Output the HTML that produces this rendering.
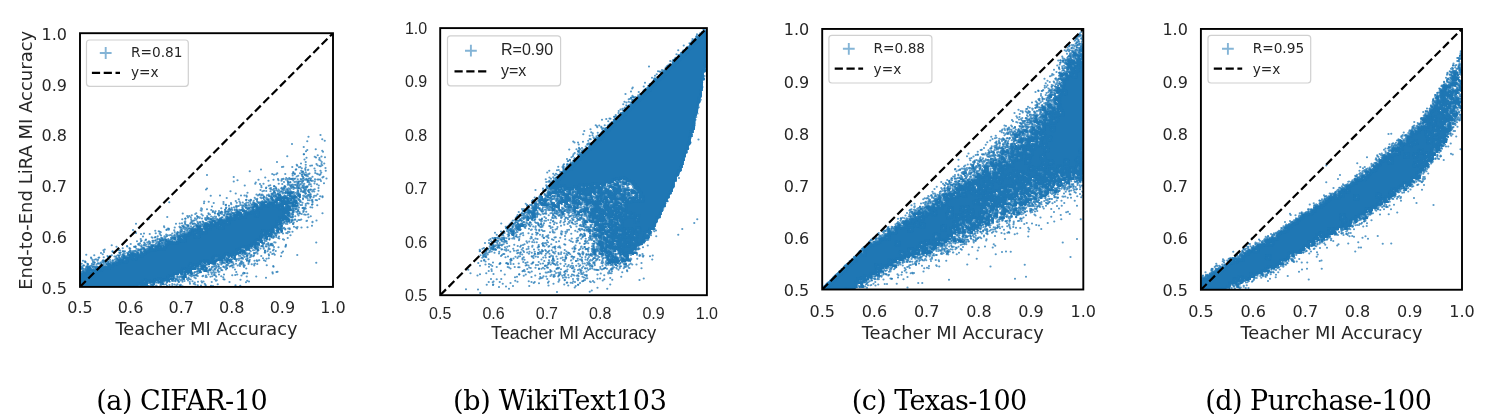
<!DOCTYPE html>
<html><head><meta charset="utf-8"><title>Teacher vs End-to-End MI Accuracy</title>
<style>html,body{margin:0;padding:0;background:#fff;width:1502px;height:414px;overflow:hidden}svg{display:block}</style>
</head><body>
<svg width="1502" height="414" viewBox="0 0 1502 414">
<rect width="1502" height="414" fill="#fff"/>
<clipPath id="clipa"><rect x="80" y="33.2" width="253" height="253.7"/></clipPath>
<g clip-path="url(#clipa)"><path d="M226.1 260.1L226.1 262.9L227.9 262.9L228.1 260.9L229.1 261.9L231.9 261.9L231.9 260.1L230.1 260.1L229.9 259.1L227.1 259.1ZM163.9 239.1L160.1 240.1L160.1 241.9L163.9 240.9ZM174.1 237.1L173.1 239.9L175.9 239.9L175.9 237.1ZM298.1 194.1L299.1 197.9L300.9 197.9L300.9 194.1ZM296.9 196.1L293.1 196.1L292.1 197.1L290.9 194.1L292.9 193.9L292.9 192.1L287.1 192.1L287.1 193.9L289.1 194.1L289.1 196.9L291.1 197.1L291.1 198.9L289.1 201.1L288.9 198.1L287.9 197.1L282.1 197.1L280.9 195.9L280.9 194.1L278.1 194.1L278.1 195.9L279.9 195.9L280.1 196.9L277.1 197.1L275.9 201.1L274.1 201.1L272.9 197.1L271.1 197.1L272.1 200.9L273.9 200.9L273.9 202.1L269.1 202.1L268.9 203.1L267.1 203.1L266.9 201.1L262.1 202.1L261.1 203.1L260.9 207.1L258.1 207.1L257.9 204.1L254.1 204.1L253.1 206.9L252.1 207.1L252.1 210.9L250.1 211.1L249.9 212.1L245.1 212.1L244.9 210.1L242.1 210.1L242.1 211.9L245.1 212.1L243.9 216.1L242.9 215.9L242.9 214.1L240.9 212.1L237.1 211.1L237.1 212.9L235.9 214.1L234.1 214.1L234.1 216.9L232.9 218.1L231.9 217.9L231.9 214.1L230.1 214.1L230.1 217.9L227.1 217.1L225.9 220.1L220.1 219.1L219.9 220.1L218.1 220.1L217.9 222.1L216.1 222.1L214.9 220.1L212.1 220.1L212.1 221.9L210.1 222.1L209.9 225.1L207.9 223.1L204.1 224.1L203.1 226.9L204.1 227.1L204.9 232.1L202.9 230.9L202.9 229.1L200.9 228.9L201.9 226.1L198.1 226.1L197.9 225.1L196.1 225.1L196.1 226.9L197.1 227.1L196.9 229.1L191.1 229.1L191.1 230.9L189.9 232.1L188.1 232.1L187.9 234.1L184.1 234.1L183.9 235.1L178.1 236.1L178.1 240.9L176.1 241.1L175.9 242.1L173.1 242.1L172.9 241.1L167.1 241.1L166.9 239.1L165.1 239.1L165.1 241.9L166.9 241.9L167.1 242.9L165.1 244.1L164.9 246.1L163.1 246.1L162.9 248.1L161.9 247.9L161.9 246.1L159.9 245.9L160.9 243.1L159.1 243.1L156.9 246.1L155.1 246.1L154.9 249.1L152.9 248.9L153.9 245.1L152.1 245.1L150.9 247.1L149.1 247.1L149.1 248.9L146.9 251.1L145.9 250.9L145.9 249.1L144.1 249.1L144.1 252.9L141.1 252.1L140.9 255.1L138.9 254.9L138.9 252.1L137.1 252.1L136.9 254.1L130.1 252.1L130.1 253.9L128.1 254.1L128.9 257.1L125.1 257.1L124.9 255.1L123.1 255.1L122.9 259.1L118.1 260.1L118.1 261.9L116.1 262.1L115.9 263.1L112.1 263.1L111.9 265.1L109.9 263.1L108.1 263.1L107.1 264.1L107.9 267.1L101.1 266.1L100.9 269.1L99.9 268.1L95.1 267.1L94.9 270.1L91.1 269.1L90.9 267.1L87.1 267.1L86.1 271.9L83.1 272.1L81.1 274.1L81.1 277.9L80.1 278.1L81.1 286.9L80.1 287.1L80.1 289.9L128.9 289.9L129.1 287.9L130.1 288.9L131.9 288.9L132.1 287.9L133.9 287.9L134.1 288.9L140.9 288.9L141.1 286.9L142.1 287.1L142.1 288.9L143.9 288.9L144.1 287.9L146.9 287.9L147.9 286.9L148.1 281.9L150.1 283.9L152.9 282.9L153.1 284.9L152.1 285.1L152.1 286.9L153.9 286.9L153.9 285.1L154.9 284.9L156.1 280.9L157.9 280.9L158.1 282.9L161.9 282.9L162.1 284.9L163.9 284.9L163.9 283.1L162.9 282.9L163.1 280.9L169.9 281.9L170.1 279.9L173.9 279.9L174.9 278.9L173.9 276.1L175.1 274.9L178.9 274.9L179.1 272.9L181.1 274.9L182.9 274.9L183.1 269.9L184.9 269.9L185.1 270.9L184.1 271.1L184.1 275.9L182.1 276.1L182.1 277.9L183.1 278.1L183.1 279.9L184.9 279.9L184.9 278.1L186.9 277.9L185.9 273.1L188.9 273.9L189.9 272.9L191.1 274.9L192.9 274.9L191.9 270.1L195.9 269.9L196.9 267.1L198.9 266.9L199.1 264.9L201.1 265.1L201.1 269.9L199.1 270.1L199.1 272.9L200.9 272.9L201.1 269.9L203.9 269.9L204.1 271.9L206.9 271.9L207.9 268.1L205.9 267.9L205.9 265.1L200.9 264.9L202.1 261.9L204.1 263.9L205.9 263.9L205.9 262.1L206.9 261.9L208.1 264.9L209.9 264.9L210.1 263.9L215.9 264.9L215.9 263.1L218.1 260.9L222.9 260.9L222.9 259.1L224.9 258.9L226.1 254.9L228.1 256.9L230.9 255.9L231.1 257.9L232.9 257.9L232.9 256.1L233.9 255.9L234.1 259.9L235.9 259.9L235.9 256.1L238.1 253.9L240.9 253.9L241.1 251.9L242.1 252.1L242.1 253.9L245.9 252.9L245.1 249.9L249.9 250.9L249.9 247.1L252.9 246.9L253.1 244.9L254.1 245.1L255.1 248.9L256.9 248.9L257.1 250.9L258.9 250.9L258.9 249.1L256.9 248.9L255.9 245.1L259.9 245.9L259.9 243.1L262.9 242.9L261.9 238.1L262.9 237.9L263.1 235.9L265.1 236.1L264.1 238.9L265.9 238.9L266.1 239.9L267.9 239.9L268.1 236.9L271.9 237.9L272.9 233.1L274.9 232.9L274.1 227.9L278.1 229.1L277.1 230.1L277.1 232.9L278.9 232.9L279.1 229.9L280.9 229.9L281.1 231.9L282.9 231.9L282.9 230.1L280.9 229.9L280.9 228.1L282.9 226.9L282.9 225.1L280.9 224.9L281.9 223.9L281.9 221.1L283.9 220.9L284.1 219.9L287.9 219.9L287.1 222.9L289.9 221.9L289.9 219.1L286.9 216.1L289.9 215.9L289.9 212.1L288.9 211.1L291.9 210.9L291.9 209.1L290.9 208.9L290.9 206.1L288.1 205.1L287.9 204.1L291.9 203.9L292.1 206.9L296.9 206.9L296.9 205.1L293.9 204.9L294.1 202.9L295.1 203.9L297.9 203.9L296.9 200.1L294.9 199.9L294.9 198.1L296.9 197.9ZM139.1 284.9L140.1 285.1L140.1 286.9L138.1 287.1L137.9 286.1ZM143.9 281.1L144.9 280.9L145.1 281.9L144.1 282.1ZM158.9 280.1L159.9 279.9L160.1 280.9L159.1 281.1ZM168.9 278.1L169.9 277.9L170.1 278.9L169.1 279.1ZM169.9 277.1L172.9 276.9L173.1 277.9L170.1 278.1ZM89.9 271.1L91.9 270.9L92.1 271.9L90.1 272.1ZM203.9 269.9L204.1 267.9L206.1 268.1L204.9 270.1ZM191.9 267.1L193.9 266.9L194.1 267.9L192.1 268.1ZM193.9 266.1L194.9 265.9L195.1 266.9L194.1 267.1ZM189.9 265.1L190.9 264.9L191.1 265.9L190.1 266.1ZM123.9 260.9L124.1 258.9L126.1 259.1L124.9 261.1ZM218.1 257.1L217.9 259.1L216.1 259.1L215.9 260.1L213.9 259.9L216.1 256.9ZM133.9 257.1L134.9 256.9L135.1 257.9L134.1 258.1ZM233.9 254.1L234.9 253.9L235.1 254.9L234.1 255.1ZM129.9 254.1L130.9 253.9L131.1 254.9L130.1 255.1ZM237.9 251.1L238.9 250.9L239.1 251.9L238.1 252.1ZM238.9 250.1L239.9 249.9L240.1 250.9L239.1 251.1ZM240.9 249.1L242.1 247.9L245.1 248.1L245.1 249.9L243.1 250.1L242.9 251.1ZM158.9 247.1L159.9 246.9L160.1 247.9L159.1 248.1ZM255.9 241.1L259.9 240.9L260.1 242.9L258.1 243.1ZM182.9 239.1L183.9 238.9L184.1 239.9L183.1 240.1ZM180.9 237.1L182.9 236.9L183.1 238.9L182.1 239.1ZM266.9 235.1L267.9 234.9L268.1 235.9L267.1 236.1ZM197.1 233.9L198.1 234.1L198.1 235.9L196.1 236.1L195.9 235.1ZM268.9 232.1L269.9 231.9L270.1 232.9L269.1 233.1ZM263.1 231.9L264.1 232.1L263.9 234.1L262.9 233.9ZM193.9 232.1L195.9 231.9L196.1 232.9L194.1 233.1ZM207.9 227.1L208.9 226.9L209.1 227.9L208.1 228.1ZM220.9 226.1L221.9 225.9L222.1 226.9L221.1 227.1ZM280.9 224.9L280.1 227.9L279.1 228.1L277.9 226.1L279.1 224.9ZM218.9 225.1L219.9 224.9L220.1 225.9L219.1 226.1ZM277.9 223.1L278.9 222.9L279.1 223.9L278.1 224.1ZM226.9 222.1L227.9 221.9L228.1 222.9L227.1 223.1ZM212.9 222.1L213.9 221.9L215.1 223.9L213.1 224.1ZM280.9 219.1L281.9 218.9L282.1 219.9L281.1 220.1ZM237.9 216.1L238.9 215.9L239.1 216.9L238.1 217.1ZM284.9 214.1L286.9 213.9L287.1 215.9L285.1 216.1ZM255.9 214.1L256.9 213.9L257.1 214.9L256.1 215.1ZM279.9 207.1L280.9 206.9L281.1 207.9L280.1 208.1ZM255.9 206.9L256.1 209.9L254.1 211.1L253.9 208.1ZM283.9 205.1L286.9 204.9L287.1 206.9L285.9 208.1L284.1 208.1ZM264.9 203.1L266.9 202.9L267.1 204.9L266.1 205.1ZM281.1 202.1L279.9 204.1L274.9 204.9L274.9 203.1L276.9 202.9L278.1 200.9L279.9 200.9ZM294.1 200.1L292.9 202.1L289.9 201.9L290.1 200.9L291.9 200.9L292.1 198.9ZM284.9 199.1L286.9 198.9L287.1 200.9L285.1 201.1ZM281.9 199.1L282.9 198.9L283.1 199.9L282.1 200.1Z" fill="#1f77b4"/><path transform="scale(0.25)" d="M1282 540h0m17 23h0m-131 13h0m47 12h0m74 15h0m3 4h0m-21 14h0m-122 4h0m137 1h0m-27 1h0m41 2h0m-22 3h0m9 16h0m-64 11h0m25 3h0m-59 1h0m-20 5h0m32 0h0m-5 1h0m106 3h0m-44 2h0m-73 3h0m-186 8h0m213 1h0m0 2h0m-4 2h0m-35 2h0m88 0h0m-46 1h0m23 1h0m-149 2h0m90 1h0m28 2h0m11 0h0m-47 3h0m52 0h0m-30 1h0m101 4h0m-233 3h0m84 2h0m70 0h0m23 1h0m-57 1h0m-17 1h0m39 1h0m-76 1h0m1 0h0m2 0h0m13 1h0m127 0h0m11 0h0m-187 1h0m148 1h0m-128 1h0m128 0h0m-69 1h0m59 0h0m-158 1h0m76 0h0m101 0h0m-4 1h0m37 0h0m-72 1h0m-16 1h0m-35 2h0m69 0h0m7 2h0m59 3h0m-256 3h0m89 0h0m75 0h0m39 1h0m-72 1h0m-14 1h0m22 0h0m-200 3h0m181 0h0m2 0h0m-117 1h0m30 0h0m92 0h0m43 0h0m-38 1h0m26 0h0m-102 1h0m68 0h0m7 0h0m-4 2h0m45 0h0m8 0h0m-78 1h0m87 0h0m-183 1h0m130 0h0m17 0h0m-128 1h0m62 1h0m93 0h0m-136 1h0m52 1h0m79 0h0m-387 1h0m277 0h0m85 1h0m-60 2h0m89 0h0m-395 1h0m267 1h0m152 0h0m10 0h0m-92 1h0m30 1h0m43 0h0m-136 1h0m52 1h0m-53 1h0m46 0h0m108 0h0m-32 1h0m14 0h0m-108 1h0m124 0h0m8 0h0m-91 1h0m-46 1h0m31 0h0m24 0h0m14 0h0m24 0h0m-95 1h0m12 0h0m27 0h0m-62 1h0m5 0h0m56 0h0m13 0h0m-14 1h0m29 0h0m-40 1h0m78 0h0m-133 2h0m97 1h0m7 0h0m-145 3h0m62 0h0m90 0h0m39 0h0m-133 2h0m-54 1h0m46 0h0m16 0h0m24 0h0m33 0h0m69 0h0m-360 1h0m98 0h0m98 1h0m121 0h0m16 0h0m3 0h0m-139 1h0m-22 1h0m116 0h0m73 0h0m-160 1h0m9 0h0m124 0h0m22 0h0m-134 1h0m39 0h0m76 0h0m-87 2h0m121 0h0m-30 1h0m-106 1h0m25 0h0m-88 1h0m80 0h0m106 0h0m-195 1h0m-17 2h0m75 0h0m29 0h0m11 0h0m16 0h0m33 0h0m-91 1h0m-147 1h0m113 1h0m20 0h0m27 0h0m68 0h0m15 0h0m-195 1h0m109 0h0m-128 1h0m90 0h0m51 0h0m-21 1h0m2 0h0m76 0h0m86 0h0m-272 1h0m252 0h0m-247 1h0m74 0h0m55 1h0m24 0h0m-95 1h0m81 0h0m110 0h0m-433 1h0m141 0h0m112 0h0m10 0h0m82 0h0m12 0h0m-173 1h0m46 0h0m2 0h0m78 0h0m19 0h0m6 0h0m10 0h0m13 0h0m-281 1h0m172 0h0m19 0h0m76 0h0m6 0h0m-101 1h0m10 0h0m2 0h0m-107 1h0m64 0h0m127 1h0m-307 1h0m160 0h0m26 0h0m11 0h0m134 0h0m-171 1h0m60 0h0m18 0h0m2 0h0m-82 1h0m41 0h0m86 0h0m4 0h0m90 0h0m-251 1h0m30 0h0m32 0h0m37 0h0m12 0h0m12 0h0m-128 1h0m42 0h0m29 0h0m2 0h0m2 0h0m37 0h0m34 0h0m2 0h0m-201 1h0m182 0h0m15 0h0m22 0h0m-104 1h0m19 0h0m65 0h0m46 0h0m-156 1h0m44 0h0m8 0h0m30 0h0m83 0h0m3 0h0m-221 1h0m22 0h0m24 0h0m66 0h0m29 0h0m9 0h0m6 0h0m32 0h0m-246 1h0m65 0h0m126 0h0m34 0h0m41 0h0m100 0h0m-298 1h0m49 0h0m48 0h0m-152 1h0m127 0h0m57 0h0m23 0h0m1 0h0m22 0h0m4 0h0m36 0h0m5 0h0m-83 1h0m21 0h0m2 0h0m13 0h0m-194 1h0m124 0h0m1 0h0m37 0h0m21 0h0m14 0h0m-41 1h0m84 0h0m-130 1h0m10 0h0m22 0h0m17 0h0m43 0h0m2 0h0m-145 1h0m90 0h0m-94 1h0m22 0h0m17 0h0m-16 1h0m3 0h0m99 0h0m8 0h0m4 0h0m-215 1h0m223 0h0m63 0h0m6 0h0m-222 1h0m40 0h0m92 0h0m5 0h0m76 0h0m-293 1h0m54 0h0m152 0h0m13 0h0m19 0h0m4 0h0m-188 1h0m55 0h0m21 0h0m116 0h0m-236 1h0m63 0h0m135 0h0m5 0h0m20 0h0m11 0h0m-43 1h0m0 0h0m65 0h0m-355 1h0m199 0h0m121 0h0m5 0h0m-252 1h0m230 0h0m21 0h0m-195 1h0m60 0h0m-50 1h0m-28 1h0m6 0h0m18 0h0m8 0h0m54 0h0m148 0h0m-151 1h0m4 0h0m1 0h0m133 0h0m-176 2h0m29 0h0m161 0h0m18 0h0m-180 1h0m138 0h0m-198 1h0m53 0h0m-100 1h0m7 0h0m13 0h0m58 0h0m-37 1h0m3 0h0m29 0h0m32 0h0m25 0h0m0 0h0m114 0h0m1 0h0m48 0h0m-206 1h0m25 0h0m17 0h0m105 0h0m-257 1h0m83 0h0m36 0h0m-125 1h0m71 0h0m64 0h0m1 0h0m0 0h0m17 0h0m-65 1h0m42 0h0m29 0h0m134 0h0m-288 1h0m20 0h0m29 0h0m51 0h0m2 0h0m168 0h0m19 0h0m1 0h0m27 0h0m92 0h0m-335 1h0m4 0h0m17 0h0m53 0h0m-158 1h0m105 0h0m7 0h0m23 0h0m-20 1h0m9 0h0m38 0h0m120 0h0m38 0h0m-385 1h0m29 0h0m72 0h0m30 0h0m214 0h0m-311 1h0m115 0h0m1 0h0m4 0h0m66 0h0m-72 1h0m3 0h0m63 0h0m1 0h0m2 0h0m4 0h0m4 0h0m-99 1h0m3 0h0m30 0h0m70 0h0m-76 1h0m15 0h0m54 0h0m4 0h0m2 0h0m-223 1h0m129 0h0m38 1h0m46 0h0m1 0h0m2 0h0m111 0h0m3 0h0m-353 1h0m240 0h0m4 0h0m123 0h0m-123 1h0m107 0h0m-201 1h0m16 0h0m3 0h0m66 0h0m-116 1h0m15 0h0m18 0h0m18 0h0m214 0h0m-503 1h0m279 0h0m81 0h0m-266 1h0m31 0h0m5 0h0m30 0h0m61 0h0m52 0h0m9 0h0m4 0h0m1 0h0m26 0h0m135 0h0m-230 1h0m27 0h0m16 0h0m39 0h0m195 0h0m-207 1h0m26 0h0m140 0h0m-324 1h0m22 0h0m12 0h0m85 0h0m39 0h0m6 0h0m6 0h0m-189 1h0m9 0h0m167 0h0m190 0h0m-261 1h0m26 0h0m9 0h0m14 0h0m200 0h0m-231 1h0m21 0h0m36 0h0m156 0h0m16 0h0m-300 1h0m17 0h0m58 0h0m-312 1h0m170 0h0m130 0h0m2 0h0m17 0h0m24 0h0m179 0h0m-239 1h0m9 0h0m33 0h0m197 0h0m64 0h0m-342 1h0m2 0h0m77 0h0m7 0h0m1 0h0m2 0h0m192 0h0m-296 1h0m28 0h0m19 0h0m20 0h0m13 0h0m-79 1h0m24 0h0m41 0h0m28 1h0m2 0h0m200 0h0m48 0h0m2 0h0m-404 1h0m89 0h0m301 0h0m-271 1h0m14 0h0m14 0h0m-55 1h0m14 0h0m7 0h0m227 0h0m-241 1h0m13 0h0m33 0h0m202 0h0m34 0h0m19 0h0m-318 1h0m19 0h0m383 0h0m-449 1h0m38 0h0m75 0h0m223 0h0m9 0h0m104 1h0m-347 1h0m216 0h0m-278 1h0m-17 1h0m61 0h0m2 0h0m31 0h0m-79 1h0m9 0h0m13 0h0m24 0h0m2 0h0m-110 1h0m-16 1h0m72 0h0m36 0h0m11 0h0m2 0h0m29 0h0m2 0h0m196 0h0m6 0h0m-334 1h0m134 0h0m3 0h0m231 0h0m-312 1h0m3 0h0m18 0h0m27 0h0m22 0h0m-165 1h0m68 0h0m11 0h0m16 0h0m19 0h0m49 0h0m7 0h0m1 0h0m-129 1h0m123 0h0m-124 1h0m8 0h0m68 0h0m41 0h0m-105 1h0m6 0h0m60 0h0m15 0h0m250 0h0m-344 1h0m95 0h0m11 0h0m6 0h0m-143 1h0m70 0h0m30 0h0m16 0h0m5 0h0m3 0h0m373 0h0m-452 1h0m5 0h0m-47 1h0m22 0h0m40 0h0m6 0h0m48 0h0m5 0h0m230 0h0m-281 1h0m290 0h0m-328 1h0m54 0h0m280 0h0m-386 1h0m5 0h0m106 0h0m28 1h0m17 0h0m211 0h0m-313 1h0m92 0h0m4 0h0m1 0h0m7 0h0m-171 1h0m164 0h0m9 0h0m-123 1h0m15 0h0m38 0h0m45 0h0m15 0h0m0 0h0m244 0h0m-371 1h0m26 0h0m55 0h0m0 0h0m43 0h0m-209 1h0m217 0h0m-96 1h0m1 0h0m90 0h0m5 0h0m6 0h0m235 0h0m-313 1h0m8 0h0m-18 1h0m285 0h0m3 0h0m64 0h0m-492 1h0m443 0h0m31 0h0m-466 1h0m66 0h0m10 0h0m12 0h0m10 0h0m68 0h0m213 1h0m-357 1h0m51 0h0m23 0h0m25 0h0m6 0h0m1 0h0m247 0h0m22 0h0m3 0h0m31 0h0m-315 1h0m33 0h0m227 0h0m-287 1h0m0 1h0m5 0h0m322 0h0m6 0h0m-289 1h0m245 0h0m-269 1h0m7 0h0m22 0h0m246 0h0m-337 1h0m17 0h0m73 0h0m3 0h0m8 0h0m2 0h0m-126 1h0m364 0h0m0 0h0m45 0h0m18 0h0m32 0h0m-447 1h0m53 0h0m4 0h0m16 0h0m277 1h0m-293 1h0m10 0h0m16 0h0m14 0h0m2 0h0m251 0h0m25 0h0m-326 1h0m45 0h0m7 0h0m16 0h0m255 0h0m-460 1h0m144 0h0m9 0h0m14 0h0m314 0h0m-415 1h0m80 0h0m40 0h0m2 0h0m247 0h0m-306 1h0m9 0h0m1 0h0m18 0h0m266 0h0m6 0h0m10 0h0m37 0h0m-500 1h0m134 0h0m16 0h0m18 0h0m-20 1h0m1 0h0m326 0h0m-375 1h0m9 0h0m14 0h0m14 0h0m3 0h0m34 0h0m-49 1h0m67 0h0m6 0h0m252 0h0m-366 1h0m48 0h0m39 0h0m22 0h0m6 0h0m1 0h0m1 0h0m284 0h0m-413 1h0m8 0h0m61 0h0m422 0h0m-448 1h0m1 0h0m12 0h0m22 0h0m7 0h0m-55 1h0m28 0h0m14 0h0m9 0h0m8 0h0m26 0h0m13 0h0m283 0h0m22 0h0m-435 1h0m19 0h0m23 0h0m70 0h0m1 0h0m4 0h0m310 0h0m-438 1h0m48 0h0m78 0h0m11 0h0m283 0h0m-506 1h0m141 0h0m2 0h0m26 0h0m50 0h0m265 0h0m12 0h0m48 0h0m-458 1h0m53 0h0m88 0h0m253 0h0m-321 1h0m365 0h0m9 0h0m-329 1h0m0 0h0m277 0h0m-361 1h0m3 0h0m44 0h0m325 0h0m24 0h0m-356 1h0m60 0h0m248 0h0m-330 1h0m71 0h0m8 0h0m5 0h0m273 0h0m-422 1h0m6 0h0m43 0h0m0 0h0m358 0h0m-364 1h0m21 0h0m3 0h0m23 0h0m8 0h0m-21 1h0m17 0h0m340 0h0m-430 1h0m88 0h0m-37 1h0m22 0h0m356 0h0m-494 1h0m149 0h0m8 0h0m289 0h0m-391 1h0m77 0h0m12 0h0m7 0h0m3 0h0m320 0h0m-355 2h0m28 0h0m3 0h0m309 0h0m-372 1h0m48 0h0m17 0h0m-69 1h0m3 0h0m50 0h0m-14 1h0m34 0h0m-176 1h0m32 0h0m106 0h0m1 0h0m324 0h0m-329 1h0m4 0h0m2 0h0m23 0h0m295 0h0m-342 1h0m1 0h0m20 0h0m26 0h0m3 0h0m5 0h0m-96 1h0m31 0h0m59 0h0m-118 1h0m3 0h0m34 0h0m29 0h0m31 0h0m6 0h0m-27 1h0m2 0h0m19 0h0m322 0h0m235 0h0m-629 1h0m42 0h0m32 0h0m347 0h0m-405 1h0m10 0h0m8 0h0m22 0h0m11 0h0m319 0h0m-374 1h0m56 0h0m349 0h0m-474 1h0m95 0h0m19 0h0m14 0h0m-153 1h0m46 0h0m34 0h0m77 0h0m-81 1h0m421 0h0m-419 1h0m373 0h0m-421 1h0m19 0h0m412 0h0m69 0h0m-507 1h0m438 0h0m20 0h0m-363 1h0m-225 1h0m111 0h0m68 0h0m20 0h0m351 0h0m25 0h0m-394 1h0m25 0h0m436 0h0m-483 1h0m60 0h0m340 0h0m137 0h0m-530 1h0m24 0h0m-13 1h0m360 0h0m79 0h0m-554 1h0m79 0h0m7 0h0m44 0h0m28 0h0m311 0h0m27 0h0m13 0h0m-482 1h0m62 0h0m59 0h0m312 0h0m-426 1h0m473 0h0m2 0h0m-364 1h0m1 0h0m13 0h0m360 0h0m-455 1h0m69 0h0m-47 1h0m56 0h0m0 0h0m6 0h0m3 0h0m2 0h0m297 0h0m-441 1h0m82 0h0m23 0h0m31 0h0m330 0h0m24 0h0m67 0h0m-475 1h0m5 0h0m21 0h0m6 0h0m2 0h0m5 0h0m17 0h0m339 0h0m4 0h0m8 0h0m12 0h0m13 0h0m-514 1h0m59 0h0m14 0h0m47 0h0m13 0h0m391 0h0m-496 1h0m43 0h0m13 0h0m16 0h0m-10 1h0m1 0h0m-56 1h0m45 0h0m-179 1h0m148 0h0m45 0h0m378 0h0m105 0h0m-538 1h0m7 0h0m61 0h0m33 0h0m303 0h0m-355 1h0m13 0h0m10 0h0m17 0h0m-50 1h0m-115 1h0m71 0h0m33 0h0m3 0h0m11 0h0m16 0h0m6 0h0m1 0h0m1 0h0m346 0h0m-418 1h0m2 0h0m31 0h0m12 0h0m360 0h0m6 0h0m6 0h0m-429 1h0m71 0h0m450 0h0m-610 1h0m50 0h0m87 1h0m1 0h0m544 0h0m-616 1h0m64 0h0m4 0h0m13 0h0m348 0h0m-408 1h0m9 0h0m425 0h0m3 0h0m-453 1h0m0 0h0m41 0h0m17 0h0m7 0h0m343 0h0m1 0h0m27 0h0m12 0h0m113 0h0m-516 1h0m1 0h0m3 0h0m379 0h0m4 0h0m71 0h0m-547 1h0m39 0h0m32 0h0m36 0h0m2 0h0m371 0h0m-390 1h0m373 0h0m76 0h0m-522 1h0m5 0h0m36 0h0m28 0h0m18 0h0m329 0h0m78 0h0m10 0h0m21 0h0m-487 1h0m12 0h0m5 0h0m14 0h0m341 0h0m-366 1h0m11 0h0m391 0h0m31 0h0m-460 1h0m19 0h0m19 0h0m431 0h0m-569 1h0m159 0h0m327 0h0m28 0h0m150 0h0m-554 1h0m433 0h0m-472 1h0m75 0h0m3 0h0m-62 1h0m36 0h0m322 0h0m50 0h0m66 0h0m-525 1h0m115 0h0m9 0h0m431 0h0m-526 1h0m42 0h0m5 0h0m19 0h0m10 0h0m323 0h0m1 0h0m4 0h0m109 0h0m-496 1h0m17 0h0m5 0h0m342 0h0m9 0h0m28 0h0m16 0h0m1 0h0m12 0h0m33 0h0m18 0h0m-433 1h0m6 0h0m5 0h0m350 0h0m15 0h0m-415 1h0m48 0h0m20 0h0m283 0h0m24 0h0m247 0h0m-666 1h0m29 0h0m2 0h0m30 0h0m9 0h0m33 0h0m11 0h0m433 0h0m-480 1h0m348 0h0m-440 1h0m63 0h0m22 0h0m-103 1h0m128 1h0m1 0h0m306 0h0m64 0h0m-435 1h0m17 0h0m24 0h0m8 0h0m5 0h0m11 0h0m323 0h0m27 0h0m-26 1h0m-366 1h0m19 0h0m375 0h0m1 0h0m39 0h0m36 0h0m80 0h0m23 0h0m-575 1h0m18 0h0m24 0h0m330 0h0m26 0h0m15 0h0m-444 1h0m64 0h0m439 0h0m94 0h0m-555 1h0m395 0h0m84 0h0m-459 1h0m1 0h0m12 0h0m1 0h0m439 0h0m-451 1h0m319 0h0m47 0h0m-426 1h0m4 0h0m11 0h0m15 0h0m27 0h0m0 0h0m3 0h0m6 0h0m1 0h0m385 0h0m74 0h0m-629 1h0m107 0h0m8 0h0m47 0h0m7 0h0m348 0h0m-436 1h0m14 0h0m412 0h0m150 0h0m-574 1h0m381 0h0m55 0h0m-387 1h0m348 0h0m2 0h0m144 0h0m-571 1h0m60 0h0m318 0h0m46 0h0m-440 1h0m63 0h0m5 0h0m24 0h0m4 0h0m5 0h0m307 0h0m-314 1h0m308 0h0m45 0h0m112 0h0m-555 1h0m58 0h0m33 0h0m1 0h0m425 0h0m-588 1h0m91 0h0m29 0h0m372 0h0m22 0h0m64 0h0m-441 1h0m16 0h0m6 0h0m358 0h0m30 0h0m20 0h0m-531 1h0m69 0h0m48 0h0m340 0h0m85 0h0m4 0h0m-466 1h0m13 0h0m372 0h0m121 0h0m-558 1h0m18 0h0m36 0h0m0 0h0m19 0h0m23 0h0m258 0h0m45 0h0m29 0h0m58 0h0m-445 1h0m373 0h0m10 0h0m17 0h0m8 0h0m7 0h0m54 0h0m-523 1h0m49 0h0m23 0h0m344 0h0m45 0h0m34 0h0m-126 1h0m182 0h0m-593 1h0m65 0h0m34 0h0m29 0h0m1 0h0m-94 1h0m41 0h0m28 0h0m310 0h0m-305 1h0m8 0h0m297 0h0m13 0h0m3 0h0m126 0h0m-154 1h0m37 0h0m25 0h0m8 0h0m-382 1h0m312 0h0m12 0h0m40 0h0m0 0h0m-371 1h0m1 0h0m381 0h0m-412 1h0m47 0h0m308 0h0m24 0h0m4 0h0m142 0h0m50 0h0m-539 1h0m312 0h0m5 0h0m-408 1h0m14 0h0m83 0h0m312 0h0m44 0h0m-456 1h0m70 0h0m341 0h0m57 0h0m59 0h0m-422 1h0m356 0h0m29 0h0m-514 1h0m49 0h0m19 0h0m9 0h0m12 0h0m2 0h0m2 0h0m24 0h0m410 0h0m245 0h0m-737 1h0m71 0h0m23 0h0m1 0h0m332 0h0m21 0h0m89 0h0m-489 1h0m16 0h0m2 0h0m336 0h0m47 0h0m60 0h0m68 0h0m-614 1h0m27 0h0m41 0h0m383 0h0m6 0h0m154 0h0m-514 1h0m8 0h0m399 0h0m4 0h0m-484 1h0m6 0h0m85 0h0m321 0h0m36 0h0m10 0h0m-391 1h0m11 0h0m18 0h0m328 0h0m140 0h0m-506 1h0m3 0h0m325 0h0m38 0h0m35 0h0m182 0h0m-628 1h0m36 0h0m11 0h0m15 0h0m323 0h0m68 0h0m-463 1h0m87 0h0m-108 1h0m38 0h0m374 0h0m82 0h0m19 0h0m-497 1h0m11 0h0m2 0h0m34 0h0m420 0h0m32 0h0m99 0h0m-592 1h0m25 0h0m359 0h0m128 0h0m-485 1h0m19 0h0m17 0h0m334 0h0m68 0h0m5 0h0m23 0h0m-454 1h0m350 0h0m85 0h0m67 0h0m-502 1h0m18 0h0m426 0h0m-446 1h0m9 0h0m6 0h0m7 0h0m328 0h0m13 0h0m84 0h0m39 0h0m-526 1h0m35 0h0m435 0h0m-478 1h0m47 0h0m365 0h0m40 0h0m-460 1h0m381 0h0m25 0h0m24 0h0m72 0h0m-458 1h0m10 0h0m727 0h0m-401 1h0m8 0h0m-349 1h0m365 0h0m27 0h0m330 0h0m-752 1h0m37 0h0m458 0h0m-483 2h0m9 0h0m13 0h0m325 1h0m73 0h0m219 0h0m-667 1h0m10 0h0m25 0h0m6 0h0m388 0h0m3 0h0m11 0h0m-431 1h0m36 0h0m-38 1h0m357 0h0m7 0h0m13 0h0m18 0h0m37 0h0m-441 1h0m384 0h0m-378 1h0m7 0h0m401 0h0m3 0h0m156 0h0m-563 1h0m407 0h0m-413 1h0m7 0h0m353 0h0m99 0h0m-462 1h0m360 0h0m245 0h0m-151 1h0m188 0h0m-293 1h0m67 0h0m-416 1h0m2 0h0m484 1h0m75 0h0m102 1h0m-660 1h0m409 0h0m-410 1h0m4 0h0m379 0h0m16 0h0m19 0h0m-423 1h0m8 0h0m2 0h0m386 1h0m-397 2h0m10 0h0m0 0h0m307 1h0m96 0h0m-413 1h0m1 0h0m11 0h0m422 0h0m-434 1h0m9 0h0m317 0h0m56 0h0m-376 1h0m6 0h0m334 0h0m8 0h0m-55 1h0m37 0h0m17 0h0m186 0h0m-532 1h0m290 0h0m2 0h0m45 0h0m99 0h0m135 0h0m-577 1h0m1 0h0m261 0h0m-262 1h0m3 0h0m-4 1h0m6 0h0m385 0h0m156 0h0m-546 1h0m248 0h0m153 0h0m30 0h0m-431 1h0m280 0h0m99 0h0m164 0h0m-534 1h0m304 0h0m104 0h0m-414 1h0m2 0h0m260 0h0m184 0h0m-446 1h0m4 0h0m1 0h0m1 0h0m265 0h0m8 0h0m50 0h0m-328 1h0m5 0h0m2 0h0m268 0h0m18 0h0m61 0h0m35 0h0m78 0h0m-183 1h0m60 0h0m-341 1h0m243 0h0m413 0h0m-661 1h0m303 0h0m-299 1h0m3 0h0m1 0h0m246 0h0m9 0h0m55 0h0m-312 1h0m1 0h0m232 0h0m53 0h0m34 0h0m-323 1h0m322 0h0m-327 1h0m2 0h0m1 0h0m0 0h0m4 0h0m0 0h0m1 0h0m2 0h0m-9 1h0m3 0h0m1 0h0m3 0h0m3 0h0m283 0h0m160 0h0m-449 1h0m5 0h0m244 0h0m10 0h0m69 0h0m-324 1h0m2 0h0m332 0h0m-8 1h0m125 0h0m-457 1h0m3 0h0m240 0h0m-240 1h0m4 0h0m219 0h0m36 0h0m92 0h0m-358 1h0m1 0h0m1 0h0m4 0h0m1 0h0m1 0h0m0 0h0m0 0h0m3 0h0m242 0h0m2 0h0m367 0h0m-618 1h0m260 0h0m-262 1h0m8 0h0m514 0h0m-517 1h0m264 0h0m98 0h0m163 0h0m-531 1h0m2 0h0m9 0h0m226 0h0m24 0h0m38 0h0m-299 1h0m8 0h0m3 0h0m268 0h0m-279 1h0m3 0h0m7 0h0m202 0h0m62 0h0m-275 1h0m8 0h0m0 0h0m240 0h0m14 0h0m110 0h0m-370 1h0m5 0h0m195 0h0m-197 1h0m1 0h0m6 0h0m-12 1h0m3 0h0m4 1h0m2 0h0m1 0h0m273 0h0m-283 1h0m10 0h0m185 0h0m37 0h0m-232 1h0m1 0h0m4 0h0m-3 1h0m4 0h0m4 0h0m0 0h0m243 0h0" fill="none" stroke="#1f77b4" stroke-opacity="0.75" stroke-width="8.8" stroke-linecap="round"/><path transform="scale(0.25)" d="M1229 565h0m34 32h0m-34 3h0m-14 17h0m49 13h0m13 9h0m5 3h0m-174 6h0m158 8h0m4 5h0m13 4h0m-60 4h0m-2 6h0m-177 3h0m161 5h0m56 0h0m21 0h0m21 0h0m-130 5h0m6 6h0m-9 1h0m98 0h0m-127 1h0m86 1h0m45 0h0m-63 1h0m-381 2h0m451 0h0m-70 5h0m-22 1h0m63 1h0m40 3h0m-133 2h0m15 2h0m40 0h0m94 0h0m-172 1h0m43 1h0m-12 1h0m26 0h0m84 1h0m-55 1h0m6 0h0m-25 6h0m-48 4h0m-130 1h0m138 0h0m33 1h0m15 0h0m-57 1h0m2 0h0m37 1h0m67 1h0m-237 1h0m33 0h0m61 0h0m102 0h0m-28 1h0m25 1h0m23 0h0m31 0h0m-102 2h0m70 0h0m-22 2h0m-25 1h0m26 0h0m-28 1h0m-90 1h0m42 0h0m87 2h0m-40 5h0m-23 1h0m4 0h0m16 0h0m12 1h0m2 0h0m3 0h0m-121 1h0m46 0h0m-29 1h0m42 0h0m-7 1h0m5 1h0m10 0h0m2 0h0m76 0h0m-140 1h0m53 1h0m82 0h0m-114 1h0m-49 3h0m158 0h0m9 0h0m-158 1h0m-143 1h0m128 0h0m32 0h0m15 1h0m107 0h0m8 1h0m-19 1h0m-33 1h0m78 0h0m-95 1h0m14 0h0m61 0h0m-228 1h0m145 1h0m16 1h0m-39 1h0m18 0h0m-44 1h0m16 0h0m140 1h0m-83 1h0m31 0h0m-164 1h0m217 0h0m-206 1h0m49 0h0m73 0h0m-57 1h0m-9 1h0m63 0h0m3 0h0m33 0h0m-228 1h0m68 0h0m13 0h0m104 0h0m31 0h0m53 0h0m-390 1h0m280 0h0m-29 1h0m-17 1h0m213 0h0m-187 1h0m16 0h0m16 0h0m4 0h0m24 0h0m5 0h0m29 0h0m-210 1h0m179 0h0m-109 1h0m56 0h0m60 0h0m69 0h0m-125 1h0m32 0h0m-39 1h0m3 0h0m10 0h0m1 0h0m9 0h0m5 0h0m6 0h0m-24 1h0m16 0h0m-52 1h0m-2 2h0m38 0h0m-13 1h0m1 0h0m51 0h0m0 0h0m-55 2h0m108 0h0m-138 1h0m123 0h0m-211 1h0m42 0h0m45 0h0m-69 1h0m81 0h0m62 0h0m6 0h0m40 0h0m70 0h0m-154 1h0m42 0h0m81 0h0m7 0h0m-178 1h0m68 0h0m4 0h0m42 0h0m-112 1h0m22 0h0m85 0h0m1 0h0m-228 1h0m146 0h0m8 0h0m42 0h0m45 0h0m18 0h0m-59 1h0m-66 1h0m25 0h0m22 0h0m21 0h0m10 0h0m-124 2h0m117 0h0m-108 1h0m54 0h0m31 0h0m12 0h0m34 0h0m79 0h0m-220 1h0m28 0h0m52 0h0m10 0h0m62 0h0m-235 1h0m46 0h0m102 0h0m28 0h0m4 0h0m83 0h0m-286 1h0m158 0h0m44 0h0m41 0h0m-147 1h0m56 0h0m61 0h0m9 0h0m7 0h0m-68 1h0m22 0h0m1 0h0m27 0h0m-112 1h0m20 0h0m6 0h0m57 0h0m15 0h0m17 0h0m24 0h0m-268 1h0m130 0h0m28 0h0m58 0h0m20 0h0m50 0h0m43 0h0m-173 1h0m55 0h0m11 0h0m-75 1h0m6 0h0m77 0h0m31 0h0m-251 1h0m201 0h0m10 0h0m2 0h0m55 0h0m8 0h0m68 0h0m-224 1h0m69 0h0m3 0h0m32 0h0m34 0h0m-179 1h0m41 0h0m40 0h0m86 0h0m18 0h0m8 0h0m13 0h0m-127 1h0m2 0h0m50 0h0m9 0h0m2 0h0m42 0h0m-222 1h0m29 0h0m88 0h0m84 0h0m7 0h0m6 0h0m-137 1h0m77 0h0m11 0h0m38 0h0m-300 2h0m96 0h0m69 0h0m29 0h0m86 0h0m20 0h0m22 0h0m-142 1h0m21 0h0m11 0h0m48 0h0m-172 2h0m100 0h0m206 0h0m-258 1h0m128 0h0m29 0h0m55 0h0m-80 1h0m4 0h0m-136 1h0m60 0h0m101 0h0m27 0h0m40 0h0m-407 1h0m99 0h0m81 0h0m49 0h0m10 0h0m0 0h0m98 0h0m10 1h0m4 0h0m65 0h0m2 0h0m-229 1h0m1 0h0m39 0h0m87 0h0m6 0h0m3 0h0m-322 1h0m109 0h0m73 0h0m126 0h0m-197 1h0m20 0h0m56 0h0m165 0h0m10 1h0m12 0h0m-259 1h0m201 0h0m1 0h0m20 0h0m-300 1h0m55 0h0m118 0h0m101 0h0m32 0h0m-203 1h0m14 0h0m190 0h0m22 0h0m-197 1h0m237 0h0m-243 1h0m13 0h0m22 0h0m17 0h0m3 0h0m167 0h0m-317 1h0m84 0h0m53 0h0m202 0h0m-312 1h0m87 0h0m5 0h0m13 0h0m-100 1h0m100 0h0m8 0h0m-129 1h0m66 0h0m69 0h0m163 0h0m40 0h0m-374 1h0m135 0h0m4 0h0m13 0h0m4 0h0m21 0h0m-83 1h0m52 0h0m14 0h0m15 0h0m129 0h0m17 0h0m17 0h0m-330 1h0m25 0h0m5 0h0m54 0h0m34 0h0m14 0h0m3 0h0m141 0h0m-196 1h0m15 0h0m49 0h0m0 0h0m-72 1h0m-49 1h0m45 0h0m75 0h0m29 0h0m1 0h0m117 0h0m-229 1h0m27 0h0m15 0h0m33 0h0m8 0h0m2 0h0m195 0h0m-263 1h0m5 0h0m-54 1h0m23 1h0m6 0h0m38 0h0m4 0h0m26 0h0m248 0h0m-291 1h0m91 0h0m199 0h0m-359 1h0m109 0h0m152 0h0m38 0h0m51 0h0m-196 1h0m9 0h0m-67 1h0m17 0h0m176 0h0m-265 1h0m62 0h0m14 0h0m12 0h0m209 0h0m-318 1h0m58 0h0m10 0h0m20 0h0m-207 1h0m149 0h0m27 0h0m13 0h0m19 0h0m0 0h0m8 0h0m57 0h0m6 0h0m106 0h0m-167 1h0m54 0h0m5 0h0m109 0h0m38 0h0m62 0h0m-335 1h0m28 0h0m30 0h0m8 0h0m43 0h0m119 0h0m24 0h0m-189 1h0m48 0h0m101 1h0m21 0h0m-289 1h0m107 0h0m1 0h0m167 0h0m22 0h0m-397 1h0m164 0h0m2 0h0m31 0h0m20 0h0m14 0h0m-46 1h0m233 0h0m-238 1h0m42 0h0m8 0h0m146 0h0m7 0h0m-302 1h0m5 0h0m26 0h0m83 0h0m8 0h0m182 0h0m18 0h0m-302 1h0m7 0h0m19 0h0m64 0h0m0 0h0m17 0h0m1 0h0m184 0h0m-404 1h0m167 0h0m26 0h0m27 0h0m182 0h0m-274 1h0m59 0h0m-199 1h0m115 0h0m36 0h0m59 0h0m1 0h0m190 0h0m-245 1h0m24 0h0m14 0h0m-138 1h0m340 0h0m5 1h0m41 0h0m23 0h0m-336 1h0m41 0h0m247 0h0m-272 1h0m261 0h0m-361 1h0m78 0h0m26 0h0m26 0h0m-9 1h0m-154 1h0m29 0h0m379 1h0m-359 1h0m22 0h0m68 0h0m-141 1h0m2 0h0m28 0h0m73 0h0m0 0h0m57 0h0m-131 1h0m31 0h0m58 0h0m17 0h0m27 0h0m16 0h0m203 0h0m4 0h0m-256 1h0m307 0h0m-332 1h0m15 0h0m46 0h0m-81 1h0m6 0h0m39 0h0m1 0h0m1 0h0m37 0h0m215 0h0m-394 1h0m145 0h0m44 0h0m210 0h0m7 0h0m-415 1h0m75 0h0m21 0h0m9 0h0m63 0h0m15 0h0m6 0h0m-364 1h0m160 0h0m65 0h0m95 0h0m244 0h0m25 0h0m10 0h0m-318 1h0m27 0h0m66 0h0m255 0h0m-362 1h0m319 0h0m-321 1h0m8 1h0m34 0h0m9 0h0m36 0h0m-148 1h0m83 0h0m8 0h0m51 0h0m1 0h0m28 0h0m204 0h0m-370 1h0m33 0h0m11 0h0m14 0h0m28 0h0m12 0h0m38 0h0m233 0h0m-320 1h0m13 0h0m39 0h0m35 0h0m-3 1h0m9 0h0m212 0h0m-297 1h0m82 0h0m-105 1h0m4 0h0m25 0h0m54 0h0m224 0h0m-361 1h0m62 0h0m4 0h0m-81 1h0m1 0h0m94 0h0m34 0h0m30 0h0m18 0h0m281 0h0m-352 1h0m18 0h0m263 0h0m-271 1h0m49 0h0m347 0h0m-531 1h0m123 0h0m6 0h0m4 0h0m12 0h0m340 0h0m-368 1h0m52 0h0m23 0h0m245 0h0m-340 1h0m1 0h0m22 0h0m22 0h0m269 0h0m3 0h0m21 0h0m-369 1h0m48 0h0m323 0h0m22 0h0m-391 1h0m2 0h0m23 0h0m2 0h0m85 0h0m1 0h0m209 0h0m0 0h0m5 0h0m59 0h0m35 0h0m-440 1h0m47 0h0m10 0h0m10 0h0m65 0h0m245 0h0m16 0h0m-339 1h0m75 0h0m217 0h0m-314 1h0m47 0h0m-51 1h0m16 0h0m-20 1h0m35 0h0m22 0h0m4 0h0m276 0h0m-577 1h0m134 0h0m59 0h0m111 0h0m221 0h0m-335 1h0m83 0h0m3 0h0m13 0h0m6 0h0m228 0h0m53 0h0m20 0h0m-357 1h0m23 0h0m263 0h0m27 0h0m3 0h0m-466 1h0m107 0h0m317 0h0m79 0h0m-365 1h0m4 0h0m290 0h0m9 0h0m17 0h0m-444 1h0m88 0h0m52 0h0m33 0h0m9 0h0m237 0h0m-270 1h0m275 0h0m15 0h0m-314 1h0m27 0h0m26 0h0m357 0h0m-383 1h0m2 0h0m1 0h0m24 0h0m241 0h0m31 1h0m-306 1h0m9 0h0m1 0h0m7 0h0m256 0h0m15 0h0m8 0h0m-315 1h0m9 0h0m10 0h0m12 0h0m270 0h0m56 0h0m-574 1h0m215 0h0m20 0h0m1 0h0m0 0h0m300 0h0m-328 1h0m18 0h0m22 0h0m22 0h0m254 0h0m34 0h0m-526 1h0m134 0h0m59 0h0m10 0h0m16 0h0m2 0h0m264 0h0m7 0h0m15 0h0m27 0h0m22 0h0m-493 1h0m126 0h0m13 0h0m14 0h0m5 0h0m1 0h0m10 0h0m-69 1h0m27 0h0m26 0h0m-34 1h0m287 0h0m26 0h0m2 0h0m16 1h0m14 0h0m-359 1h0m2 0h0m12 0h0m302 0h0m21 0h0m-371 1h0m43 0h0m5 0h0m37 0h0m250 0h0m-402 1h0m111 0h0m40 0h0m311 0h0m-461 1h0m112 0h0m24 0h0m16 0h0m-100 1h0m21 0h0m21 0h0m12 0h0m45 0h0m3 0h0m264 0h0m-316 1h0m40 0h0m1 0h0m-122 1h0m75 0h0m37 0h0m12 0h0m10 0h0m-18 1h0m261 0h0m-345 2h0m36 0h0m45 0h0m5 0h0m12 0h0m1 0h0m-189 1h0m132 0h0m-119 1h0m81 0h0m35 0h0m47 0h0m6 0h0m7 0h0m-186 1h0m52 0h0m27 0h0m50 0h0m53 0h0m2 0h0m-94 1h0m21 0h0m74 0h0m271 0h0m27 0h0m-375 1h0m4 0h0m319 0h0m-380 1h0m398 0h0m58 0h0m-455 1h0m53 0h0m19 0h0m-171 1h0m74 0h0m13 0h0m38 0h0m28 0h0m9 0h0m-42 1h0m343 0h0m-293 1h0m1 0h0m-105 1h0m437 0h0m-423 1h0m17 0h0m50 0h0m323 0h0m-390 1h0m16 0h0m10 0h0m7 0h0m50 0h0m3 0h0m4 0h0m9 0h0m281 0h0m24 0h0m-481 1h0m98 0h0m50 0h0m0 0h0m2 0h0m13 0h0m-116 1h0m8 0h0m56 0h0m362 0h0m11 0h0m-313 1h0m2 0h0m4 0h0m1 0h0m322 0h0m-518 1h0m90 0h0m52 0h0m36 0h0m4 0h0m-64 1h0m8 0h0m44 0h0m14 0h0m287 0h0m2 1h0m3 0h0m-396 1h0m42 0h0m17 0h0m29 0h0m323 0h0m-450 1h0m7 0h0m5 0h0m96 0h0m-120 1h0m114 0h0m12 0h0m10 0h0m-65 1h0m11 0h0m41 1h0m1 0h0m4 0h0m326 0h0m17 0h0m25 0h0m-513 1h0m109 0h0m29 0h0m4 0h0m7 0h0m313 0h0m-362 1h0m346 0h0m50 0h0m-460 1h0m40 0h0m3 0h0m20 0h0m13 0h0m36 0h0m303 0h0m8 0h0m65 0h0m-491 1h0m413 0h0m48 0h0m14 0h0m-398 1h0m0 0h0m3 0h0m392 0h0m5 0h0m-401 1h0m-1 1h0m476 0h0m-568 2h0m38 0h0m399 0h0m5 0h0m74 0h0m-514 1h0m420 0h0m-417 1h0m57 0h0m3 0h0m353 0h0m33 0h0m47 0h0m4 0h0m-452 1h0m28 0h0m392 0h0m5 0h0m-443 1h0m366 0h0m18 0h0m-397 1h0m23 0h0m8 0h0m2 0h0m14 0h0m327 0h0m-309 1h0m327 0h0m155 0h0m-602 1h0m26 0h0m32 0h0m28 0h0m14 0h0m14 0h0m4 0h0m363 0h0m75 0h0m-136 1h0m4 0h0m14 1h0m-346 1h0m32 0h0m323 0h0m-29 1h0m16 0h0m14 0h0m-388 1h0m46 0h0m12 0h0m320 1h0m5 0h0m11 0h0m31 0h0m-451 1h0m1 0h0m18 0h0m19 0h0m31 0h0m323 0h0m-338 1h0m19 0h0m-14 1h0m3 0h0m14 0h0m2 0h0m2 0h0m292 0h0m26 0h0m21 0h0m-388 1h0m29 0h0m22 0h0m3 0h0m415 0h0m-510 1h0m30 0h0m27 0h0m7 0h0m358 0h0m-372 1h0m10 0h0m-149 1h0m1 0h0m134 0h0m8 0h0m6 0h0m337 0h0m5 0h0m7 0h0m39 0h0m1 0h0m3 0h0m-496 1h0m69 0h0m25 0h0m0 0h0m355 0h0m91 0h0m-517 1h0m54 0h0m-63 1h0m61 0h0m381 0h0m127 0h0m-611 1h0m454 0h0m11 0h0m113 0h0m-574 1h0m80 0h0m389 0h0m-402 1h0m15 0h0m452 0h0m-614 1h0m163 0h0m1 0h0m357 0h0m-388 1h0m34 0h0m371 1h0m105 0h0m-550 1h0m20 0h0m21 0h0m43 0h0m-189 1h0m76 0h0m86 0h0m417 0h0m-74 1h0m24 0h0m11 0h0m-382 1h0m383 0h0m-417 1h0m402 0h0m11 1h0m12 0h0m136 0h0m-542 1h0m15 0h0m8 0h0m4 0h0m7 0h0m364 0h0m-453 1h0m20 0h0m11 0h0m1 0h0m19 0h0m383 0h0m7 0h0m52 0h0m-640 1h0m190 0h0m8 0h0m9 0h0m10 0h0m1 0h0m8 0h0m327 0h0m201 0h0m-172 1h0m63 0h0m16 0h0m183 0h0m-670 1h0m6 0h0m13 0h0m9 0h0m-3 1h0m3 0h0m10 0h0m336 0h0m43 0h0m3 0h0m77 0h0m-540 1h0m77 0h0m372 0h0m-484 1h0m124 0h0m397 0h0m-438 1h0m19 0h0m9 0h0m0 0h0m2 0h0m5 0h0m366 0h0m12 0h0m-433 1h0m61 0h0m4 0h0m307 0h0m110 0h0m-456 1h0m21 0h0m16 0h0m290 0h0m60 0h0m1 0h0m-484 1h0m42 0h0m25 0h0m10 0h0m345 0h0m-368 1h0m29 0h0m-5 1h0m30 0h0m-148 1h0m82 0h0m374 0h0m54 0h0m64 0h0m-502 1h0m70 0h0m12 0h0m328 0h0m62 0h0m-469 1h0m23 0h0m50 0h0m323 0h0m-499 1h0m97 0h0m69 0h0m338 0h0m68 0h0m29 0h0m-485 1h0m32 0h0m395 0h0m-399 1h0m360 0h0m43 0h0m-367 1h0m377 0h0m-464 1h0m22 0h0m378 0h0m9 0h0m-490 1h0m94 0h0m0 0h0m24 0h0m14 0h0m344 0h0m7 0h0m84 0h0m-446 1h0m46 0h0m274 0h0m17 0h0m26 0h0m22 0h0m17 0h0m-489 1h0m412 0h0m37 0h0m16 0h0m-452 1h0m72 0h0m367 0h0m-532 1h0m162 0h0m18 0h0m311 0h0m31 0h0m26 0h0m36 0h0m72 0h0m-538 1h0m59 0h0m488 0h0m65 0h0m-722 1h0m127 0h0m15 0h0m9 0h0m19 0h0m293 0h0m26 0h0m200 0h0m-610 1h0m46 0h0m22 0h0m368 0h0m-433 1h0m381 0h0m13 0h0m-311 1h0m323 0h0m29 0h0m26 0h0m7 0h0m-549 1h0m79 0h0m49 0h0m32 0h0m329 0h0m25 0h0m43 0h0m29 0h0m-549 1h0m24 0h0m11 0h0m41 0h0m52 0h0m311 0h0m30 0h0m-406 1h0m25 0h0m24 0h0m1 0h0m390 0h0m-415 1h0m327 0h0m3 0h0m25 0h0m30 0h0m2 1h0m107 0h0m-502 1h0m7 0h0m3 0h0m8 0h0m-17 1h0m301 0h0m2 0h0m3 0h0m4 1h0m21 0h0m20 0h0m60 0h0m124 0h0m-618 1h0m57 0h0m360 0h0m181 0h0m-549 1h0m39 0h0m301 0h0m65 0h0m-396 1h0m31 0h0m470 0h0m-503 1h0m30 0h0m308 0h0m34 0h0m108 0h0m-545 1h0m41 0h0m5 0h0m33 0h0m313 0h0m32 0h0m15 0h0m4 0h0m-475 1h0m422 0h0m58 0h0m112 0h0m24 0h0m66 0h0m-577 2h0m3 0h0m2 0h0m333 0h0m4 0h0m15 0h0m23 0h0m140 0h0m133 0h0m-765 1h0m28 0h0m29 0h0m48 0h0m19 0h0m307 0h0m45 0h0m-453 1h0m27 0h0m45 0h0m17 0h0m12 0h0m450 0h0m4 0h0m13 0h0m-64 1h0m-509 1h0m9 0h0m15 0h0m61 0h0m545 0h0m-597 1h0m-50 1h0m78 0h0m367 0h0m50 0h0m23 0h0m-429 1h0m12 0h0m331 0h0m9 0h0m130 0h0m-489 1h0m26 0h0m445 0h0m1 0h0m-559 1h0m29 0h0m32 0h0m41 0h0m305 0h0m177 0h0m-576 1h0m32 0h0m45 0h0m20 0h0m313 0h0m5 0h0m28 0h0m31 0h0m69 0h0m-509 1h0m9 0h0m6 0h0m2 0h0m35 0h0m19 0h0m2 0h0m325 0h0m9 0h0m19 0h0m6 0h0m-415 1h0m475 0h0m-505 1h0m27 0h0m10 0h0m16 0h0m337 0h0m-391 1h0m16 0h0m18 0h0m20 0h0m340 0h0m92 0h0m3 0h0m63 0h0m-143 1h0m55 0h0m-445 1h0m6 0h0m1 0h0m33 0h0m387 0h0m-430 1h0m426 0h0m-399 1h0m406 0h0m41 0h0m-496 1h0m7 0h0m52 0h0m329 0h0m10 0h0m50 0h0m-461 2h0m432 0h0m61 0h0m-475 1h0m15 0h0m370 0h0m-373 1h0m8 0h0m4 0h0m-29 1h0m30 0h0m730 0h0m-779 1h0m20 0h0m11 0h0m2 0h0m439 0h0m4 0h0m1 0h0m-451 1h0m510 0h0m-514 1h0m19 0h0m397 0h0m92 0h0m117 0h0m-646 1h0m10 0h0m20 0h0m363 0h0m7 0h0m49 0h0m-415 1h0m2 0h0m9 0h0m351 0h0m44 0h0m210 0h0m-636 1h0m14 0h0m18 0h0m-31 1h0m17 0h0m348 0h0m81 0h0m183 0h0m-635 1h0m18 0h0m10 0h0m-41 1h0m3 0h0m12 0h0m353 0h0m-366 1h0m4 0h0m504 0h0m115 0h0m-615 1h0m2 0h0m0 1h0m2 0h0m1 0h0m444 0h0m158 0h0m-620 1h0m366 0h0m0 0h0m39 0h0m16 0h0m16 0h0m17 0h0m85 0h0m-126 1h0m51 0h0m77 0h0m-186 1h0m13 0h0m47 0h0m77 0h0m-492 1h0m9 0h0m368 0h0m11 0h0m20 0h0m-407 1h0m-1 1h0m403 0h0m12 0h0m29 0h0m260 0h0m-285 1h0m102 0h0m-516 1h0m344 0h0m28 1h0m195 0h0m-562 1h0m355 0h0m9 0h0m59 0h0m24 0h0m-458 1h0m2 0h0m3 0h0m2 0h0m349 0h0m55 0h0m-98 1h0m6 0h0m0 0h0m-315 1h0m1 0h0m6 0h0m340 0h0m38 0h0m-385 1h0m4 0h0m352 0h0m-352 1h0m358 0h0m-356 1h0m1 0h0m373 0h0m-382 1h0m255 0h0m62 0h0m28 0h0m41 0h0m25 0h0m25 0h0m-180 1h0m45 0h0m22 0h0m-324 1h0m6 0h0m1 0h0m3 0h0m287 0h0m28 0h0m316 0h0m-640 1h0m3 0h0m327 0h0m23 0h0m-353 1h0m265 0h0m8 0h0m-273 1h0m259 0h0m-256 1h0m0 0h0m308 0h0m54 0h0m26 0h0m-387 1h0m276 0h0m90 0h0m-370 1h0m314 0h0m7 0h0m3 0h0m160 0h0m-481 1h0m254 0h0m-259 1h0m5 0h0m405 0h0m-406 1h0m0 0h0m3 0h0m274 0h0m1 0h0m0 0h0m13 0h0m144 0h0m-430 1h0m280 0h0m-284 1h0m2 0h0m248 0h0m233 0h0m-482 1h0m2 0h0m3 0h0m-11 1h0m1 0h0m1 0h0m1 0h0m2 0h0m2 0h0m239 0h0m11 0h0m19 0h0m-274 1h0m4 0h0m1 0h0m242 0h0m-248 1h0m1 0h0m1 0h0m7 0h0m230 0h0m13 0h0m-252 1h0m4 0h0m2 0h0m1 0h0m-5 1h0m4 0h0m0 0h0m234 0h0m12 0h0m39 0h0m77 0h0m-369 1h0m3 0h0m0 0h0m3 0h0m4 0h0m315 0h0m65 0h0m161 0h0m-548 1h0m284 0h0m91 0h0m-376 1h0m8 0h0m234 0h0m3 0h0m156 0h0m-402 1h0m3 0h0m6 0h0m225 0h0m-231 1h0m0 0h0m6 0h0m376 0h0m13 0h0m72 0h0m-465 1h0m5 0h0m492 0h0m-499 1h0m5 0h0m2 0h0m214 0h0m65 0h0m58 0h0m-346 1h0m6 0h0m2 0h0m237 0h0m28 0h0m-268 1h0m190 0h0m213 0h0m-191 1h0m9 0h0m2 0h0m62 0h0m35 0h0m-320 1h0m-6 1h0m216 0h0m57 0h0m-263 1h0m211 0h0m-6 1h0m19 0h0m4 0h0m16 0h0m-252 1h0m6 0h0m180 0h0m321 0h0m-308 1h0m72 0h0m-271 1h0m2 0h0m3 0h0m2 0h0m0 0h0m304 0h0m22 0h0m-334 1h0m3 0h0m1 0h0m3 0h0m2 0h0m270 0h0m339 0h0m-610 1h0m179 0h0m63 0h0m46 0h0m581 0h0" fill="none" stroke="#1f77b4" stroke-opacity="0.75" stroke-width="8.8" stroke-linecap="round"/><path transform="scale(0.25)" d="M1234 547h0m55 10h0m-65 48h0m-8 12h0m0 0h0m10 14h0m-8 7h0m5 10h0m-19 6h0m93 0h0m-11 2h0m-99 3h0m102 2h0m-48 2h0m37 1h0m-145 3h0m-5 1h0m79 5h0m-24 6h0m50 0h0m-11 1h0m10 0h0m-22 7h0m13 2h0m62 1h0m-176 3h0m91 0h0m82 3h0m-177 1h0m129 0h0m-14 1h0m-124 1h0m131 4h0m4 2h0m-19 2h0m-277 1h0m309 5h0m-19 2h0m9 0h0m-122 1h0m39 0h0m19 0h0m-12 1h0m102 0h0m-54 1h0m55 0h0m-227 1h0m-84 2h0m263 0h0m17 0h0m13 0h0m-117 2h0m109 1h0m-3 1h0m-297 1h0m257 0h0m14 0h0m53 0h0m-107 1h0m31 0h0m3 0h0m1 0h0m-51 1h0m42 0h0m-25 2h0m40 3h0m6 5h0m-48 1h0m32 0h0m9 1h0m-111 1h0m194 1h0m-112 3h0m67 0h0m15 0h0m-106 1h0m51 1h0m-88 1h0m70 0h0m-37 1h0m72 1h0m4 0h0m14 0h0m-11 1h0m12 0h0m-122 1h0m170 0h0m-210 1h0m90 0h0m23 0h0m19 0h0m-40 1h0m18 2h0m-23 1h0m108 0h0m-145 1h0m90 0h0m39 0h0m-88 1h0m81 0h0m-194 1h0m74 2h0m89 0h0m28 0h0m-100 1h0m60 0h0m81 0h0m-164 1h0m15 1h0m27 0h0m-41 1h0m53 1h0m-20 1h0m24 0h0m-71 1h0m61 0h0m15 0h0m63 0h0m-95 2h0m12 0h0m-11 1h0m34 1h0m19 0h0m-252 1h0m151 0h0m25 0h0m105 0h0m-105 1h0m46 0h0m-53 1h0m110 0h0m-183 1h0m51 0h0m108 0h0m72 0h0m-195 1h0m158 1h0m-81 1h0m24 0h0m-108 1h0m53 0h0m37 0h0m5 0h0m-177 1h0m194 1h0m13 0h0m64 0h0m7 0h0m-123 1h0m36 0h0m48 0h0m-140 1h0m17 0h0m38 0h0m141 0h0m-116 1h0m14 0h0m7 0h0m-70 1h0m13 0h0m9 0h0m92 0h0m-132 1h0m30 0h0m-19 1h0m34 0h0m17 0h0m130 0h0m-248 1h0m23 0h0m1 0h0m110 0h0m-157 1h0m34 0h0m12 0h0m88 0h0m16 0h0m19 0h0m-281 1h0m178 0h0m48 1h0m34 0h0m15 0h0m30 0h0m-147 1h0m5 0h0m160 0h0m-142 1h0m1 0h0m40 0h0m20 0h0m23 0h0m4 0h0m-154 1h0m139 0h0m116 0h0m-115 1h0m-106 1h0m17 0h0m35 0h0m-13 1h0m20 0h0m1 0h0m4 0h0m55 0h0m74 0h0m-143 1h0m33 0h0m-12 1h0m4 1h0m4 0h0m9 0h0m-129 1h0m144 0h0m-131 1h0m70 0h0m1 0h0m2 0h0m36 0h0m-87 1h0m44 0h0m26 0h0m3 0h0m18 0h0m40 0h0m19 0h0m-103 1h0m36 0h0m-298 1h0m286 0h0m11 0h0m55 0h0m-135 1h0m12 0h0m28 0h0m43 0h0m2 0h0m43 0h0m23 0h0m-526 1h0m336 0h0m132 0h0m32 0h0m-191 1h0m59 0h0m25 0h0m22 0h0m1 0h0m64 0h0m-142 1h0m56 0h0m39 0h0m40 0h0m-189 1h0m174 0h0m-319 1h0m218 0h0m60 0h0m96 0h0m5 0h0m34 0h0m-227 1h0m43 0h0m10 0h0m16 0h0m9 0h0m37 0h0m50 0h0m-113 1h0m33 0h0m22 0h0m86 0h0m-173 1h0m49 0h0m59 0h0m60 0h0m-172 1h0m41 0h0m8 0h0m0 0h0m9 0h0m28 0h0m146 0h0m-241 1h0m11 0h0m87 0h0m12 0h0m9 0h0m7 0h0m12 0h0m-137 1h0m56 0h0m29 0h0m4 0h0m23 0h0m-127 1h0m120 0h0m2 0h0m62 0h0m23 0h0m6 0h0m-152 1h0m5 0h0m36 0h0m55 0h0m-165 1h0m89 0h0m28 0h0m16 0h0m-121 1h0m69 0h0m2 0h0m29 0h0m90 0h0m34 0h0m-268 1h0m81 0h0m8 0h0m6 0h0m5 0h0m90 0h0m-101 1h0m6 0h0m56 0h0m-127 1h0m36 0h0m21 0h0m39 0h0m91 0h0m-41 1h0m29 0h0m-185 1h0m80 0h0m62 0h0m12 0h0m-177 1h0m38 0h0m8 0h0m37 0h0m92 0h0m35 0h0m-251 1h0m99 0h0m25 0h0m6 0h0m90 0h0m4 0h0m9 0h0m7 0h0m7 0h0m97 0h0m-279 1h0m24 0h0m30 0h0m91 0h0m8 0h0m19 0h0m44 0h0m-189 1h0m24 0h0m158 0h0m-294 1h0m121 0h0m39 0h0m77 0h0m2 0h0m24 0h0m-114 1h0m6 0h0m98 0h0m4 0h0m10 0h0m9 0h0m12 0h0m-163 1h0m20 0h0m9 0h0m87 0h0m-118 1h0m23 0h0m121 0h0m36 0h0m-241 1h0m76 0h0m118 0h0m15 0h0m61 0h0m-24 1h0m-225 1h0m6 0h0m1 0h0m29 0h0m5 0h0m-96 1h0m7 0h0m9 0h0m77 0h0m24 0h0m-227 1h0m195 0h0m9 1h0m18 0h0m-219 1h0m368 0h0m-322 1h0m99 0h0m219 0h0m-308 1h0m138 0h0m11 0h0m-95 1h0m87 0h0m17 0h0m131 0h0m-265 1h0m126 0h0m17 0h0m124 0h0m18 0h0m-272 1h0m57 0h0m27 0h0m50 0h0m102 0h0m6 0h0m2 0h0m32 0h0m38 0h0m-259 1h0m56 0h0m14 0h0m2 0h0m4 0h0m-85 1h0m50 0h0m9 0h0m4 0h0m11 0h0m128 0h0m-136 1h0m133 0h0m-231 1h0m97 0h0m7 0h0m142 0h0m-374 1h0m49 0h0m101 0h0m95 0h0m102 0h0m13 0h0m-414 1h0m129 0h0m96 0h0m22 0h0m53 0h0m-159 1h0m80 0h0m77 0h0m-248 1h0m167 0h0m29 0h0m42 0h0m146 0h0m42 0h0m-297 1h0m11 0h0m41 0h0m4 0h0m184 0h0m-252 1h0m21 0h0m43 0h0m16 0h0m50 0h0m0 0h0m109 0h0m12 0h0m22 0h0m46 0h0m-299 1h0m19 0h0m45 0h0m50 0h0m1 0h0m-156 1h0m67 0h0m42 0h0m147 0h0m10 0h0m-376 1h0m128 0h0m127 0h0m-104 1h0m107 0h0m-106 1h0m27 0h0m0 0h0m37 0h0m0 0h0m1 0h0m37 0h0m128 0h0m-400 1h0m80 0h0m104 0h0m28 0h0m174 0h0m-201 1h0m28 0h0m15 0h0m179 0h0m13 0h0m-324 1h0m14 0h0m125 0h0m47 0h0m-240 1h0m73 0h0m46 0h0m13 0h0m15 0h0m12 0h0m8 0h0m2 0h0m4 0h0m66 0h0m109 0h0m-214 1h0m30 0h0m9 0h0m0 0h0m154 0h0m48 0h0m-263 1h0m37 0h0m2 0h0m20 0h0m4 0h0m12 0h0m3 0h0m137 0h0m7 0h0m109 0h0m-346 1h0m16 0h0m21 0h0m23 0h0m15 0h0m-47 1h0m0 0h0m15 0h0m26 0h0m14 0h0m2 0h0m155 0h0m8 0h0m-193 1h0m20 0h0m187 0h0m-322 1h0m55 0h0m36 0h0m9 0h0m10 0h0m6 0h0m18 0h0m-220 1h0m66 0h0m74 0h0m-38 2h0m63 0h0m14 0h0m-100 1h0m92 0h0m240 0h0m-328 1h0m84 0h0m0 0h0m22 0h0m1 0h0m2 0h0m4 0h0m188 0h0m79 0h0m-321 1h0m0 0h0m42 0h0m227 0h0m26 0h0m-314 1h0m10 0h0m31 0h0m8 0h0m203 0h0m41 0h0m7 0h0m35 0h0m-422 1h0m68 1h0m420 0h0m-375 1h0m8 0h0m5 0h0m216 0h0m1 0h0m26 0h0m8 0h0m73 0h0m-382 1h0m12 0h0m32 0h0m216 0h0m36 0h0m84 0h0m-97 1h0m59 0h0m-378 1h0m23 0h0m26 0h0m33 0h0m214 0h0m7 0h0m-275 1h0m43 0h0m6 0h0m234 0h0m-262 1h0m14 0h0m11 0h0m282 0h0m-403 2h0m115 0h0m259 0h0m-321 1h0m93 0h0m8 0h0m198 0h0m12 0h0m32 0h0m-299 1h0m15 0h0m7 0h0m28 0h0m6 0h0m190 0h0m-315 1h0m119 0h0m4 0h0m2 0h0m-176 1h0m63 0h0m79 0h0m246 0h0m-353 1h0m44 0h0m32 0h0m29 0h0m231 0h0m61 0h0m-400 1h0m118 0h0m25 0h0m-68 1h0m5 0h0m17 0h0m21 0h0m15 0h0m-79 1h0m2 0h0m8 0h0m9 0h0m1 0h0m54 0h0m-53 1h0m13 0h0m36 0h0m210 0h0m-274 1h0m10 0h0m63 0h0m10 0h0m202 0h0m-287 1h0m20 0h0m46 0h0m221 0h0m-383 1h0m86 0h0m12 0h0m8 0h0m23 0h0m0 0h0m4 0h0m26 0h0m216 0h0m-380 1h0m24 0h0m124 0h0m-146 1h0m110 0h0m37 0h0m217 0h0m26 0h0m-465 1h0m108 0h0m74 0h0m37 0h0m2 0h0m12 0h0m199 0h0m8 0h0m-296 1h0m37 0h0m255 0h0m31 0h0m-307 1h0m5 0h0m51 0h0m8 0h0m228 0h0m-359 1h0m126 0h0m14 0h0m212 0h0m89 0h0m-533 1h0m116 0h0m17 0h0m299 0h0m-268 1h0m7 0h0m7 0h0m56 0h0m199 0h0m32 0h0m84 0h0m-481 1h0m91 0h0m3 0h0m6 0h0m66 0h0m211 0h0m-359 1h0m76 0h0m50 0h0m1 0h0m10 0h0m-107 1h0m56 0h0m55 0h0m225 0h0m5 0h0m3 0h0m-384 1h0m6 0h0m17 0h0m8 0h0m60 0h0m6 0h0m54 0h0m3 0h0m-211 1h0m102 0h0m12 0h0m3 0h0m25 0h0m3 0h0m10 0h0m47 0h0m5 0h0m1 0h0m11 0h0m223 0h0m-311 1h0m15 0h0m-60 1h0m25 0h0m15 0h0m31 0h0m292 0h0m-399 1h0m76 0h0m1 0h0m-29 1h0m9 0h0m46 0h0m4 0h0m6 0h0m5 0h0m-18 1h0m301 0h0m-299 1h0m224 0h0m29 0h0m-294 1h0m13 0h0m251 0h0m40 0h0m32 0h0m-315 1h0m299 0h0m7 0h0m-356 1h0m1 0h0m325 0h0m23 0h0m-326 1h0m306 0h0m5 0h0m-343 1h0m1 0h0m19 0h0m-130 1h0m88 0h0m9 0h0m35 0h0m55 0h0m2 0h0m324 0h0m-360 1h0m32 0h0m268 0h0m-449 1h0m67 0h0m49 0h0m26 0h0m20 0h0m0 0h0m10 0h0m6 0h0m224 0h0m12 0h0m1 0h0m69 0h0m-373 1h0m29 0h0m28 0h0m8 0h0m5 0h0m236 0h0m-343 1h0m4 0h0m26 0h0m5 0h0m27 0h0m35 0h0m2 0h0m5 0h0m5 0h0m-55 1h0m374 0h0m-439 1h0m1 0h0m1 0h0m14 0h0m20 0h0m330 0h0m8 0h0m70 0h0m-419 1h0m13 0h0m0 0h0m13 0h0m35 0h0m30 0h0m245 0h0m29 0h0m3 0h0m-363 1h0m86 0h0m4 0h0m231 0h0m0 0h0m-493 1h0m193 0h0m14 0h0m43 0h0m13 0h0m248 0h0m-27 1h0m10 0h0m3 0h0m-396 1h0m63 0h0m63 0h0m5 0h0m260 0h0m-312 1h0m28 0h0m16 0h0m2 0h0m278 0h0m17 0h0m-345 1h0m-17 1h0m9 0h0m11 0h0m15 0h0m-38 1h0m25 0h0m12 0h0m289 0h0m33 0h0m-339 1h0m0 0h0m48 0h0m268 0h0m6 0h0m-328 1h0m45 0h0m265 0h0m26 0h0m10 0h0m-449 1h0m98 0h0m4 0h0m59 0h0m6 0h0m1 0h0m277 0h0m15 0h0m-298 1h0m249 0h0m1 0h0m51 0h0m-382 1h0m5 0h0m63 0h0m17 0h0m249 0h0m5 0h0m8 0h0m3 0h0m-440 1h0m89 0h0m21 0h0m8 0h0m47 0h0m2 0h0m4 0h0m-57 1h0m4 0h0m42 1h0m1 0h0m13 0h0m-150 1h0m38 0h0m11 0h0m91 0h0m-62 1h0m340 0h0m49 0h0m38 0h0m-456 1h0m-65 1h0m87 0h0m6 0h0m19 0h0m302 1h0m-371 1h0m68 0h0m-82 1h0m68 0h0m11 0h0m394 0h0m-420 1h0m13 0h0m13 0h0m306 0h0m-306 1h0m301 0h0m39 0h0m58 0h0m-423 1h0m16 0h0m11 0h0m-158 1h0m40 0h0m62 0h0m355 0h0m-324 1h0m4 0h0m13 0h0m3 0h0m3 0h0m-128 1h0m44 0h0m26 0h0m10 0h0m28 0h0m-76 1h0m33 0h0m58 0h0m283 0h0m31 0h0m13 0h0m-346 1h0m11 0h0m15 0h0m1 0h0m-85 1h0m28 0h0m2 1h0m40 0h0m-93 1h0m41 0h0m20 0h0m17 0h0m31 0h0m292 0h0m9 0h0m-355 1h0m24 0h0m336 0h0m49 0h0m-434 1h0m10 0h0m21 0h0m408 0h0m-424 1h0m13 0h0m3 0h0m-56 1h0m-14 1h0m393 0h0m-350 1h0m25 0h0m8 0h0m6 0h0m-36 1h0m20 0h0m11 0h0m6 0h0m382 0h0m-566 1h0m139 0h0m10 0h0m12 0h0m343 0h0m7 0h0m1 0h0m-384 1h0m24 0h0m400 0h0m-522 1h0m106 0h0m2 0h0m3 0h0m365 0h0m-419 1h0m10 0h0m13 0h0m-25 1h0m36 0h0m440 0h0m-518 1h0m93 0h0m335 0h0m-377 1h0m45 0h0m345 0h0m-440 1h0m85 0h0m2 0h0m11 0h0m339 0h0m-496 1h0m57 0h0m56 0h0m19 0h0m324 0h0m87 0h0m-509 1h0m61 0h0m34 0h0m27 0h0m367 0h0m15 0h0m-398 1h0m6 0h0m1 0h0m4 0h0m363 0h0m44 0h0m-600 1h0m196 0h0m299 0h0m22 0h0m-324 1h0m375 0h0m-430 1h0m33 0h0m381 0h0m96 0h0m-495 1h0m362 0h0m4 0h0m19 0h0m50 0h0m-422 1h0m-60 1h0m32 0h0m348 0h0m43 0h0m-504 1h0m87 0h0m42 0h0m29 0h0m-32 1h0m9 0h0m2 0h0m9 0h0m15 0h0m376 0h0m-507 1h0m45 0h0m87 0h0m402 0h0m-418 1h0m388 0h0m54 0h0m-516 1h0m46 0h0m9 0h0m12 0h0m17 0h0m343 0h0m38 0h0m-451 1h0m9 0h0m23 0h0m6 0h0m4 0h0m26 0h0m8 0h0m294 0h0m-390 1h0m18 0h0m28 0h0m50 0h0m1 0h0m300 0h0m70 0h0m-422 1h0m-188 1h0m141 0h0m22 0h0m391 0h0m16 0h0m50 0h0m-67 1h0m33 0h0m92 0h0m-497 1h0m16 0h0m335 0h0m31 0h0m-455 1h0m52 0h0m13 0h0m12 0h0m3 0h0m-110 1h0m36 0h0m35 0h0m386 0h0m54 0h0m-421 1h0m362 0h0m38 0h0m-531 1h0m67 0h0m75 0h0m374 0h0m-402 1h0m-82 2h0m88 0h0m10 0h0m480 0h0m-529 1h0m412 0h0m183 0h0m-599 2h0m55 0h0m384 0h0m51 0h0m-505 1h0m389 0h0m40 0h0m153 0h0m-556 1h0m26 0h0m0 0h0m9 0h0m3 0h0m330 0h0m2 0h0m70 0h0m17 0h0m21 0h0m13 0h0m-449 1h0m336 0h0m11 0h0m37 0h0m-439 1h0m31 0h0m-10 1h0m13 0h0m13 0h0m340 0h0m-390 1h0m57 0h0m333 0h0m23 0h0m-445 1h0m22 0h0m7 0h0m37 0h0m12 0h0m-192 1h0m94 0h0m55 0h0m334 0h0m53 0h0m2 0h0m12 0h0m-67 1h0m9 0h0m28 0h0m179 0h0m-537 1h0m400 0h0m-509 1h0m615 0h0m-580 1h0m85 0h0m21 0h0m301 0h0m1 0h0m24 0h0m92 0h0m24 0h0m-485 1h0m15 0h0m24 0h0m310 0h0m0 0h0m-413 1h0m56 0h0m31 0h0m18 0h0m309 0h0m-355 1h0m412 0h0m43 0h0m-485 1h0m45 0h0m338 0h0m12 0h0m28 0h0m84 0h0m-636 1h0m33 0h0m110 0h0m30 0h0m9 0h0m393 0h0m-433 1h0m368 0h0m2 0h0m15 0h0m75 0h0m-435 1h0m459 0h0m-481 1h0m11 0h0m24 0h0m364 0h0m-393 1h0m27 0h0m414 0h0m4 0h0m-491 1h0m15 0h0m5 0h0m26 0h0m16 0h0m13 0h0m306 0h0m82 0h0m-403 1h0m331 0h0m16 0h0m9 0h0m63 0h0m-564 1h0m127 0h0m19 0h0m400 0h0m-490 1h0m44 0h0m48 0h0m12 0h0m-152 1h0m33 0h0m9 0h0m40 0h0m31 0h0m41 0h0m351 0h0m17 0h0m4 0h0m5 0h0m-441 1h0m29 1h0m298 0h0m54 0h0m92 0h0m81 0h0m1 0h0m19 0h0m-640 1h0m87 0h0m3 0h0m1 0h0m305 0h0m2 0h0m16 0h0m59 0h0m3 0h0m14 0h0m82 0h0m-598 1h0m25 0h0m70 0h0m347 0h0m30 0h0m41 0h0m18 0h0m97 0h0m-539 1h0m17 0h0m3 0h0m4 0h0m7 0h0m323 0h0m85 0h0m27 0h0m-504 1h0m40 0h0m382 0h0m41 0h0m4 0h0m56 0h0m-591 1h0m116 0h0m2 0h0m19 0h0m-138 1h0m127 0h0m7 0h0m4 0h0m1 0h0m302 0h0m76 0h0m108 0h0m-625 1h0m60 0h0m29 0h0m14 0h0m353 0h0m-352 1h0m24 0h0m302 0h0m28 0h0m22 0h0m143 1h0m-537 1h0m8 0h0m1 0h0m40 0h0m385 0h0m81 0h0m292 0h0m-833 1h0m18 0h0m5 0h0m11 0h0m333 0h0m-407 1h0m464 0h0m44 0h0m13 0h0m20 0h0m35 0h0m-539 1h0m0 0h0m21 0h0m22 0h0m327 0h0m221 0h0m-693 1h0m23 0h0m18 0h0m31 0h0m35 0h0m330 0h0m-290 1h0m2 0h0m285 0h0m256 0h0m12 0h0m-657 1h0m34 0h0m62 0h0m4 0h0m304 0h0m7 0h0m102 0h0m80 0h0m42 0h0m-655 1h0m20 0h0m64 0h0m2 0h0m388 0h0m28 0h0m31 0h0m73 0h0m-132 1h0m49 0h0m-440 1h0m13 0h0m320 0h0m90 1h0m48 0h0m161 0h0m-732 1h0m105 0h0m9 0h0m366 0h0m-412 1h0m5 0h0m37 0h0m420 0h0m109 0h0m-567 1h0m29 0h0m2 0h0m320 0h0m3 0h0m53 0h0m109 0h0m-501 1h0m9 0h0m14 0h0m328 0h0m87 0h0m-485 1h0m45 0h0m25 0h0m8 0h0m441 0h0m-538 1h0m35 0h0m48 0h0m372 0h0m1 0h0m64 0h0m-525 1h0m7 0h0m72 0h0m18 0h0m1 0h0m3 0h0m367 0h0m-438 1h0m11 0h0m365 0h0m7 0h0m9 0h0m-349 1h0m7 0h0m2 0h0m334 0h0m-353 1h0m3 0h0m3 0h0m17 0h0m342 0h0m1 0h0m40 0h0m-491 1h0m75 0h0m18 0h0m12 0h0m303 0h0m42 0h0m13 0h0m-397 1h0m41 0h0m333 0h0m94 0h0m-424 1h0m384 0h0m-388 1h0m350 0h0m28 0h0m-473 1h0m61 0h0m32 0h0m292 0h0m121 0h0m-513 1h0m14 0h0m8 0h0m6 0h0m24 0h0m418 0h0m-410 1h0m5 0h0m2 0h0m3 0h0m5 0h0m336 0h0m49 0h0m1 0h0m-446 1h0m42 0h0m432 0h0m63 0h0m-539 1h0m39 0h0m1 0h0m12 0h0m2 0h0m12 0h0m349 0h0m3 0h0m107 0h0m14 0h0m-503 1h0m0 0h0m29 0h0m316 0h0m16 0h0m-363 1h0m457 0h0m16 0h0m-519 1h0m-2 1h0m31 0h0m385 0h0m-406 1h0m383 0h0m72 0h0m-446 1h0m365 0h0m44 0h0m2 0h0m92 0h0m-495 1h0m9 0h0m17 0h0m368 0h0m35 0h0m90 0h0m-525 1h0m21 0h0m2 0h0m332 0h0m2 0h0m29 0h0m6 0h0m34 0h0m3 0h0m22 0h0m70 0h0m71 0h0m-625 1h0m403 0h0m-385 1h0m11 0h0m399 0h0m13 0h0m84 0h0m-474 1h0m2 0h0m475 0h0m-486 1h0m372 0h0m5 0h0m55 0h0m184 0h0m-629 1h0m1 0h0m-28 1h0m6 0h0m29 0h0m12 0h0m0 0h0m329 0h0m29 0h0m11 0h0m353 0h0m-764 1h0m8 0h0m37 0h0m329 0h0m-374 1h0m22 0h0m402 0h0m96 0h0m-511 1h0m389 0h0m132 0h0m-523 1h0m542 0h0m-543 1h0m410 0h0m-408 1h0m401 0h0m120 0h0m-529 1h0m5 0h0m403 0h0m29 0h0m-434 1h0m343 0h0m151 0h0m-499 1h0m446 0h0m-438 1h0m361 0h0m97 0h0m-461 1h0m519 0h0m-519 1h0m340 0h0m47 0h0m-394 1h0m1 0h0m368 0h0m173 0h0m-544 1h0m502 0h0m4 0h0m-506 1h0m5 0h0m2 0h0m360 0h0m-364 1h0m407 0h0m-402 1h0m351 0h0m10 0h0m374 0h0m-741 1h0m1 0h0m8 0h0m309 0h0m38 0h0m15 0h0m-372 1h0m9 0h0m452 0h0m-459 1h0m1 0h0m320 0h0m-324 1h0m8 0h0m300 0h0m-306 1h0m310 0h0m6 0h0m0 0h0m1 0h0m108 0h0m-422 1h0m5 0h0m251 0h0m37 0h0m98 0h0m9 0h0m168 0h0m-574 1h0m6 0h0m323 0h0m39 0h0m-363 1h0m320 0h0m13 0h0m47 0h0m-385 1h0m2 0h0m0 0h0m296 0h0m48 0h0m37 0h0m-378 1h0m259 0h0m2 0h0m143 0h0m-54 1h0m16 0h0m-109 1h0m44 0h0m363 0h0m-669 1h0m3 0h0m1 0h0m249 0h0m8 0h0m12 0h0m12 0h0m24 0h0m7 0h0m8 0h0m24 0h0m1 0h0m-97 1h0m130 0h0m-377 1h0m1 0h0m2 0h0m1 0h0m287 0h0m19 0h0m23 0h0m156 0h0m182 0h0m-674 1h0m254 0h0m-248 1h0m3 0h0m323 0h0m62 0h0m131 0h0m71 0h0m-593 1h0m1 0h0m254 0h0m67 0h0m-320 1h0m256 0h0m46 0h0m150 0h0m-459 1h0m7 0h0m340 0h0m-347 1h0m0 0h0m249 0h0m4 0h0m5 0h0m56 0h0m-305 1h0m2 0h0m220 0h0m39 0h0m-268 1h0m3 0h0m1 0h0m2 0h0m1 1h0m222 0h0m9 0h0m200 0h0m59 0h0m-498 1h0m7 0h0m238 0h0m19 0h0m2 0h0m1 0h0m55 0h0m-322 2h0m9 0h0m491 0h0m-497 1h0m5 0h0m218 0h0m56 0h0m7 0h0m-287 1h0m-1 1h0m3 0h0m1 0h0m219 0h0m97 0h0m-322 1h0m5 0h0m0 0h0m233 0h0m7 0h0m39 0h0m22 0h0m178 0h0m-483 1h0m3 0h0m398 0h0m239 0h0m-634 1h0m1 2h0m190 0h0m12 0h0m81 0h0m-288 1h0m4 0h0m191 0h0m18 0h0m0 0h0m9 0h0m10 0h0m14 0h0m-60 1h0m124 0h0m-311 1h0m2 0h0m2 0h0m4 0h0m210 0h0m-219 1h0m7 0h0m180 0h0m36 0h0m24 0h0m-240 1h0m580 0h0m-587 1h0m0 0h0m241 0h0m33 0h0m-268 1h0m401 0h0m-399 1h0m201 0h0m106 0h0m65 0h0m112 0h0m-482 1h0m179 0h0m21 0h0m37 0h0m117 0h0" fill="none" stroke="#1f77b4" stroke-opacity="0.75" stroke-width="8.8" stroke-linecap="round"/>
<line x1="80" y1="286.9" x2="333" y2="33.2" stroke="#000" stroke-width="2.2" stroke-dasharray="8.2 3.6"/>
</g>
<rect x="80" y="33.2" width="253" height="253.7" fill="none" stroke="#000" stroke-width="1.9"/>
<rect x="86.5" y="40" width="101.8" height="46.3" rx="3" fill="#fff" fill-opacity="0.8" stroke="#d0d0d0" stroke-width="1.2"/>
<path d="M99.8 53H111.6M105.7 47.1V58.9" stroke="#1f77b4" stroke-opacity="0.55" stroke-width="1.9"/>
<line x1="91.9" y1="72.8" x2="120" y2="72.8" stroke="#000" stroke-width="2.2" stroke-dasharray="8.2 3.6"/>
<g font-family="'DejaVu Sans', sans-serif" fill="#262626" font-size="13.7"><text x="131" y="57">R=0.81</text><text x="131" y="77.4">y=x</text></g>
<g font-family="'DejaVu Sans', sans-serif" fill="#262626" font-size="16"><text x="80" y="312.9" text-anchor="middle">0.5</text><text x="130.6" y="312.9" text-anchor="middle">0.6</text><text x="181.2" y="312.9" text-anchor="middle">0.7</text><text x="231.8" y="312.9" text-anchor="middle">0.8</text><text x="282.4" y="312.9" text-anchor="middle">0.9</text><text x="333" y="312.9" text-anchor="middle">1.0</text><text x="67" y="293.7" text-anchor="end">0.5</text><text x="67" y="242.96" text-anchor="end">0.6</text><text x="67" y="192.22" text-anchor="end">0.7</text><text x="67" y="141.48" text-anchor="end">0.8</text><text x="67" y="90.74" text-anchor="end">0.9</text><text x="67" y="40" text-anchor="end">1.0</text></g>
<text x="206.5" y="335" text-anchor="middle" font-family="'DejaVu Sans', sans-serif" fill="#262626" font-size="17.8">Teacher MI Accuracy</text>
<text transform="translate(31.9 160.3) rotate(-90)" text-anchor="middle" font-family="'DejaVu Sans', sans-serif" fill="#262626" font-size="18">End-to-End LiRA MI Accuracy</text>
<text x="96.3" y="409.8" letter-spacing="-0.5" font-family="'DejaVu Serif', serif" fill="#000" font-size="27">(a) CIFAR-10</text>
<clipPath id="clipb"><rect x="440.2" y="28.1" width="266.7" height="267.1"/></clipPath>
<g clip-path="url(#clipb)"><path d="M600.1 253.1L600.1 254.9L603.9 254.9L603.9 253.1ZM593.1 249.1L594.1 254.9L595.9 254.9L595.9 249.1ZM494.9 246.1L493.1 246.1L492.1 249.9L493.9 249.9ZM594.1 234.1L593.1 236.9L596.9 237.9L596.9 234.1ZM510.1 230.1L510.1 231.9L513.1 232.1L512.1 233.1L512.1 235.9L513.9 235.9L514.9 231.1ZM589.1 229.1L588.1 231.9L590.9 231.9L590.9 229.1ZM523.9 224.1L522.1 224.1L521.9 225.1L518.1 224.1L518.1 225.9L516.1 226.1L517.1 229.9L520.9 230.9L520.9 229.1L519.1 229.1L518.9 227.1L523.9 226.9ZM584.1 220.1L584.1 223.9L587.9 222.9L587.9 221.1ZM527.1 216.1L527.1 220.9L528.9 220.9L529.9 218.1L528.9 217.9L528.9 216.1ZM561.1 211.1L562.1 214.9L563.9 214.9L563.9 212.1ZM588.9 208.1L585.1 208.1L583.9 210.1L578.1 212.1L578.1 213.9L576.1 214.1L576.1 215.9L579.9 214.9L579.9 213.1L581.9 212.9L582.1 211.9L585.9 212.9L586.1 210.9L587.1 211.1L587.1 212.9L588.9 212.9L588.9 211.1L586.9 210.9L587.1 209.9L588.9 209.9ZM567.1 208.9L571.9 207.9L571.9 206.1L568.1 206.1ZM536.9 203.1L534.1 203.1L535.1 206.9L533.1 207.1L532.9 212.1L530.1 211.1L529.9 210.1L528.1 210.1L528.1 213.9L530.9 212.9L532.1 214.1L531.1 219.9L532.9 219.9L534.1 217.9L535.9 217.9L535.9 216.1L534.9 215.9L534.9 211.1L536.9 210.9ZM541.1 196.1L540.1 198.9L539.1 199.1L539.1 202.9L541.1 204.1L541.1 205.9L548.9 205.9L548.9 204.1L547.1 204.1L545.9 202.9L547.9 200.9L547.9 199.1L543.1 200.1L542.9 196.1ZM542.9 202.1L543.9 201.9L544.1 202.9L543.1 203.1ZM540.9 201.1L542.9 200.9L543.1 201.9L541.1 202.1ZM628.1 192.1L627.1 195.9L629.9 195.9L629.9 192.1ZM707.9 31.1L704.1 31.1L701.1 34.1L700.9 36.1L697.1 37.1L698.1 39.9L695.1 40.1L693.1 42.1L693.1 43.9L691.1 44.1L691.1 45.9L689.9 47.1L688.1 47.1L687.1 49.9L685.9 51.1L684.1 51.1L684.1 52.9L682.1 53.1L682.1 54.9L680.1 55.1L677.9 59.1L676.1 59.1L675.9 61.1L674.1 61.1L673.1 64.9L669.1 66.1L667.1 68.1L667.1 69.9L663.9 73.1L662.1 73.1L662.1 74.9L657.9 79.1L655.1 79.1L654.1 82.9L649.1 86.1L648.9 89.1L647.1 89.1L646.9 90.1L644.1 91.1L644.1 92.9L641.1 95.1L640.9 97.1L639.1 97.1L637.9 99.1L636.1 99.1L635.9 100.1L633.1 100.1L633.1 102.9L632.1 103.1L632.1 104.9L630.9 106.1L629.1 106.1L629.1 108.9L625.1 109.1L625.1 112.9L621.1 114.1L621.1 115.9L619.1 116.1L618.9 118.1L617.1 118.1L615.9 120.1L614.1 120.1L614.1 122.9L612.1 123.1L609.1 126.1L609.1 127.9L607.9 129.1L606.1 129.1L604.9 131.1L603.1 131.1L602.1 134.9L600.1 135.1L600.1 136.9L597.9 139.1L595.1 139.1L595.1 141.9L593.9 143.1L592.1 143.1L592.1 144.9L590.1 145.1L590.1 146.9L586.9 150.1L583.1 151.1L583.1 152.9L581.9 154.1L580.1 154.1L580.1 156.9L577.9 159.1L576.1 159.1L576.1 160.9L574.1 161.1L574.1 162.9L572.9 164.1L569.1 165.1L570.1 167.9L567.1 168.1L566.9 170.1L564.1 170.1L564.1 171.9L562.1 173.1L562.1 174.9L560.1 175.1L556.1 179.1L556.1 181.9L553.1 182.1L551.1 184.1L550.1 189.9L554.9 188.9L555.1 190.9L552.1 191.1L551.9 193.1L550.9 192.1L548.1 192.1L548.1 194.9L546.1 195.1L547.1 197.9L548.9 197.9L548.9 196.1L550.9 195.9L552.1 193.9L556.9 193.9L557.1 196.9L559.9 196.9L559.9 194.1L557.1 194.1L556.9 193.1L562.9 192.9L562.1 195.9L565.1 196.1L564.9 200.1L563.9 199.9L562.9 197.1L561.1 197.1L561.1 200.9L559.1 201.1L559.1 202.9L558.1 203.1L558.1 204.9L556.9 206.1L555.9 205.9L555.9 204.1L553.1 204.1L552.9 202.1L551.1 202.1L551.1 203.9L552.1 204.1L552.1 206.9L551.1 207.1L552.1 210.9L554.9 210.9L554.9 209.1L552.9 207.9L553.1 206.9L555.9 206.9L556.1 207.9L559.9 208.9L559.9 204.1L561.9 203.9L562.1 202.9L564.9 202.9L566.1 204.9L568.9 204.9L567.9 202.1L570.9 200.9L570.9 198.1L569.9 197.9L568.9 195.1L570.9 194.9L570.9 191.1L572.1 189.9L573.9 189.9L574.1 187.9L575.1 188.1L575.1 189.9L577.1 190.1L576.1 194.9L574.9 196.1L572.1 195.1L572.1 197.9L573.1 198.1L573.1 199.9L572.1 200.1L572.1 203.9L577.1 204.1L576.9 207.1L574.1 206.1L574.1 208.9L573.1 209.1L574.1 212.9L575.9 212.9L575.9 209.1L577.9 208.9L578.9 205.1L581.9 204.9L581.9 203.1L579.9 202.9L579.9 200.1L578.1 200.1L578.1 201.9L577.1 202.1L576.9 200.1L574.9 199.9L576.1 197.9L577.9 197.9L578.1 198.9L581.9 198.9L582.1 200.9L585.9 201.9L586.1 205.9L587.9 205.9L588.1 203.9L590.9 203.9L591.9 202.9L592.1 204.9L595.1 206.1L594.9 208.1L592.1 208.1L591.1 209.1L591.1 211.9L590.1 212.1L589.1 217.9L590.9 217.9L590.9 216.1L591.9 215.9L592.1 219.9L589.1 220.1L589.1 221.9L590.9 221.9L591.1 222.9L594.9 222.9L595.1 226.9L597.9 225.9L599.1 227.1L599.1 228.9L597.1 229.1L596.9 230.1L595.9 229.9L595.9 228.1L594.1 228.1L594.1 230.9L598.9 231.9L601.1 234.1L600.9 235.1L598.1 235.1L598.1 237.9L601.9 238.9L601.9 236.1L603.9 234.9L604.1 231.9L605.1 232.1L605.1 234.9L607.1 235.1L606.9 238.1L605.9 237.1L603.1 237.1L603.1 239.9L606.1 242.1L605.1 243.1L606.1 247.9L605.1 248.1L603.9 246.9L603.9 242.1L602.1 242.1L601.9 241.1L599.1 241.1L598.1 245.9L600.1 246.1L600.1 250.9L601.1 251.9L605.9 251.9L606.1 253.9L608.1 254.1L607.9 255.1L606.1 255.1L607.1 259.9L608.1 260.1L608.1 263.9L610.9 263.9L611.1 262.9L616.9 262.9L616.9 264.1L615.1 264.1L615.1 265.9L616.9 265.9L616.9 264.1L618.9 263.9L618.9 262.1L619.9 261.9L619.9 260.1L617.9 258.9L617.9 257.1L614.1 257.1L613.9 255.1L611.9 254.9L611.9 252.1L610.9 251.1L606.9 250.9L606.9 249.1L608.1 247.9L609.1 248.9L613.9 248.9L613.1 251.9L615.9 251.9L615.9 250.1L617.9 249.9L620.1 255.9L622.9 254.9L624.1 256.9L626.1 257.1L625.9 260.1L623.9 258.1L622.1 258.1L621.1 261.9L625.9 261.9L626.1 260.9L630.9 261.9L630.9 260.1L628.9 258.9L628.9 255.1L627.9 254.1L631.9 253.9L632.1 254.9L633.9 254.9L634.1 253.9L636.9 253.9L636.9 252.1L633.1 252.1L632.9 251.1L634.1 249.9L636.9 249.9L636.9 247.1L638.1 245.9L642.9 244.9L642.9 243.1L645.9 241.9L645.1 238.9L648.9 238.9L649.9 237.9L649.9 235.1L651.9 233.9L650.9 230.1L654.9 229.9L654.9 227.1L655.9 226.9L655.9 224.1L657.9 221.9L657.9 219.1L660.9 217.9L660.9 215.1L661.9 214.9L661.9 212.1L662.9 211.9L662.9 208.1L665.9 206.9L665.9 202.1L667.9 201.9L667.9 199.1L669.9 197.9L669.9 195.1L671.9 193.9L671.9 192.1L672.9 191.9L672.9 189.1L674.9 186.9L674.9 182.1L676.9 180.9L676.9 177.1L678.9 175.9L679.9 172.1L681.9 170.9L681.9 168.1L682.9 167.9L682.9 165.1L683.9 164.9L683.9 161.1L684.9 160.9L684.9 157.1L685.9 156.9L685.9 154.1L687.9 152.9L686.9 150.1L688.9 149.9L688.9 146.1L690.9 143.9L690.9 137.1L692.9 136.9L691.9 133.1L693.9 132.9L693.9 130.1L694.9 129.9L695.9 116.1L696.9 115.9L696.9 113.1L697.9 112.9L698.9 104.1L700.9 101.9L699.9 99.1L701.9 96.9L701.9 91.1L702.9 90.9L702.9 80.1L704.9 79.9L704.9 78.1L703.9 77.9L703.9 73.1L705.9 71.9L705.9 68.1L706.9 67.9L706.9 64.1L705.9 63.9L706.9 50.1L705.9 49.1L706.9 48.9L706.9 45.1L707.9 44.9L707.9 39.1L706.9 38.9L707.9 37.9ZM612.9 258.1L613.9 257.9L614.1 258.9L613.1 259.1ZM611.9 254.9L611.1 258.9L609.1 259.1L608.9 257.1L609.9 256.9L609.9 255.1ZM620.9 253.1L621.9 252.9L622.1 253.9L621.1 254.1ZM607.9 253.1L608.9 252.9L609.1 253.9L608.1 254.1ZM602.9 249.1L603.9 248.9L604.1 249.9L603.1 250.1ZM620.9 247.1L621.9 246.9L622.1 247.9L621.1 248.1ZM626.9 244.1L627.9 243.9L628.1 244.9L627.1 245.1ZM606.9 243.1L608.9 242.9L609.1 244.9L608.1 245.1ZM614.1 241.9L617.1 243.1L616.9 246.1L612.9 245.9L613.9 244.9ZM632.9 241.1L633.9 240.9L635.1 242.9L633.1 243.1ZM622.1 240.9L623.1 241.1L622.9 243.1L621.9 242.9ZM614.9 239.1L617.9 238.9L618.1 239.9L615.1 240.1ZM607.9 238.1L611.9 238.9L612.1 240.9L608.1 241.1ZM619.9 236.1L620.9 235.9L621.1 236.9L620.1 237.1ZM633.9 235.1L635.9 234.9L636.1 236.9L634.1 237.1ZM625.9 235.1L627.9 234.9L628.1 235.9L626.1 236.1ZM616.9 234.1L617.9 233.9L618.1 234.9L617.1 235.1ZM645.9 234.1L647.9 232.9L649.1 234.9L646.1 235.1ZM628.9 233.1L629.9 232.9L630.1 233.9L629.1 234.1ZM607.9 233.1L609.9 232.9L611.1 234.9L608.1 235.1ZM617.9 231.1L621.9 231.9L622.1 233.9L618.1 234.1ZM609.9 231.1L611.9 230.9L612.1 231.9L610.1 232.1ZM600.9 231.1L603.9 230.9L604.1 231.9L601.1 232.1ZM629.9 230.1L630.9 229.9L631.1 230.9L630.1 231.1ZM626.1 229.9L627.1 230.1L626.9 232.1L625.9 231.9ZM638.1 228.9L639.1 229.1L639.1 230.9L637.1 231.1L636.9 230.1ZM612.9 228.9L613.1 226.9L615.1 227.1L613.9 229.1ZM609.9 226.1L610.9 225.9L611.1 226.9L610.1 227.1ZM616.9 225.1L619.9 225.9L620.1 226.9L617.1 227.1ZM603.9 225.1L607.9 224.9L608.1 227.9L609.9 227.9L610.1 229.9L607.1 230.1L606.1 231.1L604.9 228.1L606.9 227.9L606.9 226.1L604.1 226.1ZM609.9 223.1L610.9 222.9L611.1 223.9L610.1 224.1ZM612.9 223.9L613.1 219.9L617.1 221.1L616.9 222.1L614.1 222.1L614.1 223.9ZM636.1 218.9L637.1 219.1L636.9 221.1L635.9 220.9ZM618.1 218.9L620.1 220.1L620.9 225.1L618.9 223.9ZM593.9 220.1L595.1 218.9L597.1 219.1L596.9 221.1L594.1 221.1ZM609.9 218.1L612.9 217.9L613.1 218.9L610.1 219.1ZM636.9 217.1L637.9 216.9L638.1 217.9L637.1 218.1ZM622.9 217.1L623.9 216.9L624.1 217.9L623.1 218.1ZM597.9 217.1L598.9 216.9L599.1 217.9L598.1 218.1ZM612.9 216.1L613.9 215.9L614.1 216.9L613.1 217.1ZM606.9 215.9L608.1 217.1L609.1 221.9L607.9 223.1L602.1 223.1L601.9 224.1L600.1 224.1L598.9 222.9L599.1 221.9L603.9 221.9L604.1 220.9L606.9 221.9L606.9 220.1L604.9 217.9L604.9 216.1ZM631.9 215.1L632.9 214.9L633.1 215.9L632.1 216.1ZM603.9 215.1L604.9 214.9L605.1 215.9L604.1 216.1ZM628.1 213.9L629.1 214.1L629.1 215.9L627.1 216.1L626.9 215.1ZM622.1 213.9L623.1 214.1L622.9 216.1L621.9 215.9ZM616.9 214.1L617.9 213.9L618.1 214.9L617.1 215.1ZM617.9 213.1L619.9 212.9L620.1 213.9L618.1 214.1ZM595.9 213.1L598.9 213.9L599.1 214.9L596.1 215.1ZM624.1 211.9L625.1 212.1L625.1 213.9L623.1 214.1L622.9 213.1ZM614.1 211.9L615.1 212.1L614.9 214.1L613.9 213.9ZM605.9 211.1L606.9 210.9L608.1 212.9L606.1 213.1ZM597.9 211.1L598.9 210.9L599.1 211.9L598.1 212.1ZM619.9 210.1L620.9 209.9L622.1 211.9L620.1 212.1ZM616.9 210.1L617.9 209.9L618.1 210.9L617.1 211.1ZM608.9 210.1L609.9 209.9L610.1 210.9L609.1 211.1ZM603.9 209.1L604.9 208.9L605.1 209.9L604.1 210.1ZM611.9 208.1L612.9 207.9L614.1 209.9L612.1 210.1ZM614.9 206.1L617.9 205.9L618.1 206.9L615.1 207.1ZM619.9 205.1L620.9 204.9L621.1 205.9L620.1 206.1ZM617.9 204.1L619.9 203.9L620.1 204.9L618.1 205.1ZM622.1 202.9L623.9 202.9L625.1 204.1L624.1 205.1L624.9 208.1L622.9 207.9ZM612.9 202.9L613.1 204.9L610.9 207.1L609.1 207.1L609.9 203.1ZM606.9 203.1L607.9 202.9L608.1 203.9L607.1 204.1ZM602.1 202.9L604.1 203.1L603.9 209.1L601.1 209.1L600.9 207.1L598.9 205.9L599.1 204.9L601.9 204.9ZM600.9 202.1L601.9 201.9L602.1 202.9L601.1 203.1ZM623.9 201.1L624.9 200.9L625.1 201.9L624.1 202.1ZM616.9 201.1L618.1 199.9L620.9 199.9L622.1 201.1L622.1 202.9L620.1 203.1L619.9 202.1L617.1 202.1ZM614.9 199.9L615.1 201.9L613.1 203.1L612.9 200.1ZM604.1 199.9L605.1 200.1L604.9 203.1L603.9 202.9ZM590.9 200.1L591.9 199.9L592.1 200.9L591.1 201.1ZM635.9 199.1L636.9 198.9L637.1 199.9L636.1 200.1ZM630.1 198.9L631.1 199.1L631.1 200.9L629.1 201.1L628.9 200.1ZM625.9 199.1L626.9 198.9L627.1 199.9L626.1 200.1ZM641.1 197.9L642.1 198.1L641.9 200.1L640.9 199.9ZM607.9 198.1L608.9 197.9L611.1 200.9L608.1 202.1ZM599.1 196.9L600.1 197.1L599.9 200.1L598.9 199.9ZM586.9 196.1L588.9 195.9L591.1 197.9L589.9 199.1L587.1 199.1ZM580.9 195.1L583.9 194.9L585.1 196.1L585.1 197.9L582.1 198.1L580.9 196.9ZM615.9 197.9L617.1 193.9L621.1 195.1L621.1 196.9L619.9 198.1ZM607.9 193.9L608.1 196.9L604.1 196.1L604.1 197.9L602.1 200.1L601.9 197.1L602.9 196.9L602.9 195.1ZM578.1 193.9L579.1 194.1L578.9 196.1L577.9 195.9ZM638.1 192.9L640.1 194.1L639.1 195.1L638.9 199.1L637.9 198.9ZM612.9 192.1L613.9 191.9L614.1 192.9L613.1 193.1ZM580.9 192.1L581.9 191.9L582.1 192.9L581.1 193.1ZM563.9 191.1L565.9 190.9L566.1 189.9L569.1 190.1L567.9 194.1L566.1 194.1ZM560.9 190.1L561.9 189.9L562.1 190.9L561.1 191.1ZM596.9 188.9L598.1 190.1L597.1 193.9L599.9 193.9L600.1 194.9L596.1 196.1L597.1 200.9L594.1 201.1L592.9 199.9L592.9 197.1L591.9 196.9L591.9 193.1L592.9 192.9L594.1 194.9L595.9 194.9L595.9 189.1ZM557.1 188.9L558.1 189.1L557.9 191.1L556.9 190.9ZM558.9 188.1L560.9 187.9L561.1 188.9L559.1 189.1ZM562.1 186.9L564.1 187.1L563.9 190.1L562.9 189.9ZM613.9 186.1L617.9 185.9L618.1 187.9L616.1 188.1ZM587.9 186.1L588.9 185.9L589.1 186.9L588.1 187.1ZM585.1 185.9L586.1 186.1L585.9 188.1L584.9 187.9ZM580.9 186.1L582.9 185.9L583.1 187.9L581.1 188.1ZM599.9 185.1L600.9 184.9L602.1 186.9L600.1 187.1ZM593.9 185.1L595.9 184.9L596.1 186.9L594.1 187.1ZM606.1 182.9L607.9 182.9L608.1 183.9L610.9 183.9L611.1 182.9L614.1 183.1L613.9 186.1L609.1 186.1L609.1 187.9L613.1 188.1L612.9 192.1L610.1 191.1L608.9 189.1L607.1 189.1L606.9 188.1L605.1 188.1L604.9 192.1L601.9 190.9L602.9 189.9L602.9 187.1L605.9 185.9ZM613.9 181.1L615.9 180.9L616.1 179.9L618.9 180.9L619.1 179.9L621.9 179.9L622.9 178.9L623.1 179.9L624.9 179.9L626.1 181.1L625.9 182.1L623.1 182.1L623.1 184.9L626.9 184.9L627.1 181.9L631.9 182.9L632.1 184.9L634.1 186.1L634.1 188.9L635.9 188.9L638.1 191.9L636.1 192.1L634.9 190.1L632.1 190.1L631.1 191.1L631.1 193.9L634.9 193.9L636.1 195.1L636.1 196.9L629.1 197.1L627.1 199.1L626.9 197.1L624.9 196.9L625.9 195.9L625.9 191.1L629.9 190.9L629.9 189.1L624.1 189.1L624.1 193.9L621.1 194.1L619.9 192.1L621.9 191.9L621.9 189.1L620.9 188.9L620.9 186.1L618.9 184.9L618.9 182.1L617.1 182.1L617.1 183.9L616.1 184.1L615.9 183.1L613.9 182.9Z" fill="#1f77b4"/><path transform="scale(0.25)" d="M2816 120h0m1 1h0m9 1h0m-10 1h0m2 4h0m-10 1h0m2 0h0m8 2h0m0 1h0m4 0h0m-11 4h0m-1 1h0m-22 1h0m19 0h0m1 0h0m1 1h0m1 1h0m9 0h0m8 0h0m-27 2h0m6 0h0m10 1h0m-10 1h0m5 0h0m-8 1h0m2 0h0m19 0h0m5 1h0m-44 2h0m24 2h0m-18 1h0m20 0h0m-20 1h0m0 0h0m9 2h0m-7 1h0m-6 1h0m9 0h0m6 0h0m21 0h0m5 0h0m-30 1h0m0 1h0m-6 1h0m-13 2h0m9 0h0m-7 1h0m7 0h0m38 0h0m-53 1h0m7 0h0m3 0h0m-5 2h0m7 0h0m8 0h0m-7 1h0m12 0h0m-22 1h0m7 0h0m4 0h0m-9 2h0m3 1h0m-7 1h0m14 1h0m-24 2h0m7 0h0m8 0h0m-5 1h0m50 0h0m-64 2h0m2 0h0m4 0h0m-5 1h0m11 1h0m4 0h0m45 0h0m-54 2h0m1 1h0m7 0h0m49 0h0m-62 1h0m5 0h0m3 3h0m54 0h0m-72 2h0m1 1h0m8 0h0m61 0h0m-58 1h0m1 0h0m5 0h0m2 0h0m51 0h0m-72 2h0m3 0h0m65 0h0m-73 1h0m14 0h0m1 0h0m57 1h0m-70 1h0m13 0h0m-15 1h0m20 0h0m-14 1h0m-6 2h0m76 1h0m-109 2h0m25 0h0m7 0h0m0 0h0m6 0h0m2 0h0m71 0h0m-86 1h0m4 0h0m3 0h0m7 0h0m71 0h0m3 0h0m-7 1h0m-69 1h0m-10 1h0m-5 1h0m8 0h0m10 0h0m2 0h0m-13 1h0m2 0h0m6 2h0m1 0h0m-16 1h0m3 0h0m3 0h0m1 0h0m9 0h0m-24 1h0m5 0h0m1 0h0m9 0h0m80 0h0m-81 1h0m-5 1h0m3 1h0m-33 3h0m19 0h0m11 0h0m5 0h0m3 0h0m74 0h0m-80 1h0m-17 1h0m16 0h0m-14 1h0m6 0h0m2 0h0m1 1h0m-12 3h0m8 0h0m-11 1h0m1 0h0m17 0h0m-19 1h0m3 0h0m3 0h0m4 0h0m97 0h0m-97 1h0m7 0h0m-10 1h0m7 0h0m-10 1h0m-18 2h0m23 0h0m-12 2h0m10 0h0m-8 1h0m-3 1h0m10 1h0m-14 1h0m6 2h0m2 0h0m4 0h0m4 0h0m-8 1h0m8 0h0m-22 1h0m9 0h0m1 0h0m-5 1h0m9 0h0m2 1h0m-37 1h0m21 1h0m2 1h0m-7 1h0m5 0h0m-5 1h0m13 1h0m-5 1h0m6 0h0m106 0h0m-124 1h0m13 0h0m-13 2h0m1 0h0m2 1h0m4 1h0m0 0h0m-2 1h0m119 0h0m-139 1h0m4 0h0m9 0h0m1 1h0m8 0h0m4 1h0m112 0h0m-127 1h0m-6 1h0m-10 1h0m16 0h0m2 0h0m9 0h0m-21 1h0m8 0h0m12 0h0m-18 1h0m139 0h0m-124 1h0m4 0h0m-25 1h0m21 1h0m-5 1h0m4 0h0m4 0h0m-26 2h0m9 0h0m3 1h0m-19 2h0m17 1h0m-11 2h0m4 0h0m7 0h0m-22 1h0m14 0h0m-9 1h0m6 1h0m147 2h0m-156 1h0m7 0h0m143 0h0m-155 1h0m7 0h0m6 2h0m4 0h0m0 0h0m-7 1h0m7 0h0m135 0h0m3 0h0m-146 1h0m6 0h0m-14 1h0m10 0h0m-9 1h0m-5 1h0m7 0h0m4 2h0m3 0h0m2 0h0m137 0h0m-163 2h0m10 1h0m0 0h0m8 1h0m-36 1h0m33 0h0m-12 1h0m-6 1h0m11 0h0m8 1h0m150 0h0m-169 1h0m14 0h0m155 0h0m-156 1h0m-35 1h0m20 0h0m15 0h0m-3 1h0m157 0h0m9 0h0m-184 3h0m19 0h0m-22 1h0m6 0h0m1 1h0m8 1h0m6 0h0m-17 1h0m175 0h0m-178 1h0m10 0h0m-6 1h0m5 0h0m1 0h0m-12 1h0m13 1h0m-23 1h0m11 1h0m4 0h0m-4 1h0m0 0h0m185 0h0m-193 1h0m3 0h0m3 0h0m2 0h0m7 0h0m-12 1h0m-9 2h0m188 0h0m-173 1h0m174 0h0m-185 1h0m2 0h0m0 0h0m-2 1h0m0 0h0m3 1h0m-1 2h0m183 0h0m-190 1h0m7 0h0m-6 1h0m-2 1h0m193 0h0m-188 1h0m5 0h0m-16 1h0m3 0h0m2 0h0m-1 2h0m1 0h0m3 0h0m0 0h0m-9 1h0m5 0h0m-5 3h0m4 0h0m0 0h0m196 0h0m-204 1h0m6 0h0m-10 2h0m15 0h0m2 0h0m1 0h0m-25 1h0m22 0h0m-9 1h0m4 0h0m0 0h0m7 0h0m2 0h0m-13 1h0m5 0h0m-13 1h0m207 0h0m-199 1h0m-12 1h0m9 0h0m207 0h0m-216 1h0m10 0h0m4 0h0m-16 1h0m9 3h0m-15 1h0m12 0h0m4 0h0m1 0h0m-19 1h0m9 0h0m-1 1h0m5 0h0m1 3h0m4 2h0m2 0h0m-16 1h0m5 0h0m2 0h0m1 2h0m1 0h0m-16 1h0m-57 1h0m52 0h0m6 0h0m8 0h0m2 0h0m1 0h0m1 1h0m-10 1h0m0 0h0m-2 1h0m6 0h0m212 0h0m-216 1h0m3 0h0m-4 1h0m-12 1h0m12 0h0m221 0h0m-223 1h0m-12 1h0m5 0h0m-4 1h0m3 0h0m11 0h0m-12 2h0m10 0h0m-4 1h0m5 0h0m1 0h0m-1 1h0m-19 1h0m3 0h0m9 0h0m6 0h0m-16 1h0m-36 2h0m38 0h0m11 0h0m-14 2h0m10 0h0m-12 1h0m6 0h0m-39 1h0m23 0h0m17 0h0m-29 1h0m9 1h0m16 0h0m-10 1h0m8 0h0m-19 2h0m4 0h0m2 1h0m8 0h0m4 0h0m-5 1h0m4 0h0m2 0h0m2 0h0m-9 1h0m7 0h0m1 0h0m1 0h0m5 0h0m-11 1h0m-10 3h0m9 0h0m-30 1h0m33 0h0m231 0h0m-235 1h0m-13 1h0m0 0h0m12 1h0m-7 1h0m2 0h0m-18 1h0m3 0h0m9 0h0m-3 1h0m250 0h0m-278 1h0m36 1h0m-19 1h0m-4 1h0m7 2h0m3 2h0m-5 1h0m-6 1h0m5 0h0m6 0h0m251 0h0m-296 1h0m43 0h0m254 0h0m-252 1h0m1 0h0m251 0h0m-269 1h0m5 0h0m3 1h0m-8 1h0m6 0h0m2 0h0m2 0h0m1 0h0m3 0h0m-6 1h0m-21 2h0m8 1h0m273 0h0m-267 1h0m9 0h0m-11 1h0m6 1h0m260 0h0m-272 1h0m9 0h0m2 0h0m3 0h0m267 0h0m-274 1h0m-7 1h0m-1 1h0m3 0h0m8 0h0m-12 2h0m-22 1h0m20 0h0m0 0h0m11 2h0m2 0h0m-22 2h0m6 0h0m16 0h0m-8 1h0m-24 1h0m17 1h0m0 1h0m1 0h0m4 0h0m-7 1h0m5 0h0m269 0h0m4 0h0m-280 1h0m-3 1h0m2 0h0m0 1h0m4 0h0m-10 1h0m2 1h0m3 2h0m-19 1h0m13 0h0m3 0h0m1 0h0m2 0h0m-14 1h0m0 0h0m11 0h0m0 0h0m6 0h0m-13 1h0m12 0h0m277 0h0m6 0h0m3 0h0m-286 1h0m-17 1h0m8 0h0m2 0h0m-5 1h0m9 0h0m2 0h0m277 0h0m-297 1h0m19 0h0m-16 1h0m1 0h0m1 1h0m296 0h0m-310 2h0m19 0h0m2 0h0m0 0h0m283 0h0m-300 1h0m13 0h0m-16 1h0m9 0h0m6 0h0m-8 1h0m1 0h0m293 0h0m-300 1h0m2 1h0m1 0h0m2 0h0m5 1h0m5 0h0m-18 1h0m6 0h0m3 0h0m10 0h0m-17 1h0m6 1h0m9 0h0m-22 1h0m1 1h0m4 0h0m4 0h0m-17 1h0m21 2h0m-21 1h0m1 0h0m-53 2h0m374 0h0m-326 1h0m2 0h0m21 0h0m1 0h0m-18 4h0m1 0h0m9 0h0m-15 2h0m0 1h0m-6 1h0m324 0h0m2 1h0m-316 1h0m0 2h0m-15 1h0m8 0h0m5 1h0m1 0h0m2 0h0m-11 2h0m-10 1h0m13 0h0m5 1h0m-8 1h0m12 0h0m-32 3h0m12 0h0m11 0h0m318 1h0m-384 2h0m47 1h0m2 1h0m11 1h0m1 0h0m-60 1h0m17 2h0m25 1h0m10 0h0m1 0h0m-29 1h0m24 0h0m335 0h0m-329 1h0m328 0h0m-332 1h0m-16 1h0m7 0h0m12 0h0m-9 1h0m4 0h0m4 0h0m2 0h0m-6 1h0m-2 1h0m9 0h0m-11 1h0m3 0h0m-15 1h0m17 1h0m-25 2h0m354 0h0m-339 1h0m336 0h0m4 0h0m-351 1h0m344 0h0m-338 1h0m2 0h0m0 0h0m2 0h0m3 0h0m-22 1h0m352 0h0m-395 1h0m52 0h0m11 1h0m-10 1h0m-10 1h0m10 0h0m-6 2h0m-79 3h0m77 2h0m3 1h0m2 1h0m348 1h0m-357 3h0m-10 1h0m4 0h0m1 0h0m0 0h0m9 0h0m-13 1h0m17 0h0m-15 1h0m2 1h0m-13 2h0m17 0h0m1 0h0m352 0h0m-362 1h0m2 1h0m7 0h0m3 0h0m-16 1h0m5 0h0m9 0h0m-15 1h0m11 0h0m354 0h0m3 0h0m-400 1h0m39 1h0m362 0h0m-373 1h0m4 0h0m0 0h0m-8 1h0m19 0h0m-3 1h0m-9 1h0m9 0h0m358 0h0m-365 1h0m-13 1h0m4 0h0m1 1h0m0 0h0m-91 2h0m90 0h0m-7 1h0m379 2h0m-443 1h0m65 0h0m376 0h0m9 1h0m-394 1h0m10 1h0m-4 1h0m-23 1h0m30 1h0m-12 1h0m12 0h0m2 0h0m-68 1h0m47 0h0m16 0h0m0 0h0m371 0h0m5 0h0m-386 1h0m2 0h0m10 0h0m3 0h0m1 0h0m-25 1h0m389 0h0m-377 1h0m-4 2h0m-5 1h0m-3 1h0m7 1h0m4 1h0m-14 1h0m3 0h0m0 0h0m392 0h0m-387 1h0m0 0h0m2 1h0m-50 1h0m44 0h0m0 0h0m-2 1h0m1 0h0m2 0h0m1 0h0m388 0h0m-389 1h0m-2 1h0m-12 2h0m9 0h0m-35 1h0m32 1h0m-12 1h0m4 1h0m12 0h0m3 0h0m3 0h0m-33 1h0m16 0h0m5 0h0m5 0h0m-13 1h0m-15 1h0m26 0h0m-12 1h0m-30 1h0m32 0h0m-8 1h0m5 0h0m0 1h0m11 0h0m-19 1h0m3 0h0m-11 2h0m414 0h0m-398 1h0m1 0h0m-5 1h0m-10 2h0m1 0h0m7 2h0m1 1h0m-11 1h0m14 0h0m-22 1h0m14 0h0m5 0h0m-7 1h0m404 0h0m-415 1h0m12 1h0m-38 2h0m37 0h0m-14 2h0m12 0h0m-9 1h0m4 1h0m411 0h0m0 0h0m-447 1h0m31 1h0m1 1h0m4 0h0m6 0h0m-20 1h0m4 0h0m13 0h0m-14 1h0m16 0h0m-19 2h0m15 0h0m0 0h0m411 0h0m-424 1h0m1 0h0m7 0h0m1 1h0m2 0h0m407 0h0m-414 1h0m415 1h0m-449 1h0m24 0h0m9 0h0m1 0h0m-19 2h0m433 0h0m-408 1h0m-20 2h0m429 0h0m2 0h0m-423 1h0m-15 2h0m4 0h0m432 0h0m-433 1h0m7 0h0m-12 1h0m16 0h0m1 0h0m2 0h0m-20 1h0m20 0h0m-23 2h0m7 0h0m3 1h0m-3 1h0m0 0h0m3 0h0m-15 1h0m-11 1h0m30 0h0m-18 1h0m11 0h0m435 0h0m-432 2h0m-44 1h0m39 0h0m-20 1h0m18 0h0m10 0h0m-10 1h0m0 1h0m-12 1h0m1 0h0m0 0h0m449 0h0m-4 1h0m-491 1h0m47 0h0m4 0h0m3 0h0m1 0h0m-8 1h0m0 3h0m3 0h0m-29 1h0m9 1h0m12 0h0m6 0h0m2 1h0m-16 2h0m454 0h0m-437 2h0m-17 1h0m6 0h0m-3 1h0m9 0h0m434 0h0m-445 1h0m6 0h0m439 0h0m-439 1h0m-6 1h0m-14 2h0m20 0h0m1 0h0m-18 1h0m-16 1h0m21 0h0m-13 1h0m13 0h0m-6 2h0m2 1h0m-5 1h0m4 0h0m-7 2h0m-26 1h0m17 0h0m13 0h0m454 3h0m-470 1h0m17 1h0m451 0h0m-458 1h0m-7 1h0m10 0h0m-12 1h0m5 0h0m460 0h0m-455 1h0m6 0h0m-20 1h0m10 0h0m4 0h0m2 1h0m450 0h0m-462 1h0m-7 1h0m250 0h0m-242 1h0m3 0h0m239 0h0m15 0h0m-267 1h0m4 0h0m3 0h0m2 0h0m252 0h0m-257 1h0m8 0h0m-14 1h0m14 0h0m-3 1h0m2 0h0m239 0h0m-258 1h0m14 0h0m3 0h0m218 0h0m4 0h0m36 0h0m9 1h0m-278 1h0m9 0h0m233 0h0m-232 1h0m1 0h0m214 0h0m-229 1h0m282 0h0m-272 1h0m215 0h0m60 0h0m189 0h0m-467 1h0m3 0h0m1 0h0m3 0h0m455 0h0m-460 1h0m2 0h0m241 0h0m-249 2h0m216 1h0m19 0h0m48 0h0m2 0h0m6 0h0m1 0h0m2 0h0m10 0h0m163 0h0m-467 1h0m214 0h0m26 0h0m52 0h0m-292 1h0m195 0h0m18 0h0m3 0h0m84 0h0m-334 1h0m2 0h0m4 0h0m16 0h0m5 0h0m4 0h0m-39 1h0m250 0h0m85 0h0m9 0h0m3 0h0m-303 1h0m-18 1h0m17 0h0m203 0h0m50 0h0m11 0h0m38 0h0m-315 1h0m-10 1h0m233 0h0m74 0h0m-298 1h0m4 0h0m199 0h0m52 0h0m-242 1h0m144 0h0m46 0h0m77 0h0m32 0h0m168 0h0m-483 1h0m160 0h0m58 0h0m17 0h0m-240 1h0m5 0h0m194 0h0m85 0h0m46 0h0m-336 1h0m9 0h0m139 0h0m10 0h0m4 0h0m0 0h0m42 0h0m54 0h0m60 0h0m-171 1h0m71 0h0m71 0h0m44 0h0m7 0h0m3 0h0m-329 1h0m1 0h0m142 0h0m52 0h0m46 0h0m72 0h0m166 0h0m-488 1h0m5 0h0m4 0h0m4 0h0m28 0h0m8 0h0m87 0h0m50 0h0m-206 1h0m73 0h0m150 0h0m36 0h0m29 0h0m64 0h0m152 0h0m-477 1h0m44 0h0m62 0h0m12 0h0m3 0h0m35 0h0m74 0h0m-226 1h0m134 0h0m5 0h0m8 0h0m44 0h0m63 0h0m10 0h0m-220 1h0m3 0h0m99 0h0m-57 1h0m1 0h0m63 0h0m65 0h0m23 0h0m-247 1h0m51 0h0m36 0h0m3 0h0m57 0h0m39 0h0m49 0h0m0 0h0m87 0h0m8 0h0m-352 1h0m11 0h0m62 0h0m32 0h0m12 0h0m51 0h0m23 0h0m2 0h0m-126 1h0m44 0h0m6 0h0m20 0h0m5 0h0m18 0h0m32 0h0m9 0h0m9 0h0m37 0h0m22 0h0m83 0h0m-172 1h0m11 0h0m24 0h0m13 0h0m34 0h0m83 0h0m11 0h0m3 0h0m-349 1h0m51 0h0m13 0h0m0 0h0m66 0h0m29 0h0m13 0h0m20 0h0m161 0h0m138 0h0m-478 1h0m36 0h0m76 0h0m49 0h0m105 0h0m-270 1h0m53 0h0m91 0h0m2 0h0m39 0h0m116 0h0m7 0h0m-312 1h0m74 0h0m5 0h0m27 0h0m67 0h0m19 0h0m10 0h0m48 0h0m9 0h0m28 0h0m63 0h0m131 0h0m-465 1h0m38 0h0m15 0h0m45 0h0m15 0h0m169 0h0m4 0h0m41 0h0m-236 1h0m93 0h0m19 0h0m40 0h0m52 0h0m42 0h0m-325 1h0m53 0h0m112 0h0m82 0h0m-235 1h0m66 0h0m32 0h0m5 0h0m111 0h0m5 0h0m46 0h0m-310 1h0m78 0h0m32 0h0m154 0h0m23 0h0m28 0h0m44 0h0m-282 1h0m177 0h0m74 0h0m4 0h0m12 0h0m17 0h0m-417 1h0m310 0h0m-233 1h0m75 0h0m39 0h0m93 0h0m72 0h0m24 0h0m34 0h0m-363 1h0m17 0h0m26 0h0m251 0h0m-294 1h0m96 0h0m38 0h0m116 0h0m19 0h0m220 0h0m-457 1h0m66 0h0m34 0h0m92 0h0m17 0h0m46 0h0m14 0h0m30 0h0m31 0h0m4 0h0m122 0h0m-444 1h0m3 0h0m34 0h0m37 0h0m77 0h0m16 0h0m21 0h0m6 0h0m128 0h0m-350 1h0m59 0h0m30 0h0m94 0h0m9 0h0m51 0h0m89 0h0m21 0h0m2 0h0m-262 1h0m98 0h0m96 0h0m64 0h0m-362 1h0m24 0h0m8 0h0m63 0h0m19 0h0m132 0h0m233 0h0m-303 1h0m56 0h0m29 0h0m108 0h0m0 0h0m-374 1h0m22 0h0m77 0h0m5 0h0m37 0h0m39 0h0m13 0h0m22 0h0m0 0h0m12 0h0m36 0h0m4 0h0m-245 1h0m225 0h0m39 0h0m59 0h0m18 0h0m-352 1h0m46 0h0m124 0h0m1 0h0m16 0h0m2 0h0m82 0h0m31 0h0m53 0h0m120 0h0m-483 1h0m92 0h0m45 0h0m6 0h0m1 0h0m95 0h0m10 0h0m5 0h0m60 0h0m32 0h0m13 0h0m123 0h0m-476 1h0m53 0h0m1 0h0m12 0h0m164 0h0m82 0h0m49 0h0m1 0h0m-320 1h0m5 0h0m8 0h0m108 0h0m68 0h0m3 0h0m15 0h0m5 0h0m31 0h0m-257 1h0m2 0h0m41 0h0m181 0h0m54 0h0m-257 1h0m84 0h0m64 0h0m19 0h0m78 0h0m27 0h0m2 0h0m42 0h0m-375 1h0m3 0h0m52 0h0m71 0h0m8 0h0m18 0h0m110 0h0m88 0h0m7 0h0m11 0h0m-306 1h0m9 0h0m79 0h0m14 0h0m39 0h0m3 0h0m85 0h0m8 0h0m52 0h0m-379 1h0m20 0h0m44 0h0m59 0h0m164 0h0m10 0h0m66 0h0m-343 1h0m2 0h0m211 0h0m37 0h0m129 0h0m-343 1h0m40 0h0m71 0h0m30 0h0m0 0h0m97 0h0m84 0h0m26 0h0m-342 1h0m1 0h0m-43 1h0m27 0h0m26 0h0m7 0h0m23 0h0m33 0h0m85 0h0m95 0h0m37 0h0m156 0h0m-512 1h0m141 0h0m4 0h0m9 0h0m141 0h0m48 0h0m23 0h0m47 0h0m-223 1h0m24 0h0m43 0h0m1 0h0m4 0h0m61 0h0m24 0h0m36 0h0m22 0h0m7 0h0m-407 1h0m53 0h0m1 0h0m42 0h0m62 0h0m57 0h0m20 0h0m24 0h0m76 0h0m0 0h0m17 0h0m9 0h0m-340 1h0m81 0h0m7 0h0m89 0h0m26 0h0m101 0h0m41 0h0m2 0h0m40 0h0m-407 1h0m98 0h0m170 0h0m234 0h0m-530 1h0m157 0h0m40 0h0m22 0h0m37 0h0m42 0h0m92 0h0m17 0h0m119 0h0m-481 1h0m14 0h0m51 0h0m1 0h0m66 0h0m13 0h0m57 0h0m82 0h0m0 0h0m12 0h0m45 0h0m31 0h0m111 0h0m-408 1h0m74 0h0m77 0h0m2 0h0m8 0h0m246 0h0m-448 1h0m25 0h0m254 0h0m6 0h0m43 0h0m21 0h0m6 0h0m93 0h0m-488 1h0m2 0h0m98 0h0m14 0h0m125 0h0m5 0h0m71 0h0m58 0h0m15 0h0m-390 1h0m118 0h0m46 0h0m104 0h0m14 0h0m2 0h0m31 0h0m4 0h0m55 0h0m17 0h0m4 0h0m1 0h0m-401 1h0m6 0h0m7 0h0m75 0h0m17 0h0m82 0h0m133 0h0m-302 1h0m15 0h0m6 0h0m63 0h0m73 0h0m78 0h0m38 0h0m203 0h0m-357 1h0m6 0h0m11 0h0m249 0h0m-393 1h0m21 0h0m27 0h0m32 0h0m109 0h0m21 0h0m52 0h0m20 0h0m40 0h0m26 0h0m1 0h0m-398 1h0m39 0h0m79 0h0m19 0h0m26 0h0m39 0h0m74 0h0m73 0h0m16 0h0m49 0h0m25 0h0m-389 1h0m65 0h0m12 0h0m39 0h0m18 0h0m19 0h0m49 0h0m27 0h0m48 0h0m86 0h0m-392 1h0m160 0h0m31 0h0m178 0h0m9 0h0m22 0h0m108 0h0m-459 1h0m34 0h0m136 0h0m114 0h0m-233 1h0m144 0h0m11 0h0m83 0h0m15 0h0m-352 1h0m22 0h0m49 0h0m136 0h0m1 0h0m22 0h0m23 0h0m19 0h0m18 0h0m15 0h0m35 0h0m28 0h0m-367 1h0m2 0h0m19 0h0m83 0h0m26 0h0m16 0h0m70 0h0m88 0h0m34 0h0m50 0h0m11 0h0m-420 1h0m146 0h0m5 0h0m135 0h0m18 0h0m32 0h0m49 0h0m5 0h0m13 0h0m31 0h0m2 0h0m-410 1h0m195 0h0m40 0h0m68 0h0m37 0h0m50 0h0m23 0h0m-341 1h0m50 0h0m25 0h0m5 0h0m64 0h0m33 0h0m101 0h0m14 0h0m-258 1h0m54 0h0m10 0h0m41 0h0m100 0h0m-289 1h0m32 0h0m79 0h0m30 0h0m16 0h0m16 0h0m58 0h0m0 0h0m83 0h0m29 0h0m-312 1h0m23 0h0m24 0h0m114 0h0m49 0h0m52 0h0m24 0h0m-313 1h0m48 0h0m86 0h0m80 0h0m81 0h0m181 0h0m-519 1h0m11 0h0m8 0h0m9 0h0m3 0h0m113 0h0m25 0h0m195 0h0m-319 1h0m2 0h0m38 0h0m38 0h0m2 0h0m104 0h0m114 0h0m-320 1h0m13 0h0m52 0h0m90 0h0m33 0h0m86 0h0m43 0h0m18 0h0m-353 1h0m23 0h0m26 0h0m7 0h0m43 0h0m35 0h0m104 0h0m71 0h0m-117 1h0m32 0h0m12 0h0m82 0h0m31 0h0m9 0h0m-245 1h0m15 0h0m110 0h0m44 0h0m20 0h0m22 0h0m5 0h0m9 0h0m8 0h0m-187 1h0m3 0h0m76 0h0m118 0h0m-208 1h0m154 0h0m4 0h0m-310 1h0m310 0h0m31 0h0m14 0h0m-361 1h0m186 0h0m55 0h0m36 0h0m16 0h0m13 0h0m56 0h0m-242 1h0m12 0h0m7 0h0m18 0h0m353 0h0m-500 1h0m78 0h0m42 0h0m174 0h0m35 0h0m168 0h0m-493 1h0m35 0h0m147 0h0m4 0h0m90 0h0m15 0h0m28 0h0m35 0h0m-243 1h0m1 0h0m32 0h0m14 0h0m82 0h0m58 0h0m15 0h0m-83 1h0m54 0h0m15 0h0m25 0h0m1 0h0m-246 1h0m120 0h0m67 0h0m42 0h0m47 0h0m-367 1h0m32 0h0m47 0h0m56 0h0m26 0h0m94 0h0m36 0h0m-315 1h0m210 0h0m16 0h0m0 0h0m7 0h0m137 0h0m-355 1h0m164 0h0m45 0h0m50 0h0m80 0h0m32 0h0m-376 1h0m91 0h0m162 0h0m1 0h0m60 0h0m22 0h0m32 0h0m9 0h0m-368 1h0m57 0h0m88 0h0m128 0h0m65 0h0m33 0h0m-349 1h0m38 0h0m57 0h0m32 0h0m119 0h0m20 0h0m34 0h0m5 0h0m2 0h0m28 0h0m161 0h0m-565 1h0m45 0h0m75 0h0m143 0h0m82 0h0m-295 1h0m63 0h0m5 0h0m4 0h0m26 0h0m40 0h0m18 0h0m40 0h0m4 0h0m121 0h0m20 0h0m-372 1h0m63 0h0m117 0h0m78 0h0m61 0h0m16 0h0m31 0h0m20 0h0m-379 1h0m66 0h0m33 0h0m150 0h0m33 0h0m9 0h0m81 0h0m-285 1h0m39 0h0m86 0h0m2 0h0m50 0h0m7 0h0m24 0h0m43 0h0m6 0h0m4 0h0m24 0h0m-394 1h0m114 0h0m74 0h0m2 0h0m13 0h0m37 0h0m84 0h0m24 0h0m11 0h0m6 0h0m-83 1h0m54 0h0m8 0h0m13 0h0m41 0h0m10 0h0m-365 1h0m30 0h0m46 0h0m47 0h0m63 0h0m14 0h0m17 0h0m70 0h0m219 0h0m-418 1h0m22 0h0m102 0h0m49 0h0m45 0h0m33 0h0m-198 1h0m18 0h0m1 0h0m41 0h0m32 0h0m74 0h0m29 0h0m-251 1h0m93 0h0m5 0h0m82 0h0m86 0h0m11 0h0m-270 1h0m12 0h0m89 0h0m55 0h0m19 0h0m98 0h0m-250 1h0m19 0h0m15 0h0m80 0h0m31 0h0m36 0h0m5 0h0m25 0h0m35 0h0m-384 1h0m253 0h0m96 0h0m8 0h0m-368 1h0m48 0h0m127 0h0m23 0h0m119 0h0m18 0h0m79 0h0m5 0h0m-390 1h0m0 0h0m117 0h0m180 0h0m7 0h0m24 0h0m41 0h0m-365 1h0m6 0h0m218 0h0m89 0h0m78 0h0m-437 1h0m224 0h0m71 0h0m254 0h0m-540 1h0m84 0h0m32 0h0m258 0h0m8 0h0m19 0h0m19 0h0m14 0h0m-305 1h0m116 0h0m35 0h0m22 0h0m27 0h0m52 0h0m21 0h0m36 0h0m-379 1h0m94 0h0m111 0h0m111 0h0m0 0h0m62 0h0m-156 1h0m34 0h0m7 0h0m32 0h0m28 0h0m49 0h0m-448 1h0m239 0h0m49 0h0m5 0h0m22 0h0m27 0h0m52 0h0m-379 1h0m3 0h0m64 0h0m87 0h0m78 0h0m39 0h0m0 0h0m15 0h0m6 0h0m21 0h0m75 0h0m10 0h0m10 0h0m35 0h0m-398 1h0m72 0h0m176 0h0m110 0h0m2 0h0m44 0h0m-225 1h0m8 0h0m155 0h0m28 0h0m43 0h0m4 0h0m-423 1h0m7 0h0m229 0h0m40 0h0m137 0h0m-466 1h0m20 0h0m344 0h0m88 0h0m-276 1h0m23 0h0m76 0h0m28 0h0m29 0h0m17 0h0m41 0h0m19 0h0m20 0h0m3 0h0m-79 1h0m2 0h0m76 0h0m1 0h0m15 0h0m24 0h0m-440 1h0m359 0h0m41 0h0m-445 1h0m66 0h0m214 0h0m19 0h0m58 0h0m-214 1h0m38 0h0m53 0h0m56 0h0m34 0h0m9 0h0m41 0h0m9 0h0m12 0h0m4 0h0m19 0h0m12 0h0m23 0h0m18 0h0m0 0h0m95 0h0m-306 1h0m46 0h0m11 0h0m32 0h0m13 0h0m202 0h0m-530 1h0m29 0h0m252 0h0m35 0h0m105 0h0m3 0h0m5 0h0m4 0h0m10 0h0m-480 1h0m24 0h0m5 0h0m4 0h0m32 0h0m191 0h0m68 0h0m10 0h0m78 0h0m25 0h0m13 0h0m34 0h0m7 0h0m72 0h0m-564 1h0m199 0h0m126 0h0m4 0h0m67 0h0m5 0h0m1 0h0m2 0h0m1 0h0m27 0h0m7 0h0m123 0h0m1 0h0m-516 1h0m11 0h0m304 0h0m49 0h0m16 0h0m48 0h0m-447 1h0m19 0h0m0 0h0m256 0h0m23 0h0m28 0h0m41 0h0m-374 1h0m286 0h0m68 0h0m20 0h0m173 0h0m-536 1h0m271 0h0m21 0h0m15 0h0m63 0h0m36 0h0m-229 1h0m65 0h0m73 0h0m0 0h0m9 0h0m24 0h0m34 0h0m6 0h0m13 0h0m5 0h0m-334 1h0m92 0h0m74 0h0m32 0h0m186 0h0m-412 1h0m174 0h0m143 0h0m29 0h0m0 0h0m12 0h0m-416 1h0m112 0h0m98 0h0m87 0h0m7 0h0m7 0h0m95 0h0m51 0h0m8 0h0m0 0h0m-416 1h0m230 0h0m45 0h0m17 0h0m17 0h0m-378 1h0m4 0h0m298 0h0m27 0h0m13 0h0m-70 1h0m38 0h0m109 0h0m-407 1h0m235 0h0m68 0h0m67 0h0m23 0h0m1 0h0m-48 1h0m22 0h0m28 0h0m79 0h0m-336 1h0m235 0h0m34 0h0m70 0h0m-170 1h0m73 0h0m0 0h0m34 0h0m-213 1h0m167 0h0m98 0h0m-444 1h0m45 0h0m147 0h0m48 0h0m43 0h0m77 0h0m1 0h0m4 0h0m-341 1h0m135 0h0m136 0h0m34 0h0m36 0h0m90 0h0m-480 1h0m48 0h0m32 0h0m127 0h0m185 0h0m8 0h0m73 0h0m11 0h0m62 0h0m1 0h0m-284 1h0m119 0h0m22 0h0m76 0h0m-324 1h0m155 0h0m-377 1h0m37 0h0m17 0h0m13 0h0m307 0h0m43 0h0m2 0h0m17 0h0m-148 1h0m105 0h0m12 0h0m21 0h0m27 0h0m12 0h0m5 0h0m10 0h0m1 0h0m-215 1h0m164 0h0m48 0h0m-429 1h0m32 0h0m67 0h0m11 0h0m232 0h0m7 0h0m47 0h0m-334 1h0m278 0h0m15 0h0m21 0h0m-376 1h0m203 0h0m66 0h0m20 0h0m60 0h0m40 0h0m6 0h0m-87 1h0m18 0h0m107 0h0m-409 1h0m244 1h0m60 0h0m78 0h0m-293 1h0m168 0h0m86 0h0m34 0h0m-258 1h0m219 0h0m45 0h0m24 0h0m130 0h0m-581 1h0m4 0h0m24 0h0m370 0h0m46 0h0m6 0h0m6 0h0m-184 1h0m73 0h0m53 0h0m43 0h0m14 0h0m2 0h0m-468 1h0m78 0h0m368 0h0m-239 1h0m131 0h0m-325 1h0m441 0h0m81 0h0m-163 1h0m78 0h0m12 0h0m2 1h0m-461 1h0m42 0h0m10 0h0m23 0h0m241 0h0m107 0h0m95 0h0m-89 1h0m1 0h0m5 0h0m6 0h0m12 0h0m20 0h0m105 0h0m-539 1h0m10 0h0m312 0h0m9 0h0m125 0h0m6 0h0m34 0h0m36 0h0m-568 1h0m31 0h0m168 0h0m212 0h0m31 0h0m29 0h0m30 0h0m-203 1h0m90 0h0m39 0h0m142 0h0m131 0h0m-414 1h0m103 0h0m11 0h0m0 0h0m45 0h0m23 0h0m66 0h0m-499 1h0m19 0h0m139 0h0m159 0h0m23 0h0m45 0h0m12 0h0m3 0h0m1 0h0m45 0h0m22 0h0m81 0h0m-456 1h0m197 0h0m29 0h0m82 0h0m46 0h0m87 0h0m-549 1h0m118 0h0m102 0h0m79 0h0m68 0h0m18 0h0m45 0h0m45 0h0m72 0h0m-546 1h0m287 0h0m22 0h0m36 0h0m23 0h0m46 0h0m32 0h0m20 0h0m36 0h0m-513 1h0m2 0h0m13 0h0m1 0h0m335 0h0m23 0h0m4 0h0m16 0h0m61 0h0m27 0h0m3 0h0m7 0h0m-184 1h0m1 0h0m134 0h0m28 0h0m33 0h0m-187 1h0m41 0h0m11 0h0m15 0h0m26 0h0m28 0h0m23 0h0m51 0h0m-155 1h0m22 0h0m10 0h0m39 0h0m24 0h0m21 0h0m14 0h0m20 0h0m47 0h0m24 0h0m-613 1h0m392 0h0m3 0h0m91 0h0m2 0h0m38 0h0m14 0h0m14 0h0m-187 1h0m27 0h0m9 0h0m94 0h0m46 0h0m45 0h0m2 0h0m-175 1h0m82 0h0m21 0h0m1 0h0m23 0h0m17 0h0m21 0h0m18 0h0m3 0h0m-85 1h0m31 0h0m40 0h0m1 0h0m-140 1h0m52 0h0m96 0h0m-620 1h0m397 0h0m29 0h0m35 0h0m30 0h0m20 0h0m51 0h0m-524 1h0m25 0h0m317 0h0m93 0h0m8 0h0m35 0h0m48 0h0m11 0h0m-496 1h0m92 0h0m209 0h0m35 0h0m137 0h0m12 0h0m53 0h0m-512 1h0m178 0h0m74 0h0m78 0h0m97 0h0m19 0h0m15 0h0m47 0h0m-158 2h0m54 0h0m3 0h0m36 0h0m-204 1h0m81 0h0m70 0h0m10 0h0m0 0h0m5 0h0m3 0h0m26 0h0m58 0h0m16 0h0m-347 1h0m125 0h0m71 0h0m44 0h0m29 0h0m29 0h0m-398 1h0m193 0h0m51 0h0m25 0h0m84 0h0m18 0h0m27 0h0m43 0h0m-197 1h0m58 0h0m2 0h0m16 0h0m41 0h0m20 0h0m-155 1h0m26 0h0m39 0h0m51 0h0m-149 1h0m138 0h0m72 0h0m-179 1h0m59 0h0m71 0h0m22 0h0m28 0h0m-164 1h0m11 0h0m32 0h0m97 0h0m-461 1h0m295 0h0m139 0h0m11 0h0m22 0h0m93 0h0m-592 1h0m137 0h0m161 0h0m134 0h0m15 0h0m20 0h0m9 0h0m37 0h0m-468 1h0m315 0h0m106 0h0m12 0h0m2 0h0m1 0h0m31 0h0m39 0h0m3 0h0m-171 1h0m18 0h0m17 0h0m22 0h0m74 0h0m-104 1h0m3 0h0m31 0h0m20 0h0m42 0h0m4 0h0m36 0h0m2 0h0m-7 1h0m-585 1h0m324 0h0m130 0h0m29 0h0m32 0h0m44 0h0m-571 1h0m5 0h0m493 0h0m13 0h0m0 0h0m28 0h0m24 0h0m-55 1h0m1 0h0m42 0h0m46 0h0m-287 1h0m20 0h0m63 0h0m111 0h0m-156 1h0m166 0h0m57 0h0m0 0h0m-573 1h0m432 0h0m127 0h0m3 0h0m-527 1h0m6 0h0m20 0h0m172 0h0m282 0h0m38 0h0m-525 1h0m443 0h0m1 0h0m42 0h0m3 0h0m-129 1h0m52 0h0m70 0h0m8 0h0m7 0h0m26 0h0m4 0h0m0 0h0m5 0h0m49 0h0m-578 1h0m430 0h0m34 0h0m71 0h0m1 0h0m31 0h0m9 0h0m6 0h0m-165 1h0m2 0h0m-437 1h0m200 0h0m123 0h0m127 0h0m98 0h0m-141 1h0m5 0h0m22 0h0m126 0h0m-206 1h0m50 0h0m88 0h0m67 0h0m18 0h0m-539 1h0m399 0h0m4 0h0m-312 1h0m348 0h0m1 0h0m26 0h0m51 0h0m-530 1h0m383 0h0m16 0h0m25 0h0m33 0h0m69 0h0m-559 1h0m149 0h0m267 0h0m2 0h0m76 0h0m64 0h0m-92 1h0m0 0h0m27 0h0m51 0h0m-10 1h0m0 0h0m-405 1h0m293 0h0m124 0h0m12 0h0m38 0h0m-620 1h0m43 0h0m494 0h0m38 0h0m5 0h0m7 0h0m-515 1h0m291 0h0m117 0h0m4 0h0m46 0h0m3 0h0m12 0h0m36 0h0m9 0h0m17 0h0m-49 1h0m3 0h0m41 0h0m11 0h0m-194 1h0m26 0h0m3 0h0m6 0h0m49 0h0m8 0h0m72 0h0m-202 1h0m53 0h0m2 0h0m78 0h0m56 0h0m42 0h0m-594 1h0m124 0h0m339 0h0m7 0h0m26 0h0m22 0h0m43 0h0m-45 1h0m3 0h0m2 0h0m20 0h0m12 0h0m15 0h0m-534 1h0m49 0h0m415 0h0m8 0h0m21 0h0m14 0h0m-550 1h0m207 0h0m218 0h0m40 0h0m57 0h0m8 0h0m47 0h0m13 0h0m-572 1h0m13 0h0m412 0h0m21 0h0m26 0h0m85 0h0m-238 1h0m98 0h0m3 0h0m31 0h0m44 0h0m3 0h0m15 0h0m54 0h0m-574 1h0m461 0h0m57 0h0m1 0h0m5 0h0m-303 1h0m205 0h0m5 0h0m37 0h0m17 0h0m13 0h0m19 0h0m49 0h0m-567 1h0m203 0h0m221 0h0m105 0h0m-80 1h0m4 0h0m89 0h0m3 0h0m21 0h0m-571 1h0m24 0h0m120 0h0m42 0h0m250 0h0m5 0h0m34 0h0m11 0h0m45 0h0m7 0h0m-170 1h0m61 0h0m4 0h0m47 0h0m25 0h0m-455 1h0m199 0h0m14 0h0m225 0h0m114 0h0m-605 1h0m25 1h0m249 0h0m114 0h0m43 0h0m23 0h0m61 0h0m5 0h0m-488 1h0m542 0h0m-242 1h0m105 0h0m52 0h0m4 0h0m12 0h0m0 0h0m22 1h0m57 0h0m-621 1h0m23 0h0m161 0h0m185 0h0m68 0h0m34 0h0m33 0h0m34 0h0m8 0h0m76 0h0m6 0h0m-594 1h0m7 0h0m3 0h0m375 0h0m19 0h0m32 0h0m4 0h0m15 0h0m119 0h0m-530 1h0m335 0h0m10 0h0m25 0h0m62 0h0m33 0h0m18 0h0m-510 1h0m155 0h0m284 0h0m50 0h0m6 0h0m51 0h0m-543 1h0m34 0h0m354 0h0m78 0h0m-269 1h0m135 0h0m36 0h0m97 0h0m-242 1h0m206 0h0m21 0h0m97 0h0m-586 1h0m15 0h0m65 1h0m31 0h0m37 0h0m283 0h0m166 0h0m1 0h0m-622 1h0m249 0h0m264 0h0m41 0h0m1 0h0m-15 1h0m16 0h0m-40 1h0m10 0h0m-450 1h0m44 0h0m152 0h0m193 0h0m25 0h0m31 0h0m-499 1h0m269 0h0m165 0h0m65 0h0m-71 1h0m2 0h0m25 0h0m12 0h0m117 0h0m-585 1h0m167 0h0m365 0h0m18 0h0m14 0h0m25 0h0m-404 1h0m25 0h0m268 0h0m17 0h0m14 0h0m-288 1h0m71 0h0m100 0h0m-387 1h0m330 0h0m222 0h0m-557 1h0m54 0h0m316 0h0m1 0h0m0 0h0m2 0h0m67 0h0m90 0h0m-356 1h0m82 0h0m350 0h0m-535 1h0m127 0h0m206 0h0m84 0h0m57 0h0m-206 1h0m150 0h0m68 0h0m-410 1h0m228 0h0m59 0h0m-24 1h0m96 0h0m100 0h0m-179 1h0m54 0h0m23 0h0m1 0h0m14 0h0m35 0h0m-574 1h0m439 0h0m63 0h0m77 0h0m-320 1h0m247 0h0m3 0h0m4 0h0m46 0h0m24 0h0m-139 1h0m-433 1h0m71 0h0m364 0h0m13 0h0m73 0h0m7 0h0m-381 1h0m47 0h0m161 0h0m159 0h0m124 0h0m-497 1h0m69 0h0m83 0h0m220 0h0m-504 1h0m120 0h0m345 0h0m165 0h0m-275 1h0m45 0h0m53 0h0m2 0h0m83 0h0m24 0h0m-409 1h0m233 1h0m102 0h0m11 0h0m13 0h0m49 0h0m-238 1h0m163 0h0m57 0h0m-351 1h0m280 0h0m15 0h0m60 0h0m-246 1h0m188 0h0m23 0h0m54 0h0m-295 1h0m139 0h0m39 0h0m132 0h0m-479 1h0m386 0h0m45 0h0m11 0h0m63 0h0m-88 1h0m64 0h0m-571 1h0m485 0h0m6 0h0m19 0h0m39 0h0m15 0h0m-352 1h0m160 0h0m63 0h0m62 0h0m2 0h0m13 0h0m-529 1h0m425 0h0m66 0h0m56 0h0m6 0h0m-278 1h0m116 0h0m127 0h0m5 0h0m1 0h0m31 0h0m21 0h0m3 0h0m-470 1h0m239 0h0m160 0h0m48 0h0m-285 1h0m76 0h0m27 0h0m57 0h0m65 0h0m82 0h0m-155 1h0m23 0h0m130 0h0m-588 1h0m252 0h0m127 0h0m-93 1h0m48 0h0m189 0h0m27 0h0m-533 1h0m466 0h0m25 0h0m8 0h0m10 0h0m-358 2h0m62 0h0m278 0h0m29 0h0m-352 1h0m303 0h0m23 0h0m20 0h0m-78 2h0m58 0h0m-523 1h0m189 0h0m1 0h0m270 0h0m108 0h0m-456 1h0m188 0h0m-212 1h0m74 0h0m54 0h0m43 0h0m238 0h0m18 0h0m24 0h0m-326 1h0m36 0h0m152 0h0m-271 1h0m219 0h0m90 0h0m109 0h0m-429 1h0m187 0h0m239 0h0m-266 1h0m11 0h0m245 0h0m14 0h0m16 0h0m24 0h0m-395 2h0m124 0h0m133 1h0m4 0h0m137 0h0m-585 2h0m267 0h0m-7 1h0m304 1h0m-151 1h0m37 0h0m-311 2h0m113 3h0m20 0h0m-69 1h0m205 0h0m93 0h0m28 0h0m-161 1h0m207 0h0m-267 1h0m219 2h0m-481 1h0m332 1h0m89 1h0m-75 1h0m196 1h0m-415 2h0m111 1h0m118 0h0m-116 1h0m-79 1h0m219 0h0m-49 1h0m-56 2h0m83 0h0m165 0h0m-164 1h0m121 3h0m-43 1h0m-72 2h0m-411 1h0m322 0h0m-139 1h0m287 0h0m-153 2h0m110 0h0m-37 1h0m34 0h0m-203 1h0m117 0h0m-163 1h0m212 0h0m-122 3h0m29 0h0m19 0h0m-165 1h0m-8 2h0m110 2h0m230 3h0m175 0h0m-417 1h0m-171 2h0m250 0h0m22 2h0m81 1h0m218 0h0m-321 1h0m75 0h0m24 0h0m-221 4h0m178 0h0m36 0h0m-355 1h0m25 2h0m140 0h0m-168 1h0m221 2h0m-219 7h0m284 0h0m-310 1h0m366 0h0m-261 5h0m65 0h0m186 0h0m-307 4h0m433 7h0m-517 3h0m316 10h0m-163 17h0" fill="none" stroke="#1f77b4" stroke-opacity="0.75" stroke-width="8.8" stroke-linecap="round"/><path transform="scale(0.25)" d="M2825 112h0m7 5h0m-20 10h0m5 2h0m8 1h0m-8 1h0m-9 1h0m6 0h0m-13 1h0m4 0h0m2 1h0m1 0h0m17 0h0m-14 1h0m-4 2h0m3 0h0m-3 1h0m9 0h0m3 0h0m-17 1h0m2 0h0m5 0h0m8 0h0m-12 3h0m-4 1h0m6 0h0m1 0h0m-21 1h0m14 0h0m7 0h0m-6 1h0m1 2h0m1 0h0m-18 1h0m36 0h0m4 0h0m-29 1h0m10 0h0m-14 1h0m10 0h0m1 0h0m1 0h0m5 0h0m2 0h0m9 0h0m12 0h0m-32 1h0m3 0h0m4 0h0m13 0h0m-29 2h0m34 0h0m-43 1h0m11 1h0m0 0h0m-24 1h0m25 0h0m-17 2h0m17 0h0m26 0h0m-37 1h0m1 1h0m13 0h0m-17 1h0m11 0h0m4 0h0m32 0h0m-33 1h0m26 0h0m8 1h0m-52 1h0m3 0h0m19 0h0m-19 1h0m-1 1h0m8 0h0m3 0h0m-8 1h0m11 0h0m2 0h0m-22 1h0m12 0h0m-5 2h0m6 0h0m-11 1h0m0 1h0m4 0h0m-21 1h0m13 0h0m13 0h0m41 0h0m-60 2h0m8 0h0m2 3h0m47 0h0m-51 1h0m-6 1h0m7 0h0m-37 2h0m24 1h0m5 0h0m4 0h0m53 0h0m-51 1h0m-7 1h0m2 0h0m-1 1h0m-3 1h0m7 0h0m49 1h0m-49 1h0m49 0h0m-52 1h0m5 0h0m-10 1h0m-10 1h0m1 0h0m66 0h0m-71 1h0m8 0h0m3 0h0m59 0h0m-72 2h0m11 0h0m-8 1h0m70 4h0m-76 1h0m79 0h0m-87 1h0m2 2h0m6 1h0m-3 1h0m3 0h0m-4 1h0m2 0h0m9 0h0m3 0h0m4 0h0m-18 1h0m11 1h0m0 0h0m-17 1h0m9 0h0m10 0h0m-12 1h0m-14 1h0m9 0h0m3 0h0m-6 1h0m9 0h0m2 0h0m-12 1h0m-3 1h0m90 1h0m5 0h0m4 1h0m-83 1h0m-22 1h0m3 0h0m2 0h0m12 0h0m-23 1h0m0 0h0m14 0h0m94 0h0m-97 1h0m3 0h0m8 0h0m-11 1h0m92 0h0m-90 1h0m-12 1h0m14 0h0m88 0h0m2 0h0m-103 2h0m10 0h0m5 1h0m-12 1h0m8 2h0m-6 2h0m96 0h0m-118 4h0m7 0h0m9 0h0m2 0h0m2 0h0m-5 2h0m-21 2h0m13 0h0m9 0h0m1 1h0m1 0h0m-17 1h0m8 0h0m11 0h0m-21 1h0m18 0h0m1 1h0m103 0h0m-116 2h0m0 0h0m-9 2h0m1 0h0m3 0h0m-3 1h0m7 0h0m1 0h0m-12 2h0m8 0h0m7 0h0m3 0h0m-19 1h0m5 1h0m-4 2h0m7 0h0m-8 2h0m1 0h0m1 1h0m125 0h0m6 0h0m-131 2h0m7 0h0m-15 2h0m137 1h0m-137 1h0m13 1h0m122 1h0m-153 1h0m18 2h0m-22 1h0m21 0h0m6 1h0m-18 2h0m3 0h0m1 0h0m1 0h0m7 0h0m-9 2h0m-7 1h0m-3 1h0m7 1h0m-1 1h0m2 0h0m1 0h0m144 1h0m-164 2h0m160 0h0m-149 1h0m7 2h0m-34 1h0m14 1h0m13 0h0m3 0h0m142 0h0m-154 2h0m3 0h0m12 0h0m-6 1h0m1 0h0m-13 1h0m13 0h0m1 1h0m-15 1h0m11 0h0m-13 1h0m-2 1h0m18 0h0m142 0h0m-162 1h0m21 0h0m144 0h0m-161 1h0m11 0h0m2 1h0m145 0h0m0 0h0m-160 1h0m4 0h0m3 0h0m-6 1h0m4 2h0m-16 1h0m8 0h0m9 0h0m1 0h0m154 0h0m-161 1h0m4 0h0m1 0h0m-13 1h0m5 1h0m7 0h0m159 0h0m-167 1h0m9 0h0m-20 1h0m5 0h0m8 0h0m-16 1h0m19 0h0m-3 1h0m164 0h0m-170 1h0m6 0h0m0 0h0m4 0h0m165 1h0m-197 1h0m13 0h0m8 0h0m2 0h0m4 0h0m-23 1h0m13 0h0m170 0h0m5 0h0m-178 2h0m4 0h0m7 0h0m1 0h0m-13 2h0m-1 1h0m12 0h0m-12 1h0m2 0h0m3 0h0m-16 1h0m186 1h0m-191 1h0m5 0h0m9 0h0m3 0h0m6 1h0m-22 1h0m5 1h0m1 0h0m2 1h0m2 0h0m2 0h0m179 0h0m-195 2h0m6 0h0m8 0h0m184 0h0m-202 2h0m16 1h0m-9 1h0m4 0h0m2 0h0m-1 2h0m-20 1h0m21 0h0m-19 1h0m12 0h0m4 1h0m-15 1h0m8 0h0m12 0h0m-22 2h0m11 0h0m1 0h0m2 0h0m4 0h0m-22 2h0m8 1h0m5 0h0m-34 2h0m26 0h0m7 1h0m196 0h0m-199 1h0m1 0h0m-9 1h0m7 0h0m-73 1h0m67 1h0m207 1h0m-276 2h0m74 3h0m-12 1h0m213 0h0m-222 1h0m16 0h0m-18 1h0m8 0h0m-13 1h0m16 0h0m10 0h0m201 0h0m-222 2h0m10 0h0m5 0h0m-4 1h0m-17 1h0m18 0h0m1 0h0m-14 1h0m1 1h0m-25 1h0m20 0h0m10 3h0m-3 1h0m-9 1h0m6 0h0m0 0h0m2 1h0m-5 1h0m226 0h0m-236 1h0m-5 1h0m7 0h0m12 0h0m-17 1h0m6 1h0m1 0h0m14 1h0m220 0h0m-251 1h0m14 0h0m-2 2h0m1 0h0m-1 1h0m11 0h0m-17 1h0m8 0h0m-6 1h0m2 1h0m-9 1h0m3 0h0m5 0h0m13 0h0m-39 2h0m24 0h0m2 0h0m1 0h0m-39 1h0m35 0h0m-8 1h0m1 0h0m1 0h0m0 0h0m-2 1h0m11 0h0m232 0h0m-269 1h0m36 0h0m8 0h0m231 0h0m-243 2h0m-16 1h0m2 0h0m3 0h0m18 0h0m230 0h0m-256 1h0m11 0h0m5 0h0m9 0h0m1 0h0m-13 1h0m4 0h0m239 0h0m-255 1h0m14 0h0m-12 1h0m19 0h0m0 0h0m-2 1h0m240 0h0m-255 1h0m4 0h0m-1 1h0m-16 1h0m12 0h0m10 0h0m-7 1h0m-12 1h0m0 1h0m1 1h0m257 0h0m-263 1h0m11 0h0m253 0h0m-261 1h0m262 0h0m-3 3h0m0 0h0m-253 2h0m-9 1h0m0 0h0m7 0h0m4 0h0m-13 1h0m10 0h0m3 0h0m-6 1h0m3 0h0m3 0h0m254 1h0m-288 1h0m10 1h0m7 0h0m4 0h0m-3 1h0m12 0h0m1 0h0m-14 1h0m3 0h0m10 2h0m-21 1h0m7 0h0m6 0h0m-9 1h0m4 2h0m3 0h0m6 0h0m-8 1h0m6 0h0m3 0h0m-20 1h0m4 0h0m4 0h0m12 0h0m-22 2h0m10 0h0m1 0h0m1 0h0m-11 1h0m9 0h0m-17 1h0m16 0h0m4 0h0m-11 1h0m5 0h0m-16 1h0m5 0h0m18 0h0m-26 1h0m9 1h0m277 0h0m-261 1h0m-16 1h0m2 0h0m1 0h0m1 1h0m4 0h0m-40 1h0m29 0h0m2 0h0m-5 1h0m3 1h0m2 0h0m1 0h0m-3 1h0m-9 2h0m6 0h0m7 0h0m-3 1h0m280 0h0m-295 1h0m9 2h0m1 0h0m0 0h0m-10 1h0m6 0h0m3 0h0m3 0h0m-5 1h0m284 0h0m-292 1h0m18 0h0m275 1h0m-282 1h0m4 0h0m2 0h0m-20 1h0m5 1h0m3 0h0m1 2h0m-3 1h0m-14 1h0m5 0h0m6 1h0m-11 1h0m0 0h0m4 0h0m-26 1h0m17 0h0m305 0h0m-288 1h0m-23 1h0m310 0h0m-287 1h0m-2 2h0m-50 2h0m28 0h0m9 0h0m7 0h0m-15 1h0m0 3h0m2 0h0m5 1h0m0 0h0m-16 2h0m16 1h0m-11 1h0m9 0h0m-5 1h0m2 0h0m5 0h0m-18 1h0m-1 1h0m2 1h0m-3 2h0m7 0h0m3 1h0m-7 1h0m-7 1h0m10 0h0m1 0h0m-1 1h0m-12 1h0m7 0h0m318 0h0m5 0h0m-324 1h0m5 2h0m5 0h0m-10 2h0m-14 1h0m14 0h0m5 0h0m-76 1h0m36 0h0m359 0h0m-335 1h0m-2 1h0m6 0h0m-6 1h0m0 0h0m2 0h0m2 1h0m1 0h0m2 0h0m326 0h0m-332 1h0m-7 1h0m16 0h0m-9 1h0m-4 1h0m-6 2h0m342 0h0m-352 1h0m16 0h0m-1 1h0m6 0h0m-4 1h0m331 0h0m-346 2h0m16 0h0m-9 2h0m1 1h0m3 0h0m-4 1h0m-11 1h0m5 0h0m14 0h0m-24 1h0m6 1h0m4 0h0m0 0h0m11 0h0m-99 1h0m76 2h0m10 1h0m338 0h0m1 0h0m7 0h0m-351 1h0m8 0h0m337 0h0m-347 1h0m3 0h0m6 0h0m0 0h0m-4 1h0m-30 1h0m19 0h0m-39 2h0m32 0h0m8 0h0m2 0h0m1 1h0m1 2h0m5 1h0m347 1h0m-368 1h0m6 0h0m5 1h0m352 0h0m-370 1h0m14 0h0m6 0h0m3 1h0m-11 1h0m10 1h0m343 1h0m-347 1h0m4 0h0m0 0h0m1 0h0m-17 1h0m4 0h0m8 0h0m-13 1h0m6 1h0m-9 1h0m14 0h0m349 0h0m-353 1h0m359 0h0m-369 2h0m363 1h0m-352 1h0m0 0h0m-2 1h0m2 0h0m-25 1h0m19 0h0m-15 2h0m-1 1h0m19 0h0m-9 2h0m1 0h0m3 1h0m361 1h0m-376 1h0m-50 2h0m44 0h0m0 1h0m6 0h0m0 0h0m379 0h0m-4 1h0m-378 1h0m3 1h0m-8 1h0m4 0h0m4 0h0m3 0h0m-29 1h0m9 0h0m4 0h0m5 0h0m4 0h0m1 0h0m-13 1h0m13 0h0m5 0h0m370 0h0m-369 1h0m-19 1h0m17 1h0m374 0h0m-408 1h0m19 0h0m8 0h0m-27 1h0m17 2h0m386 0h0m-389 1h0m3 1h0m2 0h0m3 0h0m-10 1h0m4 0h0m11 0h0m-6 1h0m-2 1h0m3 0h0m-11 1h0m0 0h0m-6 3h0m1 0h0m11 1h0m0 1h0m-5 1h0m388 0h0m-399 1h0m14 0h0m389 0h0m-396 1h0m-4 1h0m6 0h0m-8 1h0m5 0h0m-79 1h0m69 0h0m0 0h0m-5 1h0m15 0h0m-2 2h0m1 0h0m-37 3h0m36 0h0m-22 1h0m2 0h0m9 0h0m404 0h0m-1 2h0m-409 1h0m5 0h0m-25 1h0m22 0h0m3 0h0m-8 1h0m7 0h0m4 0h0m398 0h0m-404 2h0m397 0h0m-396 1h0m0 0h0m-14 1h0m13 0h0m397 0h0m-414 1h0m6 0h0m6 0h0m0 0h0m-11 1h0m7 0h0m4 0h0m2 0h0m-25 1h0m17 0h0m-11 1h0m16 0h0m-6 1h0m12 0h0m401 0h0m-411 1h0m2 0h0m1 0h0m-5 1h0m2 0h0m6 0h0m-8 1h0m2 0h0m404 1h0m-400 1h0m-12 3h0m1 0h0m5 0h0m-2 3h0m-11 1h0m9 0h0m3 0h0m-28 2h0m18 0h0m1 0h0m-7 1h0m5 1h0m8 0h0m-55 1h0m42 0h0m4 0h0m-11 1h0m425 0h0m-425 1h0m20 0h0m412 0h0m-456 1h0m34 0h0m6 0h0m-8 1h0m1 0h0m7 0h0m410 0h0m-426 2h0m2 0h0m-12 1h0m2 0h0m16 0h0m0 0h0m-12 1h0m-28 1h0m41 0h0m-14 3h0m12 0h0m422 0h0m-449 1h0m14 1h0m-5 1h0m0 0h0m14 0h0m419 1h0m-429 1h0m5 0h0m427 0h0m-435 1h0m-10 1h0m17 0h0m426 0h0m-431 1h0m1 0h0m4 0h0m3 4h0m-26 1h0m5 1h0m3 0h0m6 0h0m-7 2h0m9 0h0m428 0h0m-439 1h0m6 0h0m433 0h0m-439 1h0m3 0h0m6 0h0m-41 2h0m37 2h0m-20 1h0m7 0h0m13 0h0m433 0h0m-440 1h0m-12 1h0m11 0h0m2 0h0m-12 1h0m2 1h0m6 0h0m5 0h0m1 0h0m-3 1h0m-13 1h0m9 0h0m7 0h0m-25 1h0m-1 1h0m-22 1h0m31 0h0m6 0h0m-12 1h0m3 0h0m0 0h0m1 0h0m1 0h0m8 0h0m440 1h0m-516 1h0m58 0h0m6 0h0m7 1h0m4 0h0m-7 1h0m-2 1h0m4 0h0m-18 1h0m1 0h0m20 0h0m-15 1h0m454 0h0m6 0h0m-526 2h0m74 2h0m-16 2h0m8 0h0m0 0h0m-42 1h0m42 2h0m2 1h0m-27 1h0m30 0h0m446 0h0m-469 1h0m-18 1h0m20 1h0m14 0h0m-8 1h0m2 0h0m3 1h0m-11 1h0m2 0h0m2 0h0m11 1h0m446 0h0m-447 1h0m1 0h0m-26 1h0m474 0h0m-489 1h0m31 1h0m1 0h0m249 1h0m1 0h0m-12 1h0m3 0h0m10 0h0m3 0h0m217 0h0m-483 1h0m10 0h0m224 0h0m23 0h0m-255 1h0m232 0h0m39 0h0m-302 1h0m30 0h0m8 0h0m1 0h0m262 0h0m198 0h0m-487 1h0m20 0h0m269 0h0m-322 1h0m321 0h0m3 0h0m195 0h0m-468 1h0m234 0h0m37 0h0m4 0h0m-52 1h0m13 0h0m39 0h0m-281 1h0m1 0h0m8 0h0m277 0h0m1 0h0m-290 1h0m236 0h0m-231 1h0m4 0h0m1 0h0m461 0h0m-469 1h0m289 0h0m-297 1h0m15 0h0m290 0h0m180 0h0m-495 1h0m323 0h0m1 0h0m-316 1h0m6 0h0m8 0h0m220 0h0m27 0h0m13 0h0m25 0h0m12 0h0m167 0h0m-471 1h0m7 0h0m303 0h0m158 0h0m-483 1h0m17 0h0m206 0h0m51 0h0m8 0h0m-270 1h0m202 0h0m6 0h0m39 0h0m34 0h0m-271 1h0m-25 1h0m8 0h0m1 0h0m3 0h0m-2 1h0m10 0h0m1 0h0m-18 1h0m177 0h0m50 0h0m96 0h0m6 0h0m1 0h0m-324 1h0m6 0h0m7 0h0m151 0h0m1 0h0m10 0h0m20 0h0m8 0h0m50 0h0m28 0h0m36 0h0m-324 1h0m1 0h0m2 0h0m177 0h0m17 0h0m53 0h0m74 0h0m160 0h0m0 0h0m-278 1h0m50 0h0m71 0h0m-321 1h0m1 0h0m5 0h0m113 0h0m17 0h0m3 0h0m48 0h0m5 0h0m8 0h0m98 0h0m26 0h0m-222 1h0m26 0h0m121 0h0m36 0h0m40 0h0m-320 1h0m111 0h0m4 0h0m209 0h0m-296 1h0m137 0h0m308 0h0m0 0h0m-488 1h0m48 0h0m69 0h0m68 0h0m43 0h0m10 0h0m39 0h0m2 0h0m29 0h0m31 0h0m-130 1h0m28 0h0m31 0h0m68 0h0m-146 1h0m-183 1h0m88 0h0m131 0h0m42 0h0m65 0h0m-295 1h0m16 0h0m1 0h0m85 0h0m30 0h0m19 0h0m71 0h0m-259 1h0m37 0h0m47 0h0m28 0h0m30 0h0m17 0h0m20 0h0m27 0h0m79 0h0m-254 1h0m140 0h0m14 0h0m103 0h0m-272 1h0m321 0h0m150 0h0m-371 1h0m14 0h0m55 0h0m17 0h0m64 0h0m10 0h0m-124 1h0m18 0h0m85 0h0m13 0h0m77 0h0m1 0h0m-329 1h0m9 0h0m9 0h0m17 0h0m45 0h0m15 0h0m87 0h0m-199 1h0m16 0h0m186 0h0m2 0h0m52 0h0m-273 1h0m188 0h0m14 0h0m26 0h0m65 0h0m18 0h0m-260 1h0m5 0h0m41 0h0m52 0h0m64 0h0m23 0h0m5 0h0m112 0h0m14 0h0m134 0h0m-306 1h0m44 0h0m42 0h0m80 0h0m-330 1h0m28 0h0m72 0h0m102 0h0m38 0h0m49 0h0m51 0h0m-302 1h0m46 0h0m6 0h0m20 0h0m48 0h0m55 0h0m60 0h0m5 0h0m56 0h0m-370 1h0m79 0h0m27 0h0m19 0h0m162 0h0m8 0h0m-247 1h0m43 0h0m49 0h0m4 0h0m14 0h0m5 0h0m55 0h0m-188 1h0m65 0h0m55 0h0m87 0h0m95 0h0m32 0h0m138 0h0m-512 1h0m47 0h0m6 0h0m153 0h0m32 0h0m61 0h0m-45 1h0m36 0h0m15 0h0m78 0h0m-327 1h0m1 0h0m35 0h0m270 0h0m-354 1h0m68 0h0m71 0h0m2 0h0m71 0h0m50 0h0m53 0h0m30 0h0m7 0h0m23 0h0m-376 1h0m37 0h0m22 0h0m260 0h0m8 0h0m48 0h0m127 0h0m-482 1h0m161 0h0m1 0h0m16 0h0m2 0h0m130 0h0m2 0h0m12 0h0m16 0h0m12 0h0m-314 1h0m52 0h0m125 0h0m21 0h0m65 0h0m54 0h0m-363 1h0m127 0h0m51 0h0m45 0h0m110 0h0m9 0h0m25 0h0m7 0h0m111 0h0m-289 1h0m41 0h0m27 0h0m17 0h0m36 0h0m23 0h0m5 0h0m7 0h0m16 0h0m117 0h0m-420 1h0m35 0h0m21 0h0m90 0h0m50 0h0m3 0h0m25 0h0m55 0h0m9 0h0m134 0h0m-489 1h0m18 0h0m69 0h0m12 0h0m14 0h0m2 0h0m21 0h0m49 0h0m162 0h0m30 0h0m-332 1h0m84 0h0m8 0h0m87 0h0m33 0h0m-258 1h0m70 0h0m232 0h0m-290 1h0m22 0h0m4 0h0m51 0h0m46 0h0m118 0h0m-252 1h0m56 0h0m74 0h0m59 0h0m31 0h0m61 0h0m9 0h0m81 0h0m-382 1h0m44 0h0m82 0h0m72 0h0m123 0h0m3 0h0m9 0h0m36 0h0m20 0h0m-333 1h0m5 0h0m7 0h0m109 0h0m83 0h0m12 0h0m-257 1h0m54 0h0m44 0h0m62 0h0m2 0h0m40 0h0m49 0h0m17 0h0m17 0h0m-279 1h0m84 0h0m126 0h0m56 0h0m6 0h0m12 0h0m64 0h0m10 0h0m4 0h0m5 0h0m-269 1h0m132 0h0m-147 1h0m68 0h0m39 0h0m11 0h0m113 0h0m41 0h0m12 0h0m-356 1h0m22 0h0m73 0h0m186 0h0m57 0h0m-290 1h0m48 0h0m10 0h0m21 0h0m65 0h0m1 0h0m35 0h0m17 0h0m65 0h0m-255 1h0m7 0h0m34 0h0m96 0h0m13 0h0m4 0h0m52 0h0m21 0h0m47 0h0m-113 1h0m112 0h0m25 0h0m-222 1h0m85 0h0m33 0h0m109 0h0m0 0h0m-362 1h0m35 0h0m67 0h0m58 0h0m199 0h0m3 0h0m3 0h0m-343 1h0m88 0h0m6 0h0m96 0h0m117 0h0m6 0h0m2 0h0m25 0h0m-410 1h0m140 0h0m13 0h0m106 0h0m42 0h0m49 0h0m4 0h0m156 0h0m-285 1h0m12 0h0m69 0h0m20 0h0m90 0h0m-378 1h0m73 0h0m55 0h0m76 0h0m97 0h0m77 0h0m-373 1h0m78 0h0m30 0h0m41 0h0m58 0h0m15 0h0m15 0h0m50 0h0m28 0h0m16 0h0m4 0h0m32 0h0m-254 1h0m108 0h0m52 0h0m-327 1h0m5 0h0m27 0h0m50 0h0m12 0h0m48 0h0m47 0h0m64 0h0m39 0h0m89 0h0m-286 1h0m19 0h0m44 0h0m46 0h0m135 0h0m23 0h0m4 0h0m20 0h0m133 0h0m-512 1h0m52 0h0m40 0h0m45 0h0m237 0h0m31 0h0m-380 1h0m41 0h0m0 0h0m29 0h0m83 0h0m35 0h0m32 0h0m19 0h0m70 0h0m86 0h0m-413 1h0m59 0h0m4 0h0m84 0h0m16 0h0m71 0h0m11 0h0m78 0h0m15 0h0m8 0h0m32 0h0m21 0h0m12 0h0m1 0h0m1 0h0m-410 1h0m27 0h0m197 0h0m183 0h0m-400 1h0m52 0h0m17 0h0m32 0h0m18 0h0m51 0h0m25 0h0m205 0h0m90 0h0m-365 1h0m42 0h0m62 0h0m23 0h0m35 0h0m-303 1h0m23 0h0m48 0h0m223 0h0m57 0h0m17 0h0m-319 1h0m148 0h0m36 0h0m114 0h0m10 0h0m14 0h0m0 0h0m17 0h0m-416 1h0m117 0h0m24 0h0m33 0h0m70 0h0m164 0h0m24 0h0m7 0h0m4 0h0m-411 1h0m91 0h0m12 0h0m98 0h0m20 0h0m4 0h0m1 0h0m49 0h0m6 0h0m75 0h0m21 0h0m-190 1h0m110 0h0m12 0h0m3 0h0m34 0h0m34 0h0m23 0h0m-394 1h0m37 0h0m35 0h0m97 0h0m13 0h0m102 0h0m3 0h0m94 0h0m24 0h0m-429 1h0m30 0h0m7 0h0m52 0h0m72 0h0m80 0h0m142 0h0m21 0h0m-410 1h0m25 0h0m4 0h0m135 0h0m64 0h0m33 0h0m28 0h0m3 0h0m51 0h0m4 0h0m27 0h0m9 0h0m-379 1h0m232 0h0m1 0h0m2 0h0m35 0h0m6 0h0m27 0h0m-270 1h0m18 0h0m47 0h0m71 0h0m55 0h0m13 0h0m16 0h0m2 0h0m-233 1h0m65 0h0m113 0h0m24 0h0m12 0h0m21 0h0m80 0h0m-287 1h0m23 0h0m129 0h0m74 0h0m12 0h0m-291 1h0m255 0h0m33 0h0m2 0h0m-62 1h0m-162 1h0m125 0h0m24 0h0m16 0h0m89 0h0m7 0h0m-301 1h0m212 0h0m40 0h0m49 0h0m-315 1h0m26 0h0m20 0h0m149 0h0m102 0h0m17 0h0m4 0h0m-344 1h0m37 0h0m46 0h0m169 0h0m44 0h0m24 0h0m9 0h0m1 0h0m-347 1h0m122 0h0m0 0h0m60 0h0m10 0h0m352 0h0m1 0h0m-499 1h0m142 0h0m68 0h0m59 0h0m-253 1h0m44 0h0m3 0h0m198 0h0m56 0h0m25 0h0m2 0h0m-218 1h0m107 0h0m4 0h0m48 0h0m10 0h0m57 0h0m149 0h0m-431 1h0m72 0h0m49 0h0m27 0h0m21 0h0m86 0h0m-346 1h0m63 0h0m15 0h0m49 0h0m11 0h0m182 0h0m200 0h0m-511 1h0m236 0h0m26 0h0m8 0h0m73 0h0m14 0h0m147 0h0m-537 1h0m20 0h0m7 0h0m162 0h0m114 0h0m4 0h0m15 0h0m19 0h0m12 0h0m4 0h0m12 0h0m18 0h0m1 0h0m-295 1h0m60 0h0m128 0h0m69 0h0m4 0h0m-233 1h0m126 0h0m19 0h0m12 0h0m37 0h0m57 0h0m23 0h0m-353 1h0m80 0h0m16 0h0m21 0h0m153 0h0m-155 1h0m22 0h0m8 0h0m3 0h0m163 0h0m26 0h0m18 0h0m139 0h0m-428 1h0m199 0h0m24 0h0m-186 1h0m56 0h0m38 0h0m29 0h0m75 0h0m11 0h0m18 0h0m13 0h0m6 0h0m-265 1h0m260 0h0m-283 1h0m190 0h0m58 0h0m32 0h0m-397 1h0m48 0h0m15 0h0m10 0h0m123 0h0m45 0h0m88 0h0m18 0h0m54 0h0m149 0h0m-426 1h0m28 0h0m119 0h0m4 0h0m-229 1h0m73 0h0m49 0h0m34 0h0m88 0h0m10 0h0m32 0h0m21 0h0m49 0h0m9 0h0m-236 1h0m68 0h0m108 0h0m3 0h0m-265 1h0m53 0h0m83 0h0m60 0h0m17 0h0m1 0h0m19 0h0m230 0h0m-529 1h0m159 0h0m21 0h0m67 0h0m26 0h0m93 0h0m11 0h0m7 0h0m-392 1h0m7 0h0m124 0h0m32 0h0m24 0h0m66 0h0m39 0h0m-307 1h0m12 0h0m103 0h0m37 0h0m46 0h0m91 0h0m17 0h0m15 0h0m38 0h0m12 0h0m4 0h0m28 0h0m-408 1h0m10 0h0m32 0h0m40 0h0m117 0h0m17 0h0m43 0h0m63 0h0m26 0h0m-346 1h0m20 0h0m8 0h0m46 0h0m89 0h0m139 0h0m19 0h0m17 0h0m19 0h0m194 0h0m-515 1h0m11 0h0m27 0h0m182 0h0m16 0h0m-8 1h0m3 0h0m79 0h0m5 0h0m1 0h0m-146 1h0m179 0h0m-352 1h0m251 0h0m103 0h0m29 0h0m15 0h0m-211 1h0m23 0h0m112 0h0m39 0h0m-380 1h0m11 0h0m101 0h0m149 0h0m129 0h0m5 0h0m13 0h0m-364 1h0m57 0h0m102 0h0m35 0h0m141 0h0m14 0h0m5 0h0m13 0h0m123 0h0m-529 1h0m285 0h0m38 0h0m27 0h0m48 0h0m-393 1h0m9 0h0m5 0h0m40 0h0m5 0h0m135 0h0m51 0h0m1 0h0m59 0h0m-328 1h0m50 0h0m210 0h0m13 0h0m36 0h0m19 0h0m55 0h0m19 0h0m7 0h0m-353 1h0m23 0h0m85 0h0m115 0h0m46 0h0m11 0h0m32 0h0m30 0h0m-251 1h0m66 0h0m33 0h0m28 0h0m6 0h0m159 0h0m-399 1h0m172 0h0m74 0h0m69 0h0m7 0h0m9 0h0m-215 1h0m127 0h0m3 0h0m55 0h0m61 0h0m20 0h0m-445 1h0m57 0h0m218 0h0m43 0h0m72 0h0m8 0h0m22 0h0m7 0h0m139 0h0m-397 1h0m48 0h0m94 0h0m89 0h0m31 0h0m21 0h0m5 0h0m6 0h0m-444 1h0m282 0h0m23 0h0m8 0h0m86 0h0m12 0h0m36 0h0m-412 1h0m2 0h0m13 0h0m9 0h0m86 0h0m7 0h0m1 0h0m50 0h0m12 0h0m21 0h0m143 0h0m29 0h0m37 0h0m-166 1h0m160 0h0m-434 1h0m219 0h0m43 0h0m107 0h0m13 0h0m23 0h0m-432 1h0m39 0h0m15 0h0m253 0h0m37 0h0m7 0h0m20 0h0m2 0h0m37 0h0m19 0h0m2 0h0m14 0h0m3 0h0m16 0h0m-310 1h0m150 0h0m60 0h0m25 0h0m68 0h0m-347 1h0m99 0h0m32 0h0m175 0h0m0 0h0m27 0h0m16 0h0m105 0h0m-118 1h0m17 0h0m12 0h0m11 0h0m-452 1h0m142 0h0m51 0h0m56 0h0m20 0h0m15 0h0m8 0h0m62 0h0m52 0h0m32 0h0m-415 1h0m199 0h0m185 0h0m0 0h0m17 0h0m98 0h0m-556 1h0m48 0h0m8 0h0m85 0h0m61 0h0m141 0h0m22 0h0m22 0h0m25 0h0m9 0h0m2 0h0m25 0h0m20 0h0m-441 1h0m31 0h0m89 0h0m30 0h0m63 0h0m151 0h0m86 0h0m-438 1h0m181 0h0m39 0h0m6 0h0m26 0h0m32 0h0m3 0h0m9 0h0m30 0h0m28 0h0m85 0h0m-228 1h0m84 0h0m79 0h0m5 0h0m70 0h0m-449 1h0m290 0h0m102 0h0m126 0h0m-225 1h0m41 0h0m47 0h0m4 0h0m1 0h0m62 0h0m234 0h0m-662 1h0m267 0h0m231 0h0m-460 1h0m129 0h0m116 0h0m36 0h0m43 0h0m-285 1h0m116 0h0m35 0h0m88 0h0m26 0h0m18 0h0m54 0h0m14 0h0m-394 1h0m175 0h0m2 0h0m48 0h0m101 0h0m138 0h0m-573 1h0m27 0h0m8 0h0m307 0h0m8 0h0m4 0h0m-355 1h0m229 0h0m2 0h0m66 0h0m53 0h0m145 0h0m75 0h0m-277 1h0m99 0h0m36 0h0m0 0h0m144 0h0m-456 1h0m93 0h0m108 0h0m22 0h0m37 0h0m57 0h0m56 0h0m-166 1h0m-279 1h0m70 0h0m136 0h0m156 0h0m82 0h0m15 0h0m-206 1h0m3 0h0m32 0h0m11 0h0m40 0h0m112 0h0m-441 1h0m235 0h0m119 0h0m78 0h0m79 0h0m-548 1h0m151 0h0m22 0h0m190 0h0m3 0h0m29 0h0m21 0h0m-423 1h0m62 0h0m78 0h0m208 0h0m15 0h0m26 0h0m17 0h0m23 0h0m-84 1h0m60 0h0m72 0h0m239 0h0m-601 1h0m241 0h0m24 0h0m178 0h0m-567 1h0m36 0h0m220 0h0m-154 1h0m-82 1h0m337 0h0m11 0h0m-331 1h0m14 0h0m11 0h0m227 0h0m61 0h0m1 0h0m60 0h0m5 0h0m-390 1h0m257 0h0m115 0h0m8 0h0m31 0h0m-392 1h0m383 0h0m-34 1h0m-384 1h0m5 0h0m88 0h0m291 0h0m5 0h0m-388 1h0m28 0h0m274 0h0m93 0h0m18 0h0m13 0h0m-384 1h0m139 0h0m164 0h0m71 0h0m-391 1h0m334 0h0m22 0h0m3 0h0m44 0h0m-440 1h0m70 0h0m205 0h0m67 0h0m19 0h0m-65 1h0m68 0h0m55 0h0m21 0h0m-155 1h0m103 0h0m-99 1h0m14 0h0m42 0h0m87 0h0m-319 1h0m256 0h0m17 0h0m4 0h0m13 0h0m26 0h0m74 0h0m-483 1h0m8 0h0m361 0h0m18 0h0m-407 1h0m348 0h0m14 0h0m53 0h0m21 0h0m71 0h0m-530 1h0m40 1h0m286 0h0m21 0h0m109 0h0m37 0h0m-19 1h0m0 0h0m62 0h0m33 0h0m-278 1h0m56 0h0m70 0h0m22 0h0m12 0h0m34 0h0m16 0h0m-488 1h0m34 0h0m304 0h0m60 0h0m39 0h0m18 0h0m14 0h0m109 0h0m-587 1h0m11 0h0m346 0h0m80 0h0m88 0h0m-519 1h0m89 0h0m191 0h0m84 0h0m61 0h0m14 0h0m-201 1h0m79 0h0m35 0h0m46 0h0m8 0h0m16 0h0m15 0h0m-351 1h0m87 0h0m225 0h0m21 0h0m70 0h0m16 0h0m10 0h0m9 0h0m2 0h0m-510 1h0m336 0h0m35 0h0m1 0h0m82 0h0m48 0h0m-31 1h0m-490 1h0m32 0h0m234 0h0m65 0h0m153 0h0m6 0h0m23 0h0m50 0h0m-544 1h0m432 0h0m39 0h0m-508 1h0m417 0h0m41 0h0m4 0h0m15 0h0m4 0h0m7 0h0m10 0h0m16 0h0m26 0h0m2 0h0m1 0h0m-349 1h0m283 0h0m5 0h0m3 0h0m16 0h0m3 0h0m41 0h0m41 0h0m-293 1h0m136 0h0m80 0h0m17 0h0m11 0h0m1 0h0m26 0h0m5 0h0m6 0h0m-522 1h0m328 0h0m21 0h0m18 0h0m8 0h0m20 0h0m55 0h0m-320 1h0m202 0h0m7 0h0m34 0h0m76 0h0m57 0h0m-527 1h0m15 0h0m80 0h0m240 0h0m144 0h0m36 0h0m-146 1h0m44 0h0m-38 1h0m56 0h0m-444 1h0m13 0h0m3 0h0m62 0h0m130 0h0m116 0h0m83 0h0m83 0h0m10 0h0m3 0h0m7 0h0m5 0h0m-106 1h0m35 0h0m7 0h0m9 0h0m9 0h0m5 0h0m33 0h0m-531 1h0m234 0h0m39 0h0m91 0h0m51 0h0m25 0h0m144 0h0m-258 1h0m32 0h0m6 0h0m155 0h0m2 0h0m18 0h0m-503 1h0m353 0h0m31 0h0m63 0h0m88 0h0m-552 1h0m17 0h0m33 0h0m310 0h0m3 0h0m31 0h0m5 0h0m89 0h0m31 0h0m28 0h0m-591 1h0m79 0h0m94 0h0m162 0h0m224 0h0m32 0h0m-523 1h0m371 0h0m92 0h0m6 0h0m21 0h0m45 0h0m-397 1h0m168 0h0m71 0h0m9 0h0m28 0h0m22 0h0m-455 1h0m154 1h0m130 0h0m61 0h0m2 0h0m7 0h0m73 0h0m8 0h0m67 0h0m47 0h0m-325 1h0m120 0h0m33 0h0m37 0h0m13 0h0m47 0h0m70 0h0m-187 1h0m0 0h0m98 0h0m17 0h0m21 0h0m49 0h0m-514 1h0m302 0h0m43 0h0m68 0h0m23 0h0m-375 1h0m254 0h0m102 0h0m33 0h0m0 0h0m25 0h0m54 0h0m-157 1h0m2 0h0m67 0h0m29 0h0m0 0h0m14 0h0m36 0h0m-513 1h0m152 0h0m195 0h0m7 0h0m44 0h0m17 0h0m5 0h0m47 0h0m51 0h0m-571 1h0m361 0h0m44 0h0m29 0h0m26 0h0m8 0h0m5 0h0m20 0h0m73 0h0m-408 1h0m65 0h0m161 0h0m12 0h0m9 0h0m65 0h0m3 0h0m10 0h0m10 0h0m-498 1h0m458 0h0m12 0h0m48 0h0m14 0h0m-565 1h0m46 0h0m26 0h0m310 0h0m107 0h0m104 0h0m-535 1h0m11 0h0m338 0h0m104 0h0m-434 1h0m286 0h0m44 0h0m25 0h0m5 0h0m58 0h0m-513 1h0m438 0h0m5 0h0m16 0h0m9 0h0m23 0h0m-437 1h0m433 0h0m2 0h0m3 0h0m41 0h0m37 0h0m43 0h0m-186 1h0m90 0h0m-472 1h0m536 0h0m-409 1h0m80 0h0m142 0h0m12 0h0m48 0h0m29 0h0m7 0h0m8 0h0m10 0h0m10 0h0m-524 1h0m29 0h0m91 0h0m326 0h0m36 0h0m-444 1h0m25 0h0m436 0h0m20 0h0m-49 1h0m7 0h0m28 0h0m-471 1h0m408 0h0m29 0h0m34 0h0m37 0h0m-533 1h0m28 0h0m14 0h0m99 0h0m178 0h0m56 0h0m36 0h0m34 0h0m-430 1h0m45 0h0m370 0h0m131 0h0m19 0h0m-568 1h0m459 0h0m5 0h0m6 0h0m122 0h0m-135 1h0m43 0h0m32 0h0m-362 1h0m274 0h0m104 0h0m19 0h0m32 0h0m-588 1h0m393 0h0m3 0h0m127 0h0m17 0h0m-183 1h0m76 0h0m4 0h0m75 0h0m27 0h0m-355 1h0m12 0h0m266 0h0m37 0h0m2 0h0m7 0h0m5 0h0m8 0h0m-330 1h0m174 0h0m37 0h0m57 0h0m52 0h0m3 0h0m33 0h0m5 0h0m-106 1h0m91 0h0m31 0h0m-186 1h0m26 0h0m1 0h0m23 0h0m116 0h0m-115 1h0m49 0h0m26 0h0m32 0h0m-514 1h0m378 0h0m8 0h0m48 0h0m54 0h0m25 0h0m21 0h0m-104 1h0m58 0h0m16 0h0m15 0h0m25 0h0m-297 1h0m139 0h0m25 0h0m3 0h0m0 0h0m39 0h0m6 0h0m2 0h0m55 0h0m28 0h0m-557 1h0m91 0h0m360 0h0m57 0h0m-89 1h0m19 0h0m67 0h0m-511 1h0m12 0h0m367 0h0m31 0h0m186 0h0m-621 1h0m1 0h0m159 0h0m42 0h0m295 0h0m73 0h0m-503 1h0m397 0h0m85 0h0m-560 1h0m409 0h0m2 0h0m107 0h0m12 0h0m22 0h0m4 0h0m-535 1h0m346 0h0m88 0h0m26 0h0m6 0h0m69 0h0m-434 1h0m48 0h0m246 0h0m17 0h0m126 0h0m1 0h0m-523 1h0m301 0h0m27 0h0m62 0h0m39 0h0m13 0h0m-14 1h0m5 0h0m15 0h0m6 0h0m18 0h0m73 0h0m-552 1h0m222 0h0m228 0h0m21 0h0m9 0h0m72 0h0m-88 1h0m2 0h0m28 0h0m59 0h0m-606 1h0m439 0h0m37 0h0m26 0h0m19 0h0m28 0h0m3 0h0m-520 1h0m404 0h0m84 0h0m12 0h0m1 0h0m-179 1h0m83 0h0m20 0h0m28 0h0m33 0h0m-66 1h0m-443 1h0m80 0h0m296 0h0m28 0h0m-380 1h0m138 0h0m275 0h0m69 0h0m92 0h0m-572 1h0m12 0h0m23 0h0m394 0h0m28 0h0m19 0h0m105 0h0m-600 1h0m466 0h0m25 0h0m41 0h0m4 0h0m-320 1h0m91 0h0m115 0h0m13 0h0m20 0h0m50 0h0m-424 1h0m39 0h0m319 0h0m8 1h0m6 0h0m17 1h0m53 0h0m-304 1h0m1 0h0m264 0h0m42 0h0m56 0h0m-615 1h0m456 0h0m27 0h0m37 0h0m50 0h0m-223 1h0m111 0h0m49 0h0m31 0h0m30 0h0m46 0h0m-415 1h0m42 0h0m8 0h0m127 0h0m135 0h0m-495 2h0m465 0h0m122 0h0m1 0h0m13 0h0m-582 1h0m236 0h0m231 0h0m21 0h0m47 0h0m34 0h0m-545 1h0m95 0h0m142 0h0m59 0h0m243 0h0m8 0h0m-444 1h0m73 0h0m220 0h0m166 0h0m-283 1h0m146 0h0m5 0h0m37 0h0m31 0h0m8 0h0m-265 1h0m162 0h0m17 0h0m86 0h0m41 0h0m3 0h0m-389 1h0m17 0h0m208 0h0m57 0h0m42 0h0m35 0h0m-481 1h0m64 0h0m163 0h0m22 0h0m105 0h0m27 0h0m35 0h0m20 0h0m-98 1h0m144 0h0m15 0h0m-182 1h0m175 0h0m-123 1h0m22 0h0m109 0h0m-579 1h0m409 0h0m156 0h0m23 0h0m35 0h0m-197 1h0m199 0h0m-356 1h0m207 0h0m17 0h0m-294 1h0m71 0h0m181 0h0m4 0h0m38 0h0m-166 1h0m182 0h0m-124 1h0m188 0h0m-571 1h0m94 0h0m472 0h0m-375 1h0m70 0h0m255 0h0m9 0h0m41 0h0m1 1h0m-573 1h0m0 0h0m13 0h0m477 0h0m-239 1h0m67 0h0m-321 1h0m492 0h0m22 1h0m51 0h0m-230 1h0m110 0h0m7 0h0m51 0h0m15 0h0m13 0h0m26 0h0m24 0h0m-456 1h0m239 1h0m172 0h0m29 0h0m-282 1h0m18 0h0m214 0h0m63 0h0m-245 1h0m187 0h0m47 0h0m-406 1h0m124 0h0m106 0h0m22 0h0m45 0h0m51 0h0m4 0h0m29 0h0m-212 1h0m178 0h0m15 0h0m43 0h0m-450 1h0m207 0h0m146 0h0m32 0h0m18 0h0m3 0h0m-255 1h0m214 0h0m27 0h0m6 0h0m9 0h0m46 0h0m-171 1h0m128 0h0m-151 2h0m161 0h0m-136 2h0m136 0h0m23 1h0m10 0h0m-268 1h0m125 0h0m81 0h0m-303 1h0m65 0h0m246 0h0m-472 1h0m377 1h0m-322 1h0m539 0h0m-339 1h0m62 0h0m-93 1h0m135 0h0m28 0h0m73 0h0m16 0h0m47 0h0m28 0h0m-308 1h0m27 0h0m205 0h0m13 0h0m44 0h0m-548 1h0m42 0h0m380 0h0m123 1h0m-559 1h0m575 0h0m29 0h0m-402 2h0m8 0h0m71 0h0m-120 2h0m11 0h0m67 0h0m244 0h0m-140 1h0m20 0h0m-336 1h0m501 0h0m-153 1h0m-361 2h0m548 0h0m-103 1h0m100 0h0m-428 1h0m383 0h0m-314 2h0m89 0h0m5 0h0m279 0h0m-283 1h0m247 0h0m39 0h0m-228 1h0m-248 1h0m300 0h0m27 0h0m47 0h0m-250 1h0m262 0h0m23 0h0m-295 1h0m288 0h0m-200 1h0m164 1h0m-86 1h0m60 0h0m12 1h0m-68 2h0m-359 2h0m252 1h0m290 0h0m-249 1h0m177 1h0m-323 1h0m80 0h0m7 0h0m-10 1h0m-72 1h0m64 0h0m5 0h0m245 0h0m-488 3h0m370 0h0m118 1h0m-108 2h0m-248 1h0m211 1h0m-82 1h0m12 0h0m-3 1h0m124 0h0m-90 3h0m-47 1h0m-28 1h0m111 0h0m200 2h0m-324 1h0m100 1h0m4 1h0m10 0h0m61 0h0m-84 1h0m189 1h0m-51 3h0m-426 1h0m225 0h0m228 1h0m-84 7h0m39 0h0m-177 2h0m165 0h0m-405 2h0m171 0h0m237 0h0m-96 3h0m-132 1h0m185 0h0m-164 1h0m-184 7h0m222 2h0m79 0h0m-249 4h0m366 5h0m-31 16h0" fill="none" stroke="#1f77b4" stroke-opacity="0.75" stroke-width="8.8" stroke-linecap="round"/><path transform="scale(0.25)" d="M2815 108h0m9 5h0m-10 4h0m11 1h0m4 1h0m-5 5h0m4 1h0m-17 2h0m10 1h0m-12 2h0m9 1h0m3 0h0m-8 2h0m2 0h0m5 0h0m1 0h0m-12 3h0m2 0h0m-3 1h0m16 0h0m4 0h0m-16 1h0m-15 1h0m30 0h0m-17 1h0m14 0h0m-14 1h0m2 0h0m-6 1h0m-12 2h0m1 0h0m16 0h0m2 0h0m-9 1h0m-3 1h0m0 1h0m10 0h0m-20 2h0m13 1h0m-5 1h0m-3 2h0m3 1h0m1 0h0m-2 1h0m23 0h0m-26 1h0m5 1h0m-20 1h0m2 0h0m10 0h0m5 0h0m-15 2h0m9 0h0m-9 1h0m12 0h0m-19 1h0m7 0h0m13 0h0m-10 1h0m7 0h0m-25 2h0m22 0h0m-19 1h0m6 0h0m18 0h0m-18 1h0m5 0h0m13 0h0m-12 1h0m3 0h0m41 1h0m-47 1h0m4 0h0m0 1h0m2 0h0m0 0h0m-8 1h0m6 1h0m39 0h0m3 0h0m-61 1h0m5 0h0m9 0h0m1 0h0m43 0h0m0 0h0m-50 2h0m51 0h0m-52 1h0m5 2h0m1 0h0m46 0h0m-54 1h0m7 1h0m-14 1h0m3 0h0m1 1h0m4 0h0m-11 1h0m7 0h0m55 0h0m-60 1h0m4 0h0m2 0h0m4 2h0m-13 1h0m5 0h0m-15 1h0m7 0h0m2 0h0m9 0h0m2 0h0m51 0h0m-62 1h0m13 0h0m-11 1h0m1 1h0m1 0h0m7 0h0m49 0h0m-50 1h0m-18 2h0m5 0h0m66 0h0m-70 1h0m6 0h0m-3 1h0m1 0h0m-1 1h0m2 0h0m-12 1h0m73 0h0m1 0h0m-69 1h0m1 0h0m2 0h0m3 0h0m1 0h0m2 0h0m-5 2h0m64 0h0m-63 2h0m1 0h0m-15 2h0m16 0h0m66 0h0m-65 1h0m65 0h0m-86 1h0m11 0h0m-6 2h0m7 0h0m0 0h0m3 0h0m-10 1h0m3 0h0m-10 1h0m11 0h0m-8 1h0m0 1h0m-9 1h0m15 0h0m-6 1h0m-4 1h0m9 0h0m-12 1h0m8 0h0m80 0h0m-83 1h0m-5 1h0m6 0h0m-9 1h0m91 0h0m-100 3h0m101 0h0m-96 1h0m-9 1h0m2 0h0m10 0h0m3 1h0m89 0h0m-97 1h0m6 1h0m92 0h0m-111 2h0m18 0h0m1 0h0m-17 2h0m111 0h0m-3 1h0m-99 1h0m-6 1h0m1 0h0m3 0h0m-8 1h0m112 0h0m-114 1h0m15 1h0m-20 1h0m4 0h0m13 0h0m1 0h0m0 0h0m-26 1h0m15 0h0m7 0h0m-7 1h0m2 0h0m-13 1h0m7 0h0m11 1h0m-12 1h0m6 0h0m-19 1h0m13 1h0m-11 3h0m8 0h0m4 0h0m-7 1h0m124 0h0m-122 1h0m6 0h0m4 0h0m110 0h0m-128 1h0m10 0h0m-3 1h0m1 0h0m3 0h0m-8 1h0m10 0h0m-12 2h0m2 0h0m1 1h0m1 0h0m3 0h0m124 0h0m-132 1h0m-7 1h0m10 2h0m-24 1h0m18 0h0m2 0h0m129 0h0m-132 1h0m-91 2h0m89 0h0m-11 1h0m9 2h0m3 1h0m-14 1h0m17 0h0m-17 1h0m-3 1h0m4 0h0m10 0h0m-13 1h0m8 0h0m-10 2h0m6 0h0m143 0h0m-144 1h0m-4 1h0m4 0h0m-1 1h0m5 0h0m1 0h0m-30 1h0m18 1h0m154 0h0m-154 1h0m8 0h0m2 0h0m-16 1h0m8 0h0m5 0h0m1 0h0m1 0h0m147 0h0m-162 1h0m2 0h0m1 0h0m2 0h0m9 0h0m-42 1h0m179 0h0m-147 1h0m11 0h0m136 0h0m-169 1h0m11 0h0m8 0h0m-6 1h0m12 1h0m142 0h0m-162 1h0m7 0h0m7 0h0m-15 2h0m9 0h0m10 0h0m4 0h0m141 0h0m-149 2h0m6 0h0m-16 1h0m8 0h0m8 0h0m-5 1h0m-14 1h0m2 0h0m1 0h0m7 0h0m-15 1h0m6 0h0m-1 1h0m163 0h0m-168 3h0m1 0h0m2 0h0m1 1h0m8 0h0m-18 1h0m6 0h0m2 0h0m4 0h0m6 0h0m-17 1h0m4 1h0m168 1h0m-166 1h0m0 0h0m6 0h0m2 0h0m2 0h0m154 0h0m4 0h0m-172 1h0m12 0h0m-13 1h0m2 0h0m-33 1h0m39 0h0m-4 1h0m9 0h0m154 0h0m2 0h0m-166 2h0m170 1h0m-179 1h0m-17 1h0m9 0h0m12 0h0m-13 1h0m5 0h0m12 0h0m3 0h0m-11 1h0m180 0h0m-190 1h0m12 0h0m-10 1h0m0 0h0m10 1h0m-4 1h0m173 0h0m-186 1h0m6 0h0m6 0h0m-9 6h0m-41 1h0m228 0h0m-186 1h0m1 0h0m-3 2h0m2 0h0m-16 1h0m-4 1h0m2 0h0m14 0h0m187 0h0m-201 2h0m18 0h0m-17 1h0m9 0h0m192 2h0m-194 2h0m-7 1h0m5 0h0m-4 1h0m-11 1h0m2 0h0m11 0h0m-10 1h0m8 1h0m-12 1h0m0 0h0m5 0h0m7 0h0m-5 1h0m2 2h0m-11 1h0m12 0h0m-18 1h0m222 0h0m-208 1h0m3 0h0m-3 1h0m-10 1h0m6 0h0m-16 1h0m16 0h0m7 0h0m-23 1h0m9 0h0m7 0h0m5 2h0m-15 1h0m0 0h0m17 0h0m-16 1h0m-3 1h0m6 0h0m5 1h0m-9 1h0m-14 2h0m1 0h0m1 0h0m1 0h0m11 0h0m-4 1h0m4 0h0m1 0h0m-14 1h0m2 0h0m7 1h0m0 0h0m2 0h0m-11 2h0m5 1h0m6 0h0m-11 1h0m2 0h0m-73 1h0m72 0h0m-5 1h0m6 0h0m-14 1h0m7 0h0m3 0h0m6 0h0m1 0h0m3 0h0m-5 1h0m-12 1h0m238 0h0m1 0h0m-241 1h0m4 0h0m0 2h0m-2 2h0m237 2h0m-268 1h0m22 0h0m15 0h0m0 0h0m229 0h0m0 0h0m-6 1h0m-268 2h0m28 0h0m13 0h0m227 0h0m-235 1h0m4 0h0m-4 1h0m9 0h0m-13 1h0m0 0h0m1 0h0m-7 1h0m8 0h0m-37 1h0m45 0h0m-49 1h0m36 0h0m242 0h0m1 0h0m-258 2h0m256 0h0m11 0h0m-273 1h0m24 0h0m1 1h0m-5 1h0m3 0h0m0 0h0m241 0h0m-254 1h0m4 0h0m6 0h0m4 0h0m0 0h0m-11 1h0m-10 1h0m14 0h0m0 0h0m-49 2h0m52 0h0m1 0h0m-18 2h0m-27 1h0m16 0h0m9 2h0m2 0h0m3 0h0m258 0h0m-268 1h0m10 0h0m253 0h0m-258 2h0m2 0h0m5 0h0m252 3h0m-265 1h0m2 1h0m7 0h0m-2 1h0m-15 1h0m16 0h0m0 0h0m-10 1h0m13 0h0m-11 1h0m-6 1h0m12 0h0m-7 1h0m2 1h0m-10 1h0m2 0h0m1 0h0m6 0h0m3 0h0m256 0h0m-256 1h0m256 0h0m-284 1h0m18 0h0m3 0h0m8 0h0m2 0h0m-7 1h0m-9 1h0m9 0h0m261 0h0m1 0h0m-288 1h0m15 0h0m6 0h0m271 0h0m-273 1h0m267 0h0m1 0h0m-278 1h0m6 0h0m273 0h0m-264 1h0m-13 1h0m9 0h0m-36 1h0m28 0h0m2 3h0m274 0h0m-279 1h0m279 1h0m-279 1h0m7 0h0m-9 1h0m-9 2h0m10 0h0m274 0h0m-284 1h0m1 0h0m2 0h0m8 2h0m-17 1h0m-16 1h0m17 0h0m0 0h0m10 0h0m-12 1h0m8 0h0m3 0h0m2 0h0m1 1h0m-16 1h0m6 0h0m13 0h0m275 0h0m-287 1h0m10 0h0m2 0h0m-23 1h0m2 0h0m21 0h0m-10 1h0m-16 1h0m298 0h0m-315 1h0m28 0h0m7 0h0m-35 2h0m17 0h0m12 1h0m285 0h0m-291 1h0m5 0h0m-28 1h0m16 1h0m11 0h0m-31 1h0m28 0h0m3 0h0m0 0h0m1 0h0m294 1h0m-5 1h0m-300 1h0m-3 1h0m3 0h0m12 0h0m-14 1h0m-8 1h0m5 0h0m1 0h0m2 0h0m3 1h0m296 0h0m-335 1h0m-17 1h0m42 0h0m7 0h0m302 0h0m-305 1h0m12 0h0m296 0h0m-317 1h0m-7 1h0m17 0h0m-8 1h0m6 1h0m5 1h0m-12 1h0m315 0h0m-345 2h0m30 0h0m7 1h0m1 1h0m-13 1h0m-11 1h0m10 0h0m1 0h0m-6 3h0m321 0h0m-332 2h0m17 0h0m-16 2h0m15 2h0m3 0h0m-24 1h0m14 0h0m4 0h0m5 0h0m2 0h0m312 0h0m3 0h0m-327 1h0m6 0h0m-58 2h0m40 0h0m11 0h0m-10 1h0m0 1h0m9 0h0m3 0h0m-12 1h0m12 1h0m-45 1h0m27 1h0m14 1h0m-16 1h0m9 0h0m6 0h0m-9 1h0m-1 1h0m-6 2h0m4 1h0m-13 1h0m22 0h0m-80 1h0m47 0h0m22 0h0m7 0h0m-12 1h0m12 0h0m-17 1h0m348 0h0m-347 1h0m5 1h0m11 0h0m331 0h0m-335 1h0m2 0h0m-14 1h0m10 0h0m-4 1h0m-17 1h0m19 0h0m338 0h0m-349 1h0m2 0h0m3 0h0m-14 1h0m18 0h0m-9 2h0m1 0h0m0 1h0m5 1h0m2 1h0m-18 1h0m4 0h0m354 0h0m-355 1h0m350 1h0m-342 1h0m0 1h0m-17 1h0m3 0h0m1 0h0m10 0h0m348 0h0m-364 1h0m12 0h0m355 0h0m-11 1h0m2 0h0m-389 1h0m39 0h0m6 0h0m342 0h0m-1 1h0m-397 1h0m41 0h0m3 0h0m363 1h0m-380 1h0m25 0h0m-14 2h0m11 0h0m-4 1h0m-30 1h0m32 0h0m-5 1h0m-8 1h0m11 0h0m0 1h0m354 0h0m-376 1h0m8 0h0m14 0h0m-28 1h0m30 1h0m350 0h0m-374 1h0m-19 1h0m34 0h0m3 0h0m-15 1h0m1 0h0m4 0h0m13 0h0m391 0h0m-405 1h0m-6 1h0m5 1h0m2 0h0m-1 1h0m-36 1h0m24 0h0m9 1h0m1 0h0m-7 2h0m1 0h0m4 0h0m3 2h0m366 1h0m-456 1h0m84 0h0m-1 1h0m-14 1h0m8 2h0m5 0h0m-11 1h0m1 0h0m15 0h0m-7 1h0m3 0h0m6 0h0m362 0h0m-376 1h0m9 0h0m-15 1h0m5 0h0m3 0h0m-18 1h0m11 1h0m-5 1h0m1 0h0m-3 2h0m5 0h0m6 1h0m-2 1h0m1 0h0m0 0h0m378 0h0m-406 1h0m17 0h0m2 1h0m12 1h0m-12 1h0m-15 1h0m12 0h0m4 0h0m3 1h0m1 0h0m1 0h0m-40 1h0m25 1h0m10 0h0m-14 1h0m3 0h0m11 0h0m2 0h0m1 0h0m-49 1h0m25 0h0m15 0h0m7 0h0m385 0h0m-404 1h0m22 0h0m-61 1h0m45 0h0m11 0h0m-26 1h0m14 0h0m0 0h0m392 0h0m-398 1h0m10 0h0m7 0h0m-16 1h0m12 0h0m-16 1h0m10 0h0m2 0h0m394 0h0m-390 1h0m-43 1h0m34 1h0m8 0h0m384 0h0m-391 2h0m-36 1h0m38 0h0m391 0h0m-413 1h0m20 0h0m-2 1h0m389 0h0m-404 1h0m1 0h0m8 0h0m0 0h0m-8 1h0m9 0h0m-43 1h0m48 0h0m393 0h0m-412 1h0m2 2h0m2 1h0m-38 1h0m37 0h0m4 0h0m-2 1h0m0 1h0m1 0h0m405 0h0m-416 1h0m12 0h0m-16 1h0m2 0h0m14 0h0m0 0h0m398 0h0m-405 2h0m-7 1h0m3 0h0m-12 1h0m16 0h0m-5 1h0m4 1h0m413 0h0m-428 1h0m13 1h0m-5 1h0m-10 1h0m16 0h0m-27 3h0m13 0h0m-6 2h0m8 0h0m9 0h0m-19 1h0m11 0h0m418 0h0m-410 1h0m-24 2h0m4 1h0m5 0h0m-35 3h0m457 1h0m-418 2h0m420 0h0m-422 2h0m-7 4h0m424 0h0m1 0h0m-436 1h0m6 0h0m3 2h0m-45 1h0m12 0h0m17 0h0m13 0h0m-20 1h0m21 0h0m-22 1h0m5 0h0m9 0h0m2 0h0m0 0h0m1 2h0m-11 1h0m9 0h0m0 0h0m-3 1h0m-11 1h0m-11 1h0m24 0h0m-15 1h0m12 0h0m-33 1h0m23 0h0m445 0h0m-456 1h0m12 0h0m8 0h0m-7 2h0m1 0h0m1 0h0m3 1h0m-11 1h0m6 0h0m3 0h0m4 0h0m1 0h0m-10 2h0m4 0h0m-9 1h0m-20 1h0m22 1h0m4 0h0m-12 1h0m12 1h0m3 0h0m-25 1h0m20 0h0m4 0h0m5 0h0m435 0h0m-493 1h0m29 0h0m9 0h0m8 1h0m441 0h0m-447 1h0m-3 2h0m1 0h0m6 0h0m447 0h0m-453 1h0m1 0h0m-10 1h0m7 0h0m-2 1h0m453 0h0m-466 1h0m5 0h0m2 1h0m2 0h0m2 1h0m-11 1h0m-4 1h0m10 0h0m-9 1h0m8 1h0m3 0h0m457 0h0m-466 1h0m7 1h0m-2 1h0m4 1h0m447 0h0m-3 3h0m-452 1h0m5 0h0m-3 1h0m2 0h0m450 1h0m-464 1h0m4 0h0m-12 2h0m2 0h0m469 0h0m-206 1h0m204 0h0m-502 1h0m300 0h0m-275 1h0m7 0h0m1 0h0m9 0h0m253 0h0m-268 1h0m16 0h0m250 0h0m-19 1h0m3 0h0m27 0h0m-266 1h0m2 0h0m226 0h0m1 0h0m-237 1h0m10 0h0m230 0h0m33 0h0m201 1h0m-475 1h0m224 0h0m16 0h0m-237 2h0m282 0h0m187 0h0m-462 1h0m212 0h0m44 0h0m19 0h0m6 0h0m-294 1h0m5 0h0m3 0h0m3 0h0m0 0h0m279 0h0m1 0h0m5 0h0m-39 1h0m17 0h0m7 0h0m-307 1h0m282 0h0m23 0h0m-292 1h0m211 0h0m-195 1h0m3 0h0m195 0h0m65 0h0m45 0h0m-317 1h0m7 0h0m250 0h0m-253 1h0m0 0h0m228 0h0m19 0h0m29 0h0m-277 1h0m226 0h0m-231 1h0m279 0h0m35 0h0m6 0h0m-53 1h0m50 0h0m-305 1h0m227 0h0m40 0h0m8 0h0m29 0h0m-316 1h0m175 0h0m4 0h0m63 0h0m235 0h0m-479 1h0m178 0h0m111 0h0m25 0h0m-304 1h0m6 0h0m140 0h0m11 0h0m82 0h0m-254 1h0m9 0h0m172 0h0m66 0h0m34 0h0m-268 1h0m140 0h0m7 0h0m38 0h0m107 0h0m5 0h0m-196 1h0m8 0h0m76 0h0m46 0h0m21 0h0m58 0h0m7 0h0m3 0h0m-327 1h0m171 0h0m67 0h0m18 0h0m223 0h0m-495 1h0m20 0h0m107 0h0m63 0h0m7 0h0m54 0h0m-235 1h0m3 0h0m124 0h0m73 0h0m25 0h0m29 0h0m-262 1h0m2 0h0m3 0h0m30 0h0m6 0h0m223 0h0m-211 1h0m57 0h0m40 0h0m84 0h0m95 0h0m-329 1h0m52 0h0m249 0h0m36 0h0m147 0h0m-481 1h0m95 0h0m25 0h0m50 0h0m164 0h0m-352 1h0m18 0h0m28 0h0m78 0h0m28 0h0m29 0h0m1 0h0m66 0h0m5 0h0m0 0h0m46 0h0m4 0h0m-296 1h0m98 0h0m87 0h0m37 0h0m28 0h0m1 0h0m23 0h0m67 0h0m149 0h0m0 0h0m-459 1h0m172 0h0m48 0h0m-263 1h0m74 0h0m60 0h0m38 0h0m22 0h0m43 0h0m15 0h0m-242 1h0m2 0h0m14 0h0m18 0h0m31 0h0m72 0h0m27 0h0m90 0h0m61 0h0m31 0h0m-355 1h0m66 0h0m92 0h0m105 0h0m14 0h0m85 0h0m-362 1h0m204 0h0m28 0h0m47 0h0m-264 1h0m15 0h0m3 0h0m80 0h0m40 0h0m19 0h0m29 0h0m161 0h0m-351 1h0m66 0h0m22 0h0m27 0h0m20 0h0m114 0h0m9 0h0m14 0h0m11 0h0m54 0h0m7 0h0m3 0h0m-374 1h0m20 0h0m37 0h0m65 0h0m52 0h0m116 0h0m86 0h0m1 0h0m-343 1h0m27 0h0m43 0h0m19 0h0m10 0h0m31 0h0m36 0h0m17 0h0m47 0h0m34 0h0m25 0h0m-215 1h0m44 0h0m154 0h0m-256 1h0m14 0h0m36 0h0m45 0h0m22 0h0m88 0h0m-174 1h0m52 0h0m6 0h0m6 0h0m7 0h0m67 0h0m61 0h0m48 0h0m25 0h0m-341 1h0m150 0h0m14 0h0m182 0h0m19 0h0m139 0h0m-440 1h0m70 0h0m69 0h0m41 0h0m6 0h0m100 0h0m26 0h0m-356 1h0m347 0h0m5 0h0m4 0h0m-356 1h0m131 0h0m58 0h0m4 0h0m23 0h0m129 0h0m6 0h0m3 0h0m-323 1h0m0 0h0m206 0h0m1 0h0m20 0h0m36 0h0m54 0h0m131 0h0m2 0h0m-463 1h0m26 0h0m24 0h0m9 0h0m175 0h0m-211 1h0m52 0h0m18 0h0m93 0h0m2 0h0m47 0h0m15 0h0m19 0h0m191 0h0m-449 1h0m19 0h0m51 0h0m2 0h0m98 0h0m33 0h0m97 0h0m1 0h0m148 0h0m-473 1h0m9 0h0m37 0h0m61 0h0m46 0h0m49 0h0m0 0h0m25 0h0m101 0h0m21 0h0m-282 1h0m2 0h0m52 0h0m91 0h0m48 0h0m77 0h0m16 0h0m-347 1h0m101 0h0m12 0h0m50 0h0m67 0h0m51 0h0m41 0h0m140 0h0m-482 1h0m49 0h0m27 0h0m117 0h0m129 0h0m9 0h0m37 0h0m2 0h0m-331 1h0m58 0h0m71 0h0m49 0h0m4 0h0m14 0h0m128 0h0m-277 1h0m117 0h0m66 0h0m99 0h0m-370 1h0m22 0h0m38 0h0m20 0h0m169 0h0m85 0h0m36 0h0m-248 1h0m1 0h0m110 0h0m23 0h0m41 0h0m44 0h0m7 0h0m-276 1h0m39 0h0m56 0h0m91 0h0m67 0h0m46 0h0m-162 1h0m80 0h0m10 0h0m69 0h0m0 0h0m1 0h0m-297 1h0m87 0h0m53 0h0m13 0h0m41 0h0m32 0h0m72 0h0m112 0h0m-496 1h0m137 0h0m23 0h0m110 0h0m40 0h0m74 0h0m1 0h0m4 0h0m-403 1h0m89 0h0m127 0h0m49 0h0m28 0h0m50 0h0m-209 1h0m18 0h0m244 0h0m-382 1h0m89 0h0m30 0h0m40 0h0m51 0h0m29 0h0m70 0h0m-198 1h0m12 0h0m4 0h0m78 0h0m23 0h0m135 0h0m-360 1h0m77 0h0m13 0h0m36 0h0m61 0h0m46 0h0m3 0h0m63 0h0m-322 1h0m29 0h0m5 0h0m25 0h0m15 0h0m41 0h0m19 0h0m197 0h0m74 0h0m-256 1h0m56 0h0m65 0h0m6 0h0m65 0h0m56 0h0m118 0h0m-471 1h0m139 0h0m60 0h0m20 0h0m13 0h0m5 0h0m132 0h0m-356 1h0m58 0h0m18 0h0m71 0h0m10 0h0m15 0h0m82 0h0m-313 1h0m6 0h0m43 0h0m41 0h0m9 0h0m27 0h0m4 0h0m10 0h0m36 0h0m66 0h0m14 0h0m10 0h0m42 0h0m21 0h0m4 0h0m1 0h0m52 0h0m13 0h0m2 0h0m107 0h0m-299 1h0m25 0h0m7 0h0m91 0h0m-251 1h0m7 0h0m17 0h0m205 0h0m10 0h0m21 0h0m23 0h0m11 0h0m-330 1h0m62 0h0m75 0h0m20 0h0m32 0h0m22 0h0m25 0h0m20 0h0m18 0h0m-186 1h0m56 0h0m33 0h0m64 0h0m4 0h0m49 0h0m168 0h0m-500 1h0m161 0h0m41 0h0m21 0h0m12 0h0m50 0h0m32 0h0m5 0h0m38 0h0m8 0h0m16 0h0m27 0h0m0 0h0m-413 1h0m66 0h0m3 0h0m13 0h0m116 0h0m52 0h0m35 0h0m123 0h0m1 0h0m5 0h0m-282 1h0m7 0h0m111 0h0m33 0h0m22 0h0m105 0h0m-409 1h0m50 0h0m0 0h0m135 0h0m0 0h0m38 0h0m89 0h0m48 0h0m16 0h0m11 0h0m-291 1h0m9 0h0m59 0h0m5 0h0m96 0h0m102 0h0m44 0h0m-393 1h0m13 0h0m90 0h0m41 0h0m49 0h0m19 0h0m10 0h0m48 0h0m24 0h0m48 0h0m1 0h0m38 0h0m-391 1h0m25 0h0m113 0h0m24 0h0m3 0h0m18 0h0m154 0h0m0 0h0m21 0h0m22 0h0m13 0h0m-375 1h0m48 0h0m17 0h0m28 0h0m20 0h0m50 0h0m40 0h0m10 0h0m20 0h0m13 0h0m62 0h0m33 0h0m15 0h0m-311 1h0m8 0h0m3 0h0m23 0h0m21 0h0m57 0h0m12 0h0m10 0h0m9 0h0m42 0h0m5 0h0m11 0h0m11 0h0m40 0h0m58 0h0m-270 1h0m15 0h0m5 0h0m128 0h0m3 0h0m43 0h0m31 0h0m10 0h0m11 0h0m42 0h0m-301 1h0m118 0h0m67 0h0m72 0h0m4 0h0m29 0h0m3 0h0m112 0h0m-491 1h0m82 0h0m2 0h0m33 0h0m20 0h0m163 0h0m61 0h0m12 0h0m4 0h0m5 0h0m11 0h0m-310 1h0m159 0h0m120 0h0m12 0h0m9 0h0m113 0h0m-415 1h0m29 0h0m3 0h0m6 0h0m36 0h0m15 0h0m14 0h0m25 0h0m48 0h0m92 0h0m5 0h0m10 0h0m6 0h0m-309 1h0m82 0h0m39 0h0m30 0h0m81 0h0m8 0h0m15 0h0m48 0h0m7 0h0m110 0h0m-453 1h0m138 0h0m53 0h0m72 0h0m61 0h0m3 0h0m17 0h0m23 0h0m-324 1h0m67 0h0m9 0h0m48 0h0m4 0h0m2 0h0m9 0h0m24 0h0m22 0h0m230 0h0m-456 1h0m26 0h0m34 0h0m2 0h0m88 0h0m29 0h0m14 0h0m0 0h0m118 0h0m-382 1h0m28 0h0m231 0h0m59 0h0m43 0h0m10 0h0m-288 1h0m43 0h0m8 0h0m31 0h0m50 0h0m17 0h0m93 0h0m-168 1h0m24 0h0m79 0h0m59 0h0m7 0h0m38 0h0m4 0h0m-373 1h0m8 0h0m2 0h0m44 0h0m32 0h0m182 0h0m1 0h0m261 0h0m-556 1h0m59 0h0m85 0h0m58 0h0m71 0h0m15 0h0m6 0h0m0 0h0m19 1h0m12 0h0m5 0h0m-250 1h0m26 0h0m97 0h0m101 0h0m20 0h0m6 0h0m29 0h0m-323 1h0m29 0h0m176 0h0m62 0h0m17 0h0m34 0h0m-269 1h0m87 0h0m23 0h0m22 0h0m41 0h0m15 0h0m1 0h0m118 0h0m-375 1h0m65 0h0m34 0h0m40 0h0m20 0h0m74 0h0m27 0h0m34 0h0m84 0h0m-286 1h0m2 0h0m14 0h0m3 0h0m79 0h0m78 0h0m99 0h0m11 0h0m-390 1h0m19 0h0m46 0h0m51 0h0m11 0h0m129 0h0m21 0h0m13 0h0m5 0h0m255 0h0m-241 1h0m-229 1h0m16 0h0m1 0h0m80 0h0m76 0h0m17 0h0m10 0h0m57 0h0m51 0h0m156 0h0m-427 1h0m7 0h0m146 0h0m85 0h0m20 0h0m2 0h0m19 0h0m142 0h0m-363 1h0m115 0h0m20 0h0m69 0h0m-184 1h0m3 0h0m61 0h0m49 0h0m23 0h0m-259 1h0m16 0h0m99 0h0m145 0h0m212 0h0m-520 1h0m6 0h0m54 0h0m32 0h0m92 0h0m32 0h0m22 0h0m24 0h0m88 0h0m-274 1h0m112 0h0m19 0h0m43 0h0m77 0h0m19 0h0m-278 1h0m8 0h0m1 0h0m157 0h0m63 0h0m12 0h0m-294 1h0m4 0h0m8 0h0m27 0h0m189 0h0m101 0h0m1 0h0m17 0h0m-184 1h0m29 0h0m48 0h0m22 0h0m38 0h0m10 0h0m13 0h0m25 0h0m2 0h0m150 0h0m-344 1h0m38 0h0m3 0h0m22 0h0m6 0h0m60 0h0m10 0h0m21 0h0m12 0h0m-329 1h0m216 0h0m122 0h0m-353 1h0m199 0h0m58 0h0m5 0h0m70 0h0m21 0h0m-342 1h0m185 0h0m6 0h0m30 0h0m48 0h0m5 0h0m25 0h0m42 0h0m9 0h0m-380 1h0m235 0h0m34 0h0m61 0h0m2 0h0m-186 1h0m132 0h0m8 0h0m99 0h0m-336 1h0m32 0h0m132 0h0m42 0h0m91 0h0m-262 1h0m37 0h0m6 0h0m29 0h0m383 0h0m-425 1h0m211 0h0m-313 1h0m6 0h0m298 0h0m19 0h0m23 0h0m174 0h0m-511 1h0m17 0h0m113 0h0m59 0h0m15 0h0m167 0h0m-389 1h0m143 0h0m92 0h0m95 0h0m18 0h0m23 0h0m1 0h0m-318 1h0m60 0h0m126 0h0m126 0h0m7 0h0m16 0h0m-379 1h0m193 0h0m-243 1h0m109 0h0m126 0h0m89 0h0m20 0h0m27 0h0m35 0h0m2 0h0m37 0h0m121 0h0m-331 1h0m62 0h0m5 0h0m12 0h0m1 0h0m56 0h0m-345 1h0m169 0h0m71 0h0m59 0h0m45 0h0m53 0h0m25 0h0m-289 1h0m11 0h0m149 0h0m24 0h0m46 0h0m-214 1h0m179 0h0m74 0h0m36 0h0m-452 1h0m46 0h0m69 0h0m25 0h0m48 0h0m16 0h0m10 0h0m199 0h0m0 0h0m-368 1h0m88 0h0m73 0h0m128 0h0m11 0h0m85 0h0m19 0h0m105 0h0m-456 1h0m233 0h0m37 0h0m19 0h0m2 0h0m19 0h0m4 0h0m-372 1h0m174 0h0m37 0h0m57 0h0m25 0h0m15 0h0m58 0h0m21 0h0m7 0h0m-379 1h0m8 0h0m180 0h0m29 0h0m85 0h0m91 0h0m0 0h0m-305 1h0m73 0h0m67 0h0m51 0h0m38 0h0m39 0h0m-390 1h0m9 0h0m251 0h0m36 0h0m-191 1h0m61 0h0m25 0h0m193 0h0m8 0h0m59 0h0m-364 1h0m42 0h0m161 0h0m10 0h0m19 0h0m12 0h0m99 0h0m5 0h0m-457 1h0m268 0h0m1 0h0m23 0h0m15 0h0m15 0h0m18 0h0m53 0h0m34 0h0m123 0h0m-299 1h0m2 0h0m4 0h0m57 0h0m10 0h0m67 0h0m24 0h0m4 0h0m17 0h0m5 0h0m9 0h0m103 0h0m-530 1h0m109 0h0m151 0h0m78 0h0m8 0h0m16 0h0m7 0h0m78 0h0m-434 1h0m161 0h0m83 0h0m88 0h0m64 0h0m13 0h0m5 0h0m99 0h0m-513 1h0m244 0h0m116 0h0m59 0h0m-406 1h0m231 0h0m16 0h0m30 0h0m21 0h0m37 0h0m64 0h0m26 0h0m75 0h0m-487 1h0m73 0h0m246 0h0m34 0h0m18 0h0m37 0h0m-193 1h0m10 0h0m21 0h0m2 0h0m53 0h0m25 0h0m53 0h0m-418 1h0m30 0h0m125 0h0m130 0h0m21 0h0m31 0h0m38 0h0m13 0h0m6 0h0m21 0h0m5 0h0m26 0h0m-479 1h0m38 0h0m337 0h0m11 0h0m50 0h0m-81 1h0m24 0h0m32 0h0m16 0h0m-319 1h0m41 0h0m152 0h0m17 0h0m56 0h0m15 0h0m1 0h0m38 0h0m-391 1h0m55 0h0m206 0h0m16 0h0m107 0h0m-173 1h0m67 0h0m3 0h0m65 0h0m-394 1h0m76 0h0m208 0h0m7 0h0m102 0h0m21 0h0m75 0h0m-243 1h0m84 0h0m48 0h0m-285 1h0m262 0h0m134 0h0m70 0h0m1 0h0m2 0h0m-565 1h0m19 0h0m234 0h0m70 0h0m16 0h0m29 0h0m9 0h0m43 0h0m-125 1h0m31 0h0m6 0h0m-287 1h0m264 0h0m63 0h0m26 0h0m88 0h0m-477 1h0m5 0h0m33 0h0m28 0h0m277 0h0m136 0h0m5 0h0m-377 1h0m6 0h0m159 0h0m114 0h0m15 0h0m3 0h0m71 0h0m1 0h0m-460 1h0m126 0h0m30 0h0m177 0h0m15 0h0m21 0h0m165 0h0m-217 1h0m39 0h0m13 0h0m25 0h0m6 0h0m1 0h0m-109 1h0m3 0h0m1 0h0m62 1h0m43 0h0m133 0h0m4 0h0m-562 1h0m267 0h0m13 0h0m18 0h0m3 0h0m257 0h0m-501 1h0m254 0h0m11 0h0m2 0h0m98 0h0m4 0h0m55 0h0m-498 1h0m367 0h0m7 0h0m-132 1h0m115 0h0m9 0h0m29 0h0m-351 1h0m55 0h0m245 0h0m24 0h0m76 0h0m-381 1h0m224 1h0m138 0h0m146 0h0m-534 1h0m82 0h0m292 0h0m3 0h0m-406 1h0m33 0h0m302 0h0m82 0h0m-307 1h0m52 0h0m85 0h0m31 0h0m37 0h0m11 0h0m6 0h0m8 0h0m15 0h0m22 0h0m12 0h0m45 0h0m-450 1h0m88 0h0m276 0h0m6 0h0m-339 1h0m29 0h0m316 0h0m25 0h0m182 0h0m-555 1h0m107 0h0m209 0h0m9 0h0m37 0h0m-355 1h0m7 0h0m75 0h0m223 0h0m60 0h0m5 0h0m-400 1h0m75 0h0m201 0h0m15 0h0m55 0h0m8 0h0m82 0h0m133 0h0m5 0h0m-545 1h0m12 0h0m320 0h0m26 0h0m15 0h0m-164 1h0m98 0h0m0 0h0m20 0h0m79 0h0m-335 1h0m58 0h0m130 0h0m67 0h0m67 0h0m3 0h0m8 0h0m9 0h0m128 0h0m-583 1h0m21 0h0m82 0h0m26 0h0m257 0h0m53 0h0m-299 1h0m194 0h0m110 0h0m2 0h0m15 0h0m-393 1h0m346 0h0m-381 1h0m79 0h0m68 0h0m74 0h0m129 0h0m47 0h0m84 0h0m-477 1h0m303 0h0m6 0h0m169 0h0m10 0h0m-505 1h0m29 0h0m269 0h0m25 0h0m15 0h0m9 0h0m86 0h0m70 0h0m6 0h0m-356 1h0m169 0h0m29 0h0m52 0h0m26 0h0m-455 1h0m4 0h0m329 0h0m72 0h0m24 0h0m5 0h0m86 0h0m-129 1h0m49 0h0m10 0h0m4 0h0m68 0h0m12 0h0m-515 1h0m73 0h0m276 0h0m48 0h0m15 0h0m43 0h0m14 0h0m45 0h0m-527 1h0m329 0h0m17 0h0m13 0h0m30 0h0m31 0h0m103 0h0m57 0h0m-468 1h0m246 0h0m1 0h0m16 0h0m52 0h0m142 0h0m1 0h0m-557 1h0m2 0h0m34 0h0m65 0h0m186 0h0m65 0h0m23 0h0m46 0h0m67 0h0m-183 1h0m21 0h0m18 0h0m170 0h0m-412 1h0m194 0h0m33 0h0m46 0h0m90 0h0m22 0h0m-454 1h0m308 0h0m65 0h0m48 0h0m-176 1h0m18 0h0m40 0h0m178 0h0m67 0h0m-467 1h0m360 0h0m2 0h0m28 0h0m-519 1h0m17 0h0m127 0h0m6 0h0m192 0h0m120 0h0m22 0h0m29 0h0m-295 1h0m159 0h0m60 0h0m57 0h0m32 0h0m39 0h0m-204 1h0m10 0h0m43 0h0m89 0h0m52 0h0m17 0h0m-351 1h0m13 0h0m6 0h0m86 0h0m190 0h0m-126 1h0m6 0h0m5 0h0m21 0h0m37 0h0m6 0h0m16 0h0m45 0h0m0 0h0m-520 1h0m432 0h0m24 0h0m67 0h0m23 0h0m14 0h0m-546 1h0m165 0h0m5 0h0m237 0h0m42 0h0m79 0h0m-165 1h0m56 0h0m19 0h0m4 0h0m29 0h0m-427 1h0m436 0h0m16 0h0m-395 1h0m233 0h0m117 0h0m-488 1h0m373 0h0m16 0h0m69 0h0m2 0h0m7 0h0m33 0h0m-102 1h0m65 0h0m36 0h0m31 0h0m6 0h0m-169 1h0m41 0h0m4 0h0m103 0h0m3 0h0m-400 1h0m261 0h0m51 0h0m73 0h0m-466 1h0m275 0h0m190 0h0m38 0h0m-500 1h0m2 0h0m276 0h0m61 0h0m78 0h0m31 0h0m12 0h0m67 0h0m135 0h0m-705 1h0m28 0h0m135 0h0m274 0h0m26 0h0m43 0h0m37 0h0m-458 1h0m312 0h0m32 0h0m27 0h0m118 0h0m22 0h0m-591 1h0m367 0h0m165 0h0m-205 1h0m35 0h0m8 0h0m67 0h0m1 0h0m46 0h0m11 0h0m40 0h0m33 0h0m-246 1h0m46 0h0m59 0h0m52 0h0m52 0h0m37 0h0m-143 1h0m45 0h0m109 0h0m-597 1h0m190 0h0m215 0h0m17 0h0m49 0h0m20 0h0m107 0h0m-220 1h0m42 0h0m24 0h0m101 0h0m-484 1h0m342 0h0m5 0h0m9 0h0m75 0h0m24 0h0m-319 1h0m138 0h0m31 0h0m48 0h0m20 0h0m30 0h0m76 0h0m-529 1h0m212 0h0m292 0h0m-498 1h0m344 0h0m153 0h0m78 0h0m-617 1h0m12 0h0m145 0h0m48 0h0m19 0h0m227 0h0m42 0h0m54 0h0m-524 1h0m444 0h0m17 0h0m96 0h0m-552 1h0m19 0h0m105 0h0m20 0h0m219 0h0m36 0h0m47 0h0m-61 1h0m92 0h0m10 0h0m-408 1h0m73 0h0m379 0h0m3 0h0m-271 1h0m161 0h0m33 0h0m36 0h0m43 0h0m-530 1h0m423 0h0m69 0h0m47 0h0m34 0h0m-150 1h0m37 0h0m18 0h0m51 0h0m60 0h0m-127 1h0m14 0h0m45 0h0m-247 1h0m127 0h0m33 0h0m2 0h0m52 0h0m5 0h0m1 0h0m-187 1h0m74 0h0m59 0h0m26 0h0m57 0h0m20 0h0m-527 2h0m286 0h0m114 0h0m40 0h0m-224 1h0m113 0h0m27 0h0m109 0h0m7 0h0m54 0h0m32 0h0m-146 1h0m94 0h0m43 0h0m-164 1h0m29 0h0m7 0h0m13 0h0m73 0h0m10 0h0m-312 1h0m66 0h0m115 0h0m16 0h0m14 0h0m61 0h0m8 0h0m-368 1h0m55 0h0m114 0h0m230 0h0m7 0h0m-524 1h0m376 0h0m22 0h0m30 0h0m2 0h0m36 0h0m14 0h0m7 0h0m7 0h0m-92 1h0m48 0h0m13 0h0m3 0h0m-545 1h0m499 0h0m43 0h0m44 0h0m-125 1h0m69 0h0m4 0h0m26 0h0m39 0h0m-199 1h0m58 0h0m13 0h0m13 0h0m-462 1h0m207 0h0m208 0h0m12 0h0m9 0h0m2 0h0m57 0h0m18 0h0m10 0h0m6 0h0m51 0h0m2 0h0m-554 1h0m427 0h0m10 0h0m39 0h0m59 0h0m17 0h0m-337 1h0m52 0h0m142 0h0m37 0h0m6 0h0m1 0h0m38 0h0m8 0h0m67 0h0m-62 1h0m1 0h0m48 0h0m6 0h0m-362 1h0m222 0h0m88 0h0m-342 1h0m326 0h0m31 0h0m16 0h0m-556 1h0m18 0h0m421 0h0m51 0h0m28 0h0m22 0h0m-428 1h0m316 0h0m94 0h0m20 0h0m29 0h0m-554 1h0m437 0h0m19 0h0m58 0h0m-432 1h0m303 0h0m52 0h0m59 0h0m32 0h0m28 0h0m-391 1h0m84 0h0m211 0h0m10 0h0m57 0h0m-295 1h0m212 0h0m58 0h0m-462 1h0m165 0h0m227 0h0m32 0h0m49 0h0m-285 1h0m122 0h0m72 0h0m51 0h0m44 0h0m48 0h0m-148 1h0m54 0h0m3 0h0m25 0h0m7 0h0m-529 1h0m185 0h0m265 0h0m47 0h0m-88 1h0m79 0h0m-493 1h0m131 0h0m326 0h0m77 0h0m-82 1h0m49 0h0m-160 1h0m29 0h0m131 0h0m-409 1h0m168 0h0m122 0h0m133 0h0m4 0h0m56 0h0m19 0h0m-574 1h0m318 0h0m196 0h0m1 1h0m-515 1h0m106 0h0m300 0h0m3 0h0m99 0h0m-570 1h0m57 0h0m179 0h0m254 0h0m46 0h0m17 0h0m-102 1h0m20 0h0m28 1h0m41 0h0m25 0h0m-73 1h0m16 0h0m8 0h0m35 0h0m-404 1h0m131 0h0m328 0h0m-341 1h0m184 0h0m-423 1h0m353 0h0m85 0h0m10 0h0m18 0h0m-444 1h0m255 0h0m131 0h0m67 0h0m33 0h0m32 0h0m-346 1h0m192 0h0m-372 1h0m137 0h0m327 0h0m-340 1h0m162 0h0m274 0h0m-86 1h0m85 0h0m9 0h0m15 0h0m-269 1h0m102 0h0m35 0h0m101 0h0m27 0h0m9 0h0m-121 1h0m107 0h0m-464 1h0m260 0h0m109 0h0m38 0h0m23 1h0m6 0h0m-339 1h0m18 0h0m133 0h0m81 0h0m44 0h0m11 0h0m-514 1h0m522 0h0m17 0h0m12 0h0m80 0h0m-419 1h0m84 0h0m232 0h0m11 0h0m0 0h0m-527 1h0m370 0h0m87 0h0m-475 1h0m430 0h0m132 0h0m-553 1h0m66 0h0m262 0h0m151 0h0m1 0h0m27 0h0m46 0h0m3 0h0m13 0h0m-567 1h0m492 0h0m9 0h0m-35 1h0m72 0h0m129 0h0m-163 1h0m46 0h0m1 0h0m79 0h0m-147 1h0m2 0h0m129 0h0m-615 1h0m269 0h0m228 0h0m5 0h0m18 0h0m1 0h0m136 0h0m-133 1h0m42 0h0m-223 1h0m170 0h0m43 0h0m-347 1h0m46 0h0m95 0h0m63 0h0m103 0h0m27 0h0m-464 1h0m431 0h0m-280 1h0m89 0h0m168 0h0m38 0h0m-256 1h0m165 0h0m48 0h0m49 0h0m-404 1h0m308 0h0m52 0h0m-340 1h0m367 1h0m29 0h0m27 0h0m-202 1h0m100 0h0m58 0h0m-35 1h0m76 0h0m1 0h0m-139 1h0m130 0h0m9 0h0m98 1h0m-568 1h0m57 0h0m365 0h0m35 0h0m-148 1h0m120 0h0m14 0h0m4 1h0m34 0h0m-586 1h0m527 0h0m12 0h0m5 0h0m1 0h0m-264 1h0m234 0h0m47 0h0m5 1h0m-79 1h0m17 1h0m17 1h0m10 0h0m-426 1h0m427 0h0m-94 1h0m2 0h0m47 0h0m46 0h0m20 0h0m-359 2h0m62 0h0m235 0h0m-427 1h0m208 0h0m197 0h0m61 1h0m14 0h0m21 0h0m-470 1h0m307 0h0m19 1h0m-304 1h0m368 0h0m82 0h0m25 2h0m-566 1h0m470 0h0m32 0h0m32 0h0m-222 1h0m82 0h0m85 0h0m1 0h0m-122 1h0m25 0h0m33 0h0m31 2h0m41 0h0m-194 1h0m35 0h0m68 0h0m152 0h0m-241 1h0m-2 1h0m99 0h0m112 0h0m18 1h0m-511 1h0m44 0h0m250 0h0m-203 1h0m-42 1h0m81 0h0m71 0h0m106 0h0m127 1h0m44 0h0m-125 2h0m9 0h0m12 0h0m205 0h0m-410 1h0m78 0h0m233 0h0m-289 1h0m224 0h0m12 0h0m-305 1h0m117 0h0m134 0h0m-42 1h0m-48 1h0m107 0h0m-504 1h0m573 0h0m28 0h0m-377 1h0m104 0h0m152 0h0m36 0h0m49 2h0m-434 1h0m259 0h0m-308 1h0m135 1h0m9 0h0m195 0h0m154 0h0m-180 1h0m-11 2h0m77 2h0m-101 1h0m-9 1h0m-342 1h0m558 0h0m-202 1h0m-78 1h0m101 0h0m-287 1h0m45 2h0m58 0h0m180 1h0m16 1h0m21 0h0m123 1h0m-507 1h0m325 0h0m62 0h0m16 1h0m34 1h0m-128 1h0m95 0h0m-98 2h0m114 0h0m-204 1h0m38 5h0m180 0h0m5 0h0m-40 2h0m2 0h0m2 0h0m-308 1h0m287 0h0m157 3h0m-190 2h0m152 1h0m-350 1h0m9 4h0m164 0h0m66 1h0m77 1h0m-108 1h0m14 1h0m-241 1h0m248 0h0m-279 3h0m203 0h0m227 3h0m-129 1h0m-13 11h0m-263 5h0m-172 2h0m503 5h0m-446 10h0" fill="none" stroke="#1f77b4" stroke-opacity="0.75" stroke-width="8.8" stroke-linecap="round"/>
<line x1="440.2" y1="295.2" x2="706.9" y2="28.1" stroke="#000" stroke-width="2.2" stroke-dasharray="8.2 3.6"/>
</g>
<rect x="440.2" y="28.1" width="266.7" height="267.1" fill="none" stroke="#000" stroke-width="1.9"/>
<rect x="447.5" y="35.8" width="113.1" height="50" rx="3" fill="#fff" fill-opacity="0.8" stroke="#d0d0d0" stroke-width="1.2"/>
<path d="M465 50.7H476.8M470.9 44.8V56.6" stroke="#1f77b4" stroke-opacity="0.55" stroke-width="1.9"/>
<line x1="454.5" y1="71.3" x2="486.4" y2="71.3" stroke="#000" stroke-width="2.2" stroke-dasharray="8.2 3.6"/>
<g font-family="'Liberation Sans', Arial, sans-serif" fill="#262626" font-size="16"><text x="501" y="54.8">R=0.90</text><text x="501" y="75.6">y=x</text></g>
<g font-family="'Liberation Sans', Arial, sans-serif" fill="#262626" font-size="16"><text x="440.2" y="318.9" text-anchor="middle">0.5</text><text x="493.54" y="318.9" text-anchor="middle">0.6</text><text x="546.88" y="318.9" text-anchor="middle">0.7</text><text x="600.22" y="318.9" text-anchor="middle">0.8</text><text x="653.56" y="318.9" text-anchor="middle">0.9</text><text x="706.9" y="318.9" text-anchor="middle">1.0</text><text x="427.2" y="301" text-anchor="end">0.5</text><text x="427.2" y="247.58" text-anchor="end">0.6</text><text x="427.2" y="194.16" text-anchor="end">0.7</text><text x="427.2" y="140.74" text-anchor="end">0.8</text><text x="427.2" y="87.32" text-anchor="end">0.9</text><text x="427.2" y="33.9" text-anchor="end">1.0</text></g>
<text x="573.55" y="338.5" text-anchor="middle" font-family="'Liberation Sans', Arial, sans-serif" fill="#262626" font-size="17.8">Teacher MI Accuracy</text>
<text x="452.9" y="409.8" letter-spacing="-0.24" font-family="'DejaVu Serif', serif" fill="#000" font-size="27">(b) WikiText103</text>
<clipPath id="clipc"><rect x="822.2" y="28.95" width="261.1" height="260.55"/></clipPath>
<g clip-path="url(#clipc)"><path d="M958.1 240.1L958.1 241.9L963.9 242.9L963.9 241.1L962.1 241.1L961.9 240.1ZM954.1 238.1L953.1 239.1L953.1 241.9L956.9 241.9L955.9 238.1ZM1000.1 219.9L1004.9 218.9L1004.9 217.1L1001.1 217.1ZM1017.1 212.1L1017.1 213.9L1020.9 214.9L1019.9 212.1ZM997.9 212.1L995.1 213.1L994.1 217.9L992.1 218.1L992.1 222.9L993.9 222.9L993.9 218.1L997.9 216.9ZM1017.9 208.1L1015.1 208.1L1014.1 209.1L1014.1 210.9L1013.1 211.1L1013.1 214.9L1014.9 214.9L1014.9 211.1L1016.9 210.9ZM1031.9 199.1L1025.1 198.1L1025.1 199.9L1022.9 202.1L1021.9 201.1L1019.1 202.1L1019.1 204.9L1020.1 205.9L1022.9 205.9L1023.1 204.9L1025.9 205.9L1026.9 203.1L1028.9 202.9L1029.1 200.9L1031.9 200.9ZM1034.1 197.1L1034.1 199.9L1036.9 199.9L1036.9 198.1ZM1022.9 196.1L1021.1 196.1L1020.9 198.1L1018.1 198.1L1017.1 200.9L1021.9 199.9L1022.9 198.9ZM1057.9 189.1L1054.1 190.1L1054.1 192.9L1056.9 192.9ZM948.1 188.1L948.1 190.9L949.9 190.9L950.9 188.1ZM960.1 178.1L960.1 179.9L961.9 179.9L963.1 181.9L964.9 181.9L963.9 179.1ZM966.9 172.1L963.1 173.1L963.1 174.9L966.9 173.9ZM972.1 165.1L973.1 168.9L974.9 168.9L973.9 165.1ZM1002.1 148.1L1002.1 152.9L1001.1 153.1L1001.1 154.9L1002.9 154.9L1005.1 152.9L1008.9 153.9L1008.9 151.1L1005.1 151.1L1003.9 149.9L1003.9 148.1ZM1020.1 138.1L1020.1 140.9L1018.1 141.1L1018.1 142.9L1021.9 143.9L1023.9 141.9L1023.9 139.1L1022.9 138.1ZM1027.9 130.1L1024.1 130.1L1023.9 132.1L1019.1 131.1L1019.1 132.9L1017.9 134.1L1014.1 134.1L1014.1 135.9L1015.1 136.1L1014.1 140.9L1015.9 140.9L1015.9 138.1L1017.9 137.9L1018.1 135.9L1020.9 136.9L1020.1 132.9L1021.9 132.9L1022.1 133.9L1023.9 133.9L1024.1 131.9L1027.9 132.9ZM1052.9 94.1L1050.1 95.1L1049.1 98.9L1051.9 97.9ZM1085.9 54.1L1080.1 54.1L1079.9 55.1L1078.1 55.1L1077.9 54.1L1075.9 53.9L1075.9 52.1L1073.1 52.1L1073.1 53.9L1074.1 54.1L1073.1 56.9L1076.9 55.9L1078.1 57.1L1078.1 58.9L1077.1 59.1L1076.9 62.1L1075.1 62.1L1074.9 60.1L1068.1 60.1L1068.1 62.9L1066.1 63.1L1066.1 64.9L1068.1 65.1L1067.1 69.9L1068.9 69.9L1068.9 68.1L1069.9 67.9L1070.1 69.9L1071.1 70.1L1071.1 71.9L1069.1 72.1L1070.1 74.9L1068.1 75.1L1067.9 73.1L1064.1 73.1L1063.9 74.1L1062.9 73.1L1060.1 73.1L1060.1 76.9L1062.9 76.9L1064.9 74.9L1066.1 77.9L1061.1 79.1L1061.1 80.9L1063.1 81.1L1063.1 84.9L1060.1 84.1L1060.1 85.9L1062.1 87.1L1062.1 88.9L1060.1 89.1L1059.9 87.1L1057.1 87.1L1057.1 89.9L1056.1 90.1L1056.1 92.9L1060.1 93.1L1059.1 94.1L1059.1 96.9L1056.1 97.1L1054.1 99.1L1054.1 103.9L1055.1 104.9L1058.1 105.1L1057.1 106.1L1057.1 110.9L1055.9 110.9L1055.9 107.1L1049.9 106.9L1050.1 105.9L1051.9 105.9L1051.9 104.1L1047.1 104.1L1048.1 107.9L1052.1 109.1L1052.1 110.9L1050.1 111.1L1049.9 112.1L1048.9 111.9L1048.9 110.1L1046.1 111.1L1045.9 108.1L1043.9 106.1L1042.1 106.1L1042.1 110.9L1045.1 111.1L1045.1 113.9L1043.9 115.1L1042.1 115.1L1042.1 117.9L1044.9 117.9L1045.1 118.9L1043.1 119.1L1042.9 121.1L1038.1 122.1L1037.9 120.1L1036.9 119.9L1037.9 115.1L1036.1 115.1L1035.1 116.1L1035.1 120.9L1034.1 121.1L1034.1 122.9L1035.9 122.9L1038.1 124.9L1039.9 124.9L1039.9 123.1L1041.9 122.9L1043.1 128.9L1042.1 129.1L1039.9 126.1L1038.1 126.1L1037.1 127.1L1038.1 129.9L1036.1 130.1L1034.9 128.9L1034.9 127.1L1032.1 127.1L1032.1 129.9L1030.1 131.1L1030.1 132.9L1031.9 132.9L1032.1 134.9L1033.9 134.9L1035.1 136.1L1034.9 137.1L1031.1 136.1L1030.9 137.1L1028.1 137.1L1027.9 139.1L1025.1 138.1L1025.1 140.9L1026.9 140.9L1027.1 142.9L1024.9 145.1L1021.1 145.1L1018.9 147.1L1017.1 147.1L1016.9 145.1L1015.1 145.1L1014.9 148.1L1013.9 147.9L1013.9 145.1L1011.1 146.1L1011.1 150.9L1012.1 151.9L1011.1 152.1L1011.1 155.9L1009.1 156.1L1009.1 159.9L1011.1 161.1L1011.1 162.9L1012.1 163.1L1011.9 165.1L1010.9 164.1L1008.1 164.1L1007.9 162.1L1005.9 161.9L1005.9 159.1L1002.9 156.1L1001.1 156.1L1000.1 159.9L998.1 160.1L998.9 163.1L993.9 163.9L993.9 162.1L995.1 160.9L996.9 160.9L996.9 159.1L993.1 160.1L992.9 162.1L990.1 161.1L990.1 164.9L991.1 165.1L991.1 166.9L995.1 167.1L994.1 168.1L994.1 170.9L995.9 170.9L995.9 168.1L996.9 167.9L997.1 165.9L999.1 167.1L998.1 168.1L997.9 172.1L993.1 172.1L992.9 177.1L990.9 176.9L990.9 173.1L988.9 172.9L988.9 166.1L984.1 166.1L984.1 168.9L986.9 168.9L987.1 169.9L983.1 171.1L982.1 172.1L981.9 175.1L979.1 174.1L978.9 173.1L977.1 173.1L977.1 175.9L975.1 176.1L975.1 177.9L977.1 178.1L976.9 180.1L972.1 180.1L971.9 182.1L970.9 181.1L968.1 181.1L967.9 182.1L965.1 183.1L965.1 184.9L963.9 186.1L962.9 185.1L960.1 185.1L959.9 183.1L958.1 183.1L959.1 187.9L957.1 188.1L956.9 187.1L955.1 187.1L956.1 190.9L954.1 191.1L953.9 193.1L948.1 193.1L947.9 194.1L945.1 193.1L944.9 194.1L943.1 194.1L943.1 197.9L945.1 198.1L944.1 200.9L946.1 202.1L944.9 204.1L943.1 204.1L942.9 202.1L940.9 201.9L941.9 197.1L939.1 196.1L939.1 197.9L935.1 200.1L935.1 203.9L933.1 204.1L933.1 205.9L931.9 207.1L930.1 207.1L929.9 206.1L926.1 206.1L926.1 208.9L927.9 208.9L928.1 210.9L930.1 211.1L929.9 213.1L928.1 213.1L926.9 211.1L925.1 211.1L925.1 214.9L924.1 215.1L923.9 212.1L921.1 212.1L919.9 210.9L920.1 209.9L921.9 209.9L921.9 208.1L920.1 208.1L920.1 209.9L918.1 210.1L918.1 211.9L916.9 213.1L913.1 213.1L913.1 215.9L915.9 215.9L916.1 214.9L920.9 214.9L921.1 215.9L919.1 216.1L917.9 218.1L915.1 217.1L914.9 219.1L913.9 218.1L911.1 218.1L909.9 222.1L908.9 221.9L908.9 220.1L904.1 221.1L903.1 222.1L903.1 224.9L904.9 224.9L905.1 225.9L903.9 227.1L900.1 227.1L900.9 224.1L898.1 224.1L898.1 226.9L895.1 227.1L894.9 232.1L890.1 231.1L889.9 228.1L888.1 228.1L887.9 235.1L885.1 235.1L883.9 238.1L880.1 238.1L879.1 239.1L878.9 242.1L875.1 242.1L873.9 244.1L870.1 243.1L868.1 245.1L867.9 247.1L865.1 247.1L863.1 249.1L863.1 252.9L864.1 253.9L862.1 254.1L861.9 252.1L860.1 252.1L860.1 253.9L858.9 255.1L857.1 255.1L857.1 256.9L855.1 257.1L855.1 258.9L853.9 260.1L852.1 260.1L852.1 261.9L850.1 262.1L844.1 268.1L843.9 270.1L842.1 270.1L838.9 274.1L837.1 274.1L837.1 275.9L835.1 276.1L835.1 277.9L829.9 283.1L828.1 283.1L826.1 285.1L826.1 286.9L822.9 290.1L821.1 290.1L821.1 292.9L829.9 292.9L830.1 291.9L831.9 291.9L832.1 292.9L840.9 292.9L841.1 291.9L842.1 292.9L845.9 292.9L847.1 289.9L849.1 291.9L850.9 291.9L851.1 290.9L854.9 290.9L854.9 289.1L856.1 287.9L857.9 287.9L857.1 282.9L858.1 283.9L861.1 284.1L861.1 287.9L863.9 287.9L863.9 285.1L862.9 284.9L863.9 282.1L865.1 280.9L866.9 280.9L867.1 279.9L868.9 279.9L869.1 277.9L871.9 278.9L872.9 277.9L871.9 275.1L874.9 274.9L875.1 273.9L876.1 274.1L876.1 275.9L879.9 276.9L879.9 272.1L883.9 272.9L883.9 271.1L882.1 271.1L881.9 269.1L883.9 268.9L884.1 266.9L885.1 267.1L885.1 268.9L886.9 268.9L886.9 267.1L888.9 266.9L889.1 265.9L896.9 267.9L896.9 265.1L893.1 265.1L892.9 263.1L896.9 262.9L897.1 259.9L898.9 259.9L899.1 260.9L903.9 260.9L903.9 259.1L905.9 258.9L906.1 256.9L907.1 257.9L909.9 257.9L911.1 255.9L913.1 257.9L915.9 257.9L915.9 256.1L914.1 256.1L913.9 255.1L919.9 254.9L920.1 248.9L921.1 249.1L922.1 253.9L925.9 253.9L926.1 254.9L930.9 253.9L931.9 251.1L928.1 251.1L927.9 247.1L926.1 247.1L926.1 245.9L927.9 245.9L928.1 244.9L932.9 245.9L932.9 248.1L930.1 247.1L931.1 249.9L934.9 249.9L935.1 248.9L936.9 248.9L936.9 246.1L938.9 245.9L940.1 243.9L941.1 244.1L941.1 245.9L942.9 245.9L942.9 243.1L941.1 243.1L939.9 241.9L940.1 240.9L943.9 240.9L944.1 242.9L946.9 242.9L948.1 239.9L950.9 239.9L950.9 238.1L952.9 237.9L953.1 233.9L955.9 234.9L956.1 230.9L958.1 231.1L958.1 233.9L960.9 233.9L960.9 231.1L958.9 230.9L959.1 229.9L960.9 229.9L960.9 228.1L958.9 227.9L960.1 225.9L962.1 226.1L962.1 233.9L965.9 232.9L965.9 231.1L963.9 230.9L963.9 226.1L961.9 225.9L962.1 223.9L965.1 225.1L966.1 228.9L967.9 228.9L968.1 230.9L970.1 231.1L970.1 233.9L972.9 233.9L972.9 231.1L974.9 230.9L976.1 227.9L978.9 228.9L979.1 225.9L981.9 226.9L981.9 225.1L980.9 224.9L981.1 222.9L984.9 222.9L985.1 224.9L988.9 225.9L989.9 224.9L989.9 217.1L991.9 216.9L991.9 215.1L990.9 214.1L987.9 213.9L987.9 209.1L985.9 208.9L985.9 207.1L987.1 205.9L990.1 208.1L989.1 212.9L990.9 212.9L991.1 210.9L993.9 211.9L994.1 208.9L995.1 209.1L995.1 210.9L997.9 210.9L997.9 209.1L995.1 209.1L994.9 208.1L996.1 206.9L997.9 206.9L998.1 207.9L1000.9 206.9L1001.1 207.9L1003.1 208.1L1003.1 212.9L1001.1 213.1L1001.1 214.9L1005.9 214.9L1005.9 213.1L1007.1 211.9L1008.9 211.9L1008.9 210.1L1007.1 210.1L1003.9 206.1L1005.1 204.9L1010.9 204.9L1010.9 203.1L1007.1 203.1L1005.9 201.9L1006.9 200.9L1006.9 198.1L1008.1 198.1L1008.1 199.9L1010.9 199.9L1011.1 200.9L1014.1 200.1L1014.1 204.9L1012.1 205.1L1012.1 206.9L1016.9 205.9L1017.9 202.1L1016.1 202.1L1015.9 199.1L1014.1 199.1L1013.9 198.1L1015.9 197.9L1016.1 196.9L1018.9 196.9L1017.9 192.1L1018.9 191.9L1019.1 189.9L1021.1 190.1L1020.1 191.1L1020.1 194.9L1023.9 194.9L1024.1 196.9L1025.9 196.9L1026.1 194.9L1027.9 194.9L1028.1 196.9L1030.9 196.9L1031.1 193.9L1034.9 193.9L1035.1 195.9L1036.9 195.9L1036.9 193.1L1035.1 193.1L1034.9 191.1L1030.9 191.9L1030.9 188.1L1025.9 188.9L1027.1 183.9L1028.9 183.9L1030.1 186.9L1032.9 186.9L1031.9 182.1L1030.9 181.9L1031.9 180.9L1032.1 177.9L1035.1 178.1L1035.1 179.9L1033.1 180.1L1033.1 181.9L1035.1 183.1L1034.1 184.1L1034.1 188.9L1037.9 188.9L1038.1 184.9L1042.1 185.1L1041.1 187.9L1039.1 188.1L1039.1 190.9L1040.1 191.1L1040.1 192.9L1039.1 193.1L1039.1 194.9L1040.1 195.1L1040.1 198.9L1041.9 198.9L1042.1 196.9L1045.9 196.9L1048.9 193.9L1049.1 190.9L1052.9 190.9L1052.9 188.1L1053.9 187.9L1053.9 186.1L1054.9 185.9L1056.1 181.9L1058.1 182.1L1057.1 183.1L1057.1 185.9L1058.1 186.9L1060.9 186.9L1061.1 185.9L1062.9 185.9L1061.9 181.1L1065.9 180.9L1065.9 178.1L1067.9 177.9L1068.1 181.9L1066.1 182.1L1066.1 183.9L1069.9 183.9L1069.9 180.1L1073.9 179.9L1075.1 173.9L1076.9 173.9L1077.1 175.9L1080.1 176.1L1079.9 177.1L1076.1 177.1L1076.1 179.9L1078.9 178.9L1079.1 181.9L1080.9 181.9L1081.1 179.9L1084.9 178.9L1084.9 175.1L1085.9 174.9L1085.9 173.1L1083.1 174.1L1082.9 172.1L1083.9 171.9L1083.9 169.1L1084.9 168.9L1084.9 164.1L1085.9 163.9L1085.9 147.1L1084.9 146.9L1085.9 145.9L1085.9 139.1L1084.9 138.9L1085.9 137.9L1085.9 123.1L1084.9 122.9L1084.9 121.1L1085.9 120.9L1085.9 83.1L1084.9 82.9L1084.9 81.1L1085.9 80.9L1085.9 78.1L1084.9 77.9L1085.9 76.9L1085.9 67.1L1084.9 66.9L1085.9 65.9L1085.9 64.1L1084.9 63.9L1084.9 62.1L1085.9 61.9L1085.9 58.1L1083.9 57.9L1085.9 55.9ZM862.9 278.9L862.9 281.1L860.1 282.1L858.9 280.9L859.1 279.9L861.9 279.9ZM866.1 276.9L867.1 277.1L866.9 279.1L865.9 278.9ZM876.9 273.1L877.9 272.9L878.1 273.9L877.1 274.1ZM876.9 270.1L877.9 269.9L878.1 270.9L877.1 271.1ZM876.9 266.1L878.9 265.9L879.1 266.9L877.1 267.1ZM889.9 261.1L890.9 260.9L891.1 261.9L890.1 262.1ZM900.9 253.1L902.9 252.9L903.1 254.9L902.1 255.1ZM925.9 251.1L926.9 250.9L927.1 251.9L926.1 252.1ZM915.9 251.1L917.9 250.9L918.1 251.9L916.1 252.1ZM910.1 249.9L912.1 250.1L911.9 253.1L910.9 252.9ZM918.9 248.1L919.9 247.9L920.1 248.9L919.1 249.1ZM923.9 247.1L924.9 246.9L925.1 247.9L924.1 248.1ZM920.9 244.1L922.9 243.9L923.1 245.9L921.1 246.1ZM896.9 243.1L897.9 242.9L898.1 243.9L897.1 244.1ZM925.9 242.1L926.9 241.9L927.1 242.9L926.1 243.1ZM936.9 241.1L937.9 240.9L938.1 241.9L937.1 242.1ZM948.9 237.1L950.9 236.9L951.1 237.9L949.1 238.1ZM885.9 237.1L887.9 236.9L888.1 237.9L886.1 238.1ZM936.1 234.9L938.1 236.9L936.9 238.1L935.1 238.1L934.9 236.1ZM970.9 230.1L972.9 229.9L973.1 230.9L971.1 231.1ZM952.1 228.9L954.1 229.1L953.9 232.1L952.9 231.9ZM909.9 229.1L910.9 228.9L911.1 229.9L910.1 230.1ZM954.9 228.1L955.9 227.9L956.1 228.9L955.1 229.1ZM973.1 226.9L974.1 227.1L973.9 229.1L972.9 228.9ZM943.1 226.9L944.1 227.1L943.9 229.1L942.9 228.9ZM921.9 225.1L922.9 224.9L923.1 225.9L922.1 226.1ZM915.9 224.1L916.9 223.9L917.1 224.9L916.1 225.1ZM975.9 223.1L977.9 222.9L978.1 224.9L976.1 225.1ZM954.9 223.1L955.9 222.9L956.1 223.9L955.1 224.1ZM985.9 222.9L986.1 220.9L988.1 221.1L986.9 223.1ZM964.9 221.1L966.1 221.1L966.1 222.9L969.9 223.9L971.1 226.9L967.1 227.1L966.9 225.1L964.9 224.9ZM978.1 219.9L979.1 220.1L978.9 222.1L977.9 221.9ZM961.9 219.9L962.1 221.9L959.1 224.1L958.9 222.1ZM984.1 218.9L985.1 219.1L985.1 220.9L983.1 221.1L982.9 220.1ZM974.9 218.9L976.1 220.1L976.1 222.9L971.1 224.1L972.9 219.1ZM964.9 218.1L965.9 217.9L966.1 218.9L965.1 219.1ZM920.9 218.1L921.9 217.9L922.1 218.9L921.1 219.1ZM957.9 216.1L958.9 215.9L959.1 216.9L958.1 217.1ZM987.9 213.9L988.1 215.9L986.1 216.1L986.1 217.9L985.1 218.1L983.9 216.1L986.1 213.9ZM980.9 215.9L981.1 213.9L983.1 214.1L981.9 216.1ZM969.9 214.1L970.9 213.9L971.1 214.9L970.1 215.1ZM963.9 214.1L965.9 213.9L966.1 214.9L964.1 215.1ZM920.9 214.1L921.9 213.9L922.1 214.9L921.1 215.1ZM950.9 212.9L951.1 214.9L948.1 217.1L947.9 215.1L948.9 214.9L948.9 213.1ZM933.9 213.1L934.9 212.9L935.1 213.9L934.1 214.1ZM970.9 211.1L971.9 210.9L972.1 211.9L971.1 212.1ZM982.9 210.1L984.1 208.9L986.1 209.1L985.9 211.1L983.1 211.1ZM950.1 208.9L951.1 209.1L950.9 211.1L949.9 210.9ZM964.9 208.1L966.9 207.9L967.1 208.9L965.1 209.1ZM961.9 208.1L962.9 207.9L963.1 208.9L962.1 209.1ZM928.9 208.1L929.9 207.9L930.1 208.9L929.1 209.1ZM997.9 205.1L998.9 204.9L999.1 205.9L998.1 206.1ZM934.9 205.1L936.9 204.9L937.1 206.9L935.1 207.1ZM1000.9 203.1L1001.9 202.9L1003.1 204.9L1001.1 205.1ZM992.9 203.1L993.9 202.9L994.1 203.9L993.1 204.1ZM974.9 202.1L975.9 201.9L976.1 202.9L975.1 203.1ZM940.1 201.9L941.1 202.1L940.9 207.1L939.9 206.9L939.9 205.1L937.9 204.9L938.1 203.9L939.9 203.9ZM987.9 201.1L989.9 200.9L990.1 201.9L992.9 201.9L993.1 202.9L991.1 203.1L991.1 204.9L990.1 205.1L989.9 203.1L987.9 202.9ZM981.1 200.9L982.1 201.1L982.1 202.9L980.1 203.1L979.9 202.1ZM937.9 200.1L938.9 199.9L939.1 200.9L938.1 201.1ZM993.9 197.1L994.9 196.9L995.1 197.9L994.1 198.1ZM999.9 196.1L1001.9 195.9L1002.1 196.9L1000.1 197.1ZM952.9 196.1L954.9 195.9L955.1 196.9L953.1 197.1ZM947.9 196.1L949.9 195.9L950.1 197.9L949.1 198.1ZM1013.1 194.9L1014.1 195.1L1013.9 197.1L1012.9 196.9ZM984.9 195.1L985.9 194.9L986.1 195.9L985.1 196.1ZM944.9 195.1L945.9 194.9L946.1 195.9L945.1 196.1ZM1023.9 194.1L1025.9 193.9L1026.1 194.9L1024.1 195.1ZM988.9 194.1L989.9 193.9L990.1 194.9L989.1 195.1ZM962.9 194.1L964.9 193.9L965.1 194.9L963.1 195.1ZM954.9 194.1L956.9 193.9L957.1 195.9L955.1 196.1ZM1005.9 193.1L1006.9 192.9L1007.1 193.9L1006.1 194.1ZM975.9 193.1L976.9 192.9L977.1 193.9L976.1 194.1ZM1028.9 192.1L1030.9 191.9L1031.1 193.9L1029.1 194.1ZM992.9 194.1L994.1 192.9L995.9 192.9L996.1 191.9L997.9 191.9L999.1 193.1L999.1 195.9L993.1 195.1ZM979.9 191.1L980.9 190.9L981.1 191.9L980.1 192.1ZM970.9 191.1L971.9 190.9L972.1 191.9L971.1 192.1ZM959.9 193.9L960.1 190.9L965.1 191.1L964.9 192.1L961.1 192.1L961.1 193.9ZM955.9 191.1L957.9 190.9L958.1 191.9L956.1 192.1ZM965.9 190.1L966.9 189.9L967.1 190.9L966.1 191.1ZM1023.1 188.9L1024.1 189.1L1023.9 192.1L1022.9 191.9ZM1000.9 190.1L1002.1 188.9L1004.1 189.1L1003.9 191.1L1001.1 191.1ZM982.9 188.1L983.9 187.9L984.1 188.9L983.1 189.1ZM1043.1 186.9L1044.9 186.9L1045.1 188.9L1047.1 189.1L1046.9 191.1L1044.1 191.1L1044.1 192.9L1046.1 193.1L1044.9 195.1L1043.1 195.1L1041.9 193.9L1042.9 191.1L1040.9 190.9L1040.9 188.1L1042.9 187.9ZM1006.9 188.1L1008.1 186.9L1009.1 187.9L1012.9 187.9L1013.1 189.9L1014.1 190.1L1014.1 192.9L1012.1 193.1L1011.9 194.1L1009.1 194.1L1009.1 192.9L1011.9 191.9L1011.9 190.1L1007.1 189.1ZM988.9 186.1L990.9 185.9L991.1 186.9L989.1 187.1ZM970.9 186.1L971.9 185.9L972.1 186.9L971.1 187.1ZM1046.9 185.1L1047.9 184.9L1048.1 185.9L1047.1 186.1ZM1016.1 184.9L1018.1 186.1L1017.9 188.1L1015.9 186.9ZM974.1 184.9L977.1 185.1L977.1 186.9L978.1 187.1L977.9 190.1L975.9 189.9L975.9 187.1L973.9 186.9ZM1035.9 184.1L1037.9 183.9L1038.1 184.9L1036.1 185.1ZM967.1 183.9L968.1 184.1L967.9 186.1L966.9 185.9ZM1060.1 182.9L1061.1 183.1L1061.1 184.9L1059.1 185.1L1058.9 184.1ZM1043.9 183.1L1045.9 182.9L1046.1 183.9L1044.1 184.1ZM1024.9 183.1L1025.9 182.9L1026.1 183.9L1025.1 184.1ZM984.9 184.9L985.1 182.9L987.1 183.1L985.9 185.1ZM1052.9 181.9L1053.1 185.9L1051.1 187.1L1050.9 189.1L1049.1 189.1L1048.9 186.1L1050.9 185.9L1050.9 183.1ZM1045.9 182.1L1047.9 181.9L1048.1 182.9L1046.1 183.1ZM1038.9 181.1L1039.9 180.9L1040.1 181.9L1039.1 182.1ZM1035.9 181.1L1036.9 180.9L1037.1 181.9L1036.1 182.1ZM1021.9 181.1L1022.9 180.9L1023.1 181.9L1022.1 182.1ZM999.9 181.1L1000.9 180.9L1001.1 181.9L1000.1 182.1ZM1052.9 179.1L1053.9 178.9L1054.1 179.9L1053.1 180.1ZM996.9 179.1L997.9 178.9L998.1 179.9L997.1 180.1ZM990.9 179.1L991.9 178.9L992.1 179.9L991.1 180.1ZM1047.9 178.1L1049.9 177.9L1050.1 179.9L1049.1 180.1ZM1013.9 179.9L1014.1 177.9L1016.1 178.1L1014.9 180.1ZM1057.1 176.9L1058.1 177.1L1058.1 179.9L1056.1 180.1L1055.9 178.1ZM1051.9 176.1L1052.9 175.9L1053.1 176.9L1052.1 177.1ZM1025.9 176.1L1027.9 175.9L1028.1 177.9L1027.1 178.1ZM1006.9 176.1L1007.9 175.9L1008.1 176.9L1007.1 177.1ZM1054.9 175.1L1055.9 174.9L1056.1 175.9L1055.1 176.1ZM1047.1 174.9L1048.1 175.1L1048.1 176.9L1046.1 177.1L1045.9 176.1ZM1023.9 175.1L1025.9 174.9L1026.1 175.9L1024.1 176.1ZM1009.9 175.1L1010.9 174.9L1011.1 175.9L1010.1 176.1ZM981.9 175.1L983.9 174.9L984.1 175.9L982.1 176.1ZM1082.1 173.9L1083.1 174.1L1082.9 178.1L1081.9 177.9ZM1065.9 173.9L1066.1 176.9L1063.1 177.1L1062.9 176.1L1064.9 175.9L1064.9 174.1ZM999.1 173.9L1000.1 174.1L1000.1 175.9L998.1 176.1L997.9 175.1ZM1072.9 172.9L1073.1 176.9L1071.1 178.1L1070.9 173.1ZM1058.1 172.9L1060.1 173.1L1061.1 176.9L1063.1 177.1L1062.9 179.1L1061.1 179.1L1058.9 176.9L1058.9 175.1L1057.9 174.9ZM1019.9 173.1L1021.9 172.9L1022.1 174.9L1020.1 175.1ZM983.9 173.1L984.9 172.9L985.1 173.9L984.1 174.1ZM1052.9 172.1L1054.9 171.9L1055.1 172.9L1053.1 173.1ZM1014.9 172.1L1015.9 171.9L1016.1 172.9L1015.1 173.1ZM999.9 172.1L1000.9 171.9L1001.1 172.9L1000.1 173.1ZM1037.9 171.1L1043.9 171.9L1043.1 175.9L1041.9 175.9L1041.9 173.1L1038.1 173.1ZM1064.1 169.9L1065.1 170.1L1064.9 172.1L1063.9 171.9ZM1050.9 170.1L1052.9 169.9L1053.1 171.9L1051.1 172.1ZM1071.1 168.9L1072.1 169.1L1071.9 171.1L1070.9 170.9ZM1035.9 169.1L1036.9 168.9L1037.1 169.9L1036.1 170.1ZM1059.1 167.9L1060.1 168.1L1059.9 170.1L1058.9 169.9ZM1029.9 168.1L1031.9 167.9L1032.1 168.9L1030.1 169.1ZM1059.9 167.1L1060.9 166.9L1061.1 167.9L1060.1 168.1ZM1039.9 167.1L1040.9 166.9L1041.1 167.9L1040.1 168.1ZM1003.9 167.1L1005.9 166.9L1006.1 167.9L1004.1 168.1ZM1078.1 165.9L1080.1 167.9L1079.1 168.1L1078.9 170.1L1077.1 170.1ZM1042.9 166.1L1043.9 165.9L1044.1 166.9L1043.1 167.1ZM1001.9 164.1L1003.1 162.9L1006.1 163.1L1005.9 165.1L1002.1 165.1ZM1048.9 162.1L1051.9 161.9L1052.1 162.9L1049.1 163.1ZM1043.9 162.1L1044.9 161.9L1045.1 162.9L1044.1 163.1ZM1082.9 161.1L1083.9 160.9L1084.1 161.9L1083.1 162.1ZM1066.1 160.9L1067.1 161.1L1066.9 163.1L1065.9 162.9ZM1081.9 160.1L1082.9 159.9L1083.1 160.9L1082.1 161.1ZM1028.1 159.9L1029.1 160.1L1029.1 161.9L1027.1 162.1L1026.9 161.1ZM999.9 160.1L1002.9 159.9L1003.1 160.9L1001.1 162.1ZM1076.9 159.1L1077.9 158.9L1078.1 159.9L1077.1 160.1ZM1042.9 157.1L1043.9 156.9L1044.1 157.9L1043.1 158.1ZM1019.1 156.9L1020.1 157.1L1020.1 158.9L1018.1 159.1L1017.9 158.1ZM1041.9 156.1L1042.9 155.9L1043.1 156.9L1042.1 157.1ZM1017.1 156.1L1012.9 160.1L1010.9 158.9L1011.1 157.9L1012.9 157.9L1015.1 155.9ZM1026.9 151.1L1030.9 151.9L1031.1 153.9L1028.1 154.1L1026.9 152.9ZM1080.9 150.1L1081.9 149.9L1082.1 150.9L1081.1 151.1ZM1015.1 149.9L1016.1 150.1L1016.9 154.1L1013.9 153.9ZM1045.9 149.1L1046.9 148.9L1047.1 149.9L1046.1 150.1ZM1021.1 147.9L1022.1 148.1L1022.1 150.9L1023.1 151.9L1019.1 152.1L1018.9 150.1L1020.9 149.9ZM1013.1 147.9L1014.1 148.1L1013.9 150.1L1012.9 149.9ZM1032.9 147.1L1033.9 146.9L1034.1 147.9L1033.1 148.1ZM1043.9 145.1L1044.9 144.9L1045.1 145.9L1044.1 146.1ZM1035.9 139.9L1035.9 144.1L1032.1 144.1L1031.1 145.1L1029.9 143.9L1031.1 141.9L1034.9 141.9L1034.9 140.1ZM1038.1 138.9L1040.1 140.1L1038.9 145.1L1037.9 144.9ZM1048.9 138.1L1049.9 137.9L1050.1 138.9L1049.1 139.1ZM1041.9 135.1L1043.9 134.9L1044.1 135.9L1042.1 136.1ZM1038.1 133.9L1039.1 134.1L1039.1 135.9L1041.1 136.1L1040.9 138.1L1037.9 136.9ZM1032.9 132.9L1033.1 130.9L1035.1 131.1L1033.9 133.1ZM1037.9 130.1L1039.9 129.9L1040.1 130.9L1038.1 131.1ZM1051.9 129.1L1052.9 128.9L1053.1 129.9L1052.1 130.1ZM1045.9 121.1L1048.9 120.9L1049.1 122.9L1046.1 123.1ZM1043.1 120.9L1044.1 121.1L1043.9 123.1L1042.9 122.9ZM1052.9 121.9L1053.1 119.9L1055.1 120.1L1053.9 122.1ZM1055.9 119.1L1056.9 118.9L1057.1 119.9L1056.1 120.1ZM1047.1 114.9L1050.1 115.1L1049.1 116.1L1049.1 117.9L1050.1 118.1L1049.9 120.1L1046.9 118.9ZM1059.9 112.1L1061.9 111.9L1062.1 113.9L1060.1 114.1ZM1047.9 112.1L1048.9 111.9L1049.1 112.9L1048.1 113.1ZM1053.9 111.1L1054.9 110.9L1055.1 111.9L1054.1 112.1ZM1058.9 110.1L1059.9 109.9L1060.1 110.9L1059.1 111.1ZM1058.1 102.9L1059.1 103.1L1058.9 105.1L1057.9 104.9ZM1055.9 101.1L1057.9 100.9L1058.1 102.9L1056.1 103.1ZM1063.9 92.1L1064.9 91.9L1065.1 92.9L1064.1 93.1ZM1059.9 92.1L1060.9 91.9L1061.1 92.9L1060.1 93.1ZM1057.9 90.1L1058.9 89.9L1059.1 90.9L1058.1 91.1ZM1074.1 73.9L1075.1 74.1L1074.9 76.1L1073.9 75.9ZM1079.9 69.1L1080.9 68.9L1081.1 69.9L1080.1 70.1ZM1074.9 69.1L1075.9 68.9L1076.1 69.9L1075.1 70.1ZM1071.9 65.1L1073.9 64.9L1074.1 66.9L1072.1 67.1ZM1073.9 64.1L1076.9 63.9L1077.1 64.9L1074.1 65.1ZM1080.9 60.1L1082.9 59.9L1083.1 61.9L1082.1 62.1ZM1079.9 57.1L1080.9 56.9L1081.1 57.9L1080.1 58.1ZM1079.1 49.1L1079.1 50.9L1081.9 51.9L1082.1 52.9L1084.9 51.9L1083.9 47.1L1082.1 47.1L1080.9 49.1Z" fill="#1f77b4"/><path transform="scale(0.25)" d="M4325 128h0m-6 6h0m4 5h0m-4 2h0m3 0h0m-10 6h0m-10 4h0m7 3h0m0 2h0m-6 3h0m11 0h0m17 0h0m8 3h0m-23 5h0m-9 2h0m-4 5h0m16 2h0m-41 7h0m49 3h0m-4 2h0m-33 1h0m17 0h0m-38 1h0m18 2h0m42 0h0m-2 3h0m11 0h0m-36 4h0m4 0h0m27 1h0m-64 1h0m32 2h0m21 0h0m-15 1h0m-42 1h0m11 0h0m50 0h0m-35 2h0m26 1h0m-1 3h0m-14 3h0m-6 2h0m38 1h0m4 0h0m-44 2h0m22 0h0m8 0h0m-13 1h0m20 3h0m-55 1h0m49 1h0m-49 1h0m34 0h0m8 0h0m-35 1h0m43 0h0m-36 1h0m11 0h0m-6 1h0m22 1h0m9 1h0m2 0h0m7 0h0m-66 1h0m49 1h0m2 1h0m1 0h0m-64 1h0m47 0h0m4 0h0m-50 1h0m28 0h0m10 0h0m42 0h0m-66 1h0m6 0h0m53 0h0m-73 2h0m8 0h0m30 0h0m-43 1h0m38 0h0m21 0h0m-37 1h0m31 0h0m-63 1h0m94 0h0m-65 2h0m5 0h0m1 0h0m3 1h0m22 0h0m-15 1h0m6 0h0m10 0h0m-24 1h0m49 0h0m-3 1h0m-67 2h0m20 0h0m48 0h0m1 0h0m-67 2h0m64 0h0m7 0h0m-11 1h0m1 0h0m-61 1h0m4 0h0m0 0h0m9 0h0m17 0h0m22 0h0m22 1h0m-62 1h0m8 0h0m9 1h0m-51 1h0m29 0h0m11 0h0m3 0h0m-5 1h0m36 0h0m1 0h0m-7 1h0m-10 1h0m-13 1h0m8 0h0m-36 1h0m13 1h0m36 0h0m31 0h0m-38 1h0m16 0h0m-19 1h0m39 0h0m-33 1h0m10 0h0m-13 1h0m-10 1h0m20 0h0m23 0h0m-50 1h0m31 0h0m3 0h0m4 1h0m-49 1h0m36 0h0m-53 1h0m5 0h0m32 0h0m45 0h0m-83 1h0m16 0h0m0 0h0m3 0h0m21 0h0m-19 1h0m1 0h0m56 0h0m-50 1h0m13 0h0m17 0h0m14 0h0m2 0h0m-24 1h0m21 0h0m-41 1h0m26 0h0m-2 1h0m-52 1h0m41 0h0m30 0h0m-4 1h0m-36 1h0m22 0h0m20 1h0m-59 3h0m32 0h0m22 0h0m6 0h0m-67 1h0m56 0h0m21 0h0m-69 1h0m17 0h0m5 0h0m-28 1h0m17 0h0m16 0h0m0 1h0m42 0h0m-100 1h0m39 0h0m29 0h0m-53 1h0m28 0h0m11 0h0m-12 2h0m8 0h0m12 0h0m-49 1h0m-42 1h0m52 0h0m27 0h0m-2 2h0m15 1h0m-53 1h0m32 0h0m20 0h0m5 0h0m-4 1h0m37 0h0m0 0h0m-131 1h0m131 0h0m-102 1h0m42 0h0m9 0h0m15 0h0m30 0h0m-51 1h0m25 0h0m-106 1h0m40 0h0m31 2h0m15 0h0m47 0h0m-50 1h0m19 1h0m31 0h0m-61 1h0m64 0h0m-95 1h0m6 0h0m14 0h0m41 0h0m4 0h0m-53 1h0m12 0h0m-41 1h0m48 0h0m-94 2h0m56 0h0m27 0h0m4 0h0m73 0h0m-100 1h0m15 0h0m-8 2h0m2 0h0m-22 1h0m107 0h0m-105 1h0m-12 6h0m40 0h0m80 4h0m-88 1h0m2 0h0m86 0h0m-76 1h0m-20 1h0m95 0h0m0 1h0m-78 1h0m2 2h0m-2 1h0m81 0h0m-130 2h0m42 2h0m9 2h0m1 0h0m-11 1h0m1 0h0m7 0h0m-49 1h0m13 0h0m24 0h0m3 1h0m5 0h0m0 2h0m4 0h0m80 0h0m3 0h0m-92 2h0m-7 1h0m11 0h0m-1 1h0m5 0h0m-11 1h0m-12 1h0m106 0h0m-1 2h0m-138 1h0m40 1h0m98 0h0m-118 1h0m-17 1h0m38 0h0m17 0h0m-12 1h0m-75 1h0m27 0h0m15 0h0m10 0h0m10 0h0m30 0h0m75 0h0m-183 1h0m76 0h0m-4 1h0m25 0h0m86 0h0m-70 1h0m-61 1h0m131 0h0m-94 1h0m0 0h0m95 0h0m-130 2h0m54 1h0m75 0h0m-108 1h0m-8 1h0m45 1h0m-12 1h0m1 0h0m81 0h0m-89 1h0m16 1h0m-49 2h0m41 0h0m-72 1h0m70 0h0m8 0h0m77 0h0m-134 2h0m17 0h0m118 0h0m-105 1h0m103 0h0m-140 2h0m44 0h0m-17 2h0m20 0h0m-75 2h0m169 0h0m-119 1h0m19 0h0m2 0h0m-49 2h0m-5 1h0m38 0h0m-66 2h0m13 0h0m70 0h0m-14 1h0m4 0h0m3 1h0m-12 1h0m12 0h0m1 0h0m-48 1h0m150 0h0m-180 1h0m78 2h0m-40 1h0m43 0h0m3 2h0m-98 1h0m2 0h0m60 0h0m32 0h0m-47 2h0m148 1h0m-142 2h0m41 1h0m102 0h0m-136 1h0m18 0h0m19 0h0m-7 2h0m103 0h0m-116 2h0m11 0h0m6 0h0m99 0h0m-95 1h0m98 0h0m-170 2h0m63 2h0m3 1h0m103 0h0m-120 1h0m15 0h0m-60 2h0m30 0h0m-56 1h0m54 0h0m5 0h0m131 0h0m-138 1h0m-32 1h0m25 0h0m47 0h0m-2 1h0m-56 1h0m156 0h0m-195 1h0m48 0h0m47 0h0m1 0h0m7 1h0m-55 2h0m25 0h0m0 0h0m-110 1h0m123 0h0m-20 1h0m-47 1h0m9 0h0m6 0h0m2 0h0m32 0h0m21 2h0m4 1h0m14 0h0m89 0h0m-155 1h0m37 1h0m-117 2h0m93 0h0m12 0h0m20 0h0m19 0h0m92 0h0m-120 1h0m3 0h0m8 0h0m-111 1h0m43 0h0m41 0h0m10 0h0m9 0h0m2 0h0m25 0h0m2 0h0m-114 1h0m3 1h0m53 0h0m29 0h0m34 0h0m-165 1h0m118 0h0m-31 1h0m-120 1h0m128 0h0m8 0h0m-83 1h0m99 0h0m46 0h0m-48 1h0m12 0h0m27 1h0m-45 1h0m-55 1h0m52 0h0m40 0h0m5 0h0m10 0h0m-63 1h0m8 0h0m-55 2h0m102 0h0m1 0h0m3 0h0m88 0h0m-219 1h0m86 0h0m48 0h0m-75 1h0m18 0h0m39 0h0m-97 1h0m104 0h0m2 0h0m8 0h0m-108 1h0m22 0h0m10 0h0m27 0h0m-9 1h0m10 0h0m-62 1h0m39 0h0m-38 1h0m-65 1h0m56 0h0m27 0h0m2 0h0m44 0h0m9 0h0m1 0h0m-148 3h0m110 0h0m3 0h0m16 0h0m33 0h0m-142 1h0m38 1h0m86 0h0m-105 1h0m39 0h0m32 0h0m48 1h0m-143 1h0m57 0h0m37 0h0m8 0h0m21 0h0m-92 1h0m74 0h0m144 0h0m0 0h0m-257 1h0m75 0h0m66 0h0m-24 1h0m3 0h0m0 0h0m3 0h0m5 0h0m21 0h0m-31 1h0m-107 1h0m60 0h0m70 0h0m-74 1h0m61 0h0m17 0h0m-131 1h0m33 0h0m17 0h0m25 0h0m51 0h0m-118 1h0m46 0h0m1 0h0m69 0h0m-58 1h0m2 0h0m67 0h0m7 0h0m-109 1h0m10 0h0m75 0h0m125 0h0m-208 1h0m22 0h0m19 0h0m62 0h0m-76 1h0m22 0h0m37 0h0m123 0h0m3 0h0m-225 1h0m63 0h0m-82 1h0m98 0h0m144 0h0m0 0h0m-255 2h0m143 2h0m-98 1h0m59 0h0m5 0h0m27 0h0m7 0h0m111 0h0m-169 1h0m53 0h0m114 0h0m-215 1h0m12 0h0m-43 1h0m21 0h0m47 0h0m30 0h0m-72 1h0m223 0h0m1 0h0m2 0h0m-293 3h0m58 0h0m73 0h0m162 0h0m-191 1h0m25 0h0m-148 1h0m54 0h0m1 0h0m96 0h0m0 0h0m162 0h0m-254 1h0m8 0h0m-43 1h0m97 0h0m-36 1h0m19 0h0m7 0h0m-32 1h0m-43 1h0m72 0h0m47 0h0m23 0h0m12 0h0m4 0h0m-182 1h0m52 0h0m26 0h0m33 0h0m-87 1h0m88 0h0m64 0h0m-104 1h0m51 0h0m19 0h0m0 0h0m-141 1h0m135 0h0m-154 1h0m142 0h0m2 0h0m14 0h0m-141 2h0m109 0h0m17 0h0m-24 1h0m-106 1h0m8 0h0m24 0h0m37 0h0m65 0h0m51 0h0m3 0h0m-126 1h0m6 0h0m22 0h0m2 0h0m19 0h0m15 0h0m-82 1h0m29 0h0m22 0h0m79 0h0m3 0h0m-137 1h0m48 0h0m37 0h0m23 0h0m35 0h0m-69 1h0m61 0h0m132 0h0m-255 1h0m90 0h0m-57 1h0m23 0h0m26 0h0m5 0h0m-113 1h0m22 0h0m7 0h0m4 0h0m27 0h0m4 0h0m-4 1h0m33 0h0m4 0h0m-62 1h0m18 0h0m13 0h0m3 0h0m10 0h0m12 0h0m10 1h0m-127 1h0m122 0h0m-123 1h0m77 0h0m8 0h0m12 0h0m-73 1h0m14 0h0m68 0h0m-121 1h0m12 0h0m99 0h0m42 0h0m-57 1h0m-59 1h0m10 0h0m20 0h0m92 0h0m-142 1h0m148 0h0m-157 1h0m18 0h0m22 0h0m32 0h0m38 0h0m-91 1h0m30 0h0m266 0h0m-285 1h0m39 0h0m3 0h0m86 0h0m-120 1h0m12 0h0m5 1h0m69 0h0m-129 1h0m95 0h0m225 0h0m-220 1h0m49 0h0m-99 1h0m77 0h0m-39 1h0m35 1h0m29 0h0m-41 1h0m13 0h0m27 0h0m11 0h0m19 0h0m135 0h0m-369 1h0m147 0h0m23 0h0m19 0h0m51 0h0m-65 1h0m15 0h0m9 0h0m5 0h0m2 0h0m5 1h0m0 0h0m-94 1h0m57 0h0m13 0h0m25 0h0m27 0h0m-218 1h0m136 0h0m23 0h0m-106 1h0m128 0h0m0 0h0m11 0h0m26 0h0m135 0h0m-359 1h0m100 0h0m115 0h0m-168 1h0m67 0h0m28 0h0m36 0h0m3 0h0m-53 1h0m1 0h0m15 0h0m20 0h0m18 0h0m10 0h0m17 0h0m146 0h0m-365 1h0m109 0h0m46 0h0m4 0h0m14 0h0m24 0h0m27 0h0m6 0h0m2 0h0m132 0h0m5 0h0m-323 2h0m71 0h0m58 0h0m22 0h0m-67 1h0m7 0h0m88 0h0m143 0h0m-260 1h0m66 0h0m26 0h0m19 0h0m2 0h0m7 0h0m-151 1h0m41 0h0m24 0h0m85 0h0m136 0h0m-372 1h0m60 0h0m53 0h0m74 0h0m45 0h0m9 0h0m-82 1h0m47 0h0m40 0h0m-125 3h0m25 0h0m35 0h0m-32 1h0m229 0h0m-317 1h0m33 0h0m21 0h0m261 0h0m-174 1h0m-178 1h0m122 1h0m4 0h0m51 0h0m-132 1h0m113 0h0m18 0h0m-61 1h0m78 0h0m2 0h0m-194 1h0m63 0h0m58 0h0m60 0h0m-167 1h0m87 0h0m12 0h0m47 0h0m14 0h0m-136 1h0m18 0h0m15 0h0m31 0h0m40 0h0m43 0h0m-118 1h0m65 0h0m11 0h0m-56 1h0m13 0h0m9 0h0m1 0h0m61 0h0m178 0h0m1 0h0m-393 1h0m69 0h0m74 0h0m19 0h0m36 0h0m-116 1h0m57 0h0m10 0h0m19 0h0m10 0h0m-40 1h0m21 0h0m4 0h0m0 0h0m51 0h0m24 0h0m-76 1h0m36 0h0m-94 1h0m59 0h0m79 0h0m-199 1h0m149 0h0m28 0h0m19 0h0m-12 1h0m-154 1h0m57 0h0m17 0h0m26 0h0m39 0h0m-35 1h0m2 0h0m20 0h0m3 0h0m9 0h0m184 0h0m-196 1h0m-116 1h0m16 0h0m53 0h0m-86 1h0m14 0h0m118 0h0m40 0h0m7 0h0m-61 2h0m-128 1h0m187 0h0m8 0h0m128 0h0m-332 1h0m150 0h0m51 0h0m145 0h0m-348 1h0m64 0h0m42 0h0m49 0h0m187 0h0m-318 1h0m27 0h0m25 0h0m17 0h0m14 0h0m48 0h0m-133 1h0m52 0h0m46 0h0m4 0h0m204 0h0m-222 1h0m223 0h0m13 0h0m-351 1h0m151 0h0m57 0h0m-264 1h0m108 0h0m81 0h0m8 0h0m7 0h0m66 0h0m2 0h0m136 0h0m-352 1h0m32 0h0m17 0h0m1 0h0m102 0h0m-166 1h0m59 0h0m18 0h0m4 0h0m8 0h0m124 0h0m3 0h0m11 0h0m4 0h0m-178 1h0m77 0h0m33 0h0m192 0h0m11 0h0m-311 1h0m1 0h0m78 0h0m9 0h0m70 0h0m-203 1h0m31 0h0m7 0h0m63 0h0m20 0h0m82 0h0m5 0h0m12 0h0m125 0h0m-326 1h0m77 0h0m259 0h0m2 0h0m-325 1h0m8 0h0m42 0h0m67 0h0m6 0h0m-137 1h0m11 0h0m6 0h0m22 0h0m34 0h0m4 0h0m33 0h0m21 0h0m193 1h0m5 0h0m16 0h0m-380 1h0m74 0h0m17 0h0m275 0h0m-348 1h0m124 0h0m5 0h0m216 0h0m5 0h0m-287 1h0m40 0h0m-136 1h0m142 0h0m30 0h0m-71 1h0m27 0h0m3 0h0m2 0h0m36 0h0m5 0h0m-102 1h0m106 0h0m218 0h0m-241 1h0m7 0h0m16 0h0m215 0h0m-313 1h0m45 0h0m34 0h0m4 0h0m68 0h0m-264 1h0m22 0h0m47 0h0m56 0h0m36 0h0m38 0h0m-116 1h0m6 0h0m47 0h0m66 0h0m-209 1h0m91 0h0m56 0h0m-67 1h0m135 0h0m57 0h0m5 0h0m0 0h0m158 0h0m-379 1h0m6 0h0m164 0h0m-62 2h0m20 0h0m91 0h0m-180 1h0m48 0h0m129 0h0m0 0h0m-281 1h0m56 0h0m2 0h0m133 0h0m80 0h0m-97 1h0m13 1h0m0 0h0m5 1h0m228 0h0m-305 1h0m5 0h0m46 0h0m249 0h0m-297 1h0m166 0h0m137 0h0m21 0h0m1 0h0m-337 1h0m64 0h0m1 0h0m48 0h0m-181 1h0m123 0h0m67 0h0m190 0h0m19 0h0m6 0h0m-357 1h0m36 0h0m38 0h0m116 0h0m143 0h0m-393 1h0m88 0h0m116 0h0m-194 1h0m34 0h0m11 0h0m74 0h0m122 0h0m2 0h0m146 0h0m-345 1h0m74 0h0m22 0h0m3 0h0m3 0h0m25 0h0m22 0h0m60 0h0m76 0h0m63 0h0m-339 1h0m15 0h0m14 0h0m36 0h0m121 0h0m150 0h0m-306 1h0m50 0h0m206 0h0m45 0h0m22 0h0m-430 1h0m17 0h0m28 0h0m249 0h0m5 0h0m64 0h0m6 0h0m36 0h0m-366 1h0m77 0h0m88 0h0m12 0h0m189 0h0m4 0h0m9 0h0m-424 1h0m13 0h0m5 0h0m88 0h0m67 0h0m27 0h0m75 0h0m11 0h0m24 0h0m94 0h0m0 0h0m5 0h0m28 0h0m0 0h0m-402 1h0m128 0h0m10 0h0m135 0h0m108 0h0m20 0h0m-423 1h0m4 0h0m23 0h0m25 0h0m51 0h0m164 0h0m24 0h0m5 0h0m64 0h0m27 0h0m22 0h0m-351 1h0m68 0h0m67 0h0m8 0h0m1 0h0m72 0h0m84 0h0m4 0h0m30 0h0m7 0h0m22 0h0m-364 1h0m27 0h0m4 0h0m21 0h0m97 0h0m52 0h0m38 0h0m99 0h0m1 0h0m-391 1h0m95 0h0m15 0h0m-130 1h0m105 0h0m47 0h0m0 0h0m134 0h0m7 0h0m17 0h0m4 0h0m101 0h0m9 0h0m-356 1h0m2 0h0m14 0h0m15 0h0m3 0h0m192 0h0m-195 1h0m50 0h0m134 0h0m9 0h0m-204 1h0m50 0h0m163 0h0m12 0h0m114 0h0m4 0h0m9 0h0m-218 1h0m71 0h0m67 0h0m9 0h0m4 0h0m0 0h0m4 0h0m61 0h0m-302 1h0m76 0h0m1 0h0m8 0h0m79 0h0m-23 1h0m10 0h0m14 0h0m2 0h0m2 0h0m9 0h0m116 0h0m-363 1h0m148 0h0m100 0h0m-217 1h0m105 0h0m9 0h0m61 0h0m5 0h0m37 0h0m51 0h0m45 0h0m-426 1h0m87 0h0m16 0h0m37 0h0m5 0h0m10 0h0m11 0h0m4 0h0m143 0h0m4 0h0m74 0h0m-390 1h0m60 0h0m75 0h0m4 0h0m19 0h0m9 0h0m5 0h0m111 0h0m19 0h0m80 0h0m56 0h0m13 0h0m-328 1h0m191 0h0m65 0h0m-341 1h0m56 0h0m41 0h0m16 0h0m143 0h0m-287 1h0m27 0h0m52 0h0m32 0h0m17 0h0m4 0h0m8 0h0m146 0h0m-316 1h0m292 0h0m-145 1h0m14 0h0m15 0h0m129 0h0m74 0h0m7 0h0m0 0h0m59 0h0m-413 1h0m83 0h0m72 0h0m83 0h0m106 0h0m-403 1h0m126 0h0m35 0h0m-139 1h0m149 0h0m18 0h0m141 0h0m145 0h0m-368 1h0m105 0h0m5 0h0m88 1h0m5 0h0m2 0h0m8 0h0m2 0h0m7 0h0m89 0h0m-330 1h0m93 0h0m14 0h0m99 0h0m8 0h0m18 0h0m28 0h0m136 0h0m0 0h0m-417 1h0m122 0h0m103 0h0m120 0h0m6 0h0m31 0h0m44 0h0m-434 1h0m238 0h0m19 0h0m29 0h0m62 0h0m63 0h0m-436 1h0m81 0h0m21 0h0m188 0h0m45 0h0m81 0h0m11 0h0m12 0h0m15 0h0m2 0h0m4 0h0m-306 1h0m4 0h0m111 0h0m28 0h0m17 0h0m17 0h0m88 0h0m27 0h0m-466 1h0m12 0h0m60 0h0m28 0h0m27 0h0m22 0h0m124 0h0m2 0h0m3 0h0m4 0h0m25 0h0m134 0h0m7 0h0m-444 1h0m34 0h0m64 0h0m45 0h0m33 0h0m89 0h0m135 0h0m76 0h0m-463 1h0m64 0h0m80 0h0m3 0h0m15 0h0m91 0h0m6 0h0m13 0h0m32 0h0m-348 1h0m20 0h0m143 0h0m10 0h0m29 0h0m93 0h0m19 0h0m108 0h0m17 0h0m4 0h0m24 0h0m4 0h0m-472 1h0m172 0h0m150 0h0m20 0h0m9 0h0m116 0h0m16 0h0m-434 1h0m33 0h0m38 0h0m13 0h0m163 0h0m23 0h0m91 0h0m2 0h0m1 0h0m16 0h0m28 0h0m19 0h0m7 0h0m-311 1h0m1 0h0m60 0h0m76 0h0m12 0h0m35 0h0m109 0h0m24 0h0m1 0h0m7 0h0m-371 1h0m59 0h0m111 0h0m15 0h0m13 0h0m17 0h0m99 0h0m35 0h0m26 0h0m5 0h0m-385 1h0m53 0h0m139 0h0m26 0h0m78 0h0m74 0h0m16 0h0m-464 1h0m69 0h0m122 0h0m60 0h0m42 0h0m8 0h0m77 0h0m40 0h0m37 0h0m-423 1h0m11 0h0m34 0h0m40 0h0m111 0h0m128 0h0m43 0h0m42 0h0m-363 1h0m7 0h0m24 0h0m5 0h0m13 0h0m13 0h0m3 0h0m61 0h0m108 0h0m55 0h0m69 0h0m7 0h0m18 0h0m-234 1h0m137 0h0m24 0h0m7 0h0m9 0h0m66 0h0m-354 1h0m162 0h0m36 0h0m4 0h0m58 0h0m22 0h0m35 0h0m-440 1h0m95 0h0m357 0h0m10 0h0m2 0h0m19 0h0m-119 1h0m5 0h0m16 0h0m8 0h0m4 0h0m-263 1h0m94 0h0m90 0h0m54 0h0m25 0h0m7 0h0m7 0h0m56 0h0m14 0h0m2 0h0m-492 1h0m207 0h0m12 0h0m102 0h0m30 0h0m13 0h0m59 0h0m25 0h0m17 0h0m-427 1h0m21 0h0m52 0h0m14 0h0m12 0h0m27 0h0m42 0h0m20 0h0m17 0h0m69 0h0m23 0h0m127 0h0m-399 1h0m21 0h0m18 0h0m42 0h0m52 0h0m21 0h0m131 0h0m30 0h0m-276 1h0m118 0h0m9 0h0m126 0h0m62 0h0m16 0h0m22 0h0m-424 1h0m4 0h0m65 0h0m57 0h0m7 0h0m54 0h0m111 0h0m23 0h0m131 0h0m-456 1h0m5 0h0m178 0h0m31 0h0m100 0h0m55 0h0m27 0h0m19 0h0m30 0h0m-463 1h0m41 0h0m52 0h0m10 0h0m12 0h0m95 0h0m137 0h0m20 0h0m6 0h0m20 0h0m70 0h0m-437 1h0m40 0h0m19 0h0m16 0h0m50 0h0m5 0h0m62 0h0m9 0h0m68 0h0m120 0h0m43 0h0m-446 1h0m46 0h0m20 0h0m69 0h0m53 0h0m114 0h0m3 0h0m82 0h0m8 0h0m8 0h0m20 0h0m41 0h0m-428 1h0m136 0h0m21 0h0m109 0h0m7 0h0m155 0h0m-427 1h0m14 0h0m159 0h0m7 0h0m32 0h0m114 0h0m12 0h0m78 0h0m-487 1h0m37 0h0m25 0h0m27 0h0m51 0h0m52 0h0m93 0h0m41 0h0m2 0h0m82 0h0m54 0h0m-390 1h0m35 0h0m28 0h0m66 0h0m37 0h0m17 0h0m105 0h0m74 0h0m66 0h0m-476 1h0m1 0h0m85 0h0m39 0h0m36 0h0m14 0h0m43 0h0m6 0h0m108 0h0m27 0h0m59 0h0m-362 1h0m10 0h0m13 0h0m23 0h0m5 0h0m7 0h0m18 0h0m93 0h0m32 0h0m9 0h0m39 0h0m102 0h0m10 0h0m-464 1h0m51 0h0m4 0h0m16 0h0m22 0h0m58 0h0m16 0h0m61 0h0m22 0h0m22 0h0m55 0h0m35 0h0m42 0h0m16 0h0m30 0h0m32 0h0m25 0h0m-415 1h0m11 0h0m3 0h0m47 0h0m1 0h0m35 0h0m94 0h0m14 0h0m1 0h0m98 0h0m10 0h0m83 0h0m-343 1h0m17 0h0m86 0h0m14 0h0m57 0h0m30 0h0m22 0h0m27 0h0m4 0h0m88 0h0m23 0h0m-333 1h0m72 0h0m53 0h0m24 0h0m54 0h0m81 0h0m15 0h0m19 0h0m5 0h0m6 0h0m-364 1h0m10 0h0m14 0h0m45 0h0m5 0h0m68 0h0m136 0h0m49 0h0m35 0h0m14 0h0m-409 1h0m67 0h0m1 0h0m27 0h0m77 0h0m110 0h0m-285 1h0m46 0h0m137 0h0m4 0h0m5 0h0m136 0h0m27 0h0m-472 1h0m59 0h0m129 0h0m28 0h0m233 0h0m30 0h0m-371 1h0m228 0h0m56 0h0m34 0h0m44 0h0m-457 1h0m7 0h0m159 0h0m14 0h0m24 0h0m6 0h0m171 0h0m91 0h0m-447 1h0m6 0h0m62 0h0m2 0h0m50 0h0m16 0h0m108 0h0m50 0h0m7 0h0m-340 1h0m40 0h0m222 0h0m4 0h0m66 0h0m92 0h0m0 0h0m15 0h0m77 0h0m-445 1h0m115 0h0m63 0h0m94 0h0m1 0h0m88 0h0m7 0h0m5 0h0m27 0h0m22 0h0m-399 1h0m7 0h0m9 0h0m57 0h0m98 0h0m128 0h0m7 0h0m35 0h0m17 0h0m6 0h0m72 0h0m-465 1h0m15 0h0m103 0h0m81 0h0m23 0h0m68 0h0m29 0h0m16 0h0m3 0h0m15 0h0m90 0h0m21 0h0m-526 1h0m46 0h0m56 0h0m0 0h0m53 0h0m246 0h0m34 0h0m30 0h0m41 0h0m-418 1h0m65 0h0m171 0h0m3 0h0m25 0h0m71 0h0m83 0h0m15 0h0m-531 1h0m97 0h0m19 0h0m47 0h0m3 0h0m44 0h0m63 0h0m108 0h0m29 0h0m-320 1h0m69 0h0m109 0h0m15 0h0m125 0h0m10 0h0m91 0h0m-406 1h0m33 0h0m5 0h0m2 0h0m66 0h0m91 0h0m71 0h0m-332 1h0m24 0h0m5 0h0m90 0h0m39 0h0m62 0h0m28 0h0m117 0h0m-380 1h0m27 0h0m37 0h0m67 0h0m30 0h0m101 0h0m35 0h0m11 0h0m31 0h0m108 0h0m2 0h0m-392 1h0m80 0h0m43 0h0m81 0h0m83 0h0m75 0h0m22 0h0m38 0h0m-368 1h0m158 0h0m124 0h0m-382 1h0m163 0h0m7 0h0m78 0h0m78 0h0m5 0h0m2 0h0m173 0h0m-186 1h0m0 0h0m-268 1h0m284 0h0m12 0h0m4 0h0m73 0h0m-400 1h0m88 0h0m54 0h0m0 0h0m60 0h0m2 0h0m59 0h0m34 0h0m-292 1h0m15 0h0m78 0h0m106 0h0m143 0h0m10 0h0m36 0h0m18 0h0m-324 1h0m244 0h0m9 0h0m3 0h0m-249 1h0m4 0h0m46 0h0m54 0h0m18 0h0m3 0h0m61 0h0m41 0h0m36 0h0m26 0h0m52 0h0m-502 1h0m39 0h0m27 0h0m14 0h0m34 0h0m9 0h0m25 0h0m6 0h0m154 0h0m23 0h0m20 0h0m56 0h0m138 0h0m-523 1h0m6 0h0m57 0h0m62 0h0m0 0h0m25 0h0m0 0h0m3 0h0m126 0h0m26 0h0m63 0h0m32 0h0m36 0h0m16 0h0m-407 1h0m18 0h0m3 0h0m91 0h0m1 0h0m98 0h0m42 0h0m34 0h0m49 0h0m-392 1h0m84 0h0m27 0h0m189 0h0m10 0h0m22 0h0m99 0h0m45 0h0m-434 1h0m69 0h0m127 0h0m109 0h0m-339 1h0m29 0h0m49 0h0m20 0h0m116 0h0m14 0h0m2 0h0m142 0h0m58 0h0m-373 1h0m51 0h0m1 0h0m29 0h0m15 0h0m8 0h0m308 0h0m49 0h0m-486 1h0m55 0h0m-8 1h0m6 0h0m5 0h0m19 0h0m5 0h0m1 0h0m11 0h0m198 0h0m-322 1h0m8 0h0m44 0h0m19 0h0m11 0h0m68 0h0m115 0h0m19 0h0m67 0h0m-326 1h0m55 0h0m23 0h0m2 0h0m40 0h0m11 0h0m53 0h0m171 0h0m11 0h0m70 0h0m-471 1h0m17 0h0m64 0h0m4 0h0m26 0h0m17 0h0m121 0h0m22 0h0m0 0h0m55 0h0m9 0h0m32 0h0m46 0h0m79 0h0m9 0h0m-510 1h0m90 0h0m30 0h0m28 0h0m12 0h0m81 0h0m14 0h0m94 0h0m39 0h0m-383 1h0m152 0h0m17 0h0m62 0h0m43 0h0m46 0h0m18 0h0m5 0h0m47 0h0m2 0h0m16 0h0m-405 1h0m77 0h0m12 0h0m50 0h0m19 0h0m64 0h0m61 0h0m31 0h0m58 0h0m88 0h0m-420 1h0m13 0h0m7 0h0m51 0h0m94 0h0m152 0h0m135 0h0m-462 1h0m50 0h0m10 0h0m66 0h0m95 0h0m42 0h0m0 0h0m1 0h0m9 0h0m0 0h0m-294 1h0m33 0h0m120 0h0m163 0h0m29 0h0m-360 1h0m45 0h0m28 0h0m133 0h0m70 0h0m97 0h0m25 0h0m26 0h0m6 0h0m-448 1h0m61 0h0m216 0h0m98 0h0m26 0h0m28 0h0m-350 1h0m35 0h0m5 0h0m8 0h0m113 0h0m9 0h0m15 0h0m26 0h0m50 0h0m50 0h0m20 0h0m133 0h0m16 0h0m-544 1h0m49 0h0m31 0h0m7 0h0m30 0h0m13 0h0m6 0h0m70 0h0m37 0h0m6 0h0m44 0h0m22 0h0m151 0h0m-466 1h0m133 0h0m5 0h0m3 0h0m108 0h0m22 0h0m46 0h0m37 0h0m44 0h0m24 0h0m-318 1h0m27 0h0m104 0h0m27 0h0m40 0h0m9 0h0m88 0h0m104 0h0m-513 1h0m29 0h0m86 0h0m31 0h0m167 0h0m7 0h0m90 0h0m-380 1h0m53 0h0m42 0h0m32 0h0m5 0h0m53 0h0m16 0h0m7 0h0m2 0h0m7 0h0m66 0h0m21 0h0m162 0h0m-415 1h0m9 0h0m107 0h0m11 0h0m20 0h0m16 0h0m9 0h0m2 0h0m94 0h0m28 0h0m24 0h0m39 0h0m-323 1h0m2 0h0m1 0h0m1 0h0m2 0h0m28 0h0m0 0h0m70 0h0m5 0h0m1 0h0m4 0h0m39 0h0m167 0h0m-359 1h0m53 0h0m12 0h0m52 0h0m11 0h0m73 0h0m17 0h0m-256 1h0m7 0h0m208 0h0m92 0h0m200 0h0m-599 1h0m30 0h0m115 0h0m42 0h0m12 0h0m128 0h0m4 0h0m14 0h0m188 0h0m-410 1h0m4 0h0m13 0h0m5 0h0m75 0h0m115 0h0m15 0h0m29 0h0m18 0h0m32 0h0m30 0h0m43 0h0m-428 1h0m57 0h0m2 0h0m24 0h0m7 0h0m29 0h0m27 0h0m20 0h0m30 0h0m5 0h0m5 0h0m145 0h0m17 0h0m-377 1h0m1 0h0m1 0h0m20 0h0m140 0h0m145 0h0m11 0h0m29 0h0m19 0h0m-402 1h0m86 0h0m23 0h0m10 0h0m5 0h0m22 0h0m5 0h0m84 0h0m90 0h0m43 0h0m31 0h0m176 0h0m-541 1h0m38 0h0m48 0h0m29 0h0m7 0h0m35 0h0m114 0h0m38 0h0m113 0h0m-428 1h0m46 0h0m11 0h0m43 0h0m151 0h0m40 0h0m3 0h0m11 0h0m89 0h0m-377 1h0m11 0h0m20 0h0m29 0h0m26 0h0m8 0h0m61 0h0m44 0h0m16 0h0m10 0h0m1 0h0m23 0h0m88 0h0m42 0h0m-396 1h0m47 0h0m13 0h0m77 0h0m6 0h0m6 0h0m111 0h0m58 0h0m62 0h0m-388 1h0m51 0h0m12 0h0m54 0h0m9 0h0m43 0h0m16 0h0m15 0h0m53 0h0m10 0h0m120 0h0m-394 1h0m4 0h0m75 0h0m9 0h0m8 0h0m36 0h0m49 0h0m33 0h0m78 0h0m11 0h0m9 0h0m18 0h0m80 0h0m53 0h0m-387 1h0m4 0h0m14 0h0m39 0h0m381 0h0m-531 1h0m82 0h0m69 0h0m41 0h0m230 0h0m-386 1h0m14 0h0m5 0h0m12 0h0m9 0h0m78 0h0m65 0h0m13 0h0m11 0h0m13 0h0m137 0h0m3 0h0m-345 1h0m12 0h0m91 0h0m90 0h0m41 0h0m19 0h0m37 0h0m4 0h0m21 0h0m59 0h0m-403 1h0m2 0h0m67 0h0m8 0h0m85 0h0m1 0h0m72 0h0m22 0h0m148 0h0m152 0h0m-588 1h0m23 0h0m6 0h0m172 0h0m15 0h0m79 0h0m24 0h0m7 0h0m-355 1h0m69 0h0m165 0h0m15 0h0m5 0h0m26 0h0m90 0h0m89 0h0m-416 1h0m15 0h0m169 0h0m12 0h0m34 0h0m5 0h0m24 0h0m38 0h0m119 0h0m-457 1h0m85 0h0m33 0h0m21 0h0m89 0h0m4 0h0m31 0h0m108 0h0m1 0h0m20 0h0m26 0h0m-362 1h0m18 0h0m36 0h0m38 0h0m95 0h0m27 0h0m5 0h0m2 0h0m16 0h0m25 0h0m72 0h0m14 0h0m-341 1h0m205 0h0m11 0h0m-233 1h0m17 0h0m10 0h0m2 0h0m21 0h0m176 0h0m15 0h0m54 0h0m103 0h0m59 0h0m107 0h0m-529 1h0m31 0h0m0 0h0m122 0h0m38 0h0m87 0h0m27 0h0m-367 1h0m60 0h0m1 0h0m241 0h0m68 0h0m11 0h0m25 0h0m30 0h0m101 0h0m-561 1h0m42 0h0m58 0h0m20 0h0m152 0h0m20 0h0m2 0h0m42 0h0m1 0h0m1 0h0m-303 1h0m53 0h0m6 0h0m3 0h0m176 0h0m10 0h0m28 0h0m12 0h0m2 0h0m6 0h0m21 0h0m14 0h0m5 0h0m53 0h0m47 0h0m-122 1h0m-277 1h0m341 0h0m-323 1h0m118 0h0m189 0h0m99 0h0m2 0h0m-465 1h0m47 0h0m130 0h0m35 0h0m12 0h0m88 0h0m59 0h0m-337 1h0m143 0h0m6 0h0m24 0h0m5 0h0m-214 1h0m179 0h0m58 0h0m117 0h0m-353 1h0m10 0h0m7 0h0m33 0h0m111 0h0m3 0h0m-160 1h0m36 0h0m239 0h0m57 0h0m-318 1h0m206 0h0m8 0h0m180 0h0m73 0h0m-490 1h0m11 0h0m18 0h0m16 0h0m125 0h0m57 0h0m138 0h0m8 0h0m38 0h0m-178 1h0m2 0h0m44 0h0m73 0h0m9 0h0m54 0h0m-434 1h0m14 0h0m171 0h0m31 0h0m13 0h0m107 0h0m55 0h0m-199 1h0m19 0h0m49 0h0m167 0h0m-383 1h0m2 0h0m288 0h0m33 0h0m39 0h0m75 0h0m-269 1h0m86 0h0m30 0h0m60 0h0m46 0h0m67 0h0m-467 1h0m154 0h0m4 0h0m99 0h0m8 0h0m26 0h0m21 0h0m17 0h0m38 0h0m23 0h0m-442 1h0m79 0h0m6 0h0m108 0h0m22 0h0m38 0h0m103 0h0m26 0h0m-385 1h0m209 0h0m1 0h0m20 0h0m6 0h0m30 0h0m17 0h0m80 0h0m11 0h0m113 0h0m-491 1h0m11 0h0m25 0h0m16 0h0m149 0h0m52 0h0m4 0h0m15 0h0m91 0h0m28 0h0m14 0h0m60 0h0m-444 1h0m28 0h0m167 0h0m7 0h0m36 0h0m21 0h0m80 0h0m26 0h0m83 0h0m-459 1h0m53 0h0m5 0h0m20 0h0m170 0h0m37 0h0m14 0h0m74 0h0m19 0h0m98 0h0m-535 1h0m241 0h0m32 0h0m15 0h0m50 0h0m21 0h0m13 0h0m110 0h0m-133 1h0m38 0h0m-334 1h0m229 0h0m16 0h0m60 0h0m26 0h0m18 0h0m29 0h0m14 0h0m-355 1h0m7 0h0m8 0h0m19 0h0m142 0h0m6 0h0m33 0h0m120 0h0m-352 1h0m46 0h0m14 0h0m110 0h0m58 0h0m170 0h0m-400 1h0m15 0h0m2 0h0m205 0h0m43 0h0m-279 1h0m439 0h0m-218 1h0m3 0h0m17 0h0m6 0h0m38 0h0m12 0h0m31 0h0m80 0h0m-357 1h0m245 0h0m-50 1h0m30 0h0m2 0h0m10 0h0m33 0h0m86 0h0m12 0h0m-475 1h0m68 0h0m6 0h0m123 0h0m17 0h0m-193 1h0m25 0h0m4 0h0m55 0h0m89 0h0m123 0h0m163 0h0m-389 1h0m119 0h0m6 0h0m77 0h0m219 0h0m-514 1h0m33 0h0m2 0h0m111 0h0m165 0h0m6 0h0m110 0h0m76 0h0m-452 1h0m18 0h0m66 0h0m16 0h0m34 0h0m26 0h0m2 0h0m4 0h0m-216 1h0m147 0h0m127 0h0m82 0h0m51 0h0m-387 1h0m23 0h0m2 0h0m148 0h0m116 0h0m20 0h0m-313 1h0m92 0h0m27 0h0m10 0h0m4 0h0m128 0h0m132 0h0m-385 1h0m58 0h0m12 0h0m19 0h0m102 0h0m146 0h0m69 0h0m6 0h0m-367 1h0m28 0h0m93 0h0m80 0h0m54 0h0m56 0h0m45 0h0m153 0h0m-567 1h0m24 0h0m23 0h0m132 0h0m4 0h0m93 0h0m111 0h0m65 0h0m-319 1h0m52 0h0m15 0h0m111 0h0m41 0h0m0 0h0m-210 1h0m44 0h0m88 0h0m23 0h0m21 0h0m12 0h0m63 0h0m83 0h0m-472 1h0m45 0h0m156 0h0m11 0h0m44 0h0m18 0h0m26 0h0m112 0h0m36 0h0m-318 1h0m7 0h0m0 0h0m42 0h0m3 0h0m71 0h0m102 0h0m1 0h0m-339 1h0m13 0h0m144 0h0m162 0h0m5 0h0m77 0h0m-418 1h0m1 0h0m118 0h0m14 0h0m148 0h0m66 0h0m-382 1h0m64 0h0m150 0h0m96 0h0m9 0h0m97 0h0m68 0h0m-235 1h0m43 0h0m83 0h0m31 0h0m-384 1h0m68 0h0m71 0h0m42 0h0m28 0h0m18 0h0m47 0h0m2 0h0m33 0h0m180 0h0m-470 1h0m120 0h0m0 0h0m7 0h0m72 0h0m52 0h0m3 0h0m10 0h0m47 0h0m40 0h0m-383 1h0m49 0h0m35 0h0m17 0h0m143 0h0m45 0h0m5 0h0m15 0h0m-239 1h0m88 0h0m4 0h0m2 0h0m66 0h0m9 0h0m5 0h0m118 0h0m23 0h0m68 0h0m172 0h0m-480 1h0m9 0h0m10 0h0m68 0h0m39 0h0m211 0h0m-421 1h0m99 0h0m87 0h0m29 0h0m21 0h0m-282 1h0m9 0h0m56 0h0m131 0h0m34 0h0m35 0h0m73 0h0m30 0h0m43 0h0m-397 1h0m11 0h0m36 0h0m4 0h0m15 0h0m1 0h0m62 0h0m65 0h0m16 0h0m106 0h0m-322 1h0m2 0h0m220 0h0m40 0h0m143 0h0m-401 1h0m28 0h0m26 0h0m58 0h0m65 0h0m151 0h0m34 0h0m43 0h0m-352 1h0m5 0h0m138 0h0m24 0h0m84 0h0m-328 1h0m200 0h0m27 0h0m73 0h0m97 0h0m-359 1h0m22 0h0m37 0h0m96 0h0m-205 1h0m59 0h0m25 0h0m13 0h0m0 0h0m11 0h0m64 0h0m55 0h0m222 0h0m-434 1h0m36 0h0m48 0h0m5 0h0m50 0h0m46 0h0m10 0h0m74 0h0m36 0h0m52 0h0m-372 1h0m56 0h0m8 0h0m31 0h0m11 0h0m62 0h0m27 0h0m26 0h0m13 0h0m4 0h0m-196 1h0m9 0h0m4 0h0m43 0h0m122 0h0m4 0h0m87 0h0m79 0h0m38 0h0m5 0h0m172 0h0m-562 1h0m127 0h0m3 0h0m70 0h0m10 0h0m156 0h0m-352 1h0m10 0h0m3 0h0m132 0h0m25 0h0m6 0h0m106 0h0m39 0h0m126 0h0m-347 1h0m65 0h0m63 0h0m-236 1h0m5 0h0m51 0h0m64 0h0m46 0h0m8 0h0m16 0h0m142 0h0m-332 1h0m14 0h0m0 0h0m90 0h0m13 0h0m119 0h0m104 0h0m-336 1h0m109 0h0m53 0h0m95 0h0m14 0h0m71 0h0m15 0h0m-375 1h0m15 0h0m6 0h0m5 0h0m89 0h0m9 0h0m135 0h0m79 0h0m16 0h0m-385 1h0m53 0h0m369 0h0m-403 1h0m164 0h0m60 0h0m2 0h0m2 0h0m14 0h0m95 0h0m-339 1h0m174 0h0m3 0h0m32 0h0m71 0h0m9 0h0m3 0h0m22 0h0m189 0h0m-516 1h0m13 0h0m4 0h0m281 0h0m24 0h0m2 0h0m-325 1h0m4 0h0m278 0h0m2 0h0m77 0h0m-388 1h0m9 0h0m52 0h0m154 0h0m32 0h0m-219 1h0m30 0h0m1 0h0m18 0h0m153 0h0m17 0h0m42 0h0m66 0h0m-183 1h0m55 0h0m14 0h0m40 0h0m4 0h0m48 0h0m-66 1h0m60 0h0m5 0h0m132 0h0m-441 1h0m30 0h0m164 0h0m132 0h0m278 0h0m-574 1h0m0 0h0m162 0h0m133 0h0m-320 1h0m19 0h0m5 0h0m262 0h0m6 0h0m-297 1h0m35 0h0m18 0h0m263 0h0m54 0h0m-344 1h0m168 0h0m33 0h0m56 0h0m5 0h0m8 0h0m15 0h0m-322 1h0m12 0h0m39 0h0m242 0h0m40 0h0m77 0h0m-438 1h0m18 0h0m2 0h0m290 0h0m97 0h0m20 0h0m-416 1h0m5 0h0m233 0h0m13 0h0m9 0h0m32 0h0m45 0h0m19 0h0m-97 1h0m57 0h0m25 0h0m2 0h0m12 0h0m-33 1h0m-297 1h0m3 0h0m1 0h0m10 0h0m0 0h0m167 0h0m32 0h0m20 0h0m1 0h0m9 0h0m21 0h0m24 0h0m22 0h0m39 0h0m51 0h0m-403 1h0m272 0h0m5 0h0m0 0h0m18 0h0m-322 1h0m52 0h0m196 0h0m61 0h0m0 0h0m28 0h0m2 0h0m-276 1h0m-64 1h0m31 0h0m259 0h0m55 0h0m-355 1h0m17 0h0m13 0h0m41 0h0m7 0h0m200 0h0m153 0h0m27 0h0m-386 1h0m153 0h0m1 0h0m20 0h0m45 0h0m80 0h0m4 0h0m-383 1h0m22 0h0m20 0h0m15 0h0m206 0h0m87 0h0m-343 1h0m5 0h0m57 0h0m17 0h0m15 0h0m141 0h0m61 0h0m37 0h0m-262 1h0m32 0h0m130 0h0m51 0h0m30 0h0m33 0h0m-123 1h0m16 0h0m49 0h0m50 0h0m-235 1h0m125 0h0m78 0h0m45 0h0m106 0h0m-437 1h0m59 0h0m167 0h0m16 0h0m-201 1h0m126 0h0m101 0h0m10 0h0m35 0h0m-339 1h0m73 0h0m153 0h0m17 0h0m71 0h0m57 0h0m-369 1h0m77 0h0m97 0h0m0 0h0m14 0h0m38 0h0m66 0h0m-224 1h0m151 0h0m36 0h0m98 0h0m-319 1h0m43 0h0m19 0h0m1 0h0m3 0h0m202 1h0m134 0h0m-447 1h0m11 0h0m25 0h0m39 0h0m11 0h0m6 0h0m10 0h0m136 0h0m89 0h0m-342 1h0m13 0h0m23 0h0m16 0h0m53 0h0m2 0h0m156 0h0m78 0h0m101 0h0m-427 1h0m16 0h0m27 0h0m47 0h0m134 0h0m65 0h0m13 0h0m50 0h0m-247 1h0m13 0h0m102 0h0m59 0h0m130 0h0m-394 1h0m42 0h0m57 0h0m85 0h0m-199 1h0m14 0h0m12 0h0m76 0h0m93 0h0m72 0h0m27 0h0m19 0h0m3 0h0m-299 1h0m45 0h0m44 0h0m129 0h0m74 0h0m190 0h0m-301 1h0m88 0h0m16 0h0m34 0h0m-334 1h0m48 0h0m142 0h0m267 0h0m-465 1h0m28 0h0m2 0h0m45 0h0m114 0h0m50 0h0m80 0h0m-309 1h0m18 0h0m29 0h0m186 0h0m30 0h0m98 0h0m34 0h0m-206 1h0m5 0h0m24 0h0m22 0h0m66 0h0m14 0h0m-262 1h0m4 0h0m130 0h0m71 0h0m14 0h0m4 0h0m5 0h0m97 0h0m7 0h0m-340 1h0m0 0h0m7 0h0m4 0h0m157 0h0m71 0h0m89 0h0m-431 1h0m46 0h0m2 0h0m55 0h0m7 0h0m135 0h0m1 0h0m70 0h0m-296 1h0m9 0h0m85 0h0m123 0h0m35 0h0m51 0h0m33 0h0m54 0h0m1 0h0m-98 1h0m7 0h0m80 0h0m-395 1h0m38 0h0m189 0h0m7 0h0m61 0h0m13 0h0m-303 1h0m101 0h0m191 0h0m115 1h0m-413 1h0m107 0h0m0 0h0m170 0h0m42 0h0m33 0h0m-251 2h0m10 0h0m275 0h0m1 0h0m-339 1h0m223 0h0m16 0h0m10 0h0m47 0h0m-66 1h0m66 0h0m-346 1h0m326 0h0m28 0h0m148 0h0m-451 1h0m324 0h0m96 0h0m-470 1h0m311 0h0m98 0h0m-360 1h0m272 0h0m-315 1h0m36 0h0m159 0h0m122 0h0m-308 1h0m204 0h0m-243 1h0m311 0h0m8 0h0m-79 2h0m7 0h0m79 1h0m-289 1h0m9 0h0m243 0h0m-58 1h0m116 0h0m21 0h0m-90 1h0m72 1h0m12 0h0m-332 1h0m308 0h0m20 0h0m-349 1h0m16 1h0m15 1h0m268 0h0m76 0h0m-390 1h0m41 0h0m10 0h0m2 0h0m193 0h0m110 0h0m58 0h0m-391 1h0m2 0h0m17 0h0m8 0h0m177 0h0m84 0h0m97 0h0m-370 2h0m252 0h0m43 0h0m74 0h0m-377 1h0m212 0h0m37 0h0m12 0h0m-277 1h0m19 0h0m2 0h0m10 0h0m190 0h0m7 0h0m42 0h0m2 0h0m14 0h0m22 0h0m-325 1h0m18 0h0m2 0h0m12 0h0m306 0h0m-103 1h0m2 0h0m568 0h0m-765 1h0m197 0h0m3 0h0m20 0h0m1 0h0m-205 1h0m213 0h0m62 0h0m-349 1h0m39 0h0m312 0h0m-347 1h0m43 0h0m10 0h0m307 0h0m3 0h0m-368 1h0m35 0h0m299 0h0m-291 1h0m256 0h0m34 0h0m-304 1h0m15 0h0m213 0h0m34 0h0m32 0h0m34 0h0m16 0h0m-336 1h0m330 0h0m-341 1h0m8 0h0m67 0h0m15 0h0m104 0h0m41 0h0m48 0h0m-212 1h0m161 0h0m-246 1h0m26 0h0m62 0h0m6 0h0m189 0h0m-302 1h0m122 0h0m252 0h0m-338 1h0m83 0h0m0 0h0m165 0h0m4 0h0m77 0h0m-318 1h0m164 0h0m144 0h0m-327 1h0m94 0h0m115 0h0m-232 1h0m28 0h0m3 0h0m228 0h0m-230 1h0m85 0h0m81 0h0m12 0h0m11 0h0m62 0h0m42 0h0m53 0h0m-380 1h0m7 0h0m11 0h0m2 0h0m247 0h0m3 0h0m15 0h0m9 0h0m50 0h0m-348 1h0m2 0h0m25 0h0m251 0h0m-280 1h0m9 0h0m100 0h0m96 0h0m74 0h0m28 0h0m11 0h0m-196 1h0m2 0h0m131 0h0m37 0h0m-290 1h0m208 0h0m54 0h0m14 0h0m-252 1h0m102 0h0m122 0h0m16 0h0m4 0h0m-253 1h0m98 0h0m0 0h0m182 0h0m-72 1h0m45 0h0m64 0h0m-332 1h0m21 0h0m220 0h0m73 0h0m-105 1h0m6 0h0m20 0h0m16 0h0m51 0h0m-101 1h0m58 0h0m-260 1h0m237 0h0m-227 1h0m0 0h0m205 0h0m13 0h0m63 0h0m19 0h0m-113 1h0m3 0h0m18 0h0m39 0h0m86 0h0m-146 1h0m8 0h0m6 0h0m23 0h0m103 0h0m43 0h0m-393 1h0m219 0h0m22 0h0m19 0h0m35 0h0m-297 1h0m227 0h0m56 0h0m12 0h0m-46 1h0m-57 1h0m178 0h0m-190 1h0m6 0h0m42 0h0m10 1h0m-242 1h0m274 0h0m-279 1h0m206 0h0m-198 1h0m218 0h0m-216 1h0m1 0h0m283 0h0m-282 1h0m213 0h0m19 0h0m43 0h0m-40 1h0m-244 1h0m12 0h0m208 0h0m46 1h0m16 0h0m178 0h0m-465 1h0m204 1h0m5 0h0m74 0h0m59 0h0m-349 1h0m165 0h0m85 0h0m-227 1h0m138 0h0m424 0h0m-334 1h0m17 0h0m85 0h0m251 0h0m-430 1h0m35 0h0m70 0h0m290 0h0m-406 1h0m103 0h0m23 0h0m39 0h0m-94 1h0m3 0h0m19 0h0m-240 1h0m163 0h0m49 0h0m169 0h0m-219 1h0m32 0h0m13 0h0m33 0h0m-250 1h0m18 0h0m153 0h0m24 0h0m4 0h0m65 0h0m-258 1h0m11 0h0m327 0h0m-151 1h0m129 0h0m-331 1h0m28 0h0m183 0h0m0 0h0m42 0h0m79 0h0m-332 1h0m239 0h0m112 0h0m40 0h0m-365 1h0m156 0h0m56 0h0m21 0h0m180 0h0m-447 1h0m7 0h0m22 0h0m1 0h0m1 0h0m178 0h0m85 0h0m-267 1h0m289 0h0m-298 1h0m-9 1h0m19 0h0m7 0h0m196 0h0m-222 1h0m21 0h0m144 0h0m9 0h0m-153 1h0m158 0h0m17 0h0m23 0h0m14 0h0m-247 2h0m16 0h0m170 0h0m73 0h0m37 0h0m-302 1h0m206 1h0m12 0h0m-212 1h0m212 0h0m14 0h0m-222 1h0m0 0h0m188 0h0m35 0h0m8 0h0m-66 2h0m-172 2h0m175 0h0m-171 1h0m11 0h0m293 0h0m-119 1h0m25 0h0m88 1h0m-315 1h0m12 0h0m136 0h0m4 0h0m40 0h0m26 0h0m63 0h0m-271 1h0m138 0h0m28 0h0m16 0h0m-173 1h0m128 0h0m77 0h0m-222 1h0m3 0h0m151 1h0m105 0h0m-262 1h0m146 0h0m13 0h0m17 0h0m-164 1h0m165 0h0m141 0h0m-161 1h0m16 0h0m34 0h0m-210 1h0m19 0h0m132 0h0m0 0h0m11 0h0m27 0h0m-171 1h0m137 0h0m69 0h0m12 0h0m-240 1h0m11 0h0m1 0h0m217 0h0m-216 1h0m140 0h0m48 2h0m-202 1h0m7 0h0m151 0h0m8 1h0m-156 1h0m185 0h0m-180 1h0m186 0h0m-47 1h0m-165 1h0m4 0h0m13 0h0m3 0h0m110 0h0m4 0h0m-126 1h0m207 0h0m-102 1h0m15 0h0m40 0h0m-167 1h0m159 0h0m96 0h0m-50 1h0m45 0h0m-87 1h0m10 0h0m-176 1h0m303 0h0m-300 1h0m3 0h0m141 0h0m14 0h0m-168 1h0m136 0h0m-118 1h0m113 0h0m4 0h0m122 0h0m122 0h0m-246 1h0m-116 1h0m125 0h0m20 0h0m-165 1h0m2 0h0m1 0h0m9 0h0m114 0h0m1 0h0m26 0h0m-7 1h0m28 0h0m-32 1h0m26 0h0m-163 1h0m4 1h0m0 0h0m7 0h0m306 0h0m18 0h0m-214 1h0m64 1h0m-180 2h0m1 0h0m115 0h0m-134 1h0m13 0h0m185 0h0m-194 1h0m12 0h0m2 0h0m-19 1h0m4 0h0m-4 1h0m134 0h0m19 0h0m-155 1h0m7 0h0m12 0h0m-21 1h0m257 0h0m-236 1h0m-21 1h0m13 0h0m-18 1h0m7 0h0m148 0h0m-155 5h0m3 0h0m4 0h0m-4 2h0m283 0h0m-152 1h0m12 0h0m31 0h0m-185 1h0m0 0h0m192 0h0m-194 1h0m10 0h0m5 0h0m6 0h0m-12 1h0m136 0h0m-11 2h0m22 0h0m53 0h0m-210 1h0m12 0h0m2 0h0m-9 1h0m7 0h0m1 0h0m112 0h0m-130 1h0m5 0h0m113 0h0m8 0h0m45 0h0m6 0h0m-60 1h0m31 0h0m-147 1h0m15 0h0m115 0h0m23 0h0m-156 1h0m3 0h0m10 0h0m148 0h0m-153 1h0m122 0h0m-131 1h0m5 0h0m136 0h0m625 0h0m-765 1h0m-5 2h0m12 0h0m0 0h0m5 0h0m105 0h0m1 0h0m59 0h0m-183 1h0m0 0h0m153 0h0m-140 1h0m84 0h0m82 0h0m-173 1h0m5 0h0m106 0h0m49 0h0m13 0h0m-181 1h0m9 0h0m94 0h0m-103 1h0m6 0h0m1 0h0m0 0h0m6 0h0m3 0h0m153 0h0m66 0h0m-234 1h0m1 0h0m1 0h0m7 0h0m0 0h0m127 0h0m-141 1h0m2 0h0m10 0h0m90 0h0m86 0h0m99 0h0m-276 1h0m-8 1h0m4 0h0m9 0h0m111 0h0m4 0h0m13 0h0m-144 1h0m5 0h0m117 0h0m-125 1h0m162 0h0m-161 1h0m5 0h0m2 0h0m5 0h0m-5 2h0m111 0h0m22 0h0m-142 1h0m11 0h0m1 0h0m2 0h0m0 0h0m0 0h0m109 0h0m7 1h0m-127 1h0m11 0h0m97 0h0m14 0h0m53 1h0m-81 1h0m27 0h0m11 0h0m9 0h0m-148 1h0m7 0h0m141 0h0m-154 1h0m5 0h0m2 0h0m8 0h0m2 0h0m2 0h0m-21 1h0m22 0h0m108 0h0m8 0h0m-129 1h0m10 0h0m-16 1h0m-5 1h0m16 0h0m119 0h0m50 0h0m-184 1h0m5 0h0m233 0h0m-230 1h0m146 0h0m-152 1h0m4 0h0m3 0h0m1 0h0m0 0h0m2 0h0m-14 1h0m2 0h0m1 0h0m6 0h0m3 0h0m1 0h0m124 1h0m40 0h0m-63 1h0m60 0h0m-175 1h0m3 0h0m136 0h0m-140 1h0m1 0h0m3 0h0m3 0h0m5 0h0m-19 1h0m4 1h0m8 0h0m1 0h0m1 0h0m0 0h0m133 0h0m-148 1h0m0 0h0m3 0h0m2 0h0m157 0h0m1 0h0m-157 1h0m7 0h0m3 0h0m110 0h0m32 0h0m-19 1h0m-143 1h0m4 1h0m1 0h0m7 0h0m-6 1h0m4 0h0m7 0h0m157 0h0m-163 1h0m2 0h0m4 0h0m78 0h0m-93 1h0m85 0h0m-77 1h0m8 0h0m79 0h0m-100 1h0m2 0h0m3 0h0m9 0h0m6 0h0m-22 1h0m7 0h0m1 0h0m-4 1h0m7 0h0m1 0h0m3 0h0m101 0h0m-112 1h0m5 0h0m0 0h0m6 0h0m106 0h0m-115 1h0m0 0h0m0 0h0m1 0h0m1 0h0m1 0h0m94 0h0m14 0h0m-123 1h0m7 0h0m5 0h0m0 0h0m85 0h0m-91 1h0m10 0h0m1 0h0m16 0h0m8 0h0m5 0h0m2 0h0m26 0h0m18 0h0m-80 1h0m2 0h0m5 0h0m13 0h0m10 0h0m54 0h0m-97 1h0m16 0h0m22 0h0m3 0h0m33 0h0m8 0h0m14 0h0m-4 1h0m-87 1h0m3 0h0m4 0h0m63 0h0m10 0h0m48 0h0m-117 1h0m28 0h0" fill="none" stroke="#1f77b4" stroke-opacity="0.75" stroke-width="8.8" stroke-linecap="round"/><path transform="scale(0.25)" d="M4314 143h0m5 3h0m17 3h0m-11 6h0m12 9h0m0 2h0m-28 3h0m-2 3h0m10 2h0m12 3h0m2 1h0m-43 2h0m6 0h0m16 0h0m-9 2h0m5 1h0m26 0h0m-34 3h0m28 0h0m4 3h0m-22 1h0m12 2h0m-34 1h0m49 2h0m-60 2h0m-2 1h0m-14 3h0m53 0h0m-23 1h0m-1 1h0m36 0h0m-34 2h0m-1 3h0m41 0h0m8 3h0m-33 1h0m-19 1h0m35 0h0m7 1h0m-60 1h0m69 0h0m0 0h0m-43 2h0m4 0h0m35 1h0m-54 2h0m11 0h0m-5 1h0m47 0h0m-25 1h0m14 0h0m-29 1h0m-14 1h0m60 0h0m-16 1h0m2 0h0m3 0h0m-78 1h0m23 1h0m58 3h0m-79 2h0m30 0h0m21 0h0m14 0h0m17 0h0m3 0h0m-26 1h0m23 1h0m-59 2h0m62 0h0m-65 2h0m45 0h0m13 0h0m-58 2h0m64 0h0m-94 1h0m45 0h0m22 0h0m-45 1h0m54 0h0m20 0h0m-51 1h0m-35 1h0m3 0h0m78 0h0m-50 1h0m10 0h0m34 0h0m-51 1h0m48 0h0m-45 1h0m28 0h0m-30 1h0m47 0h0m1 0h0m-56 1h0m41 0h0m1 0h0m-15 1h0m38 0h0m-92 1h0m56 1h0m27 4h0m-48 1h0m61 1h0m-41 1h0m-23 1h0m33 0h0m-25 1h0m53 0h0m-54 1h0m-1 1h0m54 1h0m-84 1h0m29 0h0m11 0h0m24 0h0m-31 2h0m19 1h0m19 1h0m-6 1h0m1 0h0m15 0h0m9 0h0m-71 1h0m40 0h0m4 0h0m18 0h0m9 0h0m-103 1h0m50 1h0m4 0h0m3 0h0m16 0h0m-1 1h0m30 0h0m-14 1h0m-21 1h0m28 0h0m-60 1h0m56 0h0m1 0h0m10 0h0m-32 1h0m5 0h0m4 0h0m-99 1h0m53 0h0m18 0h0m3 0h0m2 1h0m6 1h0m13 0h0m-61 1h0m1 0h0m72 0h0m3 0h0m12 0h0m-44 1h0m-10 1h0m18 0h0m10 1h0m-35 1h0m2 0h0m11 0h0m42 0h0m-64 1h0m7 0h0m13 0h0m-62 1h0m50 0h0m4 0h0m28 0h0m-71 3h0m65 0h0m-46 1h0m0 0h0m3 0h0m7 0h0m-2 1h0m42 0h0m-68 1h0m42 0h0m25 1h0m-62 1h0m43 0h0m21 0h0m0 0h0m-46 2h0m7 0h0m-28 1h0m27 0h0m71 0h0m-40 1h0m5 0h0m-14 1h0m18 0h0m-29 2h0m30 0h0m-17 1h0m12 1h0m-14 1h0m-28 2h0m10 0h0m33 0h0m-5 1h0m6 0h0m-45 1h0m40 0h0m36 0h0m-2 1h0m-40 1h0m14 0h0m28 0h0m3 0h0m-95 1h0m-23 2h0m14 0h0m30 1h0m-10 1h0m11 0h0m-8 1h0m74 0h0m6 0h0m-72 1h0m-34 1h0m20 0h0m80 2h0m-81 3h0m3 1h0m80 1h0m-135 1h0m18 2h0m122 1h0m-156 2h0m150 0h0m3 0h0m1 0h0m-111 1h0m9 0h0m20 0h0m1 0h0m78 1h0m-106 1h0m13 0h0m14 0h0m83 0h0m-115 1h0m110 0h0m-87 4h0m-1 1h0m94 0h0m-105 1h0m10 1h0m6 0h0m86 0h0m-77 1h0m78 1h0m-107 1h0m-44 1h0m21 0h0m19 0h0m7 0h0m106 0h0m-87 2h0m1 1h0m84 0h0m0 2h0m-143 1h0m143 0h0m-110 1h0m23 1h0m3 1h0m-16 1h0m10 0h0m-74 2h0m0 0h0m81 0h0m-36 1h0m15 0h0m17 0h0m8 0h0m-105 1h0m51 0h0m60 0h0m73 0h0m-112 1h0m112 1h0m-100 1h0m99 0h0m1 3h0m-144 1h0m65 0h0m-18 1h0m98 1h0m-136 1h0m46 0h0m2 0h0m0 0h0m4 0h0m-24 1h0m23 0h0m-16 1h0m25 0h0m77 0h0m-71 1h0m71 0h0m-175 1h0m79 0h0m21 0h0m4 0h0m-48 1h0m40 0h0m78 0h0m-137 2h0m9 0h0m57 0h0m-65 1h0m134 0h0m-97 1h0m2 0h0m-77 2h0m35 0h0m139 0h0m0 0h0m-99 1h0m-19 1h0m11 0h0m-7 1h0m7 0h0m10 1h0m98 0h0m-98 1h0m-49 2h0m146 2h0m-123 1h0m1 0h0m28 0h0m-4 1h0m-15 2h0m-29 1h0m36 0h0m105 0h0m2 0h0m-121 1h0m-16 1h0m10 0h0m9 0h0m-63 3h0m180 1h0m-108 1h0m-17 2h0m27 1h0m97 0h0m-99 1h0m100 0h0m-102 1h0m-2 1h0m2 0h0m3 0h0m-55 1h0m40 0h0m10 0h0m3 0h0m-48 2h0m-2 1h0m149 0h0m-113 1h0m10 0h0m-32 1h0m-2 1h0m35 1h0m103 0h0m-154 1h0m29 0h0m124 0h0m1 0h0m-188 1h0m43 0h0m-50 1h0m3 0h0m99 0h0m-10 2h0m-43 1h0m45 0h0m-57 1h0m53 1h0m9 0h0m2 0h0m-131 1h0m90 0h0m5 0h0m1 0h0m0 0h0m-31 2h0m61 0h0m100 0h0m-176 2h0m54 0h0m0 0h0m-11 1h0m32 0h0m101 0h0m-106 1h0m106 0h0m-140 1h0m12 0h0m18 0h0m110 1h0m-90 1h0m89 0h0m-144 1h0m17 0h0m35 0h0m92 0h0m2 0h0m-183 1h0m55 0h0m35 0h0m-172 1h0m85 0h0m78 0h0m6 0h0m-75 1h0m72 0h0m99 0h0m-101 1h0m-18 1h0m-67 1h0m8 0h0m15 0h0m26 0h0m9 0h0m36 1h0m-27 1h0m-83 1h0m42 0h0m10 0h0m8 0h0m29 0h0m-42 1h0m152 0h0m-150 1h0m-68 1h0m-4 1h0m136 0h0m-67 1h0m14 0h0m49 0h0m-85 1h0m48 0h0m8 0h0m9 0h0m9 0h0m10 0h0m9 0h0m-64 1h0m26 0h0m7 1h0m31 0h0m0 1h0m83 0h0m-165 1h0m65 0h0m13 0h0m-83 1h0m89 0h0m-57 1h0m48 0h0m91 0h0m1 0h0m-213 1h0m129 0h0m-122 1h0m-25 1h0m19 0h0m112 0h0m1 0h0m-54 1h0m53 0h0m-99 1h0m197 0h0m-129 1h0m45 0h0m-142 2h0m56 0h0m-44 1h0m58 0h0m155 1h0m-129 1h0m-46 1h0m20 0h0m6 1h0m40 0h0m-89 1h0m98 0h0m101 0h0m-234 1h0m18 0h0m41 0h0m16 0h0m22 0h0m11 0h0m22 0h0m104 0h0m-168 1h0m32 0h0m14 0h0m-89 1h0m56 1h0m34 1h0m118 0h0m-217 2h0m108 0h0m6 0h0m106 0h0m-229 1h0m73 0h0m17 0h0m24 0h0m-46 1h0m54 0h0m-102 1h0m7 0h0m25 0h0m43 0h0m-101 1h0m42 0h0m-44 1h0m25 0h0m108 0h0m-140 1h0m48 0h0m56 0h0m4 0h0m6 0h0m6 0h0m18 0h0m-110 2h0m31 0h0m6 0h0m21 0h0m14 0h0m16 0h0m124 0h0m-268 1h0m134 1h0m18 0h0m-147 1h0m70 0h0m44 0h0m20 0h0m15 0h0m115 0h0m4 0h0m-217 1h0m42 0h0m8 0h0m17 0h0m7 0h0m-43 1h0m33 0h0m9 0h0m19 0h0m-128 1h0m5 0h0m58 0h0m19 0h0m6 0h0m41 0h0m5 0h0m115 0h0m-154 1h0m9 0h0m22 0h0m-124 1h0m65 0h0m1 0h0m26 0h0m-48 1h0m79 0h0m128 0h0m0 0h0m-153 1h0m4 0h0m-88 1h0m63 0h0m5 0h0m30 0h0m138 0h0m-147 1h0m10 0h0m-38 1h0m170 0h0m6 0h0m-320 2h0m133 1h0m19 1h0m-80 1h0m8 0h0m54 0h0m-7 1h0m12 0h0m181 0h0m-210 1h0m-68 1h0m53 0h0m45 1h0m45 0h0m16 0h0m-66 1h0m25 0h0m-53 1h0m211 0h0m3 0h0m-127 1h0m2 0h0m-44 1h0m167 0h0m-252 1h0m47 0h0m205 0h0m-1 1h0m-251 1h0m44 0h0m81 0h0m-34 1h0m3 0h0m-169 1h0m161 0h0m42 0h0m-167 1h0m50 0h0m8 0h0m-74 1h0m138 0h0m50 0h0m0 0h0m-142 1h0m86 0h0m15 0h0m-54 1h0m95 0h0m-72 1h0m26 0h0m-7 1h0m47 0h0m-165 1h0m29 0h0m42 0h0m23 0h0m-80 1h0m28 0h0m51 0h0m76 0h0m-133 1h0m60 0h0m-50 1h0m12 0h0m50 0h0m11 0h0m-159 1h0m65 0h0m54 0h0m11 0h0m-85 1h0m23 0h0m88 0h0m-4 1h0m8 0h0m-29 1h0m-39 1h0m35 0h0m37 1h0m-140 2h0m48 0h0m56 0h0m24 0h0m-104 2h0m13 0h0m34 0h0m23 0h0m15 0h0m4 0h0m2 0h0m9 0h0m3 0h0m4 0h0m19 0h0m-105 1h0m100 0h0m3 0h0m-117 1h0m16 0h0m13 0h0m-33 1h0m30 0h0m-43 1h0m18 0h0m34 0h0m38 0h0m3 0h0m200 1h0m-214 1h0m42 0h0m26 0h0m12 0h0m-61 1h0m58 0h0m1 0h0m-136 1h0m44 0h0m59 0h0m168 0h0m-261 1h0m64 0h0m3 0h0m7 0h0m53 0h0m-148 1h0m5 0h0m13 0h0m44 0h0m65 0h0m1 0h0m19 0h0m-152 1h0m46 0h0m106 0h0m-125 1h0m37 0h0m33 0h0m24 0h0m26 0h0m8 0h0m-104 1h0m62 0h0m-133 1h0m57 0h0m15 0h0m30 0h0m2 0h0m54 0h0m-176 1h0m27 0h0m129 0h0m29 0h0m-105 1h0m4 0h0m58 0h0m17 0h0m27 0h0m-83 1h0m85 0h0m137 0h0m-300 1h0m18 0h0m2 0h0m86 0h0m55 0h0m-193 1h0m79 0h0m4 0h0m46 0h0m33 0h0m22 0h0m4 0h0m10 0h0m135 0h0m-262 1h0m34 0h0m56 0h0m25 0h0m7 0h0m-65 1h0m24 0h0m-145 1h0m79 0h0m68 0h0m177 0h0m-272 2h0m20 0h0m25 0h0m82 0h0m-167 1h0m73 0h0m37 0h0m70 0h0m134 0h0m1 0h0m-331 1h0m103 0h0m16 0h0m33 0h0m29 0h0m149 0h0m-221 2h0m28 0h0m192 0h0m-316 1h0m59 0h0m32 0h0m37 0h0m7 0h0m10 0h0m172 0h0m-217 1h0m-50 1h0m-72 1h0m80 0h0m23 0h0m-83 1h0m135 0h0m184 0h0m-153 1h0m-54 1h0m-118 1h0m19 0h0m25 1h0m59 0h0m27 0h0m23 0h0m-150 1h0m105 0h0m14 0h0m3 0h0m-90 1h0m133 0h0m-193 1h0m25 0h0m4 0h0m125 0h0m38 0h0m-120 1h0m28 0h0m3 0h0m55 0h0m-48 1h0m9 0h0m25 0h0m30 0h0m11 0h0m-67 1h0m40 0h0m5 0h0m35 0h0m-204 1h0m150 0h0m32 0h0m-134 1h0m28 0h0m16 0h0m24 0h0m18 0h0m25 0h0m29 0h0m12 0h0m4 0h0m-187 1h0m45 0h0m131 0h0m-208 1h0m96 0h0m20 0h0m96 0h0m-118 1h0m92 0h0m-87 1h0m3 0h0m11 0h0m65 0h0m11 0h0m14 0h0m8 0h0m-168 1h0m59 0h0m21 0h0m46 0h0m54 0h0m143 0h0m-270 1h0m108 0h0m163 0h0m1 0h0m-352 1h0m15 0h0m33 0h0m24 0h0m10 0h0m21 0h0m48 0h0m42 0h0m18 0h0m143 0h0m-4 1h0m-397 1h0m157 0h0m77 0h0m167 0h0m2 0h0m-374 1h0m39 0h0m54 0h0m-94 1h0m55 0h0m24 0h0m147 0h0m142 0h0m-267 1h0m5 0h0m26 0h0m233 0h0m-336 1h0m72 0h0m8 0h0m47 0h0m213 0h0m-244 1h0m4 0h0m233 0h0m-256 1h0m29 1h0m3 0h0m28 0h0m-102 1h0m19 0h0m0 0h0m34 0h0m55 0h0m43 0h0m-225 1h0m51 0h0m78 0h0m94 0h0m2 0h0m-163 1h0m16 0h0m60 0h0m8 0h0m15 0h0m14 0h0m65 0h0m1 0h0m-2 1h0m125 0h0m10 0h0m2 0h0m-142 1h0m3 0h0m143 0h0m-272 1h0m29 0h0m92 0h0m3 0h0m-139 1h0m24 0h0m256 0h0m1 0h0m-417 1h0m134 0h0m42 0h0m14 0h0m28 0h0m189 0h0m-350 1h0m57 0h0m16 0h0m80 0h0m8 0h0m-141 1h0m13 0h0m83 0h0m46 0h0m191 0h0m-332 1h0m60 0h0m57 0h0m221 0h0m-373 1h0m21 0h0m113 0h0m20 0h0m24 0h0m188 0h0m-367 1h0m36 0h0m93 0h0m10 0h0m243 0h0m-286 1h0m13 0h0m51 0h0m-84 1h0m103 0h0m-125 1h0m81 0h0m2 0h0m28 0h0m9 0h0m-85 1h0m27 0h0m35 0h0m15 0h0m-191 1h0m5 0h0m19 0h0m68 0h0m4 0h0m37 0h0m56 0h0m2 0h0m-181 1h0m110 0h0m8 0h0m64 0h0m-208 1h0m102 0h0m8 0h0m36 0h0m14 0h0m-99 1h0m45 0h0m64 0h0m41 0h0m37 0h0m17 0h0m-207 1h0m198 0h0m-175 1h0m50 0h0m37 0h0m24 0h0m21 0h0m213 0h0m-359 1h0m21 0h0m37 0h0m48 0h0m90 0h0m2 0h0m-187 1h0m3 0h0m15 0h0m32 1h0m43 0h0m-129 1h0m54 0h0m76 0h0m79 0h0m-200 1h0m63 0h0m13 0h0m-82 1h0m1 0h0m78 0h0m-114 1h0m99 0h0m34 0h0m9 0h0m7 1h0m15 0h0m95 0h0m128 0h0m-305 1h0m158 0h0m2 0h0m8 0h0m7 0h0m-180 1h0m38 0h0m16 0h0m129 0h0m157 0h0m-313 1h0m13 0h0m67 0h0m205 0h0m4 0h0m18 0h0m-338 1h0m53 0h0m4 0h0m29 0h0m28 0h0m54 0h0m4 0h0m134 0h0m-332 1h0m49 0h0m19 0h0m39 0h0m6 0h0m31 0h0m4 0h0m3 0h0m43 0h0m15 0h0m4 0h0m129 0h0m-271 1h0m62 0h0m12 0h0m6 0h0m56 0h0m7 0h0m0 0h0m132 0h0m12 0h0m-255 1h0m9 0h0m83 0h0m3 0h0m103 0h0m33 0h0m11 0h0m4 0h0m-331 1h0m2 0h0m3 0h0m23 0h0m31 0h0m5 0h0m26 0h0m104 0h0m121 0h0m2 0h0m-351 1h0m9 0h0m21 0h0m78 0h0m0 0h0m2 0h0m4 0h0m197 0h0m-190 1h0m2 0h0m91 0h0m10 0h0m23 0h0m109 0h0m3 0h0m22 0h0m-412 1h0m73 0h0m58 0h0m13 0h0m1 0h0m11 0h0m38 0h0m57 0h0m143 0h0m-358 1h0m57 0h0m36 0h0m120 0h0m20 0h0m66 0h0m16 0h0m-301 1h0m219 0h0m19 0h0m129 0h0m-380 1h0m35 0h0m18 0h0m107 0h0m-164 1h0m94 0h0m53 0h0m67 0h0m10 0h0m147 0h0m-276 1h0m2 0h0m3 0h0m47 0h0m80 0h0m-263 1h0m9 0h0m87 0h0m22 0h0m22 0h0m245 0h0m20 0h0m-425 1h0m367 0h0m3 0h0m-308 1h0m23 0h0m14 0h0m114 0h0m74 0h0m142 0h0m-378 1h0m158 0h0m13 0h0m61 0h0m32 0h0m43 0h0m65 0h0m9 0h0m8 0h0m-289 1h0m148 0h0m62 0h0m9 0h0m-308 1h0m62 0h0m166 0h0m14 0h0m-292 1h0m20 0h0m16 0h0m23 0h0m140 0h0m2 0h0m63 0h0m22 0h0m-200 1h0m1 0h0m24 0h0m0 0h0m80 0h0m-125 1h0m67 0h0m140 0h0m17 0h0m68 0h0m5 0h0m-223 1h0m205 0h0m-322 1h0m51 0h0m4 0h0m5 0h0m25 0h0m13 0h0m3 0h0m-46 1h0m51 0h0m9 0h0m121 0h0m1 0h0m9 0h0m27 0h0m117 0h0m-432 1h0m77 0h0m1 0h0m198 0h0m9 0h0m7 0h0m15 0h0m60 0h0m15 0h0m41 0h0m-429 1h0m76 0h0m12 0h0m-20 1h0m25 0h0m1 0h0m196 0h0m162 0h0m-420 1h0m16 0h0m14 0h0m2 0h0m96 0h0m121 0h0m15 0h0m123 0h0m17 0h0m3 0h0m-415 1h0m9 0h0m71 0h0m193 0h0m49 0h0m-324 1h0m22 0h0m11 0h0m0 0h0m39 0h0m202 0h0m122 0h0m19 0h0m-403 1h0m12 0h0m300 0h0m10 0h0m77 0h0m16 0h0m-414 1h0m35 0h0m223 0h0m51 0h0m86 0h0m6 0h0m-430 1h0m22 0h0m90 0h0m36 0h0m3 0h0m130 0h0m162 0h0m-399 1h0m6 0h0m3 0h0m55 0h0m19 0h0m25 0h0m206 0h0m-342 1h0m34 0h0m38 0h0m137 0h0m48 0h0m9 0h0m8 0h0m67 0h0m2 0h0m71 0h0m-190 1h0m3 0h0m2 0h0m95 0h0m47 0h0m51 0h0m-452 1h0m68 0h0m63 0h0m22 0h0m248 0h0m-397 1h0m22 0h0m37 0h0m34 0h0m156 0h0m23 0h0m96 0h0m14 0h0m37 0h0m27 0h0m-329 1h0m13 0h0m3 0h0m135 0h0m10 0h0m41 0h0m-210 1h0m142 0h0m2 0h0m36 0h0m27 0h0m46 0h0m14 0h0m5 0h0m-375 1h0m30 0h0m60 0h0m145 0h0m52 0h0m0 0h0m6 0h0m34 0h0m32 0h0m77 0h0m6 0h0m2 0h0m-511 1h0m160 0h0m40 0h0m126 0h0m71 0h0m11 0h0m7 1h0m-293 1h0m33 0h0m148 0h0m74 0h0m61 0h0m66 0h0m-466 1h0m38 0h0m47 0h0m73 0h0m140 0h0m4 0h0m56 0h0m20 0h0m13 0h0m-322 1h0m200 0h0m15 0h0m77 0h0m19 0h0m7 0h0m21 0h0m40 0h0m23 0h0m-496 1h0m104 0h0m184 0h0m35 0h0m9 0h0m57 0h0m7 0h0m5 0h0m33 0h0m24 0h0m-403 1h0m57 0h0m58 0h0m152 0h0m79 0h0m47 0h0m22 0h0m-387 1h0m93 0h0m61 0h0m62 0h0m27 0h0m84 0h0m-346 1h0m34 0h0m380 0h0m-486 1h0m85 0h0m1 0h0m33 0h0m66 0h0m58 0h0m140 0h0m36 0h0m4 0h0m48 0h0m14 0h0m-366 1h0m133 0h0m7 0h0m3 0h0m94 0h0m152 0h0m-471 1h0m0 0h0m74 0h0m7 0h0m4 0h0m12 0h0m92 0h0m225 0h0m18 0h0m-398 1h0m52 0h0m33 0h0m14 0h0m60 0h0m15 0h0m189 0h0m8 0h0m29 0h0m18 0h0m10 0h0m-437 1h0m200 0h0m4 0h0m80 0h0m28 0h0m18 0h0m-356 1h0m98 0h0m133 0h0m123 0h0m55 0h0m30 0h0m10 0h0m4 0h0m-416 1h0m93 0h0m19 0h0m138 0h0m5 0h0m82 0h0m54 0h0m8 0h0m33 0h0m-332 1h0m56 0h0m5 0h0m3 0h0m37 0h0m10 0h0m60 0h0m95 0h0m69 0h0m-418 1h0m36 0h0m23 0h0m7 0h0m19 0h0m66 0h0m20 0h0m1 0h0m73 0h0m55 0h0m50 0h0m55 0h0m-352 1h0m82 0h0m3 0h0m4 0h0m15 0h0m38 0h0m75 0h0m59 0h0m2 0h0m43 0h0m3 0h0m0 0h0m19 0h0m22 0h0m-481 1h0m123 0h0m32 0h0m64 0h0m100 0h0m37 0h0m13 0h0m48 0h0m42 0h0m-397 1h0m46 0h0m14 0h0m90 0h0m49 0h0m33 0h0m11 0h0m36 0h0m13 0h0m55 0h0m-320 1h0m213 0h0m39 0h0m17 0h0m96 0h0m10 0h0m5 0h0m-367 1h0m102 0h0m38 0h0m10 0h0m98 0h0m18 0h0m51 0h0m7 0h0m10 0h0m43 0h0m-416 1h0m35 0h0m96 0h0m66 0h0m59 0h0m52 0h0m43 0h0m4 0h0m-451 1h0m116 0h0m2 0h0m261 0h0m12 0h0m-320 1h0m147 0h0m7 0h0m47 0h0m120 0h0m52 0h0m25 0h0m-304 1h0m54 0h0m72 0h0m4 0h0m-167 1h0m131 0h0m83 0h0m31 0h0m-294 1h0m41 0h0m107 0h0m38 0h0m143 0h0m1 0h0m-331 1h0m15 0h0m14 0h0m4 0h0m35 0h0m25 0h0m1 0h0m51 0h0m3 0h0m53 0h0m17 0h0m29 0h0m67 0h0m25 0h0m14 0h0m-348 1h0m34 0h0m2 0h0m21 0h0m34 0h0m33 0h0m47 0h0m67 0h0m20 0h0m41 0h0m109 0h0m-388 1h0m2 0h0m76 0h0m25 0h0m37 0h0m13 0h0m5 0h0m16 0h0m2 0h0m38 0h0m33 0h0m26 0h0m6 0h0m131 0h0m-488 1h0m35 0h0m45 0h0m51 0h0m12 0h0m49 0h0m58 0h0m11 0h0m10 0h0m62 0h0m72 0h0m19 0h0m-370 1h0m81 0h0m67 0h0m14 0h0m9 0h0m28 0h0m27 0h0m47 0h0m77 0h0m29 0h0m36 0h0m-475 1h0m91 0h0m60 0h0m59 0h0m16 0h0m-225 1h0m43 0h0m28 0h0m65 0h0m51 0h0m75 0h0m78 0h0m3 0h0m43 0h0m49 0h0m12 0h0m2 0h0m11 0h0m-360 1h0m57 0h0m69 0h0m48 0h0m5 0h0m70 0h0m27 0h0m92 0h0m11 0h0m4 0h0m15 0h0m-445 1h0m84 0h0m90 0h0m31 0h0m1 0h0m8 0h0m14 0h0m61 0h0m19 0h0m90 0h0m-483 1h0m149 0h0m37 0h0m2 0h0m1 0h0m-83 1h0m63 0h0m61 0h0m166 0h0m44 0h0m56 0h0m-427 1h0m81 0h0m46 0h0m64 0h0m16 0h0m16 0h0m14 0h0m75 0h0m31 0h0m12 0h0m36 0h0m34 0h0m-444 1h0m37 0h0m16 0h0m100 0h0m39 0h0m15 0h0m34 0h0m45 0h0m66 0h0m25 0h0m9 0h0m2 0h0m2 0h0m14 0h0m-201 1h0m39 0h0m34 0h0m72 0h0m-319 1h0m83 0h0m5 0h0m128 0h0m17 0h0m137 0h0m11 0h0m-398 1h0m19 0h0m16 0h0m105 0h0m49 0h0m11 0h0m60 0h0m2 0h0m32 0h0m21 0h0m-334 1h0m4 0h0m51 0h0m74 0h0m29 0h0m123 0h0m16 0h0m46 0h0m89 0h0m33 0h0m-441 1h0m41 0h0m90 0h0m48 0h0m1 0h0m35 0h0m232 0h0m-462 1h0m109 0h0m6 0h0m14 0h0m188 0h0m43 0h0m52 0h0m11 0h0m26 0h0m22 0h0m2 0h0m2 0h0m-538 1h0m36 0h0m5 0h0m38 0h0m86 0h0m48 0h0m81 0h0m18 0h0m42 0h0m-326 1h0m24 0h0m49 0h0m64 0h0m25 0h0m16 0h0m55 0h0m64 0h0m16 0h0m43 0h0m15 0h0m2 0h0m73 0h0m14 0h0m-405 1h0m15 0h0m10 0h0m61 0h0m86 0h0m2 0h0m38 0h0m5 0h0m6 0h0m36 0h0m37 0h0m93 0h0m2 0h0m49 0h0m-458 1h0m75 0h0m47 0h0m115 0h0m5 0h0m37 0h0m18 0h0m9 0h0m63 0h0m-466 1h0m241 0h0m75 0h0m109 0h0m52 0h0m21 0h0m-394 1h0m10 0h0m12 0h0m1 0h0m114 0h0m114 0h0m99 0h0m15 0h0m41 0h0m-470 1h0m127 0h0m175 0h0m54 0h0m33 0h0m79 0h0m60 0h0m-550 1h0m16 0h0m317 0h0m6 0h0m11 0h0m135 0h0m46 0h0m-359 1h0m106 0h0m31 0h0m58 0h0m59 0h0m69 0h0m-391 1h0m46 0h0m17 0h0m118 0h0m158 0h0m-384 1h0m5 0h0m150 0h0m3 0h0m61 0h0m37 0h0m24 0h0m66 0h0m13 0h0m56 0h0m54 0h0m-496 1h0m3 0h0m79 0h0m6 0h0m2 0h0m4 0h0m34 0h0m-118 1h0m10 0h0m23 0h0m14 0h0m17 0h0m56 0h0m119 0h0m83 0h0m32 0h0m33 0h0m18 0h0m-333 1h0m41 0h0m22 0h0m5 0h0m113 0h0m33 0h0m132 0h0m-442 1h0m41 0h0m46 0h0m45 0h0m19 0h0m19 0h0m85 0h0m98 0h0m-329 1h0m19 0h0m13 0h0m5 0h0m4 0h0m10 0h0m11 0h0m19 0h0m150 0h0m15 0h0m67 0h0m92 0h0m-453 1h0m32 0h0m41 0h0m98 0h0m120 0h0m28 0h0m134 0h0m27 0h0m33 0h0m-457 1h0m25 0h0m104 0h0m108 0h0m30 0h0m88 0h0m21 0h0m110 0h0m18 0h0m-486 1h0m19 0h0m188 0h0m13 0h0m54 0h0m20 0h0m23 0h0m68 0h0m20 0h0m5 0h0m31 0h0m-436 1h0m8 0h0m5 0h0m40 0h0m40 0h0m1 0h0m1 0h0m93 0h0m14 0h0m66 0h0m18 0h0m65 0h0m4 0h0m26 0h0m-348 1h0m186 0h0m90 0h0m19 0h0m5 0h0m19 0h0m2 0h0m2 0h0m83 0h0m-448 1h0m176 0h0m0 0h0m56 0h0m54 0h0m115 0h0m13 0h0m73 0h0m-468 1h0m32 0h0m20 0h0m15 0h0m17 0h0m106 0h0m6 0h0m35 0h0m60 0h0m4 0h0m41 0h0m83 0h0m-538 1h0m109 0h0m79 0h0m109 0h0m2 0h0m6 0h0m76 0h0m73 0h0m11 0h0m124 0h0m-504 1h0m17 0h0m22 0h0m47 0h0m48 0h0m2 0h0m103 0h0m1 0h0m35 0h0m85 0h0m-348 1h0m33 0h0m37 0h0m54 0h0m33 0h0m5 0h0m47 0h0m93 0h0m9 0h0m1 0h0m46 0h0m53 0h0m24 0h0m-383 1h0m41 0h0m23 0h0m55 0h0m42 0h0m19 0h0m42 0h0m19 0h0m44 0h0m-122 1h0m7 0h0m164 0h0m18 0h0m7 0h0m-490 1h0m24 0h0m39 0h0m41 0h0m2 0h0m18 0h0m30 0h0m41 0h0m3 0h0m114 0h0m77 0h0m-375 1h0m39 0h0m181 0h0m109 0h0m5 0h0m25 0h0m139 0h0m-450 1h0m16 0h0m40 0h0m113 0h0m68 0h0m19 0h0m139 0h0m1 0h0m-332 1h0m21 0h0m13 0h0m3 0h0m12 0h0m25 0h0m32 0h0m94 0h0m8 0h0m99 0h0m40 0h0m8 0h0m26 0h0m-534 1h0m30 0h0m24 0h0m1 0h0m5 0h0m51 0h0m63 0h0m146 0h0m8 0h0m11 0h0m231 0h0m-482 1h0m5 0h0m204 0h0m21 0h0m53 0h0m117 0h0m-407 1h0m11 0h0m2 0h0m57 0h0m53 0h0m71 0h0m7 0h0m13 0h0m4 0h0m6 0h0m41 0h0m28 0h0m24 0h0m-106 1h0m29 0h0m140 0h0m-387 1h0m79 0h0m105 0h0m28 0h0m0 0h0m40 0h0m20 0h0m74 0h0m-324 1h0m41 0h0m50 0h0m11 0h0m52 0h0m162 0h0m14 0h0m50 0h0m15 0h0m-339 1h0m25 0h0m167 0h0m45 0h0m43 0h0m13 0h0m-411 1h0m0 0h0m7 0h0m79 0h0m123 0h0m97 0h0m47 0h0m50 0h0m-310 1h0m58 0h0m71 0h0m5 0h0m40 0h0m56 0h0m20 0h0m30 0h0m29 0h0m62 0h0m-472 1h0m56 0h0m81 0h0m136 0h0m84 0h0m38 0h0m-394 1h0m26 0h0m14 0h0m39 0h0m55 0h0m31 0h0m70 0h0m16 0h0m10 0h0m82 0h0m60 0h0m-322 1h0m4 0h0m43 0h0m39 0h0m64 0h0m17 0h0m121 0h0m68 0h0m1 0h0m-422 1h0m50 0h0m52 0h0m44 0h0m100 0h0m58 0h0m50 0h0m53 0h0m0 0h0m-371 1h0m31 0h0m46 0h0m20 0h0m50 0h0m2 0h0m2 0h0m68 0h0m92 0h0m-348 1h0m94 0h0m48 0h0m5 0h0m2 0h0m19 0h0m46 0h0m11 0h0m13 0h0m45 0h0m157 0h0m115 0h0m-466 1h0m83 0h0m64 0h0m12 0h0m23 0h0m34 0h0m16 0h0m8 0h0m194 0h0m-427 1h0m21 0h0m19 0h0m5 0h0m9 0h0m34 0h0m52 0h0m51 0h0m52 0h0m22 0h0m61 0h0m-424 1h0m23 0h0m126 0h0m74 0h0m38 0h0m64 0h0m-306 1h0m15 0h0m84 0h0m14 0h0m9 0h0m1 0h0m3 0h0m72 0h0m54 0h0m101 0h0m106 0h0m-454 1h0m56 0h0m32 0h0m38 0h0m34 0h0m41 0h0m19 0h0m4 0h0m60 0h0m55 0h0m43 0h0m-344 1h0m5 0h0m67 0h0m39 0h0m116 0h0m253 0h0m-533 1h0m3 0h0m44 0h0m1 0h0m20 0h0m104 0h0m24 0h0m176 0h0m2 0h0m6 0h0m19 0h0m93 0h0m-506 1h0m19 0h0m56 0h0m16 0h0m2 0h0m41 0h0m37 0h0m20 0h0m9 0h0m53 0h0m4 0h0m1 0h0m29 0h0m160 0h0m-253 1h0m144 0h0m32 0h0m16 0h0m-433 1h0m125 0h0m94 0h0m6 0h0m1 0h0m26 0h0m14 0h0m14 0h0m10 0h0m4 0h0m23 0h0m125 0h0m-365 1h0m33 0h0m7 0h0m6 0h0m4 0h0m105 0h0m12 0h0m89 0h0m102 0h0m4 0h0m51 0h0m-457 1h0m22 0h0m66 0h0m49 0h0m63 0h0m138 0h0m28 0h0m3 0h0m-351 1h0m55 0h0m36 0h0m28 0h0m1 0h0m1 0h0m6 0h0m7 0h0m24 0h0m75 0h0m110 0h0m37 0h0m-357 1h0m106 0h0m55 0h0m0 0h0m105 0h0m-337 1h0m18 0h0m111 0h0m8 0h0m70 0h0m66 0h0m42 0h0m7 0h0m143 0h0m115 0h0m-524 1h0m18 0h0m19 0h0m31 0h0m6 0h0m8 0h0m67 0h0m31 0h0m4 0h0m14 0h0m11 0h0m91 0h0m46 0h0m3 0h0m12 0h0m13 0h0m-355 1h0m22 0h0m117 0h0m154 0h0m-286 1h0m168 0h0m13 0h0m9 0h0m69 0h0m66 0h0m-194 1h0m79 0h0m74 0h0m-273 1h0m155 0h0m1 0h0m71 0h0m31 0h0m60 0h0m92 0h0m-478 1h0m1 0h0m62 0h0m11 0h0m141 0h0m12 0h0m175 0h0m128 0h0m-478 1h0m175 0h0m12 0h0m0 0h0m22 0h0m18 0h0m11 0h0m6 0h0m56 0h0m37 0h0m-444 1h0m57 0h0m20 0h0m207 0h0m20 0h0m78 0h0m17 0h0m-392 1h0m31 0h0m16 0h0m52 0h0m10 0h0m155 0h0m62 0h0m5 0h0m63 0h0m10 0h0m6 0h0m9 0h0m-156 1h0m4 0h0m20 0h0m8 0h0m15 0h0m8 0h0m15 0h0m6 0h0m37 0h0m117 0h0m-484 1h0m29 0h0m53 0h0m20 0h0m138 0h0m24 0h0m86 0h0m38 0h0m19 0h0m-429 1h0m226 0h0m14 0h0m54 0h0m0 0h0m1 0h0m135 0h0m11 0h0m-395 1h0m16 0h0m41 0h0m4 0h0m128 0h0m24 0h0m23 0h0m56 0h0m17 0h0m60 0h0m14 0h0m-402 1h0m19 0h0m51 0h0m144 0h0m1 0h0m155 0h0m53 0h0m-402 1h0m218 1h0m99 0h0m81 0h0m-395 2h0m192 0h0m80 0h0m-233 1h0m149 0h0m13 0h0m37 0h0m48 0h0m28 0h0m119 0h0m-174 1h0m15 0h0m65 0h0m54 0h0m-411 1h0m63 0h0m302 0h0m12 0h0m-399 1h0m39 0h0m12 0h0m31 0h0m140 0h0m224 0h0m-427 1h0m27 0h0m16 0h0m150 0h0m94 0h0m51 0h0m27 0h0m1 0h0m2 0h0m-348 1h0m45 0h0m113 0h0m25 0h0m28 0h0m22 0h0m33 0h0m1 0h0m16 0h0m37 0h0m74 0h0m59 0h0m-288 1h0m100 0h0m22 0h0m-132 1h0m25 0h0m12 0h0m10 0h0m125 0h0m20 0h0m9 0h0m1 0h0m-207 1h0m38 0h0m102 0h0m48 0h0m76 0h0m100 0h0m-496 1h0m147 0h0m12 0h0m118 0h0m37 0h0m52 0h0m1 0h0m61 0h0m-505 1h0m54 0h0m21 0h0m29 0h0m121 0h0m14 0h0m22 0h0m9 0h0m0 0h0m18 0h0m16 0h0m127 0h0m-378 1h0m22 0h0m1 0h0m10 0h0m2 0h0m123 0h0m38 0h0m-203 1h0m198 0h0m3 0h0m150 0h0m16 0h0m-314 1h0m110 0h0m161 0h0m112 0h0m-432 1h0m13 0h0m2 0h0m16 0h0m131 0h0m40 0h0m15 0h0m19 0h0m117 0h0m-167 1h0m20 0h0m35 0h0m36 0h0m35 0h0m3 0h0m29 0h0m32 0h0m-379 1h0m198 0h0m10 0h0m15 0h0m179 0h0m-138 1h0m118 0h0m-383 1h0m48 0h0m171 0h0m20 1h0m18 0h0m13 0h0m2 0h0m80 0h0m28 0h0m137 0h0m-533 1h0m31 0h0m115 0h0m111 0h0m36 0h0m44 0h0m177 0h0m-506 1h0m31 0h0m90 0h0m11 0h0m13 0h0m211 0h0m38 0h0m-361 1h0m15 0h0m70 0h0m3 0h0m19 0h0m142 0h0m56 0h0m90 0h0m-414 1h0m117 0h0m21 0h0m117 0h0m59 0h0m-370 1h0m37 0h0m21 0h0m5 0h0m11 0h0m225 0h0m49 0h0m63 0h0m-280 1h0m41 0h0m78 0h0m33 0h0m38 0h0m39 0h0m53 0h0m3 0h0m-397 1h0m23 0h0m7 0h0m31 0h0m229 0h0m46 0h0m0 0h0m-326 1h0m13 0h0m1 0h0m43 0h0m46 0h0m58 0h0m2 0h0m57 0h0m35 0h0m112 0h0m-346 1h0m3 0h0m5 0h0m14 0h0m20 0h0m173 0h0m56 0h0m-149 1h0m134 0h0m30 0h0m31 0h0m53 0h0m-339 1h0m4 0h0m6 0h0m82 0h0m73 0h0m3 0h0m26 0h0m4 0h0m50 0h0m137 0h0m-428 1h0m291 0h0m18 0h0m38 0h0m74 0h0m-449 1h0m28 0h0m23 0h0m102 0h0m6 0h0m5 0h0m5 0h0m7 0h0m18 0h0m62 0h0m15 0h0m77 0h0m-329 1h0m-29 1h0m160 0h0m18 0h0m2 0h0m-219 1h0m15 0h0m138 0h0m101 0h0m30 0h0m134 0h0m68 0h0m-464 1h0m179 0h0m200 0h0m10 0h0m-187 1h0m62 0h0m-225 1h0m95 0h0m68 0h0m11 0h0m86 0h0m5 0h0m105 0h0m-277 1h0m328 0h0m-425 1h0m1 0h0m25 0h0m85 0h0m149 0h0m34 0h0m23 0h0m-325 1h0m101 0h0m14 0h0m122 0h0m94 0h0m-325 1h0m1 0h0m5 0h0m106 0h0m68 0h0m85 0h0m92 0h0m-410 1h0m5 0h0m26 0h0m45 0h0m24 0h0m193 0h0m115 0h0m1 0h0m21 0h0m25 0h0m-360 1h0m122 0h0m123 0h0m33 0h0m84 0h0m116 0h0m-545 1h0m35 0h0m19 0h0m66 0h0m93 0h0m66 0h0m17 0h0m99 0h0m21 0h0m-447 1h0m78 0h0m142 0h0m78 0h0m67 0h0m-290 1h0m29 0h0m45 0h0m19 0h0m60 0h0m0 0h0m65 0h0m-274 1h0m236 0h0m21 0h0m54 0h0m41 0h0m28 0h0m-353 1h0m11 0h0m46 0h0m60 0h0m134 0h0m10 0h0m63 0h0m5 0h0m39 0h0m2 0h0m-407 1h0m94 0h0m4 0h0m45 0h0m17 0h0m44 0h0m78 0h0m26 0h0m27 0h0m110 0h0m-293 1h0m134 0h0m109 0h0m22 0h0m-410 1h0m8 0h0m48 0h0m19 0h0m6 0h0m2 0h0m88 0h0m62 0h0m28 0h0m40 0h0m23 0h0m-248 1h0m-40 1h0m21 0h0m21 0h0m52 0h0m170 0h0m31 0h0m72 0h0m11 0h0m68 0h0m-439 1h0m248 0h0m9 0h0m4 0h0m4 0h0m41 0h0m-311 1h0m132 0h0m9 0h0m8 0h0m13 0h0m125 0h0m-125 1h0m1 0h0m61 0h0m0 0h0m68 0h0m118 0h0m-304 1h0m55 0h0m27 0h0m50 0h0m7 0h0m6 0h0m-272 1h0m29 0h0m105 0h0m68 0h0m49 0h0m-177 1h0m64 0h0m63 0h0m48 0h0m21 0h0m63 0h0m-201 1h0m57 0h0m6 0h0m12 0h0m97 0h0m-324 1h0m8 0h0m40 0h0m5 0h0m120 0h0m65 0h0m35 0h0m5 0h0m21 0h0m-279 1h0m130 0h0m31 0h0m9 0h0m38 0h0m164 0h0m-403 1h0m16 0h0m135 0h0m105 0h0m21 0h0m127 0h0m-358 1h0m97 0h0m11 0h0m44 0h0m50 0h0m31 0h0m84 0h0m60 0h0m-397 1h0m139 0h0m26 0h0m11 0h0m144 0h0m16 0h0m90 0h0m-292 1h0m83 0h0m52 0h0m3 0h0m-96 1h0m41 0h0m13 0h0m115 0h0m-409 1h0m71 0h0m160 0h0m19 0h0m7 0h0m109 0h0m11 0h0m19 0h0m-321 1h0m151 0h0m37 0h0m47 0h0m13 0h0m17 0h0m39 0h0m-344 1h0m15 0h0m191 0h0m70 0h0m5 0h0m78 0h0m89 0h0m-455 1h0m14 0h0m39 0h0m154 0h0m24 0h0m54 0h0m-270 1h0m22 0h0m25 0h0m226 0h0m29 0h0m20 0h0m-327 1h0m46 0h0m146 0h0m162 0h0m-342 1h0m7 0h0m9 0h0m217 0h0m28 0h0m8 0h0m-264 1h0m31 0h0m191 0h0m41 0h0m26 0h0m62 0h0m-355 1h0m174 0h0m18 0h0m3 0h0m1 0h0m49 0h0m-275 1h0m13 0h0m7 0h0m258 0h0m-252 1h0m3 0h0m2 0h0m421 0h0m-453 1h0m56 0h0m-68 1h0m26 0h0m6 0h0m169 0h0m36 0h0m15 0h0m53 0h0m107 0h0m-206 1h0m12 0h0m12 0h0m3 0h0m77 0h0m75 0h0m220 0h0m-391 1h0m21 0h0m-255 1h0m230 0h0m55 0h0m16 0h0m12 0h0m31 0h0m10 0h0m-278 1h0m3 0h0m150 0h0m18 0h0m36 0h0m15 0h0m-219 1h0m188 0h0m54 0h0m-281 1h0m40 0h0m154 0h0m4 0h0m114 0h0m-314 1h0m0 0h0m64 0h0m1 0h0m144 0h0m61 0h0m57 0h0m-368 1h0m26 0h0m18 0h0m30 0h0m34 0h0m155 0h0m36 0h0m29 0h0m24 0h0m-307 1h0m46 0h0m13 0h0m5 0h0m115 0h0m24 0h0m123 0h0m-273 1h0m6 0h0m136 0h0m63 0h0m52 0h0m14 0h0m-42 1h0m181 0h0m-427 1h0m29 0h0m196 0h0m15 0h0m2 0h0m39 0h0m-293 1h0m25 0h0m169 0h0m43 0h0m22 0h0m1 0h0m-298 1h0m5 0h0m36 0h0m2 0h0m4 0h0m146 0h0m41 1h0m-18 1h0m154 0h0m-373 1h0m159 0h0m47 0h0m38 0h0m26 0h0m-286 1h0m69 0h0m17 0h0m7 0h0m3 0h0m0 0h0m73 0h0m4 0h0m3 0h0m116 0h0m4 0h0m59 0h0m-373 1h0m26 0h0m82 0h0m91 0h0m46 0h0m68 0h0m-274 1h0m5 0h0m31 0h0m29 0h0m79 0h0m108 0h0m12 0h0m23 0h0m-295 1h0m78 0h0m2 0h0m131 0h0m26 0h0m29 0h0m-215 1h0m6 0h0m94 0h0m106 0h0m-245 1h0m17 0h0m6 0h0m35 0h0m94 0h0m54 0h0m110 0h0m97 0h0m-451 1h0m1 0h0m45 0h0m7 0h0m52 0h0m-142 1h0m77 0h0m55 0h0m6 0h0m-3 1h0m5 0h0m1 0h0m0 0h0m144 0h0m16 0h0m41 0h0m171 0h0m-421 1h0m7 0h0m122 0h0m217 0h0m-423 1h0m6 0h0m11 0h0m39 0h0m271 0h0m107 0h0m-396 1h0m0 0h0m161 0h0m38 0h0m25 0h0m57 0h0m24 0h0m-333 1h0m71 0h0m121 0h0m15 0h0m47 0h0m-248 1h0m65 0h0m117 0h0m4 0h0m103 0h0m50 0h0m19 0h0m-388 1h0m93 0h0m182 0h0m82 0h0m208 0h0m-539 1h0m68 0h0m122 0h0m39 0h0m9 0h0m80 0h0m53 0h0m67 1h0m-198 1h0m41 0h0m11 0h0m-302 1h0m208 0h0m64 0h0m0 1h0m94 0h0m-300 1h0m15 0h0m263 0h0m-345 1h0m78 0h0m4 0h0m121 0h0m48 0h0m21 0h0m30 0h0m-316 1h0m325 0h0m-319 1h0m362 0h0m-390 1h0m24 0h0m5 0h0m13 0h0m257 0h0m-264 1h0m17 0h0m52 0h0m169 0h0m30 0h0m44 0h0m4 0h0m153 0h0m-475 1h0m24 0h0m264 0h0m-294 1h0m27 0h0m246 0h0m46 0h0m-286 1h0m297 0h0m84 0h0m-453 1h0m66 0h0m4 0h0m249 0h0m-266 1h0m8 0h0m9 0h0m163 0h0m-11 1h0m0 0h0m113 0h0m28 0h0m6 0h0m185 0h0m-518 1h0m185 0h0m162 0h0m-342 1h0m23 0h0m174 0h0m-204 1h0m186 0h0m18 0h0m197 0h0m-437 1h0m30 0h0m16 0h0m193 0h0m141 0h0m-363 2h0m325 0h0m-337 1h0m18 0h0m214 0h0m55 0h0m1 0h0m-250 1h0m238 0h0m4 0h0m33 0h0m33 0h0m28 0h0m44 0h0m-432 1h0m20 0h0m368 0h0m11 0h0m-350 1h0m185 0h0m65 0h0m3 1h0m28 0h0m19 0h0m-296 1h0m326 0h0m53 0h0m177 0h0m-360 1h0m5 0h0m31 0h0m-255 1h0m335 0h0m-353 1h0m24 0h0m216 0h0m58 0h0m-290 1h0m24 0h0m197 0h0m-251 1h0m23 0h0m9 0h0m264 0h0m-239 1h0m185 0h0m1 0h0m-221 1h0m36 0h0m331 0h0m29 0h0m13 0h0m-168 1h0m54 0h0m-306 1h0m21 0h0m212 0h0m5 0h0m106 0h0m-83 1h0m37 0h0m10 0h0m-310 1h0m39 0h0m7 0h0m201 0h0m40 0h0m-43 1h0m96 0h0m25 0h0m-341 1h0m3 0h0m8 0h0m3 0h0m0 0h0m238 0h0m-256 1h0m0 0h0m26 0h0m186 0h0m6 0h0m32 0h0m39 0h0m19 0h0m72 0h0m-189 1h0m69 0h0m41 0h0m10 0h0m13 0h0m-69 1h0m27 1h0m98 0h0m-206 1h0m61 0h0m49 0h0m51 0h0m-342 1h0m252 0h0m48 0h0m29 0h0m20 0h0m9 0h0m-76 1h0m-301 1h0m5 0h0m9 1h0m70 0h0m13 0h0m165 0h0m39 0h0m44 0h0m-353 1h0m105 0h0m112 0h0m93 0h0m16 0h0m-222 1h0m3 0h0m2 0h0m83 0h0m3 0h0m3 0h0m13 0h0m124 0h0m41 0h0m-356 1h0m195 0h0m52 0h0m57 0h0m10 0h0m38 0h0m-344 1h0m2 0h0m190 0h0m-232 1h0m15 0h0m106 0h0m1 0h0m98 0h0m4 0h0m77 0h0m-188 1h0m102 0h0m10 0h0m3 0h0m61 0h0m6 0h0m-279 1h0m9 0h0m1 0h0m8 0h0m197 0h0m-229 1h0m248 0h0m-242 1h0m110 0h0m147 0h0m-149 1h0m100 0h0m11 0h0m-198 1h0m75 0h0m0 0h0m147 0h0m-147 1h0m3 0h0m150 0h0m-153 1h0m12 0h0m108 0h0m78 0h0m-293 1h0m272 0h0m-286 1h0m29 0h0m89 0h0m98 0h0m51 0h0m2 0h0m-253 1h0m280 1h0m-303 1h0m332 0h0m-111 1h0m2 0h0m50 0h0m5 0h0m-24 1h0m-248 1h0m217 0h0m-234 1h0m244 0h0m34 1h0m8 0h0m-267 1h0m221 0h0m27 0h0m-270 1h0m3 0h0m193 0h0m21 0h0m32 0h0m-66 1h0m65 0h0m-6 1h0m83 0h0m12 0h0m-324 1h0m1 0h0m186 0h0m24 0h0m72 0h0m21 0h0m-94 1h0m0 0h0m81 0h0m17 0h0m-112 1h0m20 0h0m16 0h0m9 0h0m30 0h0m112 1h0m-211 1h0m13 0h0m12 0h0m32 1h0m26 0h0m59 0h0m-143 1h0m124 0h0m-121 1h0m47 0h0m26 0h0m51 0h0m-299 1h0m144 0h0m5 0h0m134 0h0m8 0h0m24 0h0m-171 1h0m39 0h0m2 0h0m36 0h0m14 0h0m1 1h0m-262 1h0m225 0h0m-223 1h0m178 0h0m43 0h0m7 0h0m19 0h0m107 0h0m-331 1h0m156 0h0m45 0h0m-13 2h0m36 0h0m29 0h0m12 0h0m-287 1h0m19 0h0m180 0h0m31 0h0m35 0h0m-62 1h0m60 0h0m71 0h0m-340 1h0m1 1h0m25 0h0m156 0h0m148 0h0m-151 1h0m42 0h0m10 0h0m-229 1h0m13 0h0m13 0h0m146 0h0m31 0h0m344 0h0m-552 1h0m26 0h0m224 0h0m-251 1h0m29 0h0m3 0h0m153 0h0m21 0h0m-198 1h0m164 0h0m12 0h0m37 0h0m41 0h0m-264 1h0m0 0h0m174 0h0m22 0h0m-196 1h0m6 0h0m216 0h0m86 0h0m-304 1h0m27 0h0m171 0h0m21 0h0m-211 1h0m174 1h0m16 0h0m27 0h0m-232 1h0m181 0h0m-167 1h0m266 0h0m-277 1h0m4 0h0m191 1h0m58 1h0m-11 1h0m-254 1h0m3 0h0m15 0h0m199 0h0m-208 1h0m159 0h0m1 1h0m36 0h0m49 0h0m-253 1h0m177 0h0m10 0h0m-11 1h0m5 0h0m48 0h0m56 0h0m-145 1h0m143 0h0m-279 1h0m196 0h0m-20 1h0m-188 1h0m2 0h0m206 0h0m-205 1h0m7 0h0m5 0h0m147 0h0m59 0h0m61 0h0m14 0h0m50 0h0m-328 1h0m269 0h0m-273 1h0m207 0h0m2 0h0m-233 1h0m278 0h0m-103 1h0m182 0h0m-345 1h0m217 0h0m35 0h0m-32 1h0m-230 1h0m162 0h0m1 0h0m46 0h0m-206 1h0m162 0h0m95 0h0m-103 1h0m34 0h0m7 0h0m-191 1h0m-15 1h0m18 0h0m153 0h0m-172 1h0m2 0h0m6 0h0m164 0h0m-166 1h0m4 0h0m262 0h0m-270 1h0m167 0h0m-157 1h0m0 0h0m99 0h0m17 2h0m46 0h0m8 0h0m295 0h0m-473 1h0m128 0h0m26 0h0m114 0h0m-276 1h0m19 0h0m-9 1h0m165 0h0m13 0h0m169 0h0m-363 1h0m0 0h0m5 0h0m15 0h0m128 0h0m31 0h0m9 0h0m3 0h0m38 0h0m-101 1h0m67 0h0m-37 1h0m39 0h0m137 0h0m31 0h0m-355 1h0m2 0h0m124 0h0m0 1h0m12 0h0m10 0h0m422 0h0m-461 1h0m8 0h0m120 1h0m-109 1h0m18 0h0m17 0h0m30 0h0m-81 1h0m19 0h0m5 0h0m25 0h0m28 0h0m-199 1h0m140 0h0m27 0h0m-159 1h0m3 0h0m128 0h0m11 0h0m31 0h0m-188 1h0m175 0h0m30 0h0m-202 2h0m10 0h0m3 0h0m145 0h0m-150 1h0m-16 1h0m11 0h0m-12 2h0m0 0h0m0 0h0m8 1h0m150 0h0m-17 1h0m-135 1h0m1 0h0m149 0h0m-164 1h0m146 0h0m5 0h0m-133 1h0m126 0h0m37 0h0m-158 1h0m-26 1h0m18 0h0m5 0h0m1 1h0m174 0h0m-196 1h0m1 0h0m3 0h0m144 0h0m-150 1h0m11 0h0m4 0h0m138 1h0m115 0h0m-262 1h0m161 0h0m124 0h0m-296 1h0m135 0h0m2 0h0m-135 1h0m9 0h0m122 0h0m-130 1h0m133 0h0m9 0h0m-147 1h0m8 0h0m0 0h0m-6 1h0m5 1h0m2 0h0m145 0h0m41 0h0m44 0h0m-233 1h0m5 0h0m-8 1h0m6 0h0m1 0h0m1 0h0m4 0h0m240 0h0m-260 1h0m1 0h0m6 0h0m-2 1h0m8 0h0m235 0h0m-252 1h0m5 0h0m109 0h0m71 0h0m26 0h0m-194 1h0m-9 1h0m107 0h0m65 0h0m-12 1h0m-172 1h0m7 0h0m11 1h0m-14 1h0m1 0h0m1 0h0m5 0h0m123 0h0m158 0h0m-293 1h0m2 0h0m103 0h0m24 0h0m-133 1h0m6 0h0m4 0h0m8 0h0m0 0h0m2 0h0m96 0h0m143 0h0m-258 1h0m7 0h0m6 0h0m108 0h0m11 0h0m-131 1h0m1 1h0m2 0h0m2 0h0m89 0h0m28 0h0m5 0h0m6 0h0m-137 1h0m1 0h0m14 0h0m86 0h0m62 0h0m68 0h0m-234 1h0m8 0h0m9 0h0m86 0h0m8 0h0m-92 1h0m116 0h0m-133 1h0m12 0h0m167 0h0m-181 1h0m3 0h0m3 0h0m116 0h0m2 0h0m-118 1h0m462 0h0m-453 1h0m96 0h0m-101 1h0m-13 1h0m1 1h0m4 0h0m2 0h0m11 0h0m-18 1h0m1 0h0m139 0h0m-145 1h0m2 0h0m0 0h0m101 1h0m-98 1h0m5 0h0m1 0h0m101 0h0m9 0h0m7 0h0m-132 1h0m6 0h0m2 0h0m108 0h0m-118 1h0m143 0h0m-142 1h0m2 0h0m1 0h0m0 0h0m125 0h0m-122 1h0m2 0h0m8 0h0m-20 1h0m2 0h0m12 0h0m6 0h0m342 0h0m-342 1h0m100 0h0m-114 1h0m9 0h0m2 0h0m2 0h0m-17 1h0m9 0h0m4 0h0m-3 1h0m216 0h0m-221 1h0m2 0h0m5 0h0m-20 1h0m1 0h0m5 0h0m5 0h0m-8 1h0m5 0h0m1 0h0m6 0h0m6 0h0m-18 1h0m1 0h0m1 0h0m3 0h0m4 0h0m131 0h0m-146 1h0m3 0h0m2 0h0m116 0h0m49 0h0m-160 1h0m5 0h0m1 0h0m1 0h0m-12 1h0m127 0h0m14 0h0m-143 1h0m10 0h0m110 0h0m-111 1h0m104 0h0m-121 1h0m1 0h0m12 0h0m-12 1h0m10 0h0m109 0h0m24 0h0m-145 1h0m4 0h0m0 0h0m9 0h0m4 0h0m-14 1h0m4 0h0m7 0h0m-7 1h0m8 1h0m-16 1h0m119 0h0m-118 1h0m9 0h0m6 0h0m80 0h0m-94 1h0m4 0h0m81 0h0m13 0h0m-100 1h0m2 0h0m2 0h0m-6 1h0m7 0h0m-12 1h0m16 0h0m-18 1h0m7 0h0m9 0h0m91 0h0m22 0h0m-131 1h0m17 0h0m100 0h0m-109 1h0m5 0h0m10 0h0m-10 1h0m16 0h0m11 0h0m43 0h0m1 0h0m-66 1h0m10 0h0m7 0h0m2 0h0m9 0h0m4 0h0m57 0h0m-97 1h0m0 0h0m32 0h0m3 1h0m37 0h0m-76 1h0m3 0h0m41 0h0m1 0h0m-50 1h0m44 0h0m41 0h0" fill="none" stroke="#1f77b4" stroke-opacity="0.75" stroke-width="8.8" stroke-linecap="round"/><path transform="scale(0.25)" d="M4319 141h0m10 3h0m-21 1h0m22 2h0m-25 5h0m21 1h0m-27 10h0m14 0h0m14 3h0m-2 8h0m-12 4h0m20 1h0m-65 1h0m10 0h0m31 0h0m7 0h0m8 2h0m-48 4h0m39 5h0m-20 3h0m19 0h0m2 1h0m7 0h0m13 2h0m-31 1h0m14 0h0m10 0h0m-49 3h0m40 1h0m-2 1h0m13 1h0m-37 1h0m6 0h0m29 0h0m-32 3h0m-3 1h0m20 0h0m4 1h0m-22 1h0m-16 2h0m27 2h0m16 0h0m8 0h0m-50 2h0m23 0h0m11 0h0m-7 1h0m5 1h0m-13 1h0m-7 1h0m18 2h0m-29 1h0m21 0h0m-8 3h0m17 1h0m15 1h0m11 0h0m-55 1h0m35 3h0m15 0h0m-30 1h0m12 2h0m-33 1h0m25 1h0m10 0h0m-31 1h0m44 0h0m-54 1h0m60 0h0m-103 2h0m100 0h0m-82 1h0m69 0h0m18 0h0m-75 1h0m52 0h0m6 0h0m-32 1h0m-38 1h0m21 0h0m43 0h0m18 0h0m-35 1h0m27 0h0m-72 2h0m39 0h0m7 0h0m-57 1h0m57 0h0m-36 1h0m43 0h0m2 0h0m5 0h0m11 0h0m9 0h0m-63 3h0m9 0h0m56 0h0m-73 1h0m70 0h0m-34 2h0m3 1h0m35 1h0m-35 2h0m-72 1h0m43 0h0m2 0h0m30 0h0m10 0h0m-38 1h0m22 3h0m-36 1h0m71 0h0m-61 1h0m-36 1h0m68 0h0m17 0h0m2 0h0m11 0h0m-66 1h0m13 0h0m36 0h0m18 0h0m-99 1h0m58 0h0m18 0h0m-63 1h0m12 0h0m76 0h0m-57 1h0m7 2h0m18 0h0m23 0h0m-43 1h0m-47 1h0m74 1h0m27 0h0m-17 1h0m-53 1h0m50 0h0m19 0h0m0 0h0m-43 2h0m-38 1h0m30 0h0m20 0h0m-32 1h0m55 0h0m-37 1h0m37 0h0m-48 1h0m7 0h0m49 0h0m-24 1h0m-38 1h0m22 0h0m-54 2h0m1 0h0m45 0h0m13 0h0m-64 1h0m46 0h0m2 1h0m-42 1h0m35 0h0m26 0h0m30 1h0m-31 1h0m34 0h0m-56 1h0m2 0h0m3 0h0m18 1h0m-60 1h0m31 0h0m22 0h0m-85 1h0m34 0h0m24 0h0m18 0h0m-49 1h0m18 0h0m17 0h0m7 0h0m3 0h0m21 0h0m-25 1h0m-36 1h0m7 0h0m33 0h0m2 0h0m-27 1h0m39 0h0m2 0h0m-38 1h0m3 0h0m30 1h0m1 0h0m-22 2h0m29 2h0m-4 1h0m32 1h0m-81 1h0m-10 1h0m25 1h0m66 2h0m6 1h0m-95 1h0m18 1h0m-5 1h0m13 0h0m-80 3h0m144 0h0m-82 1h0m8 2h0m-22 1h0m-9 1h0m29 1h0m-11 1h0m6 3h0m83 0h0m-3 1h0m-94 2h0m20 1h0m-8 1h0m86 1h0m-147 2h0m22 1h0m20 0h0m17 0h0m5 0h0m-75 1h0m42 2h0m117 0h0m-90 1h0m0 2h0m-24 1h0m113 1h0m-158 1h0m51 0h0m5 2h0m18 1h0m-31 1h0m-11 1h0m-4 1h0m19 0h0m9 0h0m5 0h0m7 1h0m-9 1h0m21 1h0m-35 1h0m114 0h0m-88 1h0m-52 1h0m21 0h0m26 0h0m1 0h0m20 0h0m-99 1h0m66 0h0m19 0h0m-110 4h0m62 1h0m62 0h0m-37 1h0m11 0h0m19 0h0m1 0h0m-45 1h0m-29 1h0m65 0h0m86 0h0m-118 1h0m30 0h0m1 0h0m-15 1h0m31 0h0m-19 1h0m9 0h0m82 0h0m-136 1h0m5 0h0m48 0h0m9 2h0m-67 1h0m57 1h0m-52 1h0m16 0h0m18 0h0m102 0h0m0 0h0m-139 1h0m-8 1h0m55 0h0m90 0h0m-97 1h0m6 0h0m-47 1h0m37 0h0m-2 1h0m-33 1h0m23 0h0m3 0h0m4 0h0m-4 1h0m5 1h0m106 0h0m-139 3h0m141 0h0m-114 1h0m5 0h0m8 0h0m100 0h0m-123 2h0m2 0h0m-47 1h0m7 0h0m49 0h0m-72 1h0m77 1h0m105 0h0m-121 1h0m19 0h0m1 0h0m-48 1h0m49 0h0m-30 1h0m8 0h0m18 1h0m-39 1h0m5 0h0m33 0h0m4 0h0m-65 1h0m48 1h0m15 0h0m-39 1h0m25 0h0m-56 3h0m-35 1h0m86 0h0m-66 1h0m78 0h0m-13 1h0m-63 1h0m27 0h0m4 1h0m55 0h0m-79 1h0m37 0h0m2 0h0m43 0h0m-6 2h0m-45 1h0m1 0h0m-40 1h0m54 1h0m-36 3h0m2 0h0m21 0h0m5 0h0m11 0h0m20 0h0m4 0h0m10 0h0m97 1h0m-187 1h0m68 0h0m9 0h0m110 0h0m1 0h0m-131 1h0m6 0h0m13 1h0m18 0h0m-70 1h0m26 0h0m30 0h0m-73 1h0m25 0h0m155 0h0m-187 1h0m24 0h0m34 0h0m-89 1h0m23 0h0m91 0h0m-65 1h0m79 0h0m1 0h0m-39 1h0m35 0h0m-115 1h0m40 0h0m4 0h0m43 0h0m-107 1h0m22 0h0m95 0h0m15 0h0m-42 1h0m44 0h0m-68 1h0m9 0h0m7 0h0m29 0h0m18 0h0m-75 1h0m49 0h0m-82 1h0m60 0h0m39 0h0m18 0h0m90 1h0m2 0h0m-138 1h0m48 0h0m-62 1h0m21 0h0m16 1h0m-141 1h0m31 0h0m33 0h0m52 0h0m-109 1h0m93 0h0m156 0h0m-192 1h0m82 0h0m-2 1h0m-50 1h0m32 0h0m24 0h0m13 0h0m-139 1h0m59 0h0m49 0h0m5 0h0m-20 1h0m54 0h0m-39 1h0m41 0h0m-6 1h0m-110 1h0m44 0h0m6 0h0m56 0h0m-6 2h0m-161 1h0m100 0h0m1 0h0m0 0h0m65 0h0m-125 1h0m17 0h0m23 0h0m12 0h0m33 0h0m35 0h0m15 0h0m-92 2h0m18 0h0m-28 2h0m17 0h0m11 0h0m20 0h0m48 0h0m1 0h0m-105 1h0m4 0h0m19 0h0m75 0h0m6 0h0m-64 2h0m9 0h0m53 0h0m4 0h0m-185 1h0m106 0h0m-29 1h0m6 0h0m16 1h0m32 0h0m8 1h0m0 0h0m16 0h0m-16 1h0m0 2h0m-101 1h0m52 0h0m35 0h0m40 1h0m106 0h0m-197 1h0m-8 1h0m11 0h0m79 0h0m-51 1h0m62 0h0m-96 1h0m32 0h0m59 0h0m105 0h0m-183 1h0m187 0h0m-178 1h0m17 0h0m21 0h0m30 0h0m106 0h0m-285 1h0m71 0h0m109 0h0m108 0h0m-169 1h0m8 0h0m-63 1h0m93 0h0m22 0h0m-91 1h0m3 0h0m82 1h0m-169 1h0m112 0h0m58 0h0m1 0h0m-47 1h0m34 0h0m-76 1h0m5 0h0m19 0h0m26 0h0m-37 1h0m30 0h0m15 0h0m4 0h0m29 0h0m-106 1h0m105 0h0m-116 1h0m2 0h0m9 0h0m84 0h0m-77 1h0m51 0h0m46 0h0m-124 1h0m77 0h0m159 0h0m2 0h0m-155 1h0m13 0h0m-112 1h0m15 0h0m111 0h0m5 0h0m7 0h0m114 0h0m-134 1h0m17 0h0m119 0h0m-159 1h0m21 0h0m140 0h0m-148 1h0m-53 1h0m33 0h0m24 0h0m140 0h0m-194 2h0m17 0h0m16 0h0m0 0h0m158 0h0m-160 1h0m3 0h0m1 0h0m-47 1h0m44 0h0m-36 1h0m200 0h0m-175 2h0m-55 1h0m-27 1h0m41 0h0m217 1h0m-245 1h0m122 0h0m121 0h0m-159 1h0m41 0h0m-80 1h0m14 0h0m6 0h0m11 0h0m43 0h0m-7 1h0m-151 1h0m159 0h0m-183 1h0m131 0h0m2 0h0m174 0h0m-212 1h0m5 0h0m31 0h0m16 0h0m-102 1h0m34 0h0m41 0h0m63 0h0m124 0h0m-232 2h0m54 0h0m53 0h0m0 0h0m5 0h0m0 0h0m-124 1h0m16 0h0m32 0h0m35 0h0m27 0h0m15 0h0m1 0h0m-199 1h0m114 0h0m42 0h0m1 0h0m33 1h0m-203 1h0m92 0h0m53 0h0m1 0h0m60 0h0m-110 1h0m48 0h0m186 0h0m-185 1h0m61 0h0m6 0h0m-219 1h0m90 0h0m11 0h0m41 0h0m74 0h0m-177 1h0m33 0h0m94 0h0m44 1h0m127 0h0m-248 1h0m39 0h0m85 0h0m-170 1h0m88 0h0m16 0h0m191 0h0m-248 1h0m73 0h0m1 0h0m-129 1h0m109 1h0m6 0h0m-60 1h0m63 0h0m-90 1h0m1 0h0m61 0h0m15 0h0m-82 1h0m27 0h0m40 0h0m30 1h0m-95 1h0m17 0h0m59 0h0m203 0h0m-289 2h0m60 0h0m49 0h0m12 0h0m-28 2h0m-80 1h0m113 0h0m-193 1h0m81 0h0m62 0h0m212 0h0m-191 1h0m191 0h0m-279 1h0m69 0h0m26 0h0m-69 1h0m37 0h0m82 1h0m-119 1h0m29 0h0m47 0h0m9 0h0m-30 1h0m10 0h0m28 0h0m-53 1h0m1 0h0m81 0h0m125 0h0m-205 1h0m34 0h0m42 0h0m130 0h0m0 0h0m-153 1h0m-128 1h0m10 0h0m26 0h0m31 0h0m88 0h0m-152 1h0m40 0h0m24 0h0m13 0h0m9 0h0m193 0h0m-337 1h0m103 0h0m8 0h0m50 0h0m43 0h0m-187 1h0m41 0h0m-39 1h0m147 0h0m37 0h0m-99 1h0m-48 1h0m148 0h0m-90 1h0m11 0h0m0 0h0m-54 1h0m55 0h0m7 0h0m70 0h0m3 0h0m-142 1h0m49 0h0m-114 1h0m80 0h0m7 0h0m17 0h0m8 0h0m36 0h0m-111 1h0m36 0h0m17 0h0m44 0h0m-74 1h0m-70 1h0m94 0h0m73 0h0m3 0h0m181 0h0m-306 1h0m75 0h0m-110 1h0m145 0h0m21 0h0m-213 1h0m206 0h0m2 0h0m-68 1h0m77 0h0m172 0h0m-357 1h0m130 0h0m31 0h0m195 0h0m-270 1h0m37 0h0m12 1h0m-121 1h0m140 0h0m22 0h0m7 0h0m-50 1h0m19 0h0m-102 1h0m17 0h0m12 0h0m52 0h0m14 0h0m11 0h0m197 0h0m2 0h0m-186 1h0m37 0h0m-57 1h0m8 0h0m201 0h0m-185 1h0m10 0h0m172 0h0m1 0h0m-309 1h0m16 0h0m89 0h0m24 0h0m28 0h0m-93 1h0m21 0h0m15 0h0m1 0h0m4 1h0m18 0h0m9 0h0m27 0h0m-140 1h0m54 0h0m68 0h0m1 0h0m-120 1h0m11 0h0m14 0h0m8 0h0m-106 1h0m64 0h0m28 0h0m12 0h0m12 0h0m27 0h0m30 0h0m-117 1h0m52 0h0m44 0h0m11 0h0m-117 1h0m71 0h0m58 0h0m-30 1h0m50 0h0m11 0h0m154 0h0m-347 1h0m62 0h0m4 0h0m-61 1h0m49 0h0m32 0h0m58 0h0m4 0h0m-159 1h0m5 0h0m92 0h0m55 0h0m13 0h0m27 0h0m164 0h0m-369 1h0m19 0h0m21 0h0m38 0h0m80 0h0m8 0h0m205 0h0m-300 1h0m96 0h0m5 0h0m38 0h0m-215 1h0m164 0h0m60 0h0m147 0h0m-258 1h0m13 0h0m3 0h0m49 0h0m48 0h0m143 0h0m8 0h0m-293 1h0m66 0h0m32 0h0m50 0h0m123 0h0m9 0h0m12 0h0m-282 1h0m135 0h0m126 0h0m19 1h0m-408 1h0m60 0h0m348 0h0m-306 1h0m82 0h0m16 0h0m10 0h0m51 0h0m7 0h0m133 0h0m-279 1h0m129 0h0m153 0h0m5 0h0m-328 1h0m27 0h0m12 0h0m17 0h0m132 0h0m-186 1h0m39 0h0m132 0h0m7 0h0m149 0h0m-269 1h0m50 0h0m60 0h0m10 0h0m135 0h0m3 0h0m5 0h0m8 0h0m-333 1h0m173 0h0m-168 1h0m118 0h0m3 0h0m61 0h0m128 0h0m-364 1h0m15 0h0m70 0h0m30 0h0m22 0h0m97 0h0m-174 1h0m66 0h0m4 0h0m91 0h0m144 0h0m-358 1h0m109 0h0m3 0h0m2 0h0m241 0h0m1 0h0m-317 1h0m9 0h0m17 0h0m95 0h0m2 0h0m-58 1h0m16 0h0m235 0h0m-318 1h0m104 0h0m0 0h0m14 0h0m-115 1h0m52 0h0m2 0h0m8 0h0m18 0h0m11 0h0m243 0h0m-464 1h0m160 0h0m65 0h0m-142 1h0m16 0h0m69 0h0m11 0h0m25 0h0m16 0h0m15 0h0m69 2h0m-130 1h0m16 0h0m46 0h0m1 0h0m19 0h0m-108 1h0m52 0h0m33 0h0m4 0h0m60 0h0m2 0h0m-226 1h0m105 0h0m-23 1h0m34 0h0m13 0h0m50 0h0m-120 1h0m47 0h0m17 0h0m50 0h0m217 0h0m-337 1h0m35 0h0m4 0h0m85 0h0m48 0h0m4 0h0m-204 1h0m113 0h0m254 0h0m-471 1h0m157 0h0m137 0h0m13 0h0m-110 1h0m-89 1h0m32 0h0m37 0h0m138 0h0m-178 1h0m3 0h0m6 0h0m66 0h0m81 0h0m-107 1h0m11 0h0m251 0h0m-281 1h0m25 0h0m24 0h0m3 0h0m85 0h0m-191 1h0m27 0h0m303 0h0m-425 1h0m235 0h0m61 0h0m-77 1h0m9 0h0m-235 1h0m205 0h0m28 0h0m66 0h0m138 0h0m-352 1h0m4 0h0m371 0h0m-281 1h0m6 0h0m118 0h0m152 0h0m-391 1h0m91 0h0m28 0h0m0 0h0m39 0h0m79 0h0m82 0h0m49 0h0m1 0h0m-256 1h0m4 0h0m1 0h0m24 0h0m1 0h0m17 0h0m14 0h0m-283 1h0m269 0h0m81 0h0m118 0h0m11 0h0m1 0h0m-284 1h0m35 0h0m111 0h0m26 0h0m71 0h0m-392 1h0m94 0h0m67 0h0m39 0h0m92 0h0m97 0h0m32 0h0m7 0h0m22 0h0m7 0h0m-412 1h0m117 0h0m10 0h0m115 0h0m8 0h0m7 0h0m2 0h0m5 0h0m117 0h0m-302 1h0m196 0h0m4 0h0m64 0h0m-240 1h0m46 0h0m109 0h0m-288 1h0m93 0h0m47 0h0m7 0h0m1 0h0m-78 1h0m145 0h0m102 0h0m45 0h0m76 0h0m-328 1h0m40 0h0m57 0h0m7 0h0m79 0h0m77 0h0m62 0h0m-436 1h0m44 0h0m88 0h0m91 0h0m156 1h0m51 0h0m7 0h0m-341 1h0m15 0h0m9 0h0m39 0h0m157 0h0m114 0h0m-361 1h0m30 0h0m113 0h0m6 0h0m60 0h0m6 0h0m22 0h0m73 0h0m67 0h0m-391 1h0m6 0h0m167 0h0m70 0h0m0 0h0m74 0h0m0 0h0m-368 1h0m76 0h0m6 0h0m3 0h0m2 0h0m47 0h0m17 0h0m123 0h0m13 0h0m90 0h0m-316 1h0m30 0h0m126 0h0m96 0h0m-203 1h0m168 0h0m5 0h0m27 0h0m50 0h0m12 0h0m-373 1h0m220 0h0m143 0h0m12 0h0m-358 1h0m3 0h0m48 0h0m75 0h0m152 0h0m10 0h0m6 0h0m-335 1h0m107 0h0m17 0h0m15 0h0m5 0h0m242 0h0m47 0h0m18 0h0m-342 1h0m29 0h0m6 0h0m2 0h0m24 0h0m219 0h0m-259 1h0m9 0h0m41 0h0m1 0h0m108 0h0m6 0h0m106 0h0m46 0h0m15 0h0m-333 1h0m180 0h0m0 0h0m137 0h0m1 0h0m-402 1h0m24 0h0m2 0h0m8 0h0m73 0h0m293 0h0m1 0h0m-378 1h0m28 0h0m58 0h0m-76 1h0m57 0h0m6 0h0m105 0h0m131 0h0m79 0h0m-423 1h0m80 0h0m63 0h0m78 0h0m-132 1h0m3 0h0m11 0h0m25 0h0m196 0h0m105 0h0m-445 1h0m5 0h0m162 0h0m78 0h0m37 0h0m9 0h0m158 0h0m-307 1h0m97 0h0m5 0h0m23 0h0m26 0h0m68 0h0m-313 1h0m228 0h0m119 0h0m10 0h0m28 0h0m10 0h0m2 0h0m-358 1h0m2 0h0m168 0h0m38 0h0m69 0h0m-262 1h0m30 0h0m117 0h0m28 0h0m74 0h0m50 0h0m0 0h0m26 0h0m-393 1h0m102 0h0m137 0h0m46 0h0m-331 1h0m111 0h0m4 0h0m122 0h0m54 0h0m79 0h0m6 0h0m5 0h0m10 0h0m58 0h0m-363 1h0m32 0h0m220 0h0m33 0h0m11 0h0m-230 1h0m111 0h0m21 0h0m78 0h0m-345 1h0m6 0h0m76 0h0m163 0h0m23 0h0m97 0h0m36 0h0m-302 1h0m6 0h0m11 0h0m22 0h0m81 0h0m16 0h0m111 0h0m78 0h0m-397 1h0m226 0h0m5 0h0m17 0h0m41 0h0m80 0h0m2 0h0m23 0h0m-376 1h0m8 0h0m178 0h0m25 0h0m80 0h0m1 0h0m63 0h0m-453 1h0m98 0h0m62 0h0m54 0h0m2 0h0m128 0h0m24 0h0m74 0h0m-402 1h0m62 0h0m7 0h0m13 0h0m203 0h0m8 0h0m41 0h0m2 0h0m15 0h0m45 0h0m2 0h0m13 0h0m27 0h0m-371 1h0m197 0h0m20 0h0m3 0h0m6 0h0m32 0h0m2 0h0m28 0h0m7 0h0m8 0h0m38 0h0m15 0h0m-369 1h0m6 0h0m54 0h0m14 0h0m52 0h0m158 0h0m67 0h0m23 0h0m-381 1h0m48 0h0m36 0h0m113 0h0m15 0h0m7 0h0m28 0h0m73 0h0m11 0h0m9 0h0m17 0h0m3 0h0m-324 1h0m13 0h0m11 0h0m3 0h0m74 0h0m2 0h0m28 0h0m103 0h0m25 0h0m22 0h0m64 0h0m10 0h0m-460 1h0m124 0h0m25 0h0m61 0h0m129 0h0m97 0h0m-397 1h0m68 0h0m4 0h0m43 0h0m125 0h0m-286 1h0m27 0h0m48 0h0m138 0h0m2 0h0m79 0h0m12 0h0m45 0h0m17 0h0m19 0h0m51 0h0m8 0h0m-420 1h0m30 0h0m160 0h0m82 0h0m122 0h0m-389 1h0m65 0h0m6 0h0m136 0h0m89 0h0m18 0h0m14 0h0m59 0h0m8 0h0m29 0h0m10 0h0m-389 1h0m12 0h0m11 0h0m51 0h0m52 0h0m11 0h0m90 0h0m84 0h0m3 0h0m19 0h0m54 0h0m-456 1h0m26 0h0m40 0h0m14 0h0m32 0h0m17 0h0m45 0h0m23 0h0m109 0h0m75 0h0m1 0h0m50 0h0m3 0h0m-440 1h0m210 0h0m39 0h0m86 0h0m18 0h0m18 0h0m46 0h0m-420 1h0m32 0h0m26 0h0m26 0h0m25 0h0m16 0h0m126 0h0m138 0h0m15 0h0m-266 1h0m15 0h0m2 0h0m36 0h0m9 0h0m4 0h0m8 0h0m38 0h0m61 0h0m19 0h0m1 0h0m17 0h0m51 0h0m27 0h0m61 0h0m-421 1h0m10 0h0m16 0h0m34 0h0m4 0h0m40 1h0m85 0h0m0 0h0m126 0h0m14 0h0m65 0h0m1 0h0m0 0h0m-478 1h0m115 0h0m22 0h0m62 0h0m24 0h0m16 0h0m79 0h0m0 0h0m113 0h0m5 0h0m-313 1h0m29 0h0m10 0h0m15 0h0m22 0h0m41 0h0m10 0h0m29 0h0m-202 1h0m60 0h0m31 0h0m47 0h0m36 0h0m88 0h0m-249 1h0m16 0h0m60 0h0m34 0h0m41 0h0m10 0h0m107 0h0m77 0h0m10 0h0m14 0h0m-448 1h0m16 0h0m84 0h0m43 0h0m14 0h0m84 0h0m77 0h0m45 0h0m38 0h0m9 0h0m61 0h0m-385 1h0m69 0h0m50 0h0m51 0h0m78 0h0m11 0h0m34 0h0m66 0h0m0 0h0m-376 1h0m16 0h0m51 0h0m144 0h0m41 0h0m4 0h0m13 0h0m138 0h0m-397 1h0m35 0h0m72 0h0m22 0h0m7 0h0m72 0h0m8 0h0m92 0h0m25 0h0m20 0h0m2 0h0m54 0h0m-420 1h0m66 0h0m27 0h0m25 0h0m15 0h0m79 0h0m16 0h0m59 0h0m10 0h0m94 0h0m2 0h0m27 0h0m4 0h0m-517 1h0m104 0h0m9 0h0m59 0h0m7 0h0m53 0h0m29 0h0m91 0h0m26 0h0m61 0h0m49 0h0m12 0h0m-387 1h0m24 0h0m13 0h0m57 0h0m1 0h0m2 0h0m83 0h0m9 0h0m51 0h0m32 0h0m81 0h0m49 0h0m-485 1h0m81 0h0m51 0h0m0 0h0m1 0h0m24 0h0m206 0h0m8 0h0m21 0h0m63 0h0m8 0h0m-447 1h0m181 0h0m137 0h0m17 0h0m30 0h0m26 0h0m15 0h0m-291 1h0m46 0h0m6 0h0m19 0h0m19 0h0m-239 1h0m6 0h0m120 0h0m100 0h0m4 0h0m38 0h0m5 0h0m62 0h0m17 0h0m6 0h0m44 0h0m28 0h0m66 0h0m-422 1h0m4 0h0m6 0h0m57 0h0m3 0h0m60 0h0m65 0h0m38 0h0m97 0h0m1 0h0m82 0h0m-497 1h0m17 0h0m11 0h0m13 0h0m118 0h0m11 0h0m125 0h0m27 0h0m36 0h0m26 0h0m10 0h0m39 0h0m30 0h0m19 0h0m-390 1h0m147 0h0m11 0h0m109 0h0m11 0h0m49 0h0m34 0h0m-374 1h0m69 0h0m0 0h0m8 0h0m45 0h0m79 0h0m61 0h0m17 0h0m89 0h0m5 0h0m40 0h0m-407 1h0m52 0h0m36 0h0m12 0h0m57 0h0m0 0h0m33 0h0m165 0h0m-374 1h0m24 0h0m79 0h0m79 0h0m48 0h0m3 0h0m34 0h0m9 0h0m38 0h0m20 0h0m12 0h0m12 0h0m-335 1h0m4 0h0m80 0h0m54 0h0m1 0h0m100 0h0m44 0h0m33 0h0m19 0h0m6 0h0m6 0h0m69 0h0m-537 1h0m328 0h0m31 0h0m37 0h0m-300 1h0m9 0h0m110 0h0m1 0h0m58 0h0m4 0h0m74 0h0m40 0h0m34 0h0m14 0h0m-246 1h0m26 0h0m0 0h0m42 0h0m1 0h0m164 0h0m3 0h0m115 0h0m-462 1h0m102 0h0m1 0h0m35 0h0m154 0h0m-326 1h0m35 0h0m36 0h0m40 0h0m10 0h0m34 0h0m9 0h0m96 0h0m93 0h0m45 0h0m-340 1h0m62 0h0m123 0h0m76 0h0m54 0h0m111 0h0m-525 1h0m23 0h0m95 0h0m18 0h0m55 0h0m66 0h0m111 0h0m7 0h0m69 0h0m18 0h0m40 0h0m-441 1h0m21 0h0m20 0h0m6 0h0m1 0h0m9 0h0m57 0h0m30 0h0m55 0h0m28 0h0m63 0h0m159 0h0m-364 1h0m15 0h0m53 0h0m0 0h0m79 0h0m3 0h0m14 0h0m32 0h0m22 0h0m33 0h0m29 0h0m-352 1h0m130 0h0m145 0h0m38 0h0m88 0h0m50 0h0m-496 1h0m35 0h0m3 0h0m278 0h0m22 0h0m47 0h0m17 0h0m39 0h0m42 0h0m-435 1h0m121 0h0m14 0h0m96 0h0m125 0h0m15 0h0m-447 1h0m34 0h0m56 0h0m4 0h0m59 0h0m154 0h0m64 0h0m42 0h0m17 0h0m3 0h0m15 0h0m-356 1h0m106 0h0m15 0h0m51 0h0m12 0h0m-199 1h0m6 0h0m68 0h0m63 0h0m101 0h0m130 0h0m-471 1h0m13 0h0m97 0h0m199 0h0m3 0h0m11 0h0m42 0h0m25 0h0m6 0h0m4 0h0m-336 1h0m79 0h0m82 0h0m130 0h0m11 0h0m75 0h0m34 0h0m-297 1h0m5 0h0m11 0h0m156 0h0m11 0h0m41 0h0m18 0h0m33 0h0m52 0h0m10 0h0m-495 1h0m79 0h0m75 0h0m168 0h0m24 0h0m25 0h0m9 0h0m-364 1h0m16 0h0m15 0h0m123 0h0m113 0h0m44 0h0m9 0h0m18 0h0m91 0h0m-297 1h0m2 0h0m101 0h0m79 0h0m50 0h0m37 0h0m19 0h0m82 0h0m26 0h0m-502 1h0m23 0h0m4 0h0m50 0h0m8 0h0m47 0h0m134 0h0m7 0h0m51 0h0m172 0h0m-395 1h0m34 0h0m125 0h0m44 0h0m38 0h0m3 0h0m19 0h0m37 0h0m-455 1h0m106 0h0m49 0h0m15 0h0m82 0h0m4 0h0m301 0h0m-514 1h0m14 0h0m8 0h0m6 0h0m25 0h0m13 0h0m29 0h0m25 0h0m23 0h0m114 0h0m14 0h0m159 0h0m-459 1h0m26 0h0m22 0h0m29 0h0m19 0h0m78 0h0m153 0h0m-287 1h0m214 0h0m30 0h0m128 0h0m-414 1h0m62 0h0m0 0h0m10 0h0m20 0h0m49 0h0m28 0h0m10 0h0m70 0h0m22 0h0m125 0h0m45 0h0m46 0h0m-447 1h0m19 0h0m26 0h0m34 0h0m2 0h0m54 0h0m176 0h0m4 0h0m136 0h0m38 0h0m-350 1h0m36 0h0m28 0h0m35 0h0m106 0h0m4 0h0m-334 1h0m94 0h0m4 0h0m11 0h0m133 0h0m33 0h0m110 0h0m-405 1h0m13 0h0m15 0h0m5 0h0m9 0h0m13 0h0m34 0h0m93 0h0m4 0h0m59 0h0m-293 1h0m53 0h0m59 0h0m144 0h0m62 0h0m7 0h0m56 0h0m77 0h0m32 0h0m65 0h0m-544 1h0m109 0h0m42 0h0m17 0h0m65 0h0m92 0h0m12 0h0m-284 1h0m69 0h0m26 0h0m6 0h0m11 0h0m63 0h0m83 0h0m8 0h0m150 0h0m-421 1h0m73 0h0m22 0h0m9 0h0m11 0h0m79 0h0m22 0h0m48 0h0m9 0h0m45 0h0m3 0h0m39 0h0m6 0h0m-380 1h0m14 0h0m5 0h0m17 0h0m6 0h0m71 0h0m35 0h0m75 0h0m7 0h0m68 0h0m11 0h0m12 0h0m13 0h0m-330 1h0m47 0h0m7 0h0m34 0h0m271 0h0m114 0h0m-404 1h0m1 0h0m36 0h0m272 0h0m100 0h0m-418 1h0m7 0h0m18 0h0m22 0h0m105 0h0m55 0h0m11 0h0m93 0h0m69 0h0m-419 1h0m54 0h0m2 0h0m194 0h0m42 0h0m16 0h0m55 0h0m-423 1h0m94 0h0m28 0h0m27 0h0m42 0h0m12 0h0m4 0h0m7 0h0m65 0h0m6 0h0m90 0h0m-347 1h0m87 0h0m2 0h0m19 0h0m6 0h0m89 0h0m4 0h0m34 0h0m10 0h0m65 0h0m12 0h0m70 0h0m20 0h0m51 0h0m-450 1h0m15 0h0m73 0h0m71 0h0m20 0h0m28 0h0m58 0h0m83 0h0m30 0h0m26 0h0m-459 1h0m80 0h0m6 0h0m37 0h0m187 0h0m4 0h0m5 0h0m-262 1h0m30 0h0m108 0h0m60 0h0m32 0h0m113 0h0m32 0h0m10 0h0m-393 1h0m19 0h0m27 0h0m4 0h0m19 0h0m167 0h0m59 0h0m66 0h0m87 0h0m-478 1h0m13 0h0m115 0h0m48 0h0m21 0h0m4 0h0m64 0h0m168 0h0m-405 1h0m3 0h0m5 0h0m14 0h0m4 0h0m34 0h0m9 0h0m28 0h0m28 0h0m56 0h0m47 0h0m1 0h0m9 0h0m102 0h0m15 0h0m116 0h0m-444 1h0m29 0h0m87 0h0m27 0h0m28 0h0m23 0h0m12 0h0m33 0h0m67 0h0m34 0h0m-382 1h0m7 0h0m2 0h0m49 0h0m18 0h0m118 0h0m54 0h0m49 0h0m13 0h0m19 0h0m-296 1h0m32 0h0m6 0h0m2 0h0m68 0h0m151 0h0m-273 1h0m36 0h0m25 0h0m28 0h0m61 0h0m67 0h0m42 0h0m62 0h0m59 0h0m-313 1h0m98 0h0m49 0h0m81 0h0m25 0h0m-418 1h0m6 0h0m59 0h0m29 0h0m61 0h0m46 0h0m1 0h0m10 0h0m36 0h0m14 0h0m142 0h0m26 0h0m60 0h0m-439 1h0m103 0h0m2 0h0m21 0h0m169 0h0m59 0h0m40 0h0m-418 1h0m67 0h0m17 0h0m12 0h0m40 0h0m34 0h0m14 0h0m27 0h0m26 0h0m2 0h0m9 0h0m40 0h0m43 0h0m26 0h0m74 0h0m17 0h0m-466 1h0m31 0h0m33 0h0m95 0h0m67 0h0m65 0h0m22 0h0m34 0h0m-293 1h0m15 0h0m48 0h0m54 0h0m47 0h0m56 0h0m8 0h0m88 0h0m7 0h0m18 0h0m-303 1h0m15 0h0m14 0h0m1 0h0m38 0h0m47 0h0m120 0h0m1 0h0m27 0h0m52 0h0m25 0h0m-192 1h0m41 0h0m13 0h0m22 0h0m38 0h0m79 0h0m-418 1h0m13 0h0m4 0h0m70 0h0m9 0h0m44 0h0m47 0h0m9 0h0m1 0h0m22 0h0m17 0h0m19 0h0m14 0h0m36 0h0m-234 1h0m8 0h0m5 0h0m121 0h0m55 0h0m95 0h0m-388 1h0m75 0h0m58 0h0m51 0h0m7 0h0m18 0h0m59 0h0m29 0h0m63 0h0m93 0h0m-378 1h0m23 0h0m94 0h0m78 0h0m40 0h0m17 0h0m32 0h0m41 0h0m-384 1h0m17 0h0m64 0h0m2 0h0m169 0h0m-192 1h0m29 0h0m175 0h0m48 0h0m7 0h0m11 0h0m72 0h0m108 0h0m11 0h0m-467 1h0m14 0h0m22 0h0m3 0h0m111 0h0m3 0h0m10 0h0m49 0h0m21 0h0m192 0h0m35 0h0m-475 1h0m37 0h0m1 0h0m46 0h0m115 0h0m119 0h0m52 0h0m32 0h0m-420 1h0m37 0h0m182 0h0m28 0h0m21 0h0m77 0h0m120 0h0m-419 1h0m132 0h0m10 0h0m57 0h0m38 0h0m117 0h0m21 0h0m43 0h0m-497 1h0m214 0h0m33 0h0m6 0h0m24 0h0m65 0h0m71 0h0m-357 1h0m160 0h0m190 0h0m96 0h0m1 0h0m-143 1h0m75 0h0m-407 1h0m33 0h0m233 0h0m51 0h0m-297 1h0m194 0h0m11 0h0m4 0h0m27 0h0m130 0h0m9 0h0m-382 1h0m9 0h0m7 0h0m175 0h0m40 0h0m55 0h0m17 0h0m41 0h0m84 0h0m-274 1h0m8 0h0m5 0h0m87 0h0m12 0h0m9 0h0m22 0h0m63 0h0m61 0h0m-403 1h0m0 0h0m6 0h0m124 0h0m27 0h0m20 0h0m81 0h0m22 0h0m28 0h0m11 0h0m7 0h0m-191 1h0m7 0h0m115 0h0m-110 1h0m25 0h0m136 0h0m61 0h0m28 0h0m-402 1h0m143 0h0m50 0h0m128 0h0m-385 1h0m56 0h0m132 0h0m23 0h0m114 0h0m55 0h0m93 1h0m55 0h0m53 0h0m-404 1h0m187 0h0m-369 1h0m24 0h0m179 0h0m67 0h0m20 0h0m8 0h0m55 0h0m79 0h0m-376 1h0m192 0h0m62 0h0m23 0h0m30 0h0m5 0h0m1 0h0m-328 1h0m30 0h0m121 0h0m101 0h0m69 0h0m21 0h0m5 0h0m-337 1h0m1 0h0m232 0h0m84 0h0m53 0h0m32 0h0m-445 2h0m301 0h0m58 0h0m-300 1h0m0 0h0m181 0h0m3 0h0m107 0h0m-359 1h0m64 0h0m212 0h0m48 0h0m61 0h0m-322 1h0m145 0h0m0 0h0m63 0h0m2 0h0m1 0h0m37 0h0m13 0h0m31 0h0m12 0h0m40 0h0m91 0h0m-489 1h0m11 0h0m43 0h0m6 0h0m121 0h0m121 0h0m75 0h0m7 0h0m-372 1h0m37 0h0m1 0h0m140 0h0m60 0h0m43 0h0m175 0h0m-417 1h0m130 0h0m2 0h0m125 0h0m10 0h0m91 0h0m-196 1h0m37 0h0m71 0h0m14 0h0m-133 1h0m2 0h0m53 0h0m5 0h0m13 0h0m34 0h0m30 0h0m36 0h0m1 0h0m-397 1h0m67 0h0m19 0h0m128 0h0m67 0h0m137 0h0m26 0h0m-358 1h0m156 0h0m37 0h0m3 0h0m4 0h0m15 0h0m7 0h0m151 0h0m-513 1h0m59 0h0m58 0h0m242 0h0m5 0h0m-307 1h0m52 0h0m273 0h0m18 0h0m54 0h0m-393 1h0m45 0h0m185 0h0m16 0h0m98 0h0m68 0h0m65 0h0m124 0h0m-598 1h0m0 0h0m159 0h0m70 0h0m0 0h0m93 0h0m-161 1h0m66 0h0m191 0h0m29 0h0m-427 1h0m27 0h0m106 1h0m6 0h0m88 0h0m8 0h0m48 0h0m10 0h0m126 0h0m-448 1h0m7 0h0m14 0h0m152 0h0m59 0h0m85 0h0m-246 1h0m31 0h0m67 0h0m68 0h0m5 0h0m15 1h0m13 0h0m18 0h0m46 0h0m-314 1h0m7 0h0m28 0h0m3 0h0m8 0h0m28 0h0m7 0h0m39 0h0m12 0h0m156 0h0m4 0h0m63 0h0m29 0h0m-386 1h0m21 0h0m8 0h0m3 0h0m104 0h0m75 0h0m120 0h0m10 0h0m30 0h0m-351 1h0m10 0h0m115 0h0m98 0h0m6 0h0m90 0h0m2 0h0m35 0h0m-410 1h0m42 0h0m2 0h0m18 0h0m180 0h0m93 0h0m61 0h0m94 0h0m-445 1h0m78 0h0m44 0h0m74 0h0m-227 1h0m14 0h0m176 0h0m87 0h0m38 0h0m67 0h0m45 0h0m79 0h0m-559 1h0m430 0h0m-266 1h0m33 0h0m14 0h0m3 0h0m109 0h0m79 0h0m52 0h0m-308 1h0m63 0h0m165 0h0m36 0h0m71 0h0m-281 1h0m30 0h0m14 0h0m50 0h0m81 0h0m112 0h0m-422 1h0m9 0h0m5 0h0m82 0h0m38 0h0m80 0h0m51 0h0m9 0h0m4 0h0m52 0h0m52 0h0m-241 1h0m32 0h0m125 0h0m2 0h0m6 0h0m64 0h0m-284 1h0m7 0h0m4 0h0m42 0h0m191 0h0m-374 1h0m16 0h0m210 0h0m39 0h0m3 0h0m0 0h0m-245 1h0m17 0h0m16 0h0m1 0h0m219 0h0m81 0h0m10 0h0m30 0h0m12 0h0m32 0h0m13 0h0m-435 1h0m8 0h0m5 0h0m99 0h0m272 0h0m13 0h0m57 0h0m-465 1h0m5 0h0m1 0h0m17 0h0m20 0h0m4 0h0m23 0h0m0 0h0m58 0h0m267 0h0m-404 1h0m63 0h0m250 0h0m29 0h0m10 0h0m-363 1h0m34 0h0m8 0h0m18 0h0m26 0h0m69 0h0m1 0h0m75 0h0m2 0h0m71 0h0m27 0h0m52 0h0m227 0h0m-616 1h0m8 0h0m41 0h0m112 0h0m117 0h0m55 0h0m84 0h0m15 0h0m42 0h0m-449 1h0m40 0h0m14 0h0m13 0h0m130 0h0m64 0h0m37 0h0m45 0h0m-389 1h0m40 0h0m37 0h0m11 0h0m1 0h0m13 0h0m17 0h0m40 0h0m131 0h0m17 0h0m116 0h0m-348 1h0m2 0h0m6 0h0m174 0h0m118 0h0m18 0h0m-341 1h0m33 0h0m2 0h0m178 0h0m-153 1h0m123 0h0m21 0h0m5 0h0m5 0h0m45 0h0m15 0h0m21 0h0m14 0h0m-330 1h0m42 0h0m18 0h0m10 0h0m140 0h0m410 0h0m-590 1h0m38 0h0m9 0h0m62 0h0m4 0h0m4 0h0m1 0h0m30 0h0m131 0h0m-258 1h0m9 0h0m7 0h0m111 0h0m28 0h0m3 0h0m19 0h0m79 0h0m110 0h0m-422 1h0m188 0h0m1 0h0m14 0h0m2 0h0m2 0h0m27 0h0m41 0h0m-201 1h0m10 0h0m4 0h0m67 0h0m42 0h0m30 0h0m46 0h0m44 0h0m10 0h0m36 0h0m-288 1h0m128 0h0m28 0h0m99 0h0m5 0h0m-367 1h0m20 0h0m32 0h0m24 0h0m126 0h0m27 0h0m9 0h0m65 0h0m-218 1h0m22 0h0m12 0h0m58 0h0m78 0h0m9 0h0m-245 1h0m6 0h0m8 0h0m6 0h0m21 0h0m112 0h0m159 0h0m21 0h0m70 0h0m-339 1h0m93 0h0m32 0h0m53 0h0m40 0h0m-288 1h0m340 0h0m90 0h0m-387 1h0m111 0h0m3 0h0m2 0h0m166 0h0m54 0h0m12 0h0m14 0h0m165 0h0m-545 1h0m7 0h0m126 0h0m12 0h0m4 0h0m64 0h0m61 0h0m68 0h0m-328 1h0m179 0h0m42 0h0m94 0h0m-195 1h0m5 0h0m8 0h0m59 0h0m33 0h0m-288 1h0m288 0h0m67 0h0m35 0h0m10 0h0m-353 1h0m2 0h0m0 0h0m10 0h0m128 0h0m28 0h0m42 0h0m49 0h0m2 0h0m15 0h0m101 0h0m6 0h0m-390 1h0m188 0h0m116 0h0m127 0h0m-479 1h0m84 0h0m108 0h0m49 0h0m2 0h0m-254 1h0m59 0h0m13 0h0m15 0h0m8 0h0m103 0h0m124 0h0m-236 1h0m119 0h0m31 0h0m27 0h0m94 0h0m-262 1h0m163 0h0m21 0h0m36 0h0m416 0h0m-719 1h0m38 0h0m4 0h0m292 0h0m61 0h0m-373 1h0m14 0h0m23 0h0m15 0h0m156 0h0m13 0h0m4 0h0m7 0h0m34 0h0m-228 1h0m14 0h0m9 0h0m236 0h0m41 0h0m74 0h0m-412 1h0m69 0h0m196 0h0m35 0h0m25 0h0m39 0h0m-334 1h0m1 0h0m177 0h0m1 0h0m18 0h0m7 0h0m45 0h0m66 0h0m-295 1h0m2 0h0m152 0h0m242 1h0m14 0h0m-458 1h0m14 0h0m9 0h0m170 0h0m81 0h0m120 0h0m-398 1h0m8 0h0m188 0h0m52 0h0m8 0h0m1 0h0m174 0h0m-419 1h0m178 0h0m152 0h0m-344 2h0m5 0h0m36 0h0m2 0h0m178 0h0m26 0h0m122 0h0m-380 1h0m243 0h0m100 0h0m-337 1h0m26 0h0m31 0h0m-64 1h0m9 0h0m232 0h0m46 0h0m29 0h0m181 0h0m84 0h0m-517 1h0m15 0h0m174 0h0m21 0h0m9 0h0m-225 1h0m29 0h0m115 0h0m13 0h0m42 0h0m2 0h0m259 0h0m-533 2h0m222 0h0m-235 1h0m111 0h0m119 0h0m91 0h0m9 0h0m85 0h0m39 0h0m-414 1h0m46 0h0m149 0h0m25 0h0m13 0h0m21 0h0m72 0h0m-283 1h0m6 0h0m27 0h0m234 0h0m-232 1h0m129 0h0m44 0h0m50 0h0m115 0h0m107 0h0m-545 1h0m5 0h0m17 0h0m210 0h0m13 0h0m17 0h0m56 0h0m6 0h0m112 0h0m-446 1h0m67 0h0m32 0h0m91 0h0m2 0h0m1 0h0m35 0h0m42 0h0m24 0h0m272 0h0m-542 1h0m7 0h0m36 0h0m7 0h0m108 0h0m49 0h0m-152 1h0m7 0h0m16 0h0m128 0h0m26 0h0m58 0h0m39 0h0m-318 1h0m193 0h0m55 0h0m-205 1h0m4 0h0m10 0h0m10 0h0m5 0h0m81 0h0m2 0h0m68 0h0m18 0h0m38 0h0m14 0h0m74 0h0m5 0h0m-410 1h0m94 0h0m85 0h0m95 0h0m34 0h0m16 0h0m-357 1h0m17 0h0m9 0h0m32 0h0m4 0h0m2 0h0m30 0h0m215 0h0m36 0h0m9 0h0m145 0h0m-462 1h0m35 0h0m9 0h0m5 0h0m49 0h0m6 0h0m113 0h0m3 0h0m14 0h0m17 0h0m5 0h0m25 0h0m21 0h0m14 0h0m53 0h0m15 0h0m-333 1h0m9 0h0m37 0h0m12 0h0m226 0h0m56 0h0m-356 1h0m19 0h0m35 0h0m3 0h0m156 0h0m80 0h0m194 0h0m-430 1h0m8 0h0m85 0h0m49 0h0m2 0h0m43 0h0m6 0h0m18 0h0m89 0h0m-432 1h0m3 0h0m62 0h0m28 0h0m132 0h0m56 0h0m43 0h0m10 0h0m-294 1h0m12 0h0m225 0h0m-262 1h0m47 0h0m33 0h0m5 0h0m193 0h0m30 0h0m27 0h0m22 0h0m-90 1h0m76 0h0m256 0h0m-397 1h0m115 0h0m-335 1h0m235 0h0m32 0h0m-37 1h0m45 0h0m35 0h0m1 0h0m18 0h0m-244 1h0m8 0h0m175 0h0m1 0h0m10 0h0m84 0h0m-352 1h0m22 0h0m55 0h0m6 0h0m124 0h0m3 0h0m1 0h0m2 0h0m3 0h0m104 0h0m14 0h0m-352 1h0m110 0h0m132 0h0m-242 1h0m95 0h0m6 0h0m122 0h0m16 0h0m31 0h0m29 0h0m20 0h0m99 0h0m-376 1h0m183 0h0m3 0h0m10 0h0m105 0h0m-333 1h0m34 0h0m54 0h0m197 0h0m50 0h0m23 0h0m74 0h0m-348 1h0m5 0h0m5 0h0m164 0h0m123 0h0m17 0h0m165 0h0m-467 1h0m168 0h0m85 0h0m2 0h0m71 0h0m13 0h0m-406 1h0m5 0h0m51 0h0m175 0h0m26 0h0m11 0h0m21 0h0m-297 1h0m259 0h0m-276 1h0m16 0h0m9 0h0m240 0h0m38 0h0m-273 1h0m232 0h0m3 0h0m16 0h0m22 0h0m16 0h0m156 0h0m-455 1h0m9 0h0m-34 1h0m0 0h0m197 0h0m1 0h0m135 0h0m66 0h0m-379 1h0m244 0h0m113 0h0m-350 1h0m171 0h0m3 0h0m60 0h0m90 0h0m117 0h0m-276 1h0m5 0h0m6 0h0m-4 1h0m8 0h0m302 0h0m-512 2h0m202 0h0m4 0h0m-213 1h0m6 0h0m4 0h0m302 0h0m-313 1h0m213 0h0m75 1h0m-276 1h0m199 0h0m6 0h0m-6 1h0m230 0h0m-174 1h0m46 0h0m31 0h0m-326 2h0m189 0h0m55 0h0m3 0h0m13 0h0m-289 2h0m207 0h0m0 0h0m116 0h0m14 0h0m-306 1h0m277 0h0m19 0h0m-321 1h0m20 0h0m179 0h0m60 0h0m-260 1h0m205 0h0m13 0h0m152 0h0m-405 1h0m287 0h0m35 0h0m-289 1h0m17 0h0m199 0h0m-236 1h0m27 0h0m195 0h0m6 0h0m19 0h0m36 0h0m91 0h0m-371 1h0m3 0h0m15 0h0m280 0h0m8 0h0m200 0h0m-491 1h0m224 0h0m108 0h0m47 0h0m38 0h0m-424 1h0m20 0h0m191 0h0m104 0h0m20 0h0m-372 1h0m57 0h0m15 0h0m193 0h0m0 0h0m5 0h0m75 0h0m8 0h0m34 0h0m21 0h0m-354 1h0m164 1h0m10 0h0m71 0h0m32 0h0m5 0h0m-113 1h0m66 0h0m171 0h0m-439 1h0m209 0h0m122 0h0m64 0h0m-421 1h0m100 0h0m2 0h0m312 0h0m-392 1h0m5 0h0m15 0h0m64 0h0m166 0h0m41 0h0m-1 1h0m83 0h0m-360 1h0m4 0h0m72 0h0m184 0h0m-277 1h0m14 0h0m179 0h0m56 0h0m5 0h0m-158 1h0m189 0h0m-278 1h0m3 0h0m6 0h0m192 0h0m5 0h0m35 0h0m4 0h0m3 0h0m142 0h0m356 0h0m-772 1h0m2 0h0m23 0h0m4 0h0m14 0h0m59 0h0m13 0h0m0 0h0m99 0h0m17 0h0m4 0h0m31 0h0m-267 1h0m41 0h0m75 0h0m6 0h0m110 0h0m-229 1h0m30 0h0m-6 1h0m4 0h0m5 0h0m212 0h0m45 0h0m26 0h0m-298 1h0m0 0h0m89 0h0m3 0h0m102 0h0m-195 1h0m90 0h0m110 0h0m76 0h0m-292 1h0m23 0h0m213 0h0m0 0h0m4 0h0m13 0h0m114 0h0m8 0h0m8 0h0m110 0h0m-496 1h0m7 0h0m112 0h0m165 0h0m-268 1h0m6 0h0m85 0h0m1 0h0m91 0h0m38 0h0m-125 1h0m1 0h0m97 0h0m6 0h0m40 0h0m25 0h0m83 0h0m-358 1h0m9 0h0m7 0h0m191 0h0m3 0h0m-217 1h0m17 0h0m90 0h0m5 0h0m171 0h0m-289 1h0m29 0h0m1 0h0m83 0h0m1 0h0m11 0h0m2 0h0m382 0h0m-491 1h0m10 0h0m3 0h0m97 0h0m82 0h0m2 0h0m4 0h0m-17 1h0m2 0h0m-206 1h0m215 0h0m1 0h0m124 0h0m133 0h0m-482 1h0m19 0h0m222 0h0m135 0h0m-366 1h0m245 0h0m21 0h0m5 0h0m0 0h0m150 0h0m-411 1h0m218 0h0m27 0h0m-30 1h0m76 0h0m55 0h0m91 0h0m56 0h0m-510 1h0m3 0h0m222 0h0m9 0h0m-233 1h0m223 0h0m5 0h0m41 0h0m52 0h0m-132 1h0m-176 1h0m220 0h0m29 0h0m-274 1h0m265 0h0m-257 1h0m176 0h0m11 0h0m62 0h0m136 0h0m-183 1h0m23 0h0m3 0h0m117 0h0m19 0h0m-169 1h0m1 0h0m29 0h0m21 0h0m30 0h0m76 0h0m-123 1h0m7 0h0m85 0h0m-107 1h0m12 0h0m111 0h0m-158 1h0m11 0h0m115 0h0m4 0h0m-324 1h0m7 0h0m190 0h0m16 0h0m67 0h0m-78 1h0m33 0h0m35 0h0m7 0h0m-279 1h0m13 0h0m1 0h0m178 0h0m159 0h0m-184 1h0m43 0h0m21 0h0m24 0h0m12 0h0m-101 1h0m101 0h0m10 0h0m1 0h0m80 0h0m-201 1h0m68 0h0m51 0h0m-265 1h0m147 0h0m127 0h0m58 0h0m-342 1h0m194 0h0m17 0h0m12 0h0m-209 1h0m356 0h0m1 0h0m-357 1h0m7 0h0m149 0h0m35 0h0m11 0h0m36 0h0m16 0h0m-248 1h0m0 0h0m134 0h0m56 0h0m49 0h0m90 0h0m-354 1h0m14 0h0m159 0h0m96 0h0m82 0h0m-356 1h0m227 0h0m-58 1h0m11 1h0m26 0h0m48 0h0m49 0h0m-277 1h0m145 0h0m13 0h0m4 0h0m-176 1h0m11 0h0m338 0h0m-361 1h0m2 0h0m30 0h0m142 0h0m68 0h0m-244 1h0m7 0h0m16 0h0m187 0h0m7 0h0m31 0h0m30 0h0m39 0h0m0 0h0m-303 1h0m5 0h0m152 0h0m30 0h0m85 0h0m15 0h0m-300 1h0m14 0h0m194 0h0m9 0h0m48 0h0m-272 1h0m32 0h0m3 0h0m3 0h0m150 1h0m92 0h0m-274 1h0m9 0h0m166 0h0m24 0h0m-202 1h0m16 0h0m1 0h0m164 0h0m80 0h0m-269 1h0m19 0h0m194 0h0m2 0h0m32 0h0m-247 1h0m11 0h0m1 0h0m2 0h0m5 0h0m5 0h0m839 0h0m-856 1h0m184 0h0m8 0h0m48 0h0m62 0h0m-43 1h0m-261 1h0m253 0h0m-242 1h0m249 0h0m-270 1h0m170 0h0m7 0h0m7 0h0m13 0h0m-186 1h0m159 0h0m77 1h0m246 0h0m-487 1h0m140 0h0m116 0h0m-266 1h0m188 0h0m10 0h0m70 0h0m-256 2h0m2 0h0m146 0h0m111 1h0m62 0h0m-331 3h0m373 0h0m-371 1h0m3 0h0m166 0h0m15 0h0m-188 2h0m8 0h0m223 0h0m-74 1h0m3 0h0m79 0h0m18 0h0m-49 1h0m-63 1h0m6 0h0m2 0h0m-160 1h0m175 0h0m6 0h0m-187 1h0m6 0h0m161 1h0m11 0h0m36 0h0m-23 1h0m-191 1h0m2 0h0m9 0h0m3 0h0m143 0h0m122 0h0m-17 1h0m-266 1h0m127 0h0m-131 1h0m118 0h0m16 0h0m32 0h0m5 0h0m4 0h0m87 0h0m-247 1h0m101 0h0m65 0h0m16 0h0m-84 1h0m162 0h0m435 0h0m-714 1h0m137 0h0m59 0h0m-199 1h0m196 0h0m5 0h0m-60 1h0m50 0h0m-193 1h0m3 0h0m3 0h0m18 0h0m115 0h0m21 0h0m-157 1h0m118 0h0m84 0h0m-195 1h0m130 0h0m-135 1h0m127 1h0m-125 1h0m7 0h0m1 0h0m118 0h0m-134 1h0m1 0h0m9 1h0m5 0h0m121 0h0m53 0h0m-181 1h0m124 0h0m14 0h0m183 0h0m-89 1h0m20 0h0m-264 1h0m3 0h0m10 0h0m118 0h0m-128 1h0m137 0h0m15 0h0m-143 1h0m-20 1h0m25 0h0m127 1h0m40 0h0m17 0h0m-199 1h0m131 0h0m13 0h0m102 0h0m-243 1h0m3 0h0m131 0h0m-3 1h0m27 1h0m9 0h0m-178 1h0m7 0h0m7 0h0m133 0h0m-139 1h0m3 0h0m3 0h0m147 0h0m30 0h0m-198 1h0m8 0h0m3 0h0m7 0h0m-18 1h0m1 0h0m1 0h0m6 0h0m151 0h0m2 0h0m-155 1h0m145 0h0m17 0h0m32 0h0m132 0h0m-333 1h0m5 1h0m7 0h0m-5 1h0m132 0h0m33 0h0m75 0h0m-234 1h0m146 0h0m-154 1h0m147 0h0m6 0h0m-150 1h0m125 0h0m16 0h0m146 0h0m-304 1h0m2 0h0m129 0h0m1 0h0m18 0h0m6 0h0m-3 1h0m147 0h0m-297 1h0m9 0h0m-12 1h0m-2 1h0m1 0h0m13 0h0m150 0h0m-165 1h0m16 0h0m149 0h0m20 0h0m11 0h0m-189 2h0m150 0h0m-144 1h0m120 0h0m0 0h0m-134 2h0m1 0h0m133 0h0m-128 1h0m128 0h0m-143 1h0m8 0h0m4 0h0m136 0h0m14 0h0m-163 2h0m2 0h0m9 0h0m177 0h0m-187 1h0m6 0h0m107 0h0m22 0h0m-138 2h0m6 0h0m136 0h0m-125 1h0m91 0h0m-106 1h0m110 0h0m-114 1h0m8 0h0m-10 1h0m9 0h0m140 0h0m5 1h0m82 0h0m492 0h0m-719 1h0m120 1h0m39 0h0m-171 1h0m2 0h0m2 0h0m127 0h0m13 0h0m61 0h0m-106 1h0m1 0h0m-98 1h0m4 0h0m115 0h0m-116 1h0m0 0h0m3 0h0m2 0h0m-18 1h0m3 0h0m11 0h0m97 0h0m9 0h0m47 0h0m-159 1h0m7 0h0m2 0h0m4 0h0m-20 1h0m2 0h0m8 0h0m98 0h0m-103 1h0m6 0h0m146 0h0m-142 1h0m121 0h0m-131 1h0m11 0h0m-2 1h0m-16 1h0m16 0h0m95 0h0m7 0h0m22 0h0m13 0h0m-157 1h0m10 0h0m96 0h0m20 0h0m-114 1h0m5 0h0m87 0h0m-96 1h0m10 0h0m97 0h0m258 0h0m-373 1h0m2 0h0m9 0h0m2 1h0m118 0h0m-139 1h0m2 0h0m12 0h0m1 0h0m0 0h0m145 0h0m119 0h0m-261 1h0m2 0h0m-22 1h0m17 0h0m106 0h0m16 0h0m0 0h0m-127 1h0m6 0h0m101 0h0m19 0h0m4 0h0m1 0h0m64 0h0m-208 1h0m6 0h0m6 0h0m0 0h0m-13 1h0m3 1h0m6 0h0m-5 1h0m2 0h0m192 0h0m-201 1h0m4 0h0m3 0h0m1 0h0m2 0h0m110 0h0m21 0h0m-140 1h0m5 0h0m9 0h0m1 0h0m131 0h0m3 0h0m-147 1h0m6 0h0m-12 1h0m7 0h0m2 0h0m138 0h0m-145 1h0m12 0h0m-13 1h0m5 1h0m136 0h0m-17 1h0m207 0h0m-335 1h0m6 1h0m5 0h0m-13 1h0m2 0h0m-3 1h0m3 0h0m4 0h0m1 0h0m5 0h0m3 0h0m1 0h0m81 0h0m-101 1h0m9 0h0m2 0h0m9 0h0m72 0h0m-94 1h0m3 0h0m16 0h0m-13 1h0m2 0h0m124 0h0m-130 1h0m19 1h0m-20 1h0m2 0h0m5 0h0m40 0h0m30 0h0m-81 1h0m12 0h0m8 0h0m10 0h0m13 0h0m1 0h0m6 0h0m28 0h0m0 0h0m10 0h0m-91 1h0m16 0h0m15 0h0m7 0h0m1 0h0m13 0h0m28 0h0m10 0h0m28 0h0m-112 1h0m1 0h0m5 0h0m0 0h0m100 0h0m-111 1h0m15 0h0m0 0h0m17 0h0m16 0h0m-40 1h0m75 0h0m-83 1h0m7 0h0m4 0h0m5 0h0m83 0h0" fill="none" stroke="#1f77b4" stroke-opacity="0.75" stroke-width="8.8" stroke-linecap="round"/>
<line x1="822.2" y1="289.5" x2="1083.3" y2="28.95" stroke="#000" stroke-width="2.2" stroke-dasharray="8.2 3.6"/>
</g>
<rect x="822.2" y="28.95" width="261.1" height="260.55" fill="none" stroke="#000" stroke-width="1.9"/>
<rect x="828.9" y="35.3" width="103" height="47.7" rx="3" fill="#fff" fill-opacity="0.8" stroke="#d0d0d0" stroke-width="1.2"/>
<path d="M842.9 48.8H854.7M848.8 42.9V54.7" stroke="#1f77b4" stroke-opacity="0.55" stroke-width="1.9"/>
<line x1="834.7" y1="68.7" x2="863.1" y2="68.7" stroke="#000" stroke-width="2.2" stroke-dasharray="8.2 3.6"/>
<g font-family="'DejaVu Sans', sans-serif" fill="#262626" font-size="13.7"><text x="873.6" y="53.3">R=0.88</text><text x="873.6" y="73.6">y=x</text></g>
<g font-family="'DejaVu Sans', sans-serif" fill="#262626" font-size="16"><text x="822.2" y="316.5" text-anchor="middle">0.5</text><text x="874.42" y="316.5" text-anchor="middle">0.6</text><text x="926.64" y="316.5" text-anchor="middle">0.7</text><text x="978.86" y="316.5" text-anchor="middle">0.8</text><text x="1031.08" y="316.5" text-anchor="middle">0.9</text><text x="1083.3" y="316.5" text-anchor="middle">1.0</text><text x="809.2" y="296" text-anchor="end">0.5</text><text x="809.2" y="243.89" text-anchor="end">0.6</text><text x="809.2" y="191.78" text-anchor="end">0.7</text><text x="809.2" y="139.67" text-anchor="end">0.8</text><text x="809.2" y="87.56" text-anchor="end">0.9</text><text x="809.2" y="35.45" text-anchor="end">1.0</text></g>
<text x="952.75" y="339" text-anchor="middle" font-family="'DejaVu Sans', sans-serif" fill="#262626" font-size="17.8">Teacher MI Accuracy</text>
<text x="851.7" y="409.8" letter-spacing="-0.58" font-family="'DejaVu Serif', serif" fill="#000" font-size="27">(c) Texas-100</text>
<clipPath id="clipd"><rect x="1200.9" y="28.95" width="261.1" height="260.8"/></clipPath>
<g clip-path="url(#clipd)"><path d="M1367.9 217.1L1365.1 216.1L1365.1 217.9L1363.1 218.1L1363.1 219.9L1367.9 218.9ZM1457.9 72.1L1456.1 72.1L1455.9 71.1L1453.1 72.1L1454.1 75.9L1452.1 76.1L1452.1 80.9L1456.9 80.9L1457.1 79.9L1458.9 79.9L1459.1 81.9L1461.1 83.1L1461.1 84.9L1459.1 85.1L1459.1 87.9L1460.1 88.9L1457.1 89.1L1456.9 90.1L1452.1 90.1L1451.9 91.1L1448.1 90.1L1447.9 92.1L1445.9 91.9L1448.1 87.9L1450.9 88.9L1451.1 85.9L1455.9 86.9L1455.9 85.1L1457.9 84.9L1456.9 82.1L1452.1 82.1L1451.9 83.1L1450.1 83.1L1450.1 84.9L1448.9 86.1L1447.9 85.1L1444.1 85.1L1443.1 86.1L1443.1 89.9L1440.1 90.1L1440.1 91.9L1441.1 92.1L1440.1 93.1L1440.1 97.9L1441.1 98.1L1441.1 100.9L1438.9 100.9L1438.9 96.1L1436.1 96.1L1436.1 98.9L1437.1 99.1L1436.1 104.9L1434.1 105.1L1433.9 108.1L1432.9 107.9L1432.9 106.1L1431.1 106.1L1431.1 107.9L1432.9 107.9L1433.1 108.9L1430.1 111.1L1429.1 115.9L1426.1 115.1L1425.1 117.9L1423.9 119.1L1422.1 119.1L1422.1 120.9L1423.1 121.1L1422.1 123.9L1426.9 122.9L1427.1 125.9L1421.1 126.1L1420.9 128.1L1418.1 127.1L1418.1 130.9L1415.1 130.1L1414.9 133.1L1413.9 132.9L1413.9 131.1L1411.1 131.1L1410.1 135.9L1407.1 136.1L1406.9 143.1L1402.1 142.1L1401.9 140.1L1400.1 140.1L1399.1 146.9L1397.1 147.1L1396.9 148.1L1392.1 148.1L1392.1 149.9L1391.1 150.1L1391.1 151.9L1393.9 151.9L1394.9 150.9L1395.1 151.9L1397.9 151.9L1397.9 153.1L1393.1 153.1L1391.9 155.1L1389.9 153.1L1388.1 153.1L1387.9 156.1L1383.1 156.1L1383.1 159.9L1380.1 160.1L1379.1 161.1L1378.9 164.1L1376.1 164.1L1375.9 166.1L1373.1 165.1L1373.1 167.9L1374.9 167.9L1374.9 169.1L1373.1 169.1L1372.9 170.1L1370.1 169.1L1369.9 172.1L1368.9 171.1L1365.1 171.1L1365.1 172.9L1367.1 174.1L1365.9 176.1L1362.1 175.1L1359.9 179.1L1355.1 179.1L1355.1 181.9L1352.1 182.1L1352.1 183.9L1350.9 185.1L1348.1 185.1L1347.9 186.1L1346.1 186.1L1346.1 187.9L1344.9 189.1L1341.1 189.1L1340.9 191.1L1338.1 191.1L1339.1 194.9L1338.1 195.1L1337.9 197.1L1336.9 196.9L1336.9 194.1L1334.1 194.1L1333.9 197.1L1332.9 196.1L1329.1 197.1L1326.9 200.1L1325.1 200.1L1325.1 201.9L1322.9 204.1L1320.1 204.1L1319.9 206.1L1315.1 206.1L1314.1 209.9L1312.1 210.1L1310.9 213.1L1308.1 212.1L1305.9 214.1L1302.1 214.1L1302.1 216.9L1300.1 217.1L1299.9 219.1L1297.1 219.1L1295.9 222.1L1293.1 222.1L1288.9 226.1L1284.1 227.1L1284.1 228.9L1286.9 228.9L1287.1 229.9L1284.1 230.1L1283.9 231.1L1280.1 231.1L1277.1 234.1L1276.9 238.1L1272.1 237.1L1270.9 239.1L1267.1 239.1L1265.1 241.1L1264.9 243.1L1260.1 244.1L1259.9 246.1L1258.9 245.9L1258.9 244.1L1257.1 244.1L1257.1 246.9L1255.9 248.1L1252.1 248.1L1251.9 250.1L1249.1 250.1L1248.9 251.1L1247.1 251.1L1246.9 253.1L1244.1 253.1L1243.9 255.1L1241.1 255.1L1241.9 259.1L1240.1 259.1L1239.9 258.1L1238.1 258.1L1237.9 259.1L1236.9 258.1L1233.1 258.1L1233.1 260.9L1231.9 262.1L1228.1 262.1L1228.1 264.9L1225.1 265.1L1224.9 267.1L1223.1 267.1L1220.9 269.1L1217.1 269.1L1215.9 272.1L1213.1 272.1L1211.9 274.1L1210.1 274.1L1209.9 276.1L1207.1 275.1L1207.1 276.9L1205.9 278.1L1203.1 278.1L1202.1 280.9L1200.1 281.1L1200.1 286.9L1199.1 287.1L1200.1 289.9L1199.1 290.1L1199.1 291.9L1200.1 292.9L1207.9 292.9L1208.1 291.9L1216.9 292.9L1218.9 290.9L1219.1 292.9L1220.9 292.9L1223.1 289.9L1224.9 289.9L1227.1 287.9L1229.9 288.9L1231.1 283.9L1232.1 284.9L1234.9 283.9L1237.1 286.1L1237.1 287.9L1238.9 287.9L1238.9 284.1L1237.1 284.1L1237.1 282.9L1239.9 281.9L1240.1 283.9L1241.9 283.9L1243.9 281.9L1244.1 278.9L1246.1 280.9L1248.9 280.9L1249.1 279.9L1250.9 279.9L1251.1 277.9L1254.9 277.9L1256.1 273.9L1257.1 274.9L1260.9 273.9L1262.1 275.9L1263.9 275.9L1262.9 273.1L1264.1 271.9L1269.9 271.9L1269.9 270.1L1267.1 270.1L1267.1 268.9L1268.9 268.9L1269.1 267.9L1270.9 267.9L1271.1 268.9L1274.9 268.9L1275.1 267.9L1276.9 267.9L1276.9 266.1L1278.9 265.9L1279.1 264.9L1283.9 264.9L1283.9 263.1L1281.1 263.1L1280.9 261.1L1286.9 260.9L1287.1 259.9L1288.9 259.9L1289.9 258.9L1289.9 255.1L1291.1 253.9L1292.1 254.1L1292.1 256.9L1294.9 256.9L1294.1 252.9L1301.9 253.9L1301.9 251.1L1304.9 250.9L1305.1 246.9L1306.9 246.9L1308.1 248.9L1309.9 248.9L1310.1 242.9L1312.1 243.1L1311.1 246.9L1314.9 245.9L1314.9 244.1L1315.9 243.9L1314.9 241.1L1316.1 239.9L1317.1 240.9L1319.9 240.9L1319.9 239.1L1318.9 238.9L1319.1 236.9L1320.1 237.9L1323.1 238.1L1322.9 239.1L1321.1 239.1L1321.1 241.9L1322.9 241.9L1322.9 240.1L1324.9 239.9L1325.1 237.9L1327.9 237.9L1330.1 234.9L1332.9 234.9L1333.1 233.9L1335.9 234.9L1336.9 232.1L1334.9 230.1L1338.9 229.9L1339.1 227.9L1342.9 228.9L1342.9 227.1L1344.9 226.9L1344.1 229.9L1347.9 229.9L1347.9 227.1L1350.9 226.9L1352.9 220.1L1354.9 219.9L1355.1 222.9L1356.9 222.9L1357.9 221.9L1356.9 218.1L1358.9 217.9L1359.1 218.9L1360.9 218.9L1359.9 216.1L1361.1 214.9L1365.9 214.9L1365.9 213.1L1367.9 212.9L1367.1 209.9L1368.9 209.9L1369.1 212.9L1370.9 212.9L1372.9 210.9L1373.1 207.9L1374.1 208.9L1376.9 208.9L1376.9 207.1L1378.1 205.9L1382.9 204.9L1383.1 201.9L1384.1 202.9L1388.9 202.9L1388.9 201.1L1386.9 200.9L1386.9 198.1L1388.1 198.1L1388.1 199.9L1389.9 199.9L1390.1 197.9L1395.9 195.9L1395.9 192.1L1398.9 191.9L1398.1 188.9L1399.9 188.9L1400.1 187.9L1402.9 186.9L1403.1 188.9L1404.9 188.9L1405.1 190.9L1406.9 190.9L1406.9 188.1L1405.1 188.1L1403.9 185.1L1405.1 183.9L1406.9 183.9L1406.1 186.9L1407.9 186.9L1408.1 185.9L1410.9 186.9L1411.9 182.1L1414.9 182.9L1414.9 181.1L1412.9 180.9L1413.1 178.9L1415.9 178.9L1416.1 179.9L1420.9 178.9L1420.9 175.1L1418.1 175.1L1417.9 174.1L1421.9 172.9L1421.9 171.1L1423.9 170.9L1424.1 167.9L1428.9 166.9L1428.9 163.1L1427.9 162.1L1431.9 161.9L1433.9 159.9L1433.9 156.1L1435.9 155.9L1435.9 153.1L1437.9 152.9L1438.1 150.9L1440.9 150.9L1439.9 146.1L1442.9 146.9L1442.9 145.1L1440.9 143.1L1442.9 142.9L1443.1 143.9L1444.9 143.9L1445.1 142.9L1446.9 142.9L1447.9 139.1L1446.1 139.1L1445.9 137.1L1448.9 137.9L1448.9 136.1L1447.1 136.1L1445.9 134.1L1451.9 130.9L1450.9 122.1L1449.1 122.1L1448.9 121.1L1453.9 120.9L1452.9 117.1L1456.9 116.9L1457.9 115.9L1457.9 112.1L1456.1 112.1L1455.9 113.1L1452.9 112.9L1453.1 111.9L1454.9 111.9L1454.9 109.1L1456.9 107.9L1455.9 105.1L1457.9 103.9L1458.1 105.9L1460.1 106.1L1460.1 108.9L1461.9 108.9L1461.9 106.1L1460.1 106.1L1459.9 104.1L1461.1 102.9L1463.9 102.9L1462.9 99.1L1461.1 99.1L1461.1 100.9L1459.1 101.1L1459.9 98.1L1456.1 97.1L1456.1 98.9L1454.1 100.1L1453.9 97.1L1452.9 96.9L1454.1 91.9L1455.1 92.1L1455.1 94.9L1456.9 94.9L1457.1 93.9L1458.9 93.9L1458.1 90.9L1461.9 90.9L1460.9 85.1L1462.9 84.9L1462.9 81.1L1459.1 80.1L1458.9 77.1L1455.9 76.9L1456.1 73.9L1457.1 74.1L1457.1 75.9L1458.9 75.9ZM1234.9 280.1L1235.9 279.9L1236.1 280.9L1235.1 281.1ZM1240.1 277.9L1241.1 278.1L1240.9 280.1L1239.9 279.9ZM1251.9 275.1L1252.9 274.9L1253.1 275.9L1252.1 276.1ZM1234.9 260.1L1235.9 259.9L1236.1 260.9L1235.1 261.1ZM1267.9 257.1L1268.9 256.9L1269.1 257.9L1268.1 258.1ZM1254.9 250.1L1256.9 249.9L1257.1 250.9L1255.1 251.1ZM1269.9 243.1L1271.9 242.9L1272.1 243.9L1270.1 244.1ZM1264.9 243.1L1265.9 242.9L1266.1 243.9L1265.1 244.1ZM1317.9 236.1L1318.9 235.9L1319.1 236.9L1318.1 237.1ZM1320.9 234.1L1321.9 233.9L1322.1 234.9L1321.1 235.1ZM1329.9 230.1L1330.9 229.9L1331.1 230.9L1330.1 231.1ZM1343.9 220.1L1344.9 219.9L1345.1 220.9L1344.1 221.1ZM1342.1 215.9L1343.1 216.1L1342.9 218.1L1341.9 217.9ZM1378.9 202.1L1379.9 201.9L1380.1 202.9L1379.1 203.1ZM1382.1 199.9L1383.1 200.1L1382.9 202.1L1381.9 201.9ZM1355.9 197.1L1356.9 196.9L1357.1 197.9L1356.1 198.1ZM1377.9 195.1L1378.9 194.9L1379.1 195.9L1378.1 196.1ZM1340.9 194.1L1341.9 193.9L1342.1 194.9L1341.1 195.1ZM1390.9 192.1L1391.9 191.9L1392.1 192.9L1391.1 193.1ZM1392.9 190.1L1394.9 189.9L1395.1 191.9L1394.1 192.1ZM1346.9 190.1L1347.9 189.9L1348.1 190.9L1347.1 191.1ZM1362.9 178.1L1363.9 177.9L1364.1 178.9L1363.1 179.1ZM1367.9 173.1L1368.9 172.9L1369.1 173.9L1368.1 174.1ZM1414.9 164.1L1415.9 163.9L1416.1 164.9L1415.1 165.1ZM1416.9 163.1L1417.9 162.9L1418.1 163.9L1417.1 164.1ZM1389.9 161.1L1390.9 160.9L1391.1 161.9L1390.1 162.1ZM1422.9 160.1L1423.9 159.9L1424.1 160.9L1423.1 161.1ZM1388.9 160.1L1389.9 159.9L1390.1 160.9L1389.1 161.1ZM1425.9 159.1L1426.9 158.9L1427.1 159.9L1426.1 160.1ZM1426.9 158.1L1427.9 157.9L1428.1 158.9L1427.1 159.1ZM1430.9 156.1L1431.9 155.9L1432.1 156.9L1431.1 157.1ZM1414.9 155.1L1415.9 154.9L1416.1 155.9L1415.1 156.1ZM1405.9 155.1L1406.9 154.9L1407.1 155.9L1406.1 156.1ZM1425.9 154.1L1426.9 153.9L1427.1 154.9L1426.1 155.1ZM1419.9 151.1L1420.9 150.9L1421.1 151.9L1420.1 152.1ZM1434.1 147.9L1435.1 148.1L1435.9 153.1L1432.9 151.9ZM1399.9 147.1L1400.9 146.9L1401.1 147.9L1400.1 148.1ZM1409.9 144.1L1410.9 143.9L1411.1 144.9L1410.1 145.1ZM1414.9 142.1L1415.9 141.9L1416.1 142.9L1415.1 143.1ZM1434.9 142.9L1435.1 140.9L1437.1 141.1L1435.9 143.1ZM1428.9 141.1L1429.9 140.9L1430.1 141.9L1429.1 142.1ZM1440.9 139.1L1442.9 138.9L1443.1 139.9L1441.1 140.1ZM1428.9 136.1L1429.9 135.9L1430.1 136.9L1429.1 137.1ZM1427.1 132.9L1428.1 133.1L1427.9 135.1L1426.9 134.9ZM1433.9 133.9L1434.1 131.9L1437.1 132.1L1435.9 134.1ZM1439.9 129.1L1440.9 128.9L1441.1 129.9L1440.1 130.1ZM1435.1 126.9L1436.1 127.1L1435.9 129.1L1434.9 128.9ZM1448.9 121.9L1449.1 124.9L1448.1 125.1L1448.1 127.9L1446.1 128.1L1445.9 127.1L1444.1 127.1L1443.9 125.1L1445.9 124.9L1445.9 123.1L1447.1 121.9ZM1433.1 120.9L1434.1 121.1L1433.9 123.1L1432.9 122.9ZM1441.9 120.1L1442.9 119.9L1443.1 120.9L1442.1 121.1ZM1433.9 118.1L1434.9 117.9L1435.1 118.9L1434.1 119.1ZM1425.9 118.1L1426.9 117.9L1427.1 118.9L1426.1 119.1ZM1449.9 114.1L1451.9 113.9L1453.1 115.1L1453.1 116.9L1452.1 117.1ZM1443.9 113.1L1445.9 112.9L1446.1 114.9L1445.1 115.1ZM1439.9 110.1L1440.9 109.9L1442.1 111.9L1440.1 112.1ZM1442.9 106.1L1444.9 105.9L1447.1 107.9L1443.1 108.1ZM1447.1 104.9L1448.1 105.1L1447.9 107.1L1446.9 106.9ZM1454.9 103.9L1455.1 104.9L1453.1 106.1L1453.1 108.9L1450.1 111.1L1450.1 113.9L1448.1 114.1L1448.9 109.1L1450.9 108.9L1450.9 107.1L1451.9 106.9L1450.9 104.1ZM1438.1 103.9L1440.1 105.1L1439.9 107.1L1437.9 106.9ZM1440.9 103.1L1441.9 102.9L1442.1 103.9L1441.1 104.1ZM1447.9 102.1L1448.9 101.9L1449.1 102.9L1448.1 103.1ZM1445.9 96.1L1447.1 96.1L1447.1 97.9L1450.9 96.9L1450.1 99.9L1452.9 99.9L1453.1 100.9L1451.9 102.1L1449.1 102.1L1448.9 100.1L1445.9 98.9ZM1448.9 93.1L1449.9 92.9L1450.1 93.9L1449.1 94.1ZM1459.1 68.1L1460.1 72.9L1462.9 73.9L1461.9 69.1Z" fill="#1f77b4"/><path transform="scale(0.25)" d="M5843 205h0m-1 8h0m6 3h0m-6 4h0m-4 10h0m4 2h0m-5 2h0m12 4h0m-13 2h0m-7 4h0m19 1h0m-11 1h0m8 11h0m6 9h0m-14 3h0m6 0h0m-34 2h0m24 3h0m0 0h0m-29 1h0m26 0h0m9 0h0m-29 3h0m28 2h0m-25 4h0m-4 2h0m-8 1h0m26 1h0m16 0h0m2 1h0m-35 1h0m-20 1h0m36 0h0m1 4h0m-10 2h0m11 0h0m2 0h0m6 0h0m-37 2h0m6 1h0m16 0h0m-14 1h0m6 0h0m9 6h0m-17 2h0m19 0h0m13 0h0m-24 2h0m-10 1h0m16 0h0m-7 1h0m-7 3h0m5 1h0m-14 1h0m13 1h0m27 0h0m0 3h0m-27 2h0m36 0h0m-27 1h0m26 1h0m-68 1h0m34 0h0m4 1h0m-16 1h0m-5 1h0m7 2h0m47 0h0m-30 3h0m16 0h0m-28 1h0m36 0h0m-67 3h0m22 1h0m16 0h0m19 0h0m-58 1h0m42 0h0m-35 3h0m-14 1h0m2 1h0m10 2h0m-1 1h0m26 0h0m-27 1h0m66 0h0m-60 1h0m28 0h0m18 1h0m2 1h0m-73 1h0m71 0h0m13 2h0m-19 3h0m-11 1h0m8 0h0m-53 1h0m4 1h0m47 0h0m32 0h0m-2 1h0m-5 1h0m-75 1h0m12 0h0m21 0h0m2 0h0m-32 1h0m32 0h0m-3 1h0m-13 1h0m36 0h0m-57 1h0m14 0h0m-15 1h0m65 0h0m2 0h0m-81 1h0m43 0h0m-15 1h0m4 0h0m23 2h0m-34 1h0m18 0h0m-24 2h0m73 0h0m-46 1h0m5 0h0m-11 1h0m-45 1h0m37 0h0m23 0h0m1 0h0m37 0h0m-74 1h0m53 0h0m2 0h0m22 0h0m-36 1h0m20 0h0m3 3h0m-40 1h0m55 0h0m-103 1h0m81 0h0m-75 1h0m30 0h0m55 1h0m17 0h0m-105 1h0m15 0h0m64 0h0m-71 1h0m17 0h0m30 0h0m7 0h0m18 0h0m6 1h0m-67 1h0m22 1h0m18 0h0m14 0h0m-83 1h0m67 0h0m-38 2h0m8 1h0m0 1h0m-11 1h0m2 0h0m1 0h0m3 0h0m20 0h0m28 0h0m-63 1h0m70 0h0m-86 1h0m17 0h0m33 0h0m22 0h0m-53 1h0m53 0h0m28 0h0m12 1h0m-33 1h0m27 0h0m9 0h0m-29 1h0m9 0h0m4 0h0m9 0h0m-104 2h0m63 0h0m2 0h0m0 0h0m20 0h0m-77 1h0m49 1h0m31 0h0m2 0h0m7 0h0m14 0h0m-65 2h0m38 0h0m-78 1h0m31 0h0m10 0h0m8 0h0m11 2h0m-72 1h0m35 0h0m26 0h0m2 0h0m36 0h0m-88 1h0m17 0h0m0 0h0m68 0h0m-86 1h0m16 0h0m2 0h0m1 0h0m11 0h0m37 0h0m20 0h0m1 0h0m-67 1h0m5 0h0m70 1h0m-100 1h0m59 0h0m-55 1h0m3 0h0m12 0h0m3 0h0m38 0h0m35 0h0m-95 1h0m19 0h0m19 0h0m-38 1h0m78 0h0m-34 1h0m-36 1h0m19 0h0m22 0h0m-45 2h0m56 0h0m51 0h0m-75 1h0m25 0h0m3 0h0m-33 1h0m9 0h0m34 0h0m28 0h0m1 0h0m-109 1h0m19 0h0m23 0h0m4 0h0m10 0h0m19 0h0m5 0h0m-72 1h0m21 0h0m-15 1h0m43 0h0m24 0h0m-58 1h0m24 0h0m-62 1h0m61 0h0m-18 1h0m37 0h0m-71 1h0m2 0h0m2 0h0m7 0h0m4 0h0m-16 1h0m41 0h0m5 0h0m-51 1h0m13 0h0m19 0h0m25 0h0m-39 1h0m40 0h0m22 0h0m-78 1h0m11 0h0m36 0h0m30 0h0m45 0h0m-48 1h0m2 2h0m6 0h0m-95 1h0m44 0h0m11 0h0m-61 1h0m17 0h0m15 0h0m100 0h0m-79 1h0m11 0h0m9 0h0m6 0h0m42 0h0m-98 1h0m51 0h0m59 0h0m-73 1h0m19 0h0m11 0h0m-26 1h0m51 0h0m5 1h0m-15 1h0m-107 1h0m1 0h0m91 0h0m26 0h0m-52 1h0m-8 1h0m63 0h0m-13 1h0m-15 2h0m27 0h0m-105 1h0m97 0h0m-38 1h0m2 0h0m8 0h0m8 0h0m24 0h0m-106 1h0m5 0h0m1 0h0m2 1h0m68 0h0m25 0h0m2 0h0m-120 1h0m6 0h0m1 0h0m0 1h0m93 0h0m10 0h0m-83 1h0m52 0h0m-31 1h0m-15 1h0m1 0h0m15 0h0m99 1h0m-38 1h0m-88 1h0m85 0h0m-59 1h0m66 0h0m-101 1h0m-24 1h0m15 0h0m47 0h0m-50 1h0m37 0h0m-31 1h0m68 0h0m31 0h0m39 0h0m-156 1h0m95 0h0m11 0h0m32 0h0m-84 1h0m63 0h0m-110 1h0m126 0h0m-93 1h0m-14 1h0m15 0h0m11 0h0m1 0h0m-39 1h0m5 0h0m57 0h0m-18 1h0m-47 1h0m13 0h0m34 0h0m20 1h0m20 0h0m16 0h0m21 0h0m-135 1h0m3 0h0m3 0h0m4 0h0m9 0h0m1 0h0m22 1h0m41 0h0m31 0h0m-35 1h0m5 0h0m-111 1h0m54 0h0m66 0h0m9 0h0m-53 1h0m35 0h0m-78 1h0m3 0h0m155 0h0m-106 1h0m29 0h0m-63 1h0m35 0h0m26 0h0m29 0h0m8 0h0m7 0h0m6 1h0m-138 1h0m44 0h0m46 1h0m-97 1h0m32 0h0m24 0h0m4 0h0m34 0h0m28 0h0m19 1h0m-105 1h0m-6 1h0m29 0h0m-42 1h0m43 0h0m2 0h0m2 0h0m3 0h0m-54 1h0m3 0h0m106 0h0m2 0h0m-128 1h0m29 2h0m73 0h0m21 0h0m3 0h0m2 0h0m-145 1h0m35 0h0m19 0h0m4 0h0m2 0h0m-6 1h0m44 0h0m-100 1h0m20 0h0m1 0h0m62 0h0m11 0h0m46 0h0m39 0h0m-136 1h0m84 0h0m36 0h0m-123 1h0m74 0h0m31 0h0m-139 1h0m13 0h0m4 0h0m5 0h0m67 0h0m-90 1h0m6 1h0m104 0h0m-89 1h0m97 0h0m-100 1h0m129 0h0m-65 1h0m-65 1h0m16 0h0m57 0h0m3 0h0m43 0h0m-101 1h0m94 0h0m-127 1h0m22 0h0m11 0h0m46 0h0m3 0h0m21 0h0m35 0h0m-49 1h0m30 0h0m11 1h0m2 0h0m-151 1h0m34 0h0m2 0h0m69 0h0m15 0h0m-81 1h0m114 0h0m6 0h0m-151 1h0m15 1h0m51 0h0m45 0h0m62 0h0m-183 1h0m76 0h0m18 0h0m-91 1h0m32 0h0m37 0h0m73 0h0m-120 1h0m7 0h0m3 0h0m33 0h0m90 0h0m-84 1h0m7 0h0m-64 2h0m10 0h0m53 1h0m2 0h0m30 0h0m2 0h0m-118 1h0m12 0h0m2 0h0m1 0h0m7 0h0m4 0h0m42 0h0m-61 1h0m28 0h0m62 0h0m72 0h0m-162 1h0m19 0h0m74 0h0m10 0h0m2 0h0m-9 2h0m52 0h0m-121 1h0m43 0h0m13 0h0m10 1h0m-84 2h0m54 0h0m22 0h0m-78 1h0m74 0h0m26 0h0m33 0h0m2 0h0m-135 1h0m59 0h0m29 0h0m-114 1h0m92 0h0m-107 1h0m18 0h0m23 0h0m93 0h0m-104 1h0m91 0h0m-85 1h0m183 0h0m-194 1h0m75 0h0m86 0h0m-162 1h0m3 1h0m88 0h0m0 2h0m45 0h0m-53 1h0m12 0h0m36 0h0m-132 1h0m139 0h0m-49 1h0m37 0h0m23 0h0m-9 1h0m16 0h0m-59 1h0m52 1h0m5 0h0m-56 1h0m8 0h0m9 0h0m-35 1h0m16 0h0m18 0h0m-145 1h0m27 0h0m126 0h0m5 0h0m4 0h0m2 0h0m11 0h0m3 0h0m-111 1h0m2 0h0m60 0h0m14 0h0m10 0h0m31 0h0m-189 1h0m38 0h0m86 0h0m-120 1h0m163 0h0m15 0h0m2 0h0m-53 1h0m22 0h0m-145 1h0m65 0h0m115 0h0m-114 1h0m103 0h0m4 0h0m-65 1h0m24 0h0m-107 1h0m117 0h0m12 0h0m29 0h0m-188 1h0m58 0h0m89 0h0m6 0h0m-100 1h0m9 0h0m63 0h0m13 0h0m1 0h0m3 0h0m-155 1h0m19 0h0m46 0h0m92 1h0m7 0h0m1 0h0m-84 1h0m-69 1h0m36 0h0m28 0h0m2 0h0m85 0h0m-97 1h0m5 0h0m54 0h0m40 0h0m-169 1h0m24 0h0m22 0h0m31 0h0m6 0h0m97 0h0m-202 1h0m35 0h0m31 0h0m18 0h0m28 0h0m72 0h0m0 0h0m8 0h0m-153 1h0m20 0h0m16 0h0m0 0h0m25 0h0m79 0h0m-157 1h0m3 0h0m16 0h0m28 0h0m113 0h0m14 0h0m-169 1h0m12 0h0m9 0h0m26 0h0m8 0h0m1 0h0m11 0h0m104 0h0m-149 1h0m1 0h0m2 0h0m154 0h0m-153 1h0m-5 1h0m4 0h0m163 1h0m-137 1h0m101 0h0m-163 1h0m73 0h0m-55 1h0m53 0h0m-89 1h0m26 0h0m25 0h0m136 0h0m-181 1h0m11 0h0m3 0h0m32 1h0m147 0h0m0 0h0m-165 1h0m11 0h0m6 1h0m152 0h0m-176 1h0m15 0h0m129 0h0m38 0h0m-223 1h0m39 0h0m5 0h0m140 0h0m-157 1h0m3 0h0m196 0h0m-195 1h0m19 0h0m5 0h0m82 0h0m70 0h0m-161 1h0m18 0h0m72 0h0m1 0h0m-86 1h0m10 0h0m7 0h0m146 1h0m-69 1h0m56 0h0m14 0h0m-164 1h0m150 0h0m107 0h0m-282 1h0m105 0h0m61 0h0m-179 1h0m37 0h0m0 0h0m93 0h0m63 0h0m14 0h0m-71 2h0m-99 1h0m1 0h0m2 0h0m2 0h0m87 1h0m-86 1h0m92 0h0m41 0h0m22 0h0m-156 1h0m78 0h0m38 0h0m1 0h0m-145 1h0m29 0h0m112 0h0m47 0h0m-27 1h0m5 0h0m-116 1h0m33 0h0m19 0h0m-74 1h0m23 0h0m9 0h0m62 0h0m-164 1h0m54 0h0m45 0h0m-30 1h0m30 0h0m2 0h0m7 0h0m20 0h0m79 0h0m-182 1h0m117 0h0m49 0h0m20 0h0m-164 1h0m20 0h0m2 0h0m31 0h0m93 0h0m3 0h0m-146 1h0m12 0h0m45 0h0m85 0h0m-155 1h0m69 0h0m87 0h0m-89 1h0m26 0h0m11 0h0m1 0h0m29 0h0m22 0h0m-211 1h0m149 0h0m13 0h0m40 0h0m9 0h0m-165 1h0m3 0h0m9 0h0m145 0h0m7 0h0m-184 1h0m83 0h0m6 0h0m-84 1h0m37 0h0m41 0h0m2 0h0m36 0h0m14 0h0m-125 1h0m24 0h0m55 0h0m140 0h0m-228 1h0m18 0h0m6 0h0m58 0h0m49 0h0m5 0h0m-51 1h0m-107 1h0m17 0h0m14 0h0m27 0h0m53 0h0m1 0h0m5 0h0m36 0h0m34 0h0m10 0h0m-154 1h0m62 0h0m92 0h0m5 0h0m-96 1h0m9 0h0m27 0h0m57 0h0m-17 2h0m17 1h0m-155 1h0m4 0h0m148 0h0m21 0h0m-173 2h0m158 0h0m18 0h0m8 0h0m14 0h0m-239 1h0m13 0h0m165 0h0m-188 1h0m190 0h0m-168 1h0m170 0h0m-178 1h0m254 0h0m-243 1h0m7 0h0m32 0h0m135 0h0m-6 1h0m1 0h0m3 0h0m8 0h0m-157 1h0m130 0h0m10 0h0m13 1h0m-153 1h0m125 0h0m7 0h0m35 0h0m-188 1h0m35 0h0m-20 1h0m15 0h0m121 0h0m1 0h0m18 0h0m-169 1h0m31 0h0m119 0h0m-134 1h0m19 0h0m1 0h0m88 0h0m45 0h0m23 0h0m-168 1h0m8 0h0m120 0h0m3 0h0m2 0h0m-21 1h0m-101 1h0m93 0h0m-110 1h0m13 0h0m-61 1h0m165 0h0m-159 1h0m12 0h0m31 0h0m2 0h0m116 0h0m-117 1h0m115 0h0m-152 1h0m136 0h0m-138 1h0m147 0h0m45 0h0m-191 1h0m136 0h0m21 0h0m34 0h0m9 0h0m-223 1h0m12 0h0m14 0h0m145 0h0m7 0h0m-165 3h0m152 0h0m16 0h0m29 0h0m6 0h0m-218 1h0m17 0h0m169 0h0m-19 1h0m-151 1h0m-21 1h0m166 0h0m19 1h0m-193 2h0m23 0h0m189 0h0m-181 1h0m191 1h0m-230 2h0m-6 2h0m31 0h0m2 0h0m210 0h0m-230 1h0m24 1h0m-18 3h0m8 0h0m-19 1h0m6 0h0m10 0h0m19 0h0m185 0h0m-238 1h0m34 0h0m9 0h0m-20 1h0m0 0h0m1 2h0m14 0h0m-32 1h0m223 0h0m-219 1h0m9 0h0m15 0h0m6 0h0m171 1h0m-192 1h0m11 1h0m183 0h0m6 0h0m-195 2h0m2 0h0m5 0h0m-22 1h0m14 0h0m-4 1h0m6 0h0m196 0h0m17 0h0m-244 1h0m33 0h0m-19 1h0m18 0h0m184 0h0m-200 1h0m7 0h0m4 1h0m201 0h0m-8 1h0m-214 1h0m17 0h0m208 2h0m-9 2h0m-248 1h0m31 0h0m21 1h0m-19 1h0m204 0h0m-190 1h0m1 0h0m198 0h0m-211 1h0m6 0h0m0 1h0m-33 1h0m26 0h0m11 0h0m194 0h0m-214 1h0m0 0h0m213 0h0m-216 1h0m18 0h0m-44 1h0m21 0h0m16 1h0m190 0h0m-228 1h0m19 0h0m3 0h0m231 0h0m-225 1h0m12 0h0m-30 1h0m34 0h0m-28 1h0m211 0h0m-221 1h0m6 0h0m14 0h0m0 0h0m4 0h0m8 0h0m7 0h0m-45 2h0m9 0h0m2 0h0m-21 3h0m257 0h0m0 1h0m-261 1h0m7 0h0m213 0h0m-319 1h0m349 0h0m34 0h0m-70 1h0m-3 1h0m2 0h0m20 0h0m-229 2h0m5 0h0m6 1h0m7 1h0m205 0h0m-229 1h0m3 0h0m244 1h0m-244 1h0m226 0h0m-246 1h0m16 0h0m222 0h0m12 0h0m61 1h0m-300 1h0m1 0h0m18 0h0m-40 1h0m27 0h0m-12 1h0m16 0h0m191 1h0m-215 2h0m23 0h0m-9 1h0m197 0h0m33 0h0m-230 1h0m-27 4h0m28 0h0m236 0h0m-68 1h0m10 0h0m13 0h0m20 0h0m-234 1h0m199 0h0m6 0h0m40 0h0m8 1h0m-251 1h0m2 0h0m17 0h0m-41 2h0m14 0h0m5 1h0m7 0h0m200 0h0m9 0h0m3 0h0m-27 1h0m-184 1h0m14 2h0m175 0h0m9 0h0m38 0h0m-252 1h0m21 0h0m171 0h0m14 0h0m-177 1h0m208 0h0m-218 1h0m13 0h0m-33 1h0m18 0h0m194 0h0m-221 1h0m0 0h0m25 0h0m-38 2h0m39 0h0m178 0h0m17 0h0m40 0h0m-250 1h0m1 0h0m2 0h0m19 0h0m7 0h0m172 0h0m-54 1h0m48 0h0m-223 2h0m29 0h0m6 0h0m0 0h0m205 0h0m-254 1h0m251 0h0m-206 1h0m146 0h0m-182 1h0m22 0h0m20 0h0m144 0h0m62 0h0m-222 1h0m200 0h0m-35 1h0m33 0h0m-195 1h0m9 0h0m53 0h0m93 0h0m52 0h0m-244 1h0m27 0h0m21 0h0m55 0h0m93 0h0m48 0h0m-141 1h0m5 0h0m71 0h0m17 0h0m-105 1h0m13 0h0m87 0h0m-186 1h0m7 0h0m15 0h0m75 0h0m155 0h0m15 0h0m-255 1h0m22 0h0m6 0h0m55 0h0m79 0h0m40 0h0m-243 1h0m33 0h0m20 0h0m162 0h0m2 0h0m24 0h0m6 0h0m-194 1h0m10 0h0m230 0h0m-277 1h0m1 0h0m55 0h0m62 0h0m143 0h0m-147 1h0m132 0h0m-255 1h0m26 0h0m18 0h0m6 0h0m77 0h0m73 0h0m8 0h0m27 0h0m9 0h0m-3 1h0m3 0h0m1 0h0m-241 1h0m32 0h0m8 0h0m3 0h0m64 0h0m4 0h0m104 0h0m129 0h0m-323 1h0m196 0h0m73 0h0m-179 1h0m8 0h0m-89 1h0m7 0h0m220 0h0m-271 1h0m1 0h0m118 0h0m-104 1h0m107 0h0m113 0h0m-12 1h0m-104 1h0m7 0h0m9 0h0m107 1h0m-23 1h0m-212 1h0m7 0h0m-33 1h0m39 0h0m231 0h0m55 0h0m-294 1h0m239 0h0m-16 1h0m9 0h0m-229 2h0m-19 1h0m228 0h0m-219 1h0m1 1h0m1 0h0m231 0h0m-242 2h0m225 0h0m9 0h0m11 0h0m-284 1h0m27 0h0m23 0h0m0 0h0m-26 1h0m240 0h0m-238 2h0m27 0h0m196 0h0m35 0h0m-274 1h0m16 0h0m-16 1h0m37 0h0m203 0h0m-224 1h0m-14 1h0m467 0h0m-471 1h0m15 0h0m4 0h0m-12 1h0m11 0h0m5 0h0m217 0h0m8 1h0m-248 1h0m9 1h0m222 0h0m9 0h0m-217 1h0m259 2h0m-265 1h0m-13 2h0m10 0h0m10 0h0m-31 1h0m223 0h0m5 1h0m12 0h0m-21 1h0m-5 1h0m1 0h0m-227 2h0m237 0h0m30 0h0m-46 1h0m-5 1h0m41 0h0m-245 1h0m265 0h0m-58 3h0m-218 2h0m2 0h0m13 0h0m201 0h0m4 0h0m11 0h0m5 0h0m-247 1h0m2 0h0m7 0h0m220 0h0m-236 2h0m19 0h0m3 0h0m-42 1h0m28 0h0m10 0h0m211 0h0m12 0h0m-245 1h0m26 1h0m-1 1h0m-49 1h0m248 0h0m-204 1h0m204 0h0m-213 1h0m252 0h0m-242 1h0m193 0h0m-230 1h0m11 0h0m9 0h0m241 0h0m-226 1h0m6 0h0m114 0h0m84 0h0m8 0h0m66 0h0m-284 1h0m0 0h0m-73 1h0m63 0h0m5 1h0m130 0h0m15 0h0m-169 1h0m7 1h0m166 0h0m53 0h0m12 0h0m17 0h0m-100 1h0m16 0h0m-174 1h0m260 0h0m-257 1h0m167 0h0m5 0h0m43 0h0m-48 1h0m5 1h0m41 0h0m20 2h0m26 0h0m-261 1h0m155 0h0m15 0h0m62 0h0m-72 1h0m16 0h0m30 0h0m2 0h0m41 0h0m-270 1h0m31 0h0m154 0h0m-169 1h0m238 0h0m10 0h0m-241 1h0m163 0h0m37 0h0m-39 1h0m2 0h0m11 0h0m-188 1h0m169 0h0m2 0h0m-175 1h0m13 0h0m2 0h0m156 0h0m24 0h0m-22 1h0m17 0h0m44 0h0m-16 1h0m-223 1h0m4 0h0m11 0h0m218 0h0m19 0h0m-61 1h0m-1 1h0m5 0h0m-188 2h0m1 0h0m229 0h0m-53 1h0m3 0h0m85 0h0m-287 1h0m214 0h0m-4 1h0m25 0h0m3 0h0m-227 1h0m194 2h0m-196 1h0m1 0h0m5 0h0m237 0h0m-239 2h0m8 2h0m-28 1h0m-5 2h0m16 0h0m6 0h0m-9 1h0m252 1h0m-263 1h0m206 0h0m41 0h0m-254 1h0m-7 1h0m23 0h0m299 0h0m-300 2h0m245 0h0m-245 1h0m-3 1h0m198 0h0m11 1h0m2 0h0m4 0h0m-28 1h0m-205 1h0m14 0h0m224 0h0m13 0h0m-272 1h0m201 0h0m5 0h0m38 0h0m-34 1h0m-21 1h0m73 0h0m-52 1h0m55 0h0m-65 1h0m61 0h0m-232 1h0m211 0h0m36 0h0m-257 2h0m227 0h0m-59 1h0m-169 1h0m4 0h0m173 0h0m-184 2h0m187 0h0m66 0h0m-241 1h0m-22 2h0m11 0h0m248 0h0m-274 1h0m11 0h0m12 1h0m143 0h0m-143 1h0m7 0h0m199 0h0m-52 2h0m-166 1h0m158 0h0m115 0h0m-299 1h0m270 0h0m-260 1h0m185 0h0m47 0h0m-2 1h0m9 0h0m42 0h0m-275 1h0m12 0h0m189 0h0m-216 1h0m16 0h0m6 0h0m166 0h0m-175 1h0m3 0h0m181 0h0m27 0h0m-44 1h0m68 0h0m-72 1h0m-159 1h0m151 0h0m-159 3h0m159 0h0m144 0h0m102 0h0m-230 1h0m117 0h0m-325 1h0m33 0h0m159 0h0m36 0h0m-238 1h0m24 0h0m1 0h0m18 0h0m211 0h0m-201 1h0m-5 1h0m4 0h0m149 0h0m-155 1h0m4 0h0m1 0h0m-28 1h0m195 0h0m11 0h0m-184 1h0m151 0h0m53 0h0m-213 1h0m6 0h0m151 0h0m26 0h0m14 0h0m-214 1h0m31 0h0m147 0h0m5 0h0m-172 1h0m172 0h0m8 0h0m1 0h0m15 0h0m21 0h0m-232 1h0m34 0h0m1 0h0m-7 1h0m9 0h0m137 0h0m3 0h0m54 0h0m-252 1h0m14 0h0m39 0h0m-34 1h0m4 0h0m11 0h0m19 0h0m-45 2h0m8 0h0m210 0h0m-208 1h0m221 0h0m-256 1h0m25 0h0m222 0h0m-237 1h0m283 0h0m-244 1h0m144 0h0m-151 1h0m164 0h0m-168 1h0m182 0h0m20 0h0m-232 1h0m40 0h0m161 0h0m-160 1h0m146 0h0m20 0h0m178 0h0m-411 1h0m69 0h0m197 0h0m-225 1h0m7 1h0m5 0h0m-45 1h0m6 0h0m210 0h0m-171 1h0m11 0h0m0 0h0m307 0h0m-398 1h0m35 0h0m42 0h0m-51 1h0m19 0h0m42 0h0m11 0h0m167 0h0m-202 1h0m296 0h0m-275 1h0m4 0h0m-13 1h0m13 0h0m7 0h0m6 0h0m149 0h0m-188 1h0m-12 1h0m4 0h0m8 0h0m2 0h0m15 0h0m149 0h0m13 0h0m-199 1h0m209 0h0m-172 1h0m-88 1h0m47 0h0m11 0h0m30 0h0m1 0h0m7 0h0m-68 1h0m17 0h0m213 0h0m-216 1h0m199 0h0m-235 1h0m27 0h0m7 0h0m16 0h0m185 1h0m-15 1h0m20 1h0m203 0h0m9 0h0m-436 1h0m15 0h0m-11 1h0m17 0h0m4 0h0m1 0h0m-11 1h0m1 0h0m-4 1h0m238 0h0m-234 1h0m5 0h0m-56 1h0m32 0h0m25 0h0m2 0h0m4 0h0m186 0h0m-209 1h0m-1 1h0m198 0h0m-205 1h0m-7 1h0m8 0h0m27 0h0m-19 2h0m10 0h0m9 0h0m-1 1h0m-37 1h0m27 0h0m11 0h0m2 0h0m1 0h0m152 0h0m-185 1h0m5 0h0m8 0h0m13 0h0m166 0h0m10 0h0m-216 1h0m29 0h0m11 0h0m149 0h0m19 0h0m224 0h0m-451 1h0m29 0h0m4 0h0m7 0h0m4 0h0m12 0h0m8 0h0m148 0h0m11 0h0m-199 1h0m196 0h0m-207 1h0m43 0h0m137 1h0m-207 1h0m18 0h0m11 0h0m19 0h0m31 0h0m178 0h0m-220 1h0m4 0h0m-18 1h0m14 0h0m168 1h0m16 0h0m-184 2h0m175 0h0m4 0h0m-177 1h0m176 0h0m-201 1h0m14 0h0m11 0h0m276 0h0m-299 1h0m17 0h0m5 0h0m-32 1h0m10 0h0m2 0h0m10 0h0m6 0h0m75 0h0m1 0h0m4 0h0m1 0h0m104 0h0m-226 1h0m130 0h0m-15 1h0m1 0h0m-104 2h0m104 0h0m89 0h0m-175 1h0m101 0h0m2 0h0m1 0h0m-102 1h0m172 0h0m16 0h0m-200 1h0m-1 1h0m96 0h0m87 1h0m-192 1h0m120 0h0m-14 1h0m12 0h0m-156 1h0m143 0h0m11 0h0m74 0h0m-225 1h0m44 0h0m1 0h0m-21 1h0m6 0h0m124 0h0m2 0h0m0 0h0m0 0h0m-121 1h0m7 0h0m108 0h0m90 0h0m-221 1h0m10 0h0m22 0h0m105 0h0m4 0h0m58 0h0m1 0h0m26 0h0m-241 1h0m3 0h0m139 0h0m67 0h0m34 0h0m-221 1h0m18 0h0m113 0h0m-134 1h0m7 0h0m6 0h0m4 0h0m8 0h0m104 0h0m1 0h0m-123 2h0m-14 1h0m21 0h0m325 0h0m-351 1h0m18 0h0m3 0h0m8 0h0m2 0h0m161 0h0m2 0h0m-196 1h0m28 0h0m159 0h0m49 0h0m-243 1h0m10 0h0m1 1h0m4 0h0m1 0h0m233 1h0m-241 1h0m242 0h0m-243 1h0m12 0h0m185 0h0m-184 1h0m261 0h0m22 0h0m-306 1h0m6 1h0m2 0h0m12 0h0m177 0h0m6 0h0m-210 1h0m2 1h0m9 0h0m-62 1h0m33 3h0m12 0h0m-7 1h0m-4 1h0m15 0h0m-3 1h0m-2 1h0m201 1h0m-42 1h0m14 0h0m52 0h0m-242 1h0m12 0h0m179 0h0m-202 1h0m22 0h0m4 0h0m194 0h0m2 0h0m-18 1h0m48 0h0m-230 1h0m0 0h0m0 0h0m209 0h0m-223 1h0m16 0h0m179 0h0m6 0h0m-205 1h0m7 1h0m186 0h0m6 0h0m-186 1h0m4 0h0m4 0h0m0 0h0m155 0h0m48 0h0m-223 1h0m3 0h0m5 0h0m-20 1h0m5 0h0m14 0h0m1 0h0m180 0h0m-226 1h0m15 0h0m198 0h0m226 0h0m-411 1h0m15 0h0m15 0h0m-27 1h0m18 0h0m-5 1h0m5 0h0m164 0h0m3 0h0m32 0h0m-233 1h0m206 0h0m17 0h0m18 1h0m-257 1h0m22 0h0m20 0h0m-7 1h0m1 0h0m-13 1h0m1 0h0m2 0h0m10 0h0m178 0h0m-187 1h0m16 0h0m155 0h0m-192 2h0m6 0h0m15 0h0m-3 1h0m325 0h0m-326 1h0m2 0h0m220 0h0m-236 1h0m-8 1h0m12 0h0m173 0h0m40 1h0m-58 1h0m-161 1h0m3 0h0m151 0h0m4 0h0m0 0h0m14 0h0m-179 1h0m18 0h0m4 0h0m161 0h0m-190 1h0m22 0h0m151 0h0m-154 2h0m195 0h0m14 0h0m-56 1h0m92 1h0m-250 1h0m-19 1h0m3 0h0m9 0h0m177 0h0m21 0h0m-219 2h0m204 0h0m-177 1h0m188 0h0m20 0h0m90 0h0m-306 1h0m116 0h0m9 0h0m43 0h0m-191 2h0m15 0h0m123 0h0m40 0h0m-165 1h0m134 0h0m-151 2h0m22 0h0m-6 2h0m131 0h0m55 0h0m-210 1h0m22 0h0m106 0h0m54 0h0m-169 1h0m8 0h0m110 0h0m25 0h0m2 0h0m13 0h0m18 0h0m-173 1h0m254 0h0m-272 1h0m18 0h0m140 0h0m-140 1h0m122 0h0m3 0h0m-125 1h0m-18 1h0m179 0h0m-169 1h0m197 0h0m-70 1h0m14 0h0m5 0h0m-158 1h0m145 1h0m-139 1h0m149 0h0m4 0h0m15 0h0m16 0h0m15 0h0m-211 1h0m9 0h0m4 0h0m124 0h0m7 0h0m-144 1h0m5 0h0m162 0h0m-154 1h0m117 1h0m60 1h0m-62 1h0m1 0h0m55 0h0m-188 1h0m14 0h0m4 0h0m124 1h0m-133 1h0m137 1h0m-26 1h0m27 0h0m7 0h0m4 0h0m-149 4h0m154 0h0m-161 1h0m7 0h0m111 0h0m-112 1h0m127 0h0m2 0h0m17 1h0m-154 2h0m1 0h0m108 0h0m9 0h0m34 1h0m-141 1h0m112 1h0m17 0h0m-129 1h0m147 0h0m-146 1h0m-11 1h0m7 1h0m3 0h0m-5 1h0m192 0h0m-89 1h0m-20 1h0m54 0h0m-142 1h0m3 1h0m94 2h0m25 0h0m-112 1h0m95 0h0m-98 1h0m2 0h0m1 0h0m26 0h0m-31 1h0m5 0h0m1 0h0m19 1h0m6 0h0m11 0h0m26 1h0m-66 1h0m-8 1h0m8 0h0m52 0h0m-12 1h0m6 0h0m26 0h0" fill="none" stroke="#1f77b4" stroke-opacity="0.75" stroke-width="8.8" stroke-linecap="round"/><path transform="scale(0.25)" d="M5840 223h0m-7 9h0m17 1h0m-13 3h0m-4 8h0m14 7h0m-9 3h0m-12 6h0m20 0h0m-33 1h0m23 0h0m9 1h0m-10 4h0m3 4h0m-2 1h0m-2 1h0m6 4h0m1 0h0m-4 4h0m-13 2h0m18 1h0m-26 1h0m4 2h0m-1 1h0m23 3h0m-38 1h0m12 3h0m-28 5h0m29 2h0m1 0h0m10 0h0m18 0h0m-39 1h0m24 0h0m-17 1h0m35 1h0m-40 3h0m18 1h0m-11 1h0m6 0h0m28 0h0m-24 1h0m3 1h0m0 3h0m2 0h0m-39 1h0m15 0h0m16 4h0m9 0h0m-44 3h0m14 0h0m32 2h0m-24 1h0m3 1h0m-25 1h0m36 0h0m-15 1h0m2 0h0m-34 1h0m27 0h0m21 0h0m0 1h0m-7 3h0m31 0h0m-39 1h0m13 0h0m-3 1h0m9 0h0m15 0h0m-33 1h0m-12 1h0m51 0h0m-74 1h0m1 2h0m2 0h0m15 0h0m5 0h0m19 1h0m-51 1h0m17 0h0m2 0h0m10 0h0m40 0h0m-55 1h0m41 0h0m-36 1h0m19 0h0m-31 1h0m5 1h0m5 0h0m5 0h0m3 2h0m8 0h0m-13 1h0m52 0h0m-67 3h0m68 0h0m10 0h0m-75 1h0m6 2h0m-5 1h0m73 0h0m-54 1h0m13 0h0m2 0h0m16 1h0m-65 1h0m1 0h0m18 0h0m-9 1h0m5 0h0m-9 1h0m5 0h0m5 0h0m-18 1h0m77 0h0m-75 1h0m39 0h0m23 0h0m22 0h0m3 0h0m-86 1h0m24 1h0m29 0h0m-31 2h0m-16 1h0m21 1h0m37 0h0m4 0h0m-70 1h0m21 0h0m21 0h0m-1 1h0m16 0h0m19 0h0m-87 1h0m12 0h0m4 0h0m23 0h0m14 0h0m-34 1h0m-6 1h0m46 0h0m15 0h0m-32 1h0m-32 2h0m9 0h0m36 0h0m-55 2h0m35 0h0m0 0h0m-43 1h0m19 0h0m3 0h0m23 0h0m9 0h0m24 0h0m29 0h0m-37 1h0m-49 1h0m-14 1h0m6 1h0m36 0h0m13 0h0m-16 1h0m36 1h0m-74 1h0m54 0h0m17 0h0m-14 1h0m5 0h0m-8 1h0m-12 3h0m12 0h0m-58 1h0m31 0h0m19 0h0m4 0h0m0 0h0m7 0h0m30 0h0m-27 1h0m11 0h0m18 0h0m-57 1h0m27 0h0m10 0h0m7 0h0m21 0h0m-94 2h0m49 0h0m13 0h0m-68 1h0m34 0h0m39 1h0m8 1h0m-3 1h0m-91 1h0m49 0h0m-34 1h0m45 0h0m58 0h0m-99 1h0m7 0h0m5 0h0m67 0h0m3 0h0m-93 1h0m31 0h0m-17 1h0m-5 1h0m17 0h0m32 1h0m7 0h0m5 0h0m-50 1h0m39 0h0m15 0h0m1 0h0m-46 1h0m2 0h0m22 0h0m3 1h0m-55 2h0m39 0h0m48 0h0m-74 1h0m4 0h0m61 0h0m16 0h0m-80 1h0m16 0h0m60 0h0m-99 2h0m34 0h0m0 0h0m4 0h0m61 0h0m-92 1h0m23 1h0m13 0h0m2 0h0m12 0h0m-45 1h0m31 0h0m4 0h0m13 0h0m-27 1h0m16 0h0m16 1h0m42 0h0m-108 1h0m33 0h0m-41 1h0m21 0h0m-1 1h0m5 0h0m5 1h0m59 0h0m37 0h0m-93 1h0m62 0h0m-67 1h0m41 0h0m-61 1h0m17 0h0m28 0h0m15 0h0m-25 1h0m21 0h0m36 0h0m-73 1h0m42 0h0m37 0h0m7 0h0m-83 2h0m24 1h0m-43 2h0m27 0h0m43 0h0m11 0h0m-87 3h0m40 0h0m40 0h0m22 0h0m-99 1h0m39 0h0m-51 2h0m33 0h0m38 0h0m22 0h0m0 0h0m-92 1h0m83 0h0m5 0h0m-106 1h0m34 0h0m45 1h0m3 0h0m-77 1h0m72 0h0m-17 1h0m9 0h0m33 0h0m-112 1h0m70 0h0m3 0h0m50 0h0m-49 1h0m-53 1h0m42 0h0m2 0h0m56 0h0m-28 1h0m-60 1h0m56 0h0m18 0h0m-81 1h0m107 0h0m-113 1h0m10 0h0m67 1h0m23 0h0m9 0h0m2 0h0m-110 1h0m10 0h0m56 0h0m15 0h0m-72 1h0m106 0h0m-109 1h0m49 0h0m53 0h0m22 0h0m-145 1h0m100 0h0m-14 1h0m14 0h0m43 0h0m-128 1h0m66 0h0m11 0h0m6 0h0m-84 1h0m5 0h0m59 0h0m-61 1h0m69 0h0m15 0h0m11 0h0m8 0h0m-111 1h0m2 1h0m95 0h0m4 0h0m-65 1h0m34 0h0m-70 1h0m30 0h0m-27 1h0m107 0h0m17 1h0m-112 1h0m12 0h0m-19 1h0m6 0h0m80 0h0m-106 1h0m127 0h0m-135 1h0m20 1h0m-13 1h0m119 0h0m-125 1h0m102 0h0m7 1h0m-109 1h0m14 0h0m10 0h0m24 0h0m33 0h0m9 0h0m37 0h0m16 0h0m-56 2h0m34 0h0m17 0h0m12 0h0m-133 1h0m19 0h0m21 0h0m14 0h0m-13 1h0m-37 1h0m51 0h0m14 0h0m-77 1h0m17 0h0m47 0h0m7 0h0m49 0h0m-107 2h0m111 0h0m-26 1h0m-30 1h0m-29 1h0m23 0h0m9 0h0m9 0h0m0 0h0m33 0h0m-81 1h0m39 0h0m30 0h0m-107 1h0m2 0h0m21 0h0m-44 1h0m60 0h0m6 0h0m35 0h0m-89 1h0m2 0h0m27 0h0m29 0h0m-17 2h0m1 0h0m50 0h0m37 0h0m4 0h0m-122 1h0m37 0h0m-23 1h0m34 0h0m47 0h0m7 0h0m-118 1h0m27 0h0m4 0h0m63 0h0m-30 1h0m59 0h0m49 0h0m-134 2h0m17 0h0m-38 1h0m96 0h0m-49 1h0m-76 2h0m31 1h0m2 0h0m16 0h0m86 1h0m-128 1h0m8 0h0m1 0h0m118 0h0m0 0h0m-111 1h0m15 0h0m30 0h0m12 0h0m4 0h0m8 0h0m13 0h0m3 1h0m5 0h0m29 0h0m-96 1h0m2 0h0m81 0h0m-142 2h0m22 0h0m69 0h0m23 0h0m18 0h0m-112 1h0m11 0h0m99 0h0m6 0h0m9 0h0m-132 1h0m134 0h0m-48 1h0m57 0h0m-124 1h0m51 0h0m34 0h0m24 1h0m7 0h0m-57 1h0m-4 1h0m-90 1h0m83 0h0m7 0h0m8 0h0m18 2h0m-103 1h0m17 0h0m87 0h0m47 0h0m-142 1h0m30 0h0m68 0h0m-69 1h0m28 0h0m60 0h0m-139 1h0m12 0h0m14 0h0m3 0h0m101 0h0m-50 1h0m-58 1h0m31 0h0m-88 1h0m33 1h0m-2 1h0m68 0h0m15 0h0m-76 1h0m79 0h0m-20 1h0m31 0h0m-178 1h0m79 0h0m70 0h0m3 0h0m29 0h0m46 0h0m-238 1h0m112 1h0m1 0h0m50 0h0m93 0h0m-57 1h0m-127 1h0m-15 1h0m33 0h0m88 0h0m-91 1h0m79 0h0m23 0h0m-121 1h0m26 0h0m89 0h0m50 0h0m-176 1h0m32 0h0m100 0h0m-113 1h0m74 1h0m14 1h0m-83 2h0m75 0h0m46 0h0m-37 1h0m-87 2h0m127 0h0m3 0h0m-138 2h0m11 1h0m144 0h0m-158 1h0m10 0h0m1 1h0m110 0h0m-148 1h0m126 0h0m55 0h0m-62 1h0m-99 1h0m165 0h0m1 0h0m-178 1h0m130 0h0m23 0h0m-152 1h0m14 0h0m9 0h0m84 0h0m59 0h0m-181 1h0m38 0h0m125 1h0m-140 1h0m14 0h0m38 0h0m57 0h0m-64 1h0m97 0h0m2 0h0m11 0h0m-100 1h0m66 0h0m-132 2h0m31 0h0m19 0h0m64 0h0m1 0h0m1 0h0m5 0h0m4 0h0m34 0h0m-165 1h0m26 0h0m43 0h0m51 0h0m-82 1h0m20 0h0m14 0h0m105 0h0m-172 1h0m5 0h0m55 0h0m-64 1h0m24 0h0m5 0h0m87 0h0m54 0h0m-192 1h0m142 0h0m-69 1h0m-25 1h0m6 0h0m5 0h0m14 0h0m7 0h0m103 0h0m20 0h0m-163 1h0m56 0h0m56 0h0m17 0h0m19 0h0m-156 1h0m15 1h0m12 0h0m148 0h0m-149 1h0m19 0h0m-55 1h0m39 0h0m15 0h0m-45 2h0m38 0h0m4 0h0m-34 1h0m20 0h0m131 1h0m-197 1h0m24 0h0m13 0h0m3 0h0m3 0h0m33 0h0m142 1h0m9 0h0m-147 2h0m-46 1h0m-15 1h0m-28 2h0m19 0h0m153 0h0m11 0h0m26 0h0m-176 1h0m18 0h0m138 0h0m-158 1h0m2 0h0m13 0h0m3 1h0m132 0h0m-149 1h0m10 0h0m8 0h0m146 0h0m-188 1h0m15 0h0m18 0h0m10 0h0m125 0h0m-140 1h0m-3 1h0m102 0h0m-106 1h0m-21 1h0m26 0h0m-28 1h0m7 0h0m11 0h0m101 0h0m1 0h0m-104 1h0m105 0h0m-90 1h0m-52 1h0m131 0h0m13 0h0m-8 2h0m-107 1h0m21 0h0m0 0h0m138 0h0m-159 1h0m107 0h0m47 0h0m13 0h0m-160 1h0m9 0h0m4 0h0m116 0h0m-154 1h0m20 0h0m4 0h0m3 0h0m9 0h0m3 1h0m3 0h0m-15 1h0m9 1h0m10 0h0m66 0h0m5 0h0m17 0h0m37 0h0m9 0h0m6 0h0m-170 1h0m3 0h0m11 0h0m13 0h0m3 0h0m55 0h0m80 0h0m70 0h0m-285 1h0m39 0h0m7 0h0m14 0h0m14 0h0m105 0h0m15 0h0m-153 1h0m26 0h0m11 0h0m2 0h0m32 0h0m-90 1h0m24 0h0m8 0h0m19 0h0m36 0h0m4 0h0m72 0h0m13 0h0m94 0h0m-258 1h0m21 0h0m23 0h0m73 0h0m34 0h0m5 0h0m-165 1h0m42 0h0m30 0h0m11 0h0m113 0h0m-204 1h0m38 0h0m0 0h0m80 0h0m51 0h0m2 0h0m-176 1h0m130 0h0m41 0h0m4 0h0m44 0h0m-209 1h0m39 0h0m120 0h0m18 1h0m-169 1h0m12 0h0m103 0h0m8 0h0m41 0h0m18 0h0m-75 1h0m2 0h0m57 0h0m4 0h0m9 0h0m-156 1h0m46 0h0m92 0h0m1 0h0m10 0h0m-62 1h0m-42 1h0m4 0h0m45 0h0m1 0h0m2 1h0m-126 1h0m75 0h0m102 0h0m5 0h0m-186 1h0m-9 1h0m28 0h0m184 0h0m-208 1h0m29 0h0m146 0h0m1 0h0m-161 1h0m12 0h0m165 0h0m6 1h0m-162 1h0m124 0h0m1 0h0m24 0h0m-158 1h0m124 0h0m8 0h0m13 0h0m1 0h0m2 0h0m16 0h0m-205 2h0m46 0h0m145 0h0m-189 1h0m4 0h0m11 0h0m35 0h0m-33 1h0m167 2h0m-175 1h0m-13 1h0m154 0h0m25 0h0m23 0h0m-200 1h0m8 0h0m9 0h0m29 0h0m106 0h0m14 0h0m16 0h0m25 0h0m4 0h0m-210 1h0m34 0h0m117 1h0m1 0h0m15 0h0m34 0h0m-150 1h0m88 0h0m10 0h0m14 0h0m5 0h0m-186 1h0m63 0h0m135 0h0m-179 1h0m187 1h0m2 0h0m-158 1h0m17 0h0m0 0h0m-84 1h0m68 1h0m122 0h0m-166 1h0m154 0h0m43 0h0m-213 1h0m18 1h0m145 0h0m-171 1h0m30 0h0m162 0h0m-156 1h0m-31 1h0m12 0h0m18 0h0m132 0h0m-165 1h0m18 0h0m4 0h0m161 0h0m39 0h0m-213 1h0m166 0h0m32 0h0m-36 3h0m13 0h0m-213 1h0m38 0h0m11 0h0m3 0h0m201 1h0m-203 3h0m-6 2h0m2 1h0m-25 1h0m10 0h0m8 0h0m203 0h0m-13 1h0m-8 1h0m-188 1h0m-6 1h0m9 0h0m-17 1h0m6 0h0m216 0h0m-235 1h0m38 0h0m198 0h0m-263 1h0m53 0h0m8 0h0m-49 2h0m19 0h0m237 0h0m-218 1h0m205 1h0m-208 1h0m2 0h0m10 0h0m186 0h0m-10 1h0m22 0h0m2 0h0m-218 1h0m-28 1h0m24 0h0m1 0h0m9 0h0m-44 1h0m33 0h0m6 0h0m-34 1h0m41 0h0m0 0h0m-7 1h0m233 0h0m-241 1h0m-9 2h0m210 0h0m-205 1h0m-40 1h0m237 0h0m-305 1h0m318 1h0m-233 1h0m2 0h0m11 0h0m9 0h0m198 0h0m-244 1h0m57 0h0m194 0h0m-248 1h0m27 0h0m-6 2h0m20 1h0m10 0h0m-13 1h0m231 0h0m-19 1h0m2 0h0m-240 1h0m213 0h0m-192 1h0m6 0h0m7 0h0m-2 1h0m1 0h0m187 0h0m10 0h0m-236 1h0m236 0h0m-203 1h0m212 0h0m-253 1h0m274 0h0m4 0h0m-348 1h0m109 0h0m230 0h0m6 1h0m-270 1h0m6 1h0m4 0h0m5 0h0m17 0h0m204 0h0m-244 1h0m35 0h0m9 0h0m182 0h0m-222 1h0m3 0h0m5 0h0m217 0h0m-210 1h0m235 0h0m0 0h0m-255 2h0m237 0h0m-231 1h0m216 0h0m42 0h0m-286 1h0m26 0h0m2 0h0m-31 1h0m21 0h0m272 0h0m-45 1h0m-233 1h0m5 0h0m10 0h0m213 0h0m-219 2h0m225 0h0m-228 1h0m10 0h0m212 0h0m-14 1h0m6 0h0m-218 1h0m12 0h0m216 0h0m-247 2h0m12 0h0m207 1h0m2 1h0m33 0h0m28 0h0m-42 2h0m5 0h0m-222 1h0m198 0h0m12 0h0m-224 1h0m16 0h0m209 0h0m-236 1h0m24 0h0m193 0h0m7 1h0m1 0h0m-246 1h0m14 1h0m211 0h0m-207 1h0m207 0h0m55 0h0m-266 1h0m13 0h0m3 0h0m195 2h0m8 0h0m-244 1h0m41 0h0m-64 1h0m43 0h0m14 0h0m215 2h0m9 0h0m-250 1h0m13 0h0m10 1h0m6 0h0m185 0h0m4 0h0m16 1h0m21 0h0m-35 1h0m57 0h0m-61 1h0m34 1h0m-240 1h0m16 0h0m205 0h0m-237 1h0m231 0h0m-11 1h0m-217 1h0m30 1h0m179 0h0m-182 1h0m244 0h0m-234 1h0m175 0h0m-207 1h0m16 0h0m-40 1h0m21 0h0m9 0h0m183 0h0m20 0h0m17 0h0m-232 1h0m25 0h0m-3 1h0m7 0h0m171 0h0m15 0h0m-235 1h0m178 0h0m58 0h0m-69 1h0m4 0h0m8 0h0m47 0h0m5 0h0m-228 1h0m30 0h0m-22 1h0m23 0h0m145 0h0m-169 2h0m10 1h0m9 1h0m152 0h0m-169 1h0m3 0h0m19 0h0m44 0h0m100 0h0m43 0h0m-266 1h0m136 0h0m89 0h0m-150 1h0m190 0h0m-239 1h0m35 0h0m2 0h0m7 0h0m144 0h0m-205 1h0m30 0h0m6 0h0m33 1h0m54 0h0m-129 2h0m25 0h0m108 0h0m86 0h0m44 0h0m-234 1h0m30 0h0m71 0h0m0 0h0m161 0h0m14 0h0m-285 1h0m26 0h0m12 0h0m148 1h0m8 1h0m0 0h0m-170 1h0m76 0h0m112 0h0m-209 1h0m100 0h0m-95 1h0m11 0h0m83 0h0m8 0h0m111 0h0m-234 1h0m25 0h0m10 0h0m8 0h0m1 0h0m68 0h0m3 0h0m11 0h0m1 0h0m1 0h0m100 0h0m-190 1h0m15 0h0m68 0h0m126 0h0m-265 1h0m27 0h0m103 0h0m0 0h0m5 0h0m-107 1h0m105 0h0m5 0h0m7 0h0m100 0h0m14 0h0m-245 1h0m233 1h0m4 0h0m-246 1h0m223 0h0m3 0h0m3 0h0m16 0h0m-17 1h0m1 0h0m-237 1h0m27 1h0m227 0h0m-239 1h0m232 0h0m25 0h0m-242 1h0m227 0h0m-233 1h0m236 0h0m14 0h0m-266 1h0m7 0h0m6 0h0m4 0h0m211 1h0m-238 1h0m19 1h0m-7 1h0m216 0h0m11 0h0m144 0h0m-378 1h0m222 0h0m-206 2h0m213 0h0m-2 1h0m-228 1h0m218 0h0m-266 1h0m53 1h0m8 0h0m-42 1h0m12 0h0m27 0h0m261 2h0m-268 1h0m230 0h0m-257 1h0m31 0h0m208 0h0m36 1h0m-258 1h0m205 0h0m-208 1h0m221 0h0m49 0h0m-280 1h0m16 0h0m-13 1h0m5 1h0m10 0h0m218 0h0m-245 1h0m5 0h0m9 0h0m11 0h0m4 0h0m-2 1h0m176 0h0m18 0h0m-9 2h0m39 0h0m-249 2h0m216 0h0m4 0h0m-244 1h0m29 0h0m248 0h0m51 0h0m-312 1h0m11 1h0m219 0h0m6 1h0m-244 1h0m17 0h0m2 0h0m214 0h0m-230 2h0m3 0h0m0 0h0m1 0h0m-7 1h0m5 0h0m14 0h0m210 0h0m-212 1h0m-11 1h0m6 0h0m7 1h0m200 0h0m-212 2h0m-20 1h0m229 0h0m-238 1h0m27 0h0m-28 1h0m11 0h0m252 0h0m-278 1h0m21 0h0m14 0h0m212 0h0m3 0h0m-217 1h0m1 0h0m3 0h0m3 0h0m5 0h0m200 0h0m29 0h0m-250 2h0m12 0h0m191 0h0m-197 1h0m139 0h0m103 0h0m-243 1h0m3 0h0m129 0h0m-141 1h0m207 0h0m-206 1h0m136 0h0m70 0h0m22 0h0m-236 1h0m4 0h0m151 0h0m-177 1h0m8 0h0m170 0h0m0 0h0m4 0h0m-182 1h0m166 1h0m11 0h0m-164 1h0m5 0h0m211 0h0m5 0h0m32 0h0m-253 1h0m162 0h0m1 0h0m-177 1h0m178 0h0m-178 1h0m6 0h0m6 1h0m6 0h0m155 0h0m52 0h0m-43 1h0m58 0h0m24 0h0m-80 1h0m70 0h0m19 0h0m-106 1h0m5 0h0m-170 1h0m11 0h0m2 0h0m158 0h0m9 0h0m30 0h0m37 0h0m-243 1h0m1 0h0m4 0h0m2 0h0m159 0h0m4 0h0m39 0h0m1 0h0m-25 1h0m25 0h0m17 0h0m32 0h0m-274 1h0m16 0h0m161 0h0m19 0h0m-182 1h0m162 0h0m79 0h0m-260 2h0m14 0h0m166 0h0m10 0h0m85 0h0m-253 1h0m3 0h0m163 0h0m55 0h0m-234 1h0m10 0h0m177 0h0m108 0h0m-305 1h0m187 1h0m5 0h0m30 0h0m-243 1h0m258 0h0m12 0h0m-28 1h0m56 0h0m-87 1h0m5 0h0m-194 1h0m240 0h0m-236 1h0m-10 1h0m211 0h0m-220 1h0m13 0h0m-13 1h0m21 0h0m194 0h0m-200 1h0m187 0h0m99 1h0m-281 1h0m215 0h0m-227 1h0m264 0h0m6 0h0m-269 1h0m-2 1h0m-19 2h0m19 0h0m255 1h0m7 0h0m-65 1h0m-228 1h0m19 0h0m242 1h0m6 0h0m-253 1h0m243 0h0m-266 1h0m19 1h0m238 0h0m62 0h0m-318 1h0m5 0h0m269 0h0m-247 1h0m215 0h0m-228 1h0m2 0h0m11 0h0m-28 1h0m20 0h0m211 0h0m17 1h0m-254 2h0m218 0h0m-19 1h0m5 0h0m-18 1h0m65 0h0m-238 1h0m10 0h0m5 0h0m157 0h0m82 0h0m-260 1h0m188 0h0m6 0h0m2 0h0m-176 1h0m174 0h0m5 0h0m-10 2h0m9 0h0m-189 1h0m5 0h0m-33 2h0m11 0h0m13 0h0m-4 1h0m179 0h0m-199 1h0m30 0h0m3 0h0m4 0h0m-4 1h0m1 0h0m172 0h0m44 0h0m-43 1h0m17 0h0m-63 1h0m43 0h0m36 0h0m-242 1h0m11 0h0m19 0h0m142 0h0m3 0h0m42 0h0m-11 1h0m-216 1h0m15 0h0m203 2h0m-218 2h0m14 0h0m-2 1h0m153 0h0m9 0h0m33 0h0m36 0h0m38 0h0m-110 1h0m-168 1h0m14 0h0m-15 1h0m6 0h0m152 0h0m8 0h0m41 1h0m39 0h0m-261 1h0m202 0h0m-196 1h0m15 0h0m192 0h0m-192 1h0m164 0h0m-204 1h0m17 0h0m175 0h0m17 0h0m13 0h0m-187 2h0m175 0h0m-189 1h0m21 0h0m156 1h0m11 0h0m38 2h0m-217 1h0m168 0h0m180 0h0m-366 1h0m16 0h0m8 0h0m-28 1h0m5 0h0m180 0h0m-204 1h0m6 0h0m33 0h0m-30 1h0m25 0h0m6 0h0m156 0h0m34 0h0m34 0h0m147 0h0m-187 1h0m-19 1h0m3 0h0m-233 1h0m35 0h0m12 0h0m7 0h0m15 0h0m5 0h0m2 0h0m-37 1h0m19 0h0m7 0h0m6 0h0m172 0h0m-214 1h0m27 0h0m4 0h0m-26 1h0m1 0h0m16 0h0m3 0h0m-13 1h0m1 1h0m-21 1h0m3 0h0m19 0h0m10 0h0m202 0h0m-57 1h0m-161 1h0m194 0h0m-196 1h0m14 0h0m10 0h0m-29 1h0m26 0h0m162 0h0m-207 1h0m2 0h0m5 0h0m204 0h0m-206 2h0m3 1h0m6 0h0m9 0h0m22 0h0m162 1h0m-229 1h0m40 0h0m9 0h0m179 0h0m312 0h0m-329 1h0m-190 1h0m28 0h0m18 0h0m155 0h0m-169 1h0m158 0h0m14 0h0m-205 1h0m4 0h0m4 0h0m1 0h0m22 0h0m158 0h0m23 0h0m13 0h0m-246 1h0m17 0h0m47 0h0m213 0h0m-263 1h0m9 0h0m24 0h0m1 0h0m18 0h0m142 0h0m22 0h0m-198 1h0m11 0h0m20 0h0m156 0h0m-205 1h0m20 0h0m168 0h0m23 0h0m-207 1h0m3 0h0m8 0h0m16 0h0m16 0h0m4 0h0m1 0h0m171 0h0m-248 1h0m32 0h0m168 0h0m9 0h0m-220 1h0m24 0h0m16 1h0m4 0h0m0 0h0m-16 2h0m-7 1h0m6 0h0m8 0h0m197 0h0m-219 1h0m17 0h0m12 0h0m172 0h0m-203 1h0m25 0h0m242 1h0m-244 1h0m-61 1h0m34 0h0m19 1h0m227 1h0m-260 2h0m2 0h0m15 0h0m193 0h0m-210 1h0m38 0h0m169 0h0m0 0h0m-221 1h0m14 0h0m13 0h0m2 0h0m-9 2h0m16 0h0m15 0h0m-45 1h0m-17 1h0m63 0h0m191 0h0m-210 1h0m6 0h0m203 0h0m-231 1h0m4 0h0m2 0h0m19 0h0m0 0h0m7 0h0m147 0h0m51 0h0m22 0h0m-247 1h0m4 0h0m180 0h0m18 0h0m-188 1h0m5 1h0m198 0h0m54 0h0m-276 1h0m0 0h0m36 0h0m178 0h0m-21 1h0m-203 1h0m18 0h0m196 0h0m-234 1h0m14 0h0m20 0h0m194 0h0m-197 1h0m244 0h0m-65 1h0m-183 2h0m168 1h0m-171 1h0m-43 1h0m5 0h0m14 0h0m27 0h0m81 0h0m105 0h0m-92 1h0m-117 1h0m3 0h0m10 0h0m86 0h0m-96 1h0m197 0h0m-182 1h0m95 0h0m-103 1h0m90 0h0m94 1h0m16 0h0m-231 1h0m20 0h0m195 0h0m107 0h0m-327 1h0m11 0h0m20 0h0m107 0h0m-13 1h0m91 0h0m19 0h0m-226 1h0m17 0h0m99 0h0m11 0h0m-140 1h0m141 0h0m3 0h0m74 0h0m-224 1h0m249 0h0m-207 1h0m0 0h0m92 0h0m8 1h0m5 0h0m3 0h0m-141 1h0m22 0h0m8 0h0m2 0h0m93 0h0m-146 1h0m43 0h0m8 0h0m151 0h0m-42 1h0m50 0h0m-162 1h0m4 0h0m109 0h0m71 0h0m-181 1h0m167 0h0m17 0h0m-198 1h0m2 0h0m10 1h0m2 0h0m6 0h0m193 0h0m-271 1h0m46 0h0m19 0h0m1 0h0m11 0h0m-40 1h0m24 0h0m-20 1h0m341 0h0m-353 1h0m-13 1h0m37 0h0m194 0h0m-230 1h0m25 0h0m4 0h0m-4 1h0m7 0h0m4 0h0m-39 1h0m27 0h0m180 0h0m-222 1h0m28 0h0m16 0h0m-11 1h0m8 0h0m14 0h0m-40 1h0m238 0h0m-21 1h0m-212 1h0m8 0h0m1 0h0m2 0h0m192 0h0m0 0h0m-185 1h0m178 0h0m19 0h0m-218 1h0m197 0h0m-5 1h0m-190 2h0m4 0h0m0 0h0m225 0h0m-242 3h0m-25 1h0m41 0h0m-55 1h0m229 0h0m-189 1h0m7 0h0m172 0h0m4 0h0m-13 1h0m-179 1h0m-5 1h0m-7 1h0m1 0h0m12 2h0m3 0h0m215 0h0m-19 1h0m-33 1h0m-187 1h0m3 1h0m29 0h0m-55 1h0m39 0h0m186 0h0m10 0h0m-221 1h0m8 0h0m4 1h0m3 0h0m239 0h0m-221 1h0m-19 2h0m10 0h0m-21 1h0m1 0h0m-8 1h0m3 0h0m28 0h0m-3 1h0m0 0h0m165 0h0m19 0h0m4 0h0m-208 1h0m4 1h0m-2 2h0m-26 1h0m25 0h0m243 0h0m-248 1h0m2 0h0m208 0h0m9 0h0m11 0h0m-241 2h0m15 1h0m146 0h0m11 0h0m-172 1h0m147 0h0m-137 1h0m0 0h0m6 0h0m1 0h0m177 0h0m-201 1h0m1 0h0m10 0h0m3 0h0m-15 1h0m6 1h0m149 0h0m62 0h0m-239 1h0m5 0h0m14 0h0m5 0h0m178 0h0m-197 1h0m12 0h0m185 0h0m-179 2h0m163 0h0m-172 2h0m18 0h0m106 0h0m-125 1h0m122 0h0m2 0h0m91 0h0m-241 1h0m153 0h0m-134 1h0m13 0h0m110 0h0m14 0h0m-157 1h0m151 0h0m8 0h0m94 0h0m-255 1h0m14 0h0m4 0h0m154 0h0m34 0h0m-192 1h0m7 0h0m12 0h0m1 0h0m-11 1h0m214 0h0m-91 1h0m15 0h0m26 0h0m-63 1h0m2 0h0m40 0h0m-168 1h0m7 0h0m152 0h0m-141 1h0m6 0h0m-21 1h0m2 0h0m3 0h0m14 0h0m105 0h0m21 0h0m34 0h0m28 0h0m-220 1h0m28 1h0m411 0h0m-422 1h0m3 0h0m134 0h0m12 0h0m4 0h0m-166 1h0m143 0h0m10 1h0m30 0h0m-173 2h0m9 0h0m122 0h0m36 0h0m-179 1h0m21 0h0m130 0h0m19 0h0m104 0h0m-139 1h0m29 0h0m46 2h0m-62 1h0m14 1h0m-164 1h0m7 0h0m113 0h0m24 0h0m30 0h0m-166 1h0m9 0h0m115 0h0m31 0h0m-146 1h0m137 1h0m-15 1h0m-130 3h0m-5 1h0m2 0h0m-5 1h0m5 1h0m147 1h0m-28 2h0m54 0h0m-174 1h0m-5 2h0m3 1h0m176 0h0m-175 1h0m101 0h0m8 0h0m3 1h0m45 0h0m-158 1h0m4 0h0m-6 1h0m10 1h0m120 0h0m56 0h0m-183 1h0m101 0h0m-7 1h0m17 0h0m-113 2h0m79 0h0m-6 1h0m23 0h0m-90 1h0m72 0h0m9 0h0m55 0h0m14 0h0m-158 1h0m51 1h0m6 0h0m8 0h0m76 0h0m-107 1h0m9 0h0m10 0h0m46 0h0m-92 1h0m3 0h0m70 0h0m3 0h0m6 0h0m-89 1h0m6 0h0m1 0h0m42 0h0m65 0h0m-111 1h0m6 0h0m21 0h0m23 0h0m28 0h0m25 1h0m-98 1h0m23 0h0" fill="none" stroke="#1f77b4" stroke-opacity="0.75" stroke-width="8.8" stroke-linecap="round"/><path transform="scale(0.25)" d="M5849 217h0m-9 7h0m-11 8h0m19 1h0m-5 3h0m-29 18h0m23 6h0m-25 2h0m9 0h0m26 2h0m-13 4h0m-13 2h0m-9 4h0m15 1h0m-9 9h0m22 0h0m4 0h0m-45 1h0m24 0h0m-14 2h0m28 1h0m7 0h0m-32 1h0m1 0h0m10 0h0m6 1h0m17 1h0m-38 1h0m17 0h0m-35 2h0m24 0h0m1 0h0m26 2h0m-14 1h0m16 0h0m-44 1h0m6 0h0m27 5h0m-21 2h0m7 1h0m8 1h0m24 2h0m-49 1h0m-17 1h0m35 0h0m-26 3h0m13 0h0m11 1h0m14 0h0m-14 1h0m6 0h0m-35 2h0m48 2h0m2 1h0m-49 1h0m24 0h0m25 0h0m6 0h0m-5 1h0m-49 2h0m29 0h0m20 2h0m-43 3h0m11 0h0m32 0h0m-24 1h0m14 1h0m17 0h0m-39 3h0m-27 1h0m4 1h0m58 1h0m-39 1h0m33 1h0m3 0h0m-52 1h0m-9 1h0m1 1h0m58 0h0m-38 1h0m11 0h0m28 0h0m-67 1h0m52 0h0m14 0h0m-62 2h0m-1 1h0m21 1h0m35 0h0m-58 3h0m25 1h0m-37 2h0m70 0h0m4 0h0m1 0h0m5 0h0m-72 1h0m12 0h0m34 0h0m27 0h0m-49 1h0m39 0h0m-1 1h0m2 0h0m2 0h0m-44 1h0m3 0h0m11 0h0m42 1h0m-51 3h0m2 0h0m13 0h0m14 0h0m-34 1h0m8 0h0m33 0h0m-59 1h0m33 0h0m-42 1h0m10 0h0m54 0h0m-37 1h0m37 0h0m-50 1h0m23 0h0m7 0h0m-27 1h0m29 0h0m40 0h0m-95 1h0m4 0h0m9 1h0m18 0h0m33 0h0m-54 1h0m0 0h0m12 1h0m25 0h0m19 0h0m-43 1h0m20 0h0m15 1h0m-24 1h0m-11 1h0m5 0h0m63 0h0m-66 2h0m2 1h0m-4 1h0m-27 2h0m10 0h0m31 1h0m-31 1h0m38 0h0m42 1h0m-69 1h0m-8 1h0m5 0h0m41 0h0m-57 3h0m17 0h0m54 0h0m-80 1h0m37 0h0m19 0h0m1 0h0m-29 1h0m60 0h0m-68 2h0m81 0h0m1 0h0m-83 1h0m0 0h0m26 0h0m57 0h0m-80 2h0m13 0h0m-46 1h0m109 0h0m-9 1h0m-87 1h0m16 0h0m1 0h0m29 0h0m2 0h0m-46 1h0m7 0h0m11 0h0m14 0h0m47 0h0m-66 1h0m0 0h0m8 0h0m38 0h0m11 0h0m32 0h0m-95 1h0m11 0h0m20 0h0m11 1h0m33 0h0m-13 1h0m-85 1h0m62 0h0m8 0h0m-15 1h0m36 0h0m15 0h0m-93 1h0m-7 1h0m71 0h0m34 0h0m-111 2h0m25 0h0m34 0h0m-23 1h0m29 0h0m-2 1h0m-46 1h0m8 0h0m5 0h0m55 1h0m-60 1h0m14 0h0m79 0h0m-85 2h0m40 0h0m10 0h0m-13 1h0m-77 1h0m36 0h0m2 0h0m41 0h0m10 1h0m5 0h0m4 0h0m-98 1h0m20 0h0m20 0h0m50 0h0m-57 1h0m1 0h0m-24 1h0m20 0h0m38 0h0m18 0h0m13 0h0m17 0h0m1 0h0m-96 1h0m46 0h0m46 0h0m-96 1h0m25 0h0m2 0h0m10 0h0m37 0h0m-90 1h0m17 0h0m19 0h0m-33 2h0m89 0h0m-68 1h0m27 0h0m51 0h0m-58 1h0m-47 1h0m65 0h0m-79 1h0m66 0h0m39 1h0m-50 1h0m24 0h0m-59 1h0m10 0h0m40 0h0m26 0h0m-36 1h0m-46 1h0m82 0h0m-64 1h0m40 0h0m8 0h0m20 0h0m6 1h0m9 0h0m-70 1h0m3 0h0m30 0h0m-50 1h0m50 0h0m-67 1h0m9 0h0m10 0h0m38 0h0m71 0h0m-113 1h0m44 0h0m70 0h0m-69 1h0m23 0h0m21 0h0m3 1h0m-55 1h0m30 0h0m-40 2h0m-47 1h0m52 0h0m69 0h0m-116 2h0m66 0h0m20 0h0m8 0h0m-99 1h0m40 1h0m10 0h0m9 0h0m58 0h0m-57 1h0m10 0h0m26 0h0m6 1h0m-112 1h0m87 0h0m7 0h0m15 0h0m-108 1h0m134 0h0m-116 2h0m-21 1h0m7 0h0m8 0h0m-16 1h0m3 0h0m7 0h0m0 0h0m73 0h0m3 0h0m37 1h0m-52 1h0m1 2h0m-73 1h0m87 0h0m-75 1h0m4 0h0m5 0h0m107 0h0m-109 1h0m-25 1h0m1 0h0m22 0h0m104 0h0m-133 1h0m17 0h0m37 0h0m0 1h0m-57 1h0m78 0h0m2 0h0m10 0h0m32 0h0m0 0h0m-73 1h0m3 0h0m37 0h0m36 0h0m21 0h0m-116 1h0m18 1h0m11 0h0m54 0h0m-90 1h0m68 0h0m-80 1h0m78 0h0m-38 1h0m24 0h0m-46 1h0m17 0h0m63 0h0m9 0h0m15 0h0m-55 1h0m75 0h0m-128 1h0m78 0h0m-53 1h0m36 0h0m11 0h0m-82 1h0m10 0h0m96 0h0m-105 1h0m24 1h0m45 0h0m24 0h0m-87 2h0m32 0h0m32 0h0m3 0h0m54 0h0m-90 1h0m1 0h0m1 1h0m56 0h0m-4 1h0m3 0h0m-103 1h0m16 0h0m7 0h0m15 0h0m2 0h0m-50 1h0m52 0h0m-29 1h0m64 0h0m8 0h0m-36 1h0m29 0h0m11 0h0m40 0h0m-12 1h0m-94 1h0m11 0h0m66 0h0m-114 2h0m34 0h0m82 0h0m28 0h0m-121 1h0m-44 1h0m27 1h0m26 0h0m71 0h0m17 0h0m-115 1h0m3 0h0m61 0h0m0 0h0m42 0h0m15 0h0m-108 1h0m50 0h0m-32 1h0m82 0h0m-93 1h0m0 0h0m71 0h0m-98 1h0m19 0h0m18 0h0m30 0h0m-93 1h0m31 0h0m22 0h0m4 0h0m77 0h0m-78 1h0m10 0h0m95 0h0m-137 1h0m16 0h0m61 0h0m37 0h0m3 0h0m-105 1h0m-10 2h0m58 0h0m11 1h0m12 0h0m6 0h0m16 0h0m-131 1h0m85 0h0m66 0h0m-122 1h0m113 0h0m-107 1h0m65 0h0m48 0h0m-125 1h0m63 0h0m35 0h0m22 0h0m-38 1h0m41 0h0m-147 1h0m10 0h0m2 0h0m2 0h0m16 0h0m-3 1h0m66 0h0m-98 1h0m20 0h0m5 0h0m131 0h0m-134 1h0m38 0h0m-42 1h0m7 0h0m77 0h0m8 0h0m28 0h0m7 0h0m-126 1h0m1 0h0m66 0h0m28 0h0m-39 2h0m34 0h0m-100 1h0m17 0h0m76 0h0m39 0h0m-139 1h0m18 0h0m17 0h0m34 0h0m38 0h0m33 0h0m-133 1h0m27 0h0m35 0h0m16 0h0m10 0h0m39 0h0m-111 1h0m78 0h0m48 0h0m-144 1h0m11 0h0m121 0h0m-137 1h0m0 0h0m158 0h0m-90 1h0m-70 1h0m19 0h0m73 0h0m13 0h0m7 0h0m40 0h0m-94 1h0m8 0h0m71 0h0m-134 1h0m107 0h0m-115 1h0m10 0h0m82 0h0m50 0h0m23 0h0m-181 1h0m34 0h0m134 0h0m-159 2h0m75 0h0m-70 1h0m96 0h0m8 0h0m39 0h0m6 0h0m21 0h0m-101 1h0m35 0h0m49 0h0m-83 1h0m81 0h0m-140 1h0m1 0h0m64 0h0m3 0h0m-71 1h0m-38 1h0m33 0h0m86 0h0m-97 1h0m132 0h0m-134 2h0m101 0h0m-2 1h0m32 0h0m14 0h0m-161 1h0m101 0h0m3 0h0m47 0h0m19 0h0m-70 1h0m1 0h0m48 0h0m27 1h0m-47 1h0m-26 1h0m46 0h0m10 2h0m-140 1h0m34 0h0m3 0h0m62 0h0m-100 1h0m4 0h0m-36 1h0m39 0h0m19 0h0m15 0h0m52 0h0m59 0h0m-178 1h0m14 0h0m12 0h0m3 0h0m142 0h0m-143 3h0m138 0h0m-138 1h0m33 0h0m7 0h0m75 0h0m9 0h0m3 0h0m-146 1h0m26 0h0m10 0h0m68 0h0m-104 1h0m6 0h0m95 0h0m23 0h0m10 0h0m-138 1h0m33 0h0m2 0h0m19 0h0m60 0h0m32 0h0m-143 1h0m104 0h0m27 0h0m9 1h0m25 0h0m-132 1h0m82 0h0m-128 1h0m18 0h0m0 0h0m2 0h0m2 0h0m7 0h0m43 0h0m105 0h0m30 0h0m-234 1h0m80 0h0m84 0h0m13 0h0m-154 1h0m1 0h0m13 0h0m1 0h0m6 0h0m14 0h0m25 0h0m16 0h0m68 0h0m-140 1h0m143 0h0m-89 1h0m-23 1h0m24 0h0m8 0h0m80 0h0m25 0h0m3 0h0m-199 1h0m55 0h0m4 0h0m17 0h0m2 0h0m6 0h0m2 0h0m79 0h0m-125 1h0m1 0h0m164 0h0m-199 1h0m7 0h0m6 0h0m54 0h0m123 0h0m-124 1h0m135 0h0m-172 1h0m152 0h0m-146 1h0m127 0h0m2 0h0m16 0h0m14 0h0m-159 2h0m132 0h0m3 0h0m-138 1h0m-51 1h0m19 0h0m22 0h0m11 0h0m1 0h0m121 0h0m-158 1h0m29 0h0m139 0h0m3 0h0m2 0h0m-175 1h0m29 1h0m132 0h0m13 0h0m-162 1h0m29 0h0m146 0h0m-204 1h0m21 0h0m2 0h0m20 0h0m16 0h0m142 1h0m-163 1h0m3 0h0m16 1h0m233 0h0m-266 1h0m27 0h0m7 0h0m1 0h0m-75 1h0m191 0h0m-169 1h0m22 0h0m158 0h0m-169 1h0m31 0h0m74 0h0m-113 1h0m26 0h0m139 1h0m-167 1h0m127 0h0m77 0h0m-20 2h0m-147 1h0m148 0h0m1 0h0m-167 1h0m123 0h0m-134 1h0m117 0h0m20 0h0m-16 1h0m18 0h0m20 0h0m14 0h0m-197 1h0m38 0h0m1 0h0m94 0h0m10 0h0m-134 1h0m30 0h0m4 0h0m1 0h0m-39 1h0m7 0h0m17 0h0m5 0h0m136 0h0m2 0h0m-149 1h0m12 0h0m20 0h0m31 0h0m34 0h0m19 0h0m-115 1h0m11 0h0m16 0h0m42 0h0m17 0h0m15 0h0m8 0h0m-121 1h0m23 0h0m15 0h0m3 0h0m-45 1h0m16 0h0m8 0h0m14 0h0m3 0h0m3 0h0m33 0h0m26 0h0m-97 1h0m2 0h0m8 0h0m9 0h0m6 0h0m145 0h0m-159 1h0m3 0h0m46 0h0m47 0h0m54 0h0m3 0h0m14 0h0m14 0h0m-225 1h0m8 0h0m6 0h0m19 0h0m4 0h0m26 0h0m43 0h0m37 0h0m-102 1h0m154 0h0m-190 1h0m18 0h0m24 0h0m55 0h0m9 0h0m63 0h0m64 0h0m-210 1h0m15 0h0m89 0h0m62 0h0m11 0h0m-99 1h0m-120 1h0m107 0h0m2 0h0m48 0h0m41 0h0m8 1h0m45 0h0m-144 1h0m83 0h0m20 0h0m29 0h0m-200 1h0m2 0h0m6 0h0m152 0h0m15 0h0m-256 1h0m58 0h0m25 0h0m146 0h0m19 0h0m4 0h0m10 0h0m-191 1h0m79 0h0m17 0h0m-104 1h0m27 0h0m68 0h0m5 0h0m26 1h0m1 0h0m63 0h0m5 0h0m-222 1h0m25 0h0m2 0h0m157 0h0m5 0h0m10 0h0m-136 1h0m117 0h0m10 0h0m57 0h0m-234 2h0m167 0h0m11 0h0m26 0h0m-186 1h0m16 0h0m10 0h0m-58 1h0m193 0h0m21 0h0m-191 1h0m45 0h0m0 0h0m141 0h0m2 0h0m-175 1h0m156 0h0m-161 1h0m-19 1h0m23 0h0m22 0h0m5 0h0m-57 1h0m24 0h0m7 0h0m9 0h0m-34 1h0m4 0h0m2 0h0m12 0h0m8 0h0m151 0h0m-169 1h0m12 0h0m35 0h0m117 0h0m16 0h0m-33 1h0m2 0h0m8 0h0m10 0h0m4 0h0m-127 1h0m102 0h0m-155 1h0m6 0h0m35 0h0m104 0h0m18 0h0m25 0h0m-184 1h0m189 0h0m-147 1h0m9 0h0m-40 1h0m171 0h0m-201 1h0m6 0h0m174 0h0m-249 1h0m73 0h0m175 0h0m2 0h0m-165 1h0m161 0h0m50 0h0m-217 1h0m3 0h0m156 0h0m-155 1h0m6 0h0m39 0h0m151 1h0m-205 1h0m8 0h0m151 0h0m4 1h0m-5 1h0m13 0h0m-171 1h0m-198 1h0m348 0h0m-131 1h0m182 0h0m4 0h0m-207 1h0m8 0h0m152 0h0m28 1h0m-191 1h0m14 0h0m145 0h0m-149 1h0m159 0h0m0 0h0m34 0h0m15 0h0m-275 1h0m56 0h0m193 1h0m24 1h0m-205 1h0m-57 2h0m54 0h0m-9 1h0m6 0h0m-12 2h0m15 0h0m186 0h0m-209 1h0m14 0h0m194 1h0m-9 1h0m18 0h0m-241 1h0m6 1h0m216 1h0m-219 1h0m28 0h0m15 0h0m192 0h0m-17 1h0m1 0h0m-215 1h0m19 1h0m10 0h0m179 0h0m-214 1h0m28 0h0m9 0h0m188 0h0m-200 1h0m189 1h0m-209 1h0m200 0h0m19 5h0m-247 1h0m3 3h0m29 0h0m14 0h0m183 0h0m17 0h0m-235 2h0m4 0h0m21 0h0m-19 1h0m16 0h0m1 0h0m200 0h0m-225 1h0m3 0h0m9 0h0m11 0h0m-17 1h0m221 0h0m-245 1h0m32 0h0m2 0h0m-20 1h0m222 0h0m-226 1h0m242 0h0m-219 1h0m5 0h0m233 0h0m-234 1h0m1 0h0m181 0h0m20 0h0m-237 1h0m16 0h0m12 1h0m12 1h0m180 0h0m-212 2h0m23 0h0m-41 1h0m9 0h0m13 0h0m4 1h0m5 0h0m11 0h0m-43 1h0m18 1h0m25 1h0m0 0h0m-21 1h0m1 0h0m3 0h0m0 0h0m11 0h0m-46 1h0m12 0h0m20 0h0m19 0h0m190 0h0m-216 1h0m9 0h0m197 0h0m-199 1h0m236 0h0m-235 1h0m205 0h0m4 0h0m40 0h0m-269 1h0m228 3h0m-33 1h0m13 0h0m-217 1h0m228 0h0m16 1h0m-245 1h0m-7 1h0m13 0h0m4 0h0m3 1h0m-22 2h0m223 0h0m5 0h0m-260 1h0m38 0h0m4 0h0m-17 2h0m272 1h0m-289 1h0m8 0h0m8 0h0m2 0h0m2 0h0m5 0h0m204 0h0m37 0h0m-248 1h0m204 0h0m-192 1h0m192 0h0m34 0h0m-244 1h0m4 0h0m242 0h0m-26 1h0m41 0h0m-252 1h0m0 0h0m221 0h0m-227 1h0m3 0h0m216 1h0m-5 1h0m5 1h0m9 0h0m-262 1h0m260 0h0m-249 1h0m12 0h0m5 1h0m186 0h0m43 0h0m-240 1h0m228 0h0m-33 1h0m25 0h0m-200 1h0m167 0h0m2 0h0m-201 1h0m199 0h0m14 2h0m22 0h0m20 0h0m67 0h0m-325 1h0m35 0h0m-48 1h0m27 0h0m-24 1h0m13 0h0m26 0h0m189 1h0m-234 1h0m35 0h0m9 0h0m165 0h0m7 0h0m7 0h0m14 0h0m-230 2h0m13 0h0m202 0h0m4 0h0m-221 1h0m205 0h0m-215 1h0m28 0h0m187 0h0m14 0h0m17 0h0m8 1h0m-243 2h0m22 0h0m22 0h0m167 0h0m45 0h0m-228 1h0m124 1h0m-186 1h0m11 0h0m11 0h0m175 0h0m46 0h0m-226 1h0m2 0h0m17 0h0m205 0h0m6 0h0m-232 1h0m24 0h0m10 0h0m153 0h0m38 0h0m6 0h0m18 0h0m-68 1h0m-149 1h0m157 0h0m49 0h0m3 0h0m-239 1h0m7 0h0m20 0h0m143 0h0m57 0h0m-239 1h0m11 0h0m6 0h0m87 0h0m87 0h0m-85 1h0m132 0h0m-221 1h0m11 0h0m153 0h0m2 0h0m1 0h0m-155 1h0m158 0h0m3 0h0m-190 1h0m-9 1h0m22 0h0m0 0h0m25 0h0m5 0h0m49 0h0m11 0h0m-107 1h0m24 0h0m9 0h0m166 0h0m41 0h0m-216 1h0m3 0h0m87 0h0m132 0h0m-244 1h0m109 0h0m-120 1h0m27 0h0m98 0h0m73 0h0m50 0h0m-212 1h0m-10 1h0m168 0h0m3 0h0m12 0h0m-165 1h0m208 0h0m-146 1h0m6 0h0m109 0h0m-173 1h0m164 0h0m-181 1h0m5 0h0m11 0h0m2 0h0m58 0h0m7 0h0m117 0h0m0 0h0m46 0h0m-288 1h0m6 0h0m3 0h0m117 0h0m104 0h0m43 0h0m-259 1h0m219 0h0m26 0h0m-236 1h0m96 0h0m3 1h0m10 0h0m-113 1h0m102 0h0m92 0h0m-235 2h0m257 0h0m3 0h0m-237 1h0m19 0h0m206 0h0m-230 1h0m11 0h0m3 0h0m226 0h0m13 0h0m-32 1h0m6 0h0m-222 1h0m8 0h0m200 0h0m2 0h0m31 0h0m0 0h0m-251 2h0m251 0h0m-246 2h0m11 0h0m212 1h0m9 0h0m-238 1h0m225 0h0m-236 1h0m12 0h0m225 0h0m3 0h0m-238 1h0m9 0h0m8 0h0m230 0h0m-233 1h0m-15 1h0m231 0h0m2 0h0m-221 1h0m6 2h0m278 0h0m-285 1h0m254 0h0m-22 1h0m-230 1h0m1 0h0m-8 1h0m249 0h0m-279 1h0m21 0h0m9 2h0m-25 1h0m7 0h0m219 0h0m3 0h0m39 0h0m22 1h0m-295 1h0m6 0h0m251 0h0m16 0h0m-263 1h0m21 0h0m227 0h0m-250 1h0m23 0h0m207 0h0m15 0h0m-245 1h0m235 0h0m-35 2h0m-3 1h0m15 0h0m7 0h0m-251 2h0m22 0h0m220 0h0m1 0h0m61 0h0m-290 1h0m228 0h0m-211 2h0m217 0h0m2 0h0m-234 1h0m5 0h0m229 0h0m-234 1h0m3 0h0m5 1h0m249 0h0m-271 1h0m15 0h0m214 0h0m-207 1h0m3 0h0m5 0h0m192 1h0m17 0h0m-16 1h0m-213 1h0m10 0h0m335 2h0m-346 1h0m242 0h0m-242 1h0m197 0h0m4 0h0m13 0h0m16 0h0m-21 1h0m40 0h0m-284 1h0m6 0h0m1 0h0m32 0h0m-87 1h0m55 0h0m8 0h0m25 0h0m4 0h0m-20 1h0m138 0h0m-4 1h0m189 0h0m-81 1h0m6 0h0m-240 1h0m140 0h0m101 0h0m-262 1h0m5 0h0m17 0h0m5 0h0m-64 1h0m30 0h0m160 0h0m-143 1h0m131 0h0m99 0h0m-21 1h0m-63 1h0m69 0h0m6 0h0m-240 1h0m161 0h0m92 0h0m8 0h0m-262 1h0m0 0h0m248 0h0m-33 1h0m-215 1h0m165 0h0m63 0h0m-231 1h0m2 0h0m2 0h0m152 0h0m1 0h0m0 0h0m16 0h0m0 0h0m51 0h0m38 1h0m-258 1h0m166 0h0m78 0h0m-254 1h0m-2 1h0m180 0h0m-187 1h0m8 0h0m163 0h0m58 0h0m2 0h0m-218 1h0m248 0h0m-91 1h0m0 0h0m23 0h0m-180 1h0m253 0h0m-29 1h0m-242 1h0m239 0h0m18 0h0m-40 1h0m18 0h0m2 0h0m-247 1h0m197 1h0m6 0h0m-6 1h0m13 0h0m76 0h0m-278 1h0m13 0h0m178 0h0m8 0h0m-193 1h0m-10 1h0m2 0h0m5 0h0m196 0h0m39 0h0m-251 1h0m-31 1h0m24 1h0m6 0h0m3 0h0m1 0h0m11 0h0m185 0h0m9 0h0m1 0h0m-190 1h0m225 0h0m-233 1h0m198 0h0m68 0h0m-264 1h0m-25 3h0m3 0h0m15 0h0m7 0h0m231 0h0m-259 1h0m14 0h0m6 0h0m224 0h0m-228 1h0m2 0h0m-29 1h0m33 0h0m-27 2h0m15 1h0m0 0h0m214 0h0m10 0h0m-241 1h0m7 0h0m6 0h0m216 0h0m5 0h0m-233 2h0m9 0h0m12 0h0m185 0h0m9 0h0m34 0h0m-15 1h0m-237 1h0m13 0h0m4 1h0m2 0h0m1 0h0m195 0h0m-14 1h0m-205 1h0m7 0h0m204 0h0m31 0h0m-241 1h0m15 0h0m218 0h0m-239 1h0m8 1h0m7 0h0m11 0h0m199 0h0m-50 1h0m17 0h0m0 1h0m11 0h0m6 0h0m3 0h0m27 0h0m-227 3h0m266 0h0m-271 1h0m0 0h0m180 0h0m4 0h0m45 0h0m-23 1h0m-227 1h0m8 0h0m5 0h0m8 0h0m200 0h0m20 0h0m3 0h0m-237 1h0m1 0h0m1 0h0m20 0h0m183 1h0m2 0h0m-216 1h0m26 0h0m185 0h0m-192 1h0m14 0h0m177 0h0m-16 1h0m12 0h0m5 2h0m6 0h0m-197 1h0m148 0h0m27 0h0m7 0h0m17 0h0m-209 1h0m3 0h0m-6 1h0m12 0h0m141 0h0m13 0h0m0 0h0m32 0h0m-11 1h0m-205 1h0m12 0h0m7 0h0m202 0h0m40 0h0m31 0h0m-290 1h0m1 0h0m2 0h0m199 0h0m52 1h0m-75 1h0m22 0h0m-230 1h0m28 1h0m212 0h0m-228 1h0m181 0h0m-187 1h0m196 0h0m9 0h0m44 0h0m-223 1h0m258 0h0m17 0h0m-275 2h0m169 0h0m1 0h0m-178 1h0m5 0h0m173 0h0m7 0h0m-186 1h0m4 0h0m1 0h0m152 1h0m25 0h0m17 0h0m2 0h0m12 0h0m142 0h0m-350 1h0m186 0h0m118 1h0m-128 1h0m18 0h0m-215 2h0m203 0h0m-225 1h0m199 0h0m-191 1h0m187 0h0m-256 1h0m95 1h0m157 0h0m36 0h0m-198 1h0m1 0h0m-1 1h0m7 0h0m-1 1h0m153 0h0m1 0h0m14 0h0m-193 1h0m9 0h0m1 0h0m13 1h0m205 0h0m-245 1h0m2 0h0m193 0h0m43 0h0m24 1h0m-240 1h0m-8 1h0m-18 1h0m23 0h0m-19 1h0m8 0h0m3 0h0m6 0h0m162 0h0m3 0h0m-167 1h0m192 0h0m-34 1h0m-159 1h0m-9 1h0m1 2h0m1 0h0m5 0h0m180 0h0m-205 1h0m40 0h0m3 0h0m186 0h0m2 0h0m17 1h0m-242 2h0m16 0h0m4 0h0m8 0h0m186 0h0m9 0h0m253 0h0m-531 1h0m71 0h0m15 0h0m-31 1h0m16 0h0m1 0h0m6 0h0m3 1h0m155 0h0m-198 1h0m27 0h0m172 0h0m-193 1h0m16 0h0m24 0h0m2 0h0m4 0h0m-43 1h0m4 0h0m0 0h0m7 0h0m11 0h0m22 0h0m0 0h0m131 0h0m-191 1h0m15 0h0m9 0h0m294 0h0m-295 1h0m9 0h0m150 0h0m-186 1h0m1 0h0m13 1h0m184 0h0m40 0h0m-239 2h0m203 0h0m-186 1h0m4 0h0m-54 2h0m14 0h0m18 0h0m210 1h0m73 0h0m-293 1h0m29 0h0m1 0h0m170 0h0m-188 1h0m-43 1h0m8 1h0m36 1h0m179 0h0m32 1h0m-262 1h0m37 0h0m19 0h0m-40 2h0m222 0h0m1 0h0m-5 3h0m-241 1h0m20 0h0m7 0h0m230 0h0m-232 1h0m24 0h0m5 0h0m178 0h0m-201 1h0m14 0h0m-82 1h0m53 0h0m30 0h0m18 0h0m159 0h0m-171 1h0m2 0h0m140 0h0m-166 1h0m-23 1h0m7 0h0m42 0h0m132 0h0m4 0h0m11 0h0m-155 1h0m175 0h0m3 0h0m-227 1h0m24 0h0m1 0h0m35 0h0m173 0h0m-47 1h0m1 0h0m3 1h0m-164 1h0m176 0h0m-184 1h0m199 0h0m-197 1h0m7 0h0m-29 1h0m3 0h0m-8 1h0m20 0h0m13 0h0m-23 1h0m109 0h0m89 0h0m2 0h0m15 0h0m-120 1h0m8 0h0m4 0h0m76 0h0m-174 1h0m192 0h0m-105 1h0m1 0h0m8 0h0m-108 1h0m9 0h0m104 0h0m-124 1h0m14 0h0m3 0h0m-2 1h0m108 0h0m75 0h0m2 0h0m-178 1h0m-9 1h0m2 0h0m105 0h0m77 0h0m-3 1h0m-177 1h0m97 0h0m9 0h0m73 0h0m-197 1h0m126 0h0m-150 1h0m9 0h0m128 0h0m15 0h0m-110 2h0m102 0h0m9 0h0m-169 1h0m17 0h0m217 0h0m-196 1h0m6 0h0m1 0h0m6 0h0m1 0h0m230 0h0m-305 1h0m50 0h0m3 0h0m122 0h0m4 0h0m71 2h0m24 0h0m-219 1h0m122 0h0m3 0h0m-150 1h0m35 0h0m-48 1h0m22 0h0m16 0h0m23 0h0m204 0h0m-225 1h0m13 0h0m8 0h0m3 1h0m1 0h0m158 0h0m22 0h0m-263 1h0m22 0h0m6 0h0m7 1h0m248 0h0m13 0h0m-251 1h0m203 0h0m-220 2h0m8 0h0m194 0h0m-5 1h0m5 0h0m10 0h0m-199 1h0m4 0h0m14 0h0m167 0h0m-206 1h0m9 1h0m6 0h0m3 0h0m190 0h0m31 0h0m-30 1h0m1 0h0m4 0h0m-213 1h0m0 1h0m197 1h0m22 0h0m9 0h0m-251 1h0m0 1h0m12 0h0m210 0h0m-195 1h0m-18 1h0m9 0h0m-39 1h0m39 0h0m3 0h0m220 0h0m-260 2h0m31 0h0m5 0h0m205 0h0m12 0h0m-211 1h0m161 0h0m5 0h0m5 0h0m10 1h0m-189 1h0m6 0h0m6 0h0m153 0h0m-210 1h0m211 0h0m23 1h0m23 0h0m-234 3h0m178 0h0m-185 1h0m20 0h0m6 0h0m197 0h0m-197 1h0m167 0h0m-202 1h0m33 0h0m329 0h0m-358 1h0m15 0h0m7 0h0m16 0h0m-62 1h0m39 1h0m13 0h0m1 0h0m170 0h0m139 0h0m-331 1h0m18 0h0m1 0h0m4 0h0m162 0h0m5 0h0m-174 1h0m158 0h0m-205 1h0m38 0h0m173 0h0m-185 1h0m179 0h0m-174 1h0m185 0h0m9 0h0m-183 1h0m163 0h0m-184 1h0m2 0h0m-17 1h0m198 0h0m13 0h0m-203 1h0m160 1h0m40 0h0m24 0h0m-262 1h0m41 0h0m169 0h0m-169 1h0m8 0h0m152 0h0m23 0h0m25 1h0m-203 1h0m152 0h0m17 0h0m3 0h0m-201 2h0m12 0h0m11 0h0m3 0h0m137 0h0m1 0h0m45 1h0m1 0h0m-208 1h0m11 0h0m0 0h0m193 0h0m-187 1h0m187 0h0m38 0h0m-237 1h0m2 0h0m5 0h0m157 0h0m-9 1h0m13 0h0m2 0h0m4 0h0m-181 1h0m5 0h0m9 0h0m-23 1h0m22 0h0m-40 1h0m22 0h0m0 0h0m13 0h0m4 0h0m217 0h0m-221 1h0m-24 1h0m21 0h0m159 0h0m-51 1h0m56 0h0m1 0h0m-161 1h0m158 1h0m5 0h0m-58 1h0m11 0h0m12 0h0m-135 1h0m142 0h0m120 0h0m-271 1h0m12 0h0m134 0h0m-135 1h0m109 0h0m0 0h0m16 0h0m-17 1h0m47 0h0m29 0h0m-213 1h0m4 0h0m133 0h0m3 0h0m34 0h0m-163 1h0m114 0h0m43 0h0m-146 1h0m125 1h0m8 0h0m-24 2h0m-147 1h0m147 0h0m25 0h0m7 0h0m-154 1h0m115 0h0m8 1h0m-129 1h0m175 0h0m-184 2h0m133 1h0m-138 1h0m1 0h0m150 0h0m7 1h0m-148 1h0m123 0h0m-12 1h0m-121 4h0m113 1h0m10 0h0m16 0h0m-15 1h0m29 0h0m-158 1h0m5 1h0m138 1h0m-25 2h0m5 0h0m-117 1h0m3 0h0m134 0h0m8 0h0m38 0h0m-184 2h0m3 1h0m129 0h0m-138 1h0m114 0h0m-114 1h0m7 1h0m88 1h0m21 0h0m34 0h0m-151 1h0m10 0h0m157 1h0m-163 1h0m118 1h0m42 1h0m-161 2h0m89 0h0m-89 1h0m3 0h0m-6 1h0m10 0h0m68 2h0m-48 1h0m15 0h0m10 0h0m47 0h0m-91 1h0m21 0h0m3 0h0m11 0h0m21 0h0m-36 1h0m3 0h0m13 0h0m20 0h0m94 0h0m-34 1h0m-86 1h0m10 0h0m13 0h0m7 0h0m-61 1h0m31 0h0m1 0h0m-34 1h0m0 0h0m49 0h0m7 0h0m-36 1h0m24 0h0" fill="none" stroke="#1f77b4" stroke-opacity="0.75" stroke-width="8.8" stroke-linecap="round"/>
<line x1="1200.9" y1="289.75" x2="1462" y2="28.95" stroke="#000" stroke-width="2.2" stroke-dasharray="8.2 3.6"/>
</g>
<rect x="1200.9" y="28.95" width="261.1" height="260.8" fill="none" stroke="#000" stroke-width="1.9"/>
<rect x="1208" y="35.3" width="102.7" height="47.7" rx="3" fill="#fff" fill-opacity="0.8" stroke="#d0d0d0" stroke-width="1.2"/>
<path d="M1222 48.8H1233.8M1227.9 42.9V54.7" stroke="#1f77b4" stroke-opacity="0.55" stroke-width="1.9"/>
<line x1="1213.8" y1="68.7" x2="1242.2" y2="68.7" stroke="#000" stroke-width="2.2" stroke-dasharray="8.2 3.6"/>
<g font-family="'DejaVu Sans', sans-serif" fill="#262626" font-size="13.7"><text x="1252.7" y="53.3">R=0.95</text><text x="1252.7" y="73.6">y=x</text></g>
<g font-family="'DejaVu Sans', sans-serif" fill="#262626" font-size="16"><text x="1200.9" y="316.5" text-anchor="middle">0.5</text><text x="1253.12" y="316.5" text-anchor="middle">0.6</text><text x="1305.34" y="316.5" text-anchor="middle">0.7</text><text x="1357.56" y="316.5" text-anchor="middle">0.8</text><text x="1409.78" y="316.5" text-anchor="middle">0.9</text><text x="1462" y="316.5" text-anchor="middle">1.0</text><text x="1187.9" y="296.25" text-anchor="end">0.5</text><text x="1187.9" y="244.09" text-anchor="end">0.6</text><text x="1187.9" y="191.93" text-anchor="end">0.7</text><text x="1187.9" y="139.77" text-anchor="end">0.8</text><text x="1187.9" y="87.61" text-anchor="end">0.9</text><text x="1187.9" y="35.45" text-anchor="end">1.0</text></g>
<text x="1331.45" y="339" text-anchor="middle" font-family="'DejaVu Sans', sans-serif" fill="#262626" font-size="17.8">Teacher MI Accuracy</text>
<text x="1205.2" y="409.8" letter-spacing="-0.52" font-family="'DejaVu Serif', serif" fill="#000" font-size="27">(d) Purchase-100</text>
</svg>
</body></html>
